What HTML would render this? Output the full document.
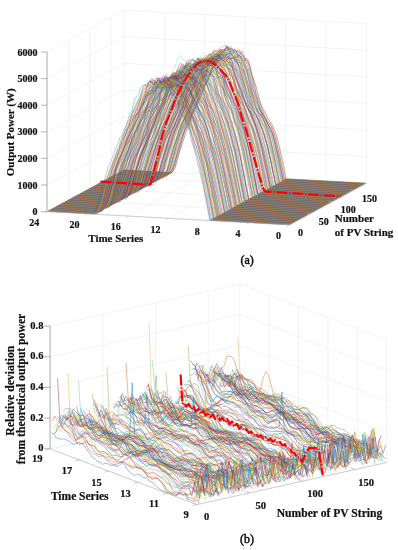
<!DOCTYPE html>
<html><head><meta charset="utf-8"><style>
html,body{margin:0;padding:0;background:#fff;width:398px;height:550px;overflow:hidden}
svg{display:block}
</style></head><body><svg width="398" height="550" viewBox="0 0 398 550"><g fill="none"><line x1="47.0" y1="211.6" x2="124.0" y2="169.8" stroke="#e6e6e6" stroke-width="0.5"/><line x1="124.0" y1="169.8" x2="366.4" y2="183.1" stroke="#e6e6e6" stroke-width="0.5"/><line x1="47.0" y1="185.0" x2="124.0" y2="143.2" stroke="#e6e6e6" stroke-width="0.5"/><line x1="124.0" y1="143.2" x2="366.4" y2="156.5" stroke="#e6e6e6" stroke-width="0.5"/><line x1="47.0" y1="158.4" x2="124.0" y2="116.6" stroke="#e6e6e6" stroke-width="0.5"/><line x1="124.0" y1="116.6" x2="366.4" y2="129.9" stroke="#e6e6e6" stroke-width="0.5"/><line x1="47.0" y1="131.8" x2="124.0" y2="90.0" stroke="#e6e6e6" stroke-width="0.5"/><line x1="124.0" y1="90.0" x2="366.4" y2="103.3" stroke="#e6e6e6" stroke-width="0.5"/><line x1="47.0" y1="105.2" x2="124.0" y2="63.4" stroke="#e6e6e6" stroke-width="0.5"/><line x1="124.0" y1="63.4" x2="366.4" y2="76.7" stroke="#e6e6e6" stroke-width="0.5"/><line x1="47.0" y1="78.6" x2="124.0" y2="36.8" stroke="#e6e6e6" stroke-width="0.5"/><line x1="124.0" y1="36.8" x2="366.4" y2="50.1" stroke="#e6e6e6" stroke-width="0.5"/><line x1="47.0" y1="52.0" x2="124.0" y2="10.2" stroke="#e6e6e6" stroke-width="0.5"/><line x1="124.0" y1="10.2" x2="366.4" y2="23.5" stroke="#e6e6e6" stroke-width="0.5"/><line x1="47.0" y1="211.6" x2="47.0" y2="52.0" stroke="#e6e6e6" stroke-width="0.5"/><line x1="47.0" y1="211.6" x2="289.4" y2="224.9" stroke="#e6e6e6" stroke-width="0.5"/><line x1="68.4" y1="200.0" x2="68.4" y2="40.4" stroke="#e6e6e6" stroke-width="0.5"/><line x1="68.4" y1="200.0" x2="310.8" y2="213.3" stroke="#e6e6e6" stroke-width="0.5"/><line x1="89.8" y1="188.4" x2="89.8" y2="28.8" stroke="#e6e6e6" stroke-width="0.5"/><line x1="89.8" y1="188.4" x2="332.2" y2="201.7" stroke="#e6e6e6" stroke-width="0.5"/><line x1="111.2" y1="176.8" x2="111.2" y2="17.2" stroke="#e6e6e6" stroke-width="0.5"/><line x1="111.2" y1="176.8" x2="353.6" y2="190.1" stroke="#e6e6e6" stroke-width="0.5"/><line x1="366.4" y1="183.1" x2="366.4" y2="23.5" stroke="#e6e6e6" stroke-width="0.5"/><line x1="289.4" y1="224.9" x2="366.4" y2="183.1" stroke="#e6e6e6" stroke-width="0.5"/><line x1="326.0" y1="180.9" x2="326.0" y2="21.3" stroke="#e6e6e6" stroke-width="0.5"/><line x1="249.0" y1="222.7" x2="326.0" y2="180.9" stroke="#e6e6e6" stroke-width="0.5"/><line x1="285.6" y1="178.7" x2="285.6" y2="19.1" stroke="#e6e6e6" stroke-width="0.5"/><line x1="208.6" y1="220.5" x2="285.6" y2="178.7" stroke="#e6e6e6" stroke-width="0.5"/><line x1="245.2" y1="176.5" x2="245.2" y2="16.9" stroke="#e6e6e6" stroke-width="0.5"/><line x1="168.2" y1="218.2" x2="245.2" y2="176.5" stroke="#e6e6e6" stroke-width="0.5"/><line x1="204.8" y1="174.3" x2="204.8" y2="14.7" stroke="#e6e6e6" stroke-width="0.5"/><line x1="127.8" y1="216.0" x2="204.8" y2="174.3" stroke="#e6e6e6" stroke-width="0.5"/><line x1="164.4" y1="172.1" x2="164.4" y2="12.5" stroke="#e6e6e6" stroke-width="0.5"/><line x1="87.4" y1="213.8" x2="164.4" y2="172.1" stroke="#e6e6e6" stroke-width="0.5"/><line x1="124.0" y1="169.8" x2="124.0" y2="10.2" stroke="#e6e6e6" stroke-width="0.5"/><line x1="47.0" y1="211.6" x2="124.0" y2="169.8" stroke="#e6e6e6" stroke-width="0.5"/><line x1="50.1" y1="448.8" x2="239.8" y2="406.7" stroke="#e6e6e6" stroke-width="0.5"/><line x1="239.8" y1="406.7" x2="386.6" y2="462.5" stroke="#e6e6e6" stroke-width="0.5"/><line x1="50.1" y1="418.1" x2="239.8" y2="376.0" stroke="#e6e6e6" stroke-width="0.5"/><line x1="239.8" y1="376.0" x2="386.6" y2="431.8" stroke="#e6e6e6" stroke-width="0.5"/><line x1="50.1" y1="387.4" x2="239.8" y2="345.3" stroke="#e6e6e6" stroke-width="0.5"/><line x1="239.8" y1="345.3" x2="386.6" y2="401.1" stroke="#e6e6e6" stroke-width="0.5"/><line x1="50.1" y1="356.8" x2="239.8" y2="314.6" stroke="#e6e6e6" stroke-width="0.5"/><line x1="239.8" y1="314.6" x2="386.6" y2="370.4" stroke="#e6e6e6" stroke-width="0.5"/><line x1="50.1" y1="326.1" x2="239.8" y2="284.0" stroke="#e6e6e6" stroke-width="0.5"/><line x1="239.8" y1="284.0" x2="386.6" y2="339.8" stroke="#e6e6e6" stroke-width="0.5"/><line x1="50.1" y1="448.8" x2="50.1" y2="326.1" stroke="#e6e6e6" stroke-width="0.5"/><line x1="50.1" y1="448.8" x2="196.9" y2="504.6" stroke="#e6e6e6" stroke-width="0.5"/><line x1="102.8" y1="437.1" x2="102.8" y2="314.4" stroke="#e6e6e6" stroke-width="0.5"/><line x1="102.8" y1="437.1" x2="249.6" y2="492.9" stroke="#e6e6e6" stroke-width="0.5"/><line x1="155.5" y1="425.4" x2="155.5" y2="302.7" stroke="#e6e6e6" stroke-width="0.5"/><line x1="155.5" y1="425.4" x2="302.3" y2="481.2" stroke="#e6e6e6" stroke-width="0.5"/><line x1="208.2" y1="413.7" x2="208.2" y2="291.0" stroke="#e6e6e6" stroke-width="0.5"/><line x1="208.2" y1="413.7" x2="355.0" y2="469.5" stroke="#e6e6e6" stroke-width="0.5"/><line x1="386.6" y1="462.5" x2="386.6" y2="339.8" stroke="#e6e6e6" stroke-width="0.5"/><line x1="196.9" y1="504.6" x2="386.6" y2="462.5" stroke="#e6e6e6" stroke-width="0.5"/><line x1="357.3" y1="451.3" x2="357.3" y2="328.6" stroke="#e6e6e6" stroke-width="0.5"/><line x1="167.5" y1="493.4" x2="357.3" y2="451.3" stroke="#e6e6e6" stroke-width="0.5"/><line x1="327.9" y1="440.2" x2="327.9" y2="317.4" stroke="#e6e6e6" stroke-width="0.5"/><line x1="138.2" y1="482.3" x2="327.9" y2="440.2" stroke="#e6e6e6" stroke-width="0.5"/><line x1="298.5" y1="429.0" x2="298.5" y2="306.3" stroke="#e6e6e6" stroke-width="0.5"/><line x1="108.8" y1="471.1" x2="298.5" y2="429.0" stroke="#e6e6e6" stroke-width="0.5"/><line x1="269.2" y1="417.8" x2="269.2" y2="295.1" stroke="#e6e6e6" stroke-width="0.5"/><line x1="79.5" y1="460.0" x2="269.2" y2="417.8" stroke="#e6e6e6" stroke-width="0.5"/><line x1="239.8" y1="406.7" x2="239.8" y2="284.0" stroke="#e6e6e6" stroke-width="0.5"/><line x1="50.1" y1="448.8" x2="239.8" y2="406.7" stroke="#e6e6e6" stroke-width="0.5"/></g><polygon points="47.0,211.6 95.0,214.2 172.0,172.5 124.0,169.8" fill="#8a7866"/><polygon points="209.6,220.5 289.4,224.9 366.4,183.1 286.6,178.8" fill="#8a7866"/><g fill="none" stroke-width="0.4" stroke-opacity="0.85" stroke-linejoin="round"><polyline points="124.0,169.8 171.8,172.5 173.5,170.3 175.2,167.2 176.9,162.1 178.6,155.7 180.3,150.0 181.9,145.0 183.6,140.3 185.3,135.1 187.0,129.6 188.7,125.6 190.4,120.7 192.0,117.4 193.7,111.9 195.4,109.1 197.1,104.5 198.8,100.6 200.5,98.2 202.1,93.4 203.8,88.1 205.5,84.6 207.2,82.0 208.9,77.9 210.6,74.4 212.2,68.4 213.9,64.2 215.6,62.2 217.3,62.9 219.0,59.5 220.7,56.1 222.3,51.6 224.0,51.2 225.7,49.1 227.4,48.2 229.1,48.4 230.8,50.2 232.4,51.7 234.1,51.7 235.8,53.3 237.5,55.1 239.2,56.2 240.9,54.0 242.5,50.5 244.2,54.9 245.9,60.8 247.6,63.0 249.3,65.6 251.0,74.1 252.6,77.9 254.3,81.2 256.0,86.1 257.7,91.3 259.4,99.0 261.1,104.3 262.7,107.7 264.4,109.8 266.1,114.1 267.8,117.4 269.5,120.3 271.2,123.5 272.8,126.3 274.5,131.0 276.2,134.9 277.9,140.0 279.6,146.4 281.3,153.9 282.9,161.8 284.6,170.1 286.3,178.5 286.3,178.7 366.4,183.1" stroke="#77AC30"/><polyline points="123.6,170.1 171.8,172.7 173.4,170.5 175.1,167.3 176.8,161.9 178.5,155.4 180.2,149.5 181.9,144.2 183.5,139.5 185.2,134.5 186.9,129.6 188.6,126.0 190.3,121.9 192.0,116.8 193.6,112.0 195.3,109.0 197.0,105.2 198.7,102.2 200.4,97.5 202.1,94.1 203.7,88.8 205.4,84.0 207.1,80.4 208.8,75.4 210.5,71.0 212.2,69.1 213.8,66.7 215.5,62.9 217.2,60.1 218.9,60.3 220.6,56.5 222.3,53.3 223.9,50.8 225.6,51.9 227.3,50.7 229.0,47.8 230.7,51.9 232.4,53.3 234.0,54.5 235.7,57.7 237.4,58.0 239.1,53.1 240.8,52.0 242.5,54.4 244.1,58.8 245.8,59.0 247.5,58.3 249.2,62.3 250.9,69.9 252.6,76.0 254.2,81.3 255.9,86.4 257.6,93.0 259.3,99.4 261.0,104.7 262.7,108.6 264.3,111.5 266.0,114.5 267.7,118.1 269.4,120.8 271.1,123.1 272.8,126.4 274.4,129.4 276.1,134.8 277.8,141.0 279.5,148.9 281.2,156.8 282.9,164.5 284.5,172.5 285.8,179.0 366.0,183.4" stroke="#7E2F8E"/><polyline points="123.2,170.3 169.9,172.9 171.6,170.7 173.2,167.7 174.9,162.9 176.6,156.5 178.3,150.2 180.0,145.4 181.7,139.2 183.3,135.1 185.0,131.0 186.7,127.4 188.4,122.2 190.1,119.0 191.8,115.3 193.4,108.7 195.1,103.6 196.8,100.6 198.5,98.6 200.2,96.7 201.9,90.9 203.5,84.4 205.2,80.4 206.9,77.9 208.6,77.0 210.3,75.0 212.0,72.9 213.6,67.4 215.3,62.5 217.0,61.1 218.7,57.8 220.4,55.6 222.1,56.9 223.7,56.8 225.4,54.9 227.1,54.9 228.8,53.8 230.5,54.9 232.2,54.9 233.8,56.3 235.5,56.7 237.2,54.8 238.9,54.2 240.6,57.3 242.3,58.3 243.9,60.1 245.6,62.5 247.3,62.1 249.0,65.9 250.7,70.2 252.4,77.0 254.0,84.8 255.7,90.0 257.4,95.9 259.1,100.6 260.8,104.8 262.5,108.5 264.1,112.7 265.8,115.9 267.5,118.1 269.2,119.5 270.9,122.7 272.6,126.1 274.2,130.5 275.9,135.2 277.6,140.5 279.3,147.2 281.0,154.8 282.7,161.2 284.3,168.9 286.0,177.1 286.5,179.3 365.6,183.6" stroke="#EDB120"/><polyline points="122.8,170.5 169.7,173.1 171.4,170.9 173.1,167.6 174.8,162.3 176.4,156.0 178.1,150.0 179.8,145.0 181.5,139.4 183.2,134.0 184.9,128.4 186.5,124.6 188.2,121.3 189.9,117.7 191.6,114.2 193.3,110.8 195.0,108.1 196.6,102.7 198.3,97.8 200.0,93.2 201.7,91.6 203.4,88.7 205.1,84.7 206.7,81.3 208.4,79.7 210.1,74.0 211.8,66.9 213.5,64.5 215.2,62.5 216.8,60.6 218.5,57.2 220.2,57.5 221.9,55.2 223.6,51.0 225.3,50.4 226.9,46.3 228.6,47.4 230.3,48.4 232.0,48.9 233.7,50.7 235.4,53.5 237.0,51.6 238.7,51.0 240.4,51.1 242.1,54.8 243.8,57.6 245.5,60.7 247.1,60.0 248.8,65.6 250.5,71.6 252.2,78.8 253.9,86.7 255.6,93.0 257.2,97.3 258.9,103.2 260.6,108.9 262.3,112.5 264.0,116.2 265.7,118.4 267.3,121.9 269.0,122.7 270.7,125.4 272.4,129.3 274.1,133.7 275.8,139.0 277.4,145.5 279.1,153.2 280.8,160.8 282.5,168.5 284.2,176.7 284.7,179.4 365.2,183.8" stroke="#D95319"/><polyline points="122.3,170.8 169.9,173.4 171.5,171.2 173.2,167.9 174.9,162.6 176.6,156.1 178.3,150.2 180.0,144.5 181.6,139.5 183.3,134.5 185.0,129.7 186.7,126.0 188.4,121.9 190.1,119.6 191.7,115.6 193.4,110.9 195.1,107.2 196.8,102.6 198.5,97.2 200.2,91.1 201.8,88.7 203.5,86.4 205.2,84.7 206.9,81.5 208.6,78.6 210.3,73.8 211.9,70.2 213.6,67.9 215.3,65.5 217.0,61.5 218.7,56.7 220.4,53.6 222.0,53.7 223.7,52.1 225.4,50.3 227.1,50.7 228.8,49.7 230.5,51.7 232.1,51.6 233.8,52.8 235.5,53.4 237.2,55.3 238.9,55.4 240.6,56.6 242.2,56.6 243.9,58.7 245.6,66.7 247.3,69.5 249.0,74.0 250.7,77.8 252.3,84.5 254.0,90.9 255.7,96.1 257.4,101.2 259.1,106.4 260.8,109.5 262.4,112.1 264.1,116.1 265.8,119.7 267.5,123.9 269.2,127.0 270.9,130.1 272.5,134.2 274.2,139.6 275.9,145.7 277.6,152.7 279.3,159.9 281.0,167.8 282.6,175.6 283.5,179.6 364.7,184.1" stroke="#0072BD"/><polyline points="121.9,171.0 170.9,173.7 172.6,171.4 174.3,167.9 176.0,162.0 177.7,155.6 179.4,150.6 181.0,145.1 182.7,138.7 184.4,132.6 186.1,128.6 187.8,124.5 189.5,119.7 191.1,115.4 192.8,111.9 194.5,108.8 196.2,105.9 197.9,101.2 199.6,97.4 201.2,91.3 202.9,88.6 204.6,84.7 206.3,80.1 208.0,77.7 209.7,76.7 211.3,71.5 213.0,65.9 214.7,62.3 216.4,58.8 218.1,55.3 219.8,54.1 221.4,50.1 223.1,52.5 224.8,49.9 226.5,48.5 228.2,49.6 229.9,49.9 231.5,49.7 233.2,50.3 234.9,49.3 236.6,51.9 238.3,51.0 240.0,53.3 241.6,54.3 243.3,55.4 245.0,58.2 246.7,60.2 248.4,61.8 250.1,67.5 251.7,74.7 253.4,80.5 255.1,88.7 256.8,97.3 258.5,101.0 260.2,104.1 261.8,109.0 263.5,113.3 265.2,117.1 266.9,120.1 268.6,122.6 270.3,125.0 271.9,127.9 273.6,132.5 275.3,137.5 277.0,144.3 278.7,151.9 280.4,159.9 282.0,167.5 283.7,175.6 284.6,179.9 364.3,184.3" stroke="#A2142F"/><polyline points="121.5,171.2 169.1,173.8 170.8,171.6 172.5,168.1 174.1,162.5 175.8,156.0 177.5,150.4 179.2,144.7 180.9,139.7 182.6,135.4 184.2,130.5 185.9,126.5 187.6,122.5 189.3,117.6 191.0,112.3 192.7,107.9 194.3,106.3 196.0,102.2 197.7,97.7 199.4,93.4 201.1,88.8 202.8,86.0 204.4,85.2 206.1,82.8 207.8,75.9 209.5,72.4 211.2,69.7 212.9,66.6 214.5,63.2 216.2,60.1 217.9,55.9 219.6,56.0 221.3,56.6 223.0,56.2 224.6,53.7 226.3,53.0 228.0,53.2 229.7,53.2 231.4,49.3 233.1,53.0 234.7,52.1 236.4,53.5 238.1,54.3 239.8,55.9 241.5,58.6 243.2,59.8 244.8,62.5 246.5,65.7 248.2,68.9 249.9,72.9 251.6,79.1 253.3,85.1 254.9,91.2 256.6,95.8 258.3,100.5 260.0,106.0 261.7,111.3 263.4,114.8 265.0,118.0 266.7,120.0 268.4,123.9 270.1,126.2 271.8,130.6 273.5,135.0 275.1,140.3 276.8,146.4 278.5,153.4 280.2,161.1 281.9,169.4 283.6,177.9 284.0,180.1 363.9,184.5" stroke="#4DBEEE"/><polyline points="121.0,171.5 169.6,174.1 171.3,171.8 173.0,168.5 174.7,163.3 176.3,157.2 178.0,151.2 179.7,145.5 181.4,140.7 183.1,136.0 184.8,130.7 186.4,126.5 188.1,122.2 189.8,118.9 191.5,115.7 193.2,112.0 194.9,108.4 196.5,104.7 198.2,102.3 199.9,98.0 201.6,95.0 203.3,91.3 205.0,88.5 206.6,83.3 208.3,77.4 210.0,73.3 211.7,69.6 213.4,68.9 215.1,65.0 216.7,60.3 218.4,58.3 220.1,56.9 221.8,53.6 223.5,57.3 225.2,56.4 226.8,57.7 228.5,57.7 230.2,53.0 231.9,55.4 233.6,57.6 235.3,55.3 236.9,56.0 238.6,57.1 240.3,59.4 242.0,61.3 243.7,64.1 245.4,66.7 247.0,69.3 248.7,76.7 250.4,81.8 252.1,88.2 253.8,91.8 255.5,98.9 257.1,104.3 258.8,106.9 260.5,111.6 262.2,113.8 263.9,116.4 265.6,120.0 267.2,123.4 268.9,127.0 270.6,130.4 272.3,134.4 274.0,139.1 275.7,144.4 277.3,151.3 279.0,159.0 280.7,167.1 282.4,175.3 283.4,180.4 363.4,184.8" stroke="#77AC30"/><polyline points="120.6,171.7 169.1,174.4 170.8,172.1 172.5,168.8 174.2,163.6 175.9,157.7 177.5,151.8 179.2,145.7 180.9,140.3 182.6,135.2 184.3,130.3 186.0,124.5 187.6,121.0 189.3,117.2 191.0,114.3 192.7,110.4 194.4,105.8 196.1,102.6 197.7,98.5 199.4,92.9 201.1,87.2 202.8,85.3 204.5,82.6 206.2,77.8 207.8,72.9 209.5,70.5 211.2,69.3 212.9,64.9 214.6,61.2 216.3,58.7 217.9,57.1 219.6,56.3 221.3,53.3 223.0,50.5 224.7,52.5 226.4,52.4 228.0,53.9 229.7,53.4 231.4,55.3 233.1,55.9 234.8,57.9 236.5,57.2 238.1,56.0 239.8,55.5 241.5,58.5 243.2,61.0 244.9,59.3 246.6,63.1 248.2,67.6 249.9,76.5 251.6,84.2 253.3,90.7 255.0,94.1 256.7,99.6 258.3,105.4 260.0,110.9 261.7,112.8 263.4,115.5 265.1,117.4 266.8,121.1 268.4,125.3 270.1,127.9 271.8,131.5 273.5,136.1 275.2,142.4 276.9,149.9 278.5,157.8 280.2,165.6 281.9,173.4 283.4,180.6 363.0,185.0" stroke="#7E2F8E"/><polyline points="120.2,171.9 166.6,174.5 168.3,172.4 170.0,169.1 171.7,164.1 173.4,157.6 175.1,152.3 176.7,146.4 178.4,140.9 180.1,135.3 181.8,130.1 183.5,126.1 185.2,122.5 186.8,116.7 188.5,113.6 190.2,109.4 191.9,105.4 193.6,101.4 195.3,99.8 196.9,96.0 198.6,92.8 200.3,87.6 202.0,85.5 203.7,80.8 205.4,75.2 207.0,74.6 208.7,73.4 210.4,67.5 212.1,64.5 213.8,63.4 215.5,61.3 217.1,61.7 218.8,56.6 220.5,54.5 222.2,55.8 223.9,56.4 225.6,54.2 227.2,53.0 228.9,54.2 230.6,54.3 232.3,55.8 234.0,53.4 235.7,56.4 237.3,59.4 239.0,60.3 240.7,61.8 242.4,59.5 244.1,62.9 245.8,71.4 247.4,78.4 249.1,81.2 250.8,84.5 252.5,91.7 254.2,98.2 255.9,104.7 257.5,110.5 259.2,114.9 260.9,118.6 262.6,120.8 264.3,121.9 266.0,124.6 267.6,128.1 269.3,132.6 271.0,135.9 272.7,141.2 274.4,148.6 276.1,156.4 277.7,163.7 279.4,171.6 281.1,180.0 281.3,180.8 362.6,185.2" stroke="#EDB120"/><polyline points="119.8,172.2 166.0,174.7 167.7,172.4 169.4,169.2 171.1,164.1 172.8,157.3 174.5,150.8 176.1,144.8 177.8,138.9 179.5,134.3 181.2,130.4 182.9,126.3 184.6,122.9 186.2,118.1 187.9,113.4 189.6,107.4 191.3,105.0 193.0,102.9 194.7,98.4 196.3,94.4 198.0,92.2 199.7,88.3 201.4,83.9 203.1,79.8 204.8,76.1 206.4,71.0 208.1,63.0 209.8,60.3 211.5,59.0 213.2,56.6 214.9,52.1 216.5,49.9 218.2,52.0 219.9,49.7 221.6,47.0 223.3,46.4 225.0,45.1 226.6,46.5 228.3,46.5 230.0,48.1 231.7,48.7 233.4,49.7 235.1,50.6 236.7,50.0 238.4,49.0 240.1,52.8 241.8,57.4 243.5,63.7 245.2,67.2 246.8,70.9 248.5,76.0 250.2,83.9 251.9,89.0 253.6,94.9 255.3,101.0 256.9,104.3 258.6,107.6 260.3,113.3 262.0,117.3 263.7,117.9 265.4,120.8 267.0,124.4 268.7,126.8 270.4,131.0 272.1,135.2 273.8,140.6 275.5,147.9 277.1,155.4 278.8,163.2 280.5,171.4 282.2,179.6 282.5,181.1 362.2,185.5" stroke="#D95319"/><polyline points="119.3,172.4 166.2,175.0 167.9,172.7 169.6,169.2 171.3,163.9 172.9,157.9 174.6,152.1 176.3,145.7 178.0,140.0 179.7,135.5 181.4,130.9 183.0,125.7 184.7,121.3 186.4,116.6 188.1,113.9 189.8,110.2 191.5,105.1 193.1,101.0 194.8,99.6 196.5,98.6 198.2,93.3 199.9,86.8 201.6,79.9 203.2,78.3 204.9,74.4 206.6,69.6 208.3,64.7 210.0,61.2 211.7,60.2 213.3,57.9 215.0,57.1 216.7,54.1 218.4,54.8 220.1,54.1 221.8,53.1 223.4,52.5 225.1,48.4 226.8,45.7 228.5,51.5 230.2,51.9 231.9,52.0 233.5,51.8 235.2,50.7 236.9,51.7 238.6,54.3 240.3,55.8 242.0,63.1 243.6,64.7 245.3,67.6 247.0,73.2 248.7,78.3 250.4,83.3 252.1,92.2 253.7,100.8 255.4,105.5 257.1,109.3 258.8,108.4 260.5,110.4 262.2,115.9 263.8,120.0 265.5,123.9 267.2,125.9 268.9,129.1 270.6,133.6 272.3,139.0 273.9,146.1 275.6,153.5 277.3,161.3 279.0,169.0 280.7,177.6 281.4,181.3 361.7,185.7" stroke="#0072BD"/><polyline points="118.9,172.6 167.6,175.3 169.3,173.0 171.0,169.3 172.7,163.7 174.4,157.2 176.1,151.4 177.7,146.6 179.4,140.7 181.1,135.7 182.8,131.3 184.5,127.2 186.2,122.7 187.8,118.8 189.5,114.4 191.2,109.2 192.9,105.5 194.6,100.6 196.3,97.6 197.9,92.5 199.6,88.9 201.3,85.8 203.0,83.8 204.7,78.4 206.4,73.1 208.0,68.2 209.7,66.3 211.4,65.6 213.1,63.9 214.8,58.8 216.5,56.0 218.1,54.5 219.8,52.3 221.5,50.6 223.2,49.5 224.9,50.2 226.6,47.1 228.2,47.1 229.9,49.6 231.6,48.2 233.3,50.6 235.0,49.5 236.7,52.1 238.3,56.9 240.0,58.3 241.7,59.4 243.4,61.2 245.1,64.6 246.8,69.3 248.4,79.2 250.1,86.9 251.8,92.0 253.5,95.8 255.2,99.6 256.9,102.3 258.5,106.1 260.2,110.3 261.9,113.6 263.6,116.7 265.3,119.1 267.0,122.1 268.6,125.0 270.3,128.1 272.0,132.1 273.7,137.6 275.4,145.8 277.1,153.5 278.7,161.5 280.4,169.9 282.1,178.3 282.7,181.6 361.3,185.9" stroke="#A2142F"/><polyline points="118.5,172.9 166.2,175.5 167.9,173.3 169.6,170.1 171.3,164.9 172.9,158.5 174.6,152.3 176.3,146.7 178.0,140.5 179.7,135.7 181.4,131.4 183.0,127.5 184.7,123.4 186.4,118.7 188.1,115.0 189.8,112.6 191.5,108.6 193.1,105.6 194.8,101.7 196.5,97.7 198.2,95.1 199.9,90.6 201.6,85.3 203.2,80.1 204.9,77.7 206.6,77.2 208.3,72.6 210.0,69.6 211.7,65.5 213.3,61.3 215.0,58.1 216.7,54.1 218.4,54.8 220.1,55.0 221.8,51.9 223.4,52.8 225.1,51.5 226.8,53.7 228.5,51.0 230.2,51.3 231.9,50.8 233.5,50.3 235.2,50.7 236.9,53.8 238.6,54.7 240.3,58.1 242.0,60.7 243.6,64.9 245.3,71.0 247.0,76.3 248.7,81.2 250.4,88.8 252.1,95.1 253.7,98.5 255.4,102.4 257.1,107.9 258.8,112.3 260.5,113.5 262.2,116.9 263.8,118.8 265.5,123.1 267.2,127.1 268.9,130.6 270.6,134.1 272.3,139.5 273.9,145.6 275.6,152.4 277.3,159.8 279.0,167.6 280.7,175.8 281.9,181.8 360.9,186.2" stroke="#4DBEEE"/><polyline points="118.0,173.1 164.5,175.6 166.2,173.4 167.9,170.0 169.6,164.8 171.2,158.5 172.9,152.4 174.6,146.2 176.3,141.0 178.0,136.5 179.7,132.7 181.3,127.8 183.0,123.1 184.7,118.3 186.4,113.8 188.1,110.8 189.8,107.3 191.4,103.4 193.1,98.9 194.8,94.6 196.5,90.7 198.2,86.7 199.9,82.3 201.5,78.8 203.2,76.3 204.9,73.5 206.6,69.4 208.3,66.1 210.0,63.4 211.6,61.3 213.3,57.0 215.0,54.0 216.7,55.0 218.4,56.1 220.1,55.0 221.7,54.8 223.4,54.6 225.1,51.8 226.8,50.9 228.5,48.9 230.2,46.3 231.8,46.9 233.5,53.2 235.2,55.3 236.9,57.7 238.6,59.6 240.3,63.6 241.9,63.9 243.6,68.9 245.3,74.3 247.0,80.8 248.7,86.6 250.4,92.1 252.0,96.3 253.7,99.6 255.4,104.6 257.1,108.8 258.8,112.0 260.5,115.7 262.1,118.3 263.8,121.0 265.5,123.3 267.2,128.3 268.9,132.7 270.6,138.7 272.2,144.5 273.9,151.2 275.6,158.5 277.3,166.0 279.0,174.1 280.5,182.0 360.4,186.4" stroke="#77AC30"/><polyline points="117.6,173.3 163.9,175.9 165.6,173.7 167.3,170.5 168.9,165.4 170.6,159.2 172.3,152.8 174.0,147.2 175.7,141.6 177.4,137.4 179.0,133.0 180.7,129.1 182.4,124.3 184.1,119.6 185.8,114.3 187.5,109.9 189.1,104.9 190.8,101.6 192.5,99.9 194.2,98.0 195.9,93.0 197.6,86.6 199.2,80.2 200.9,77.2 202.6,75.7 204.3,73.4 206.0,69.3 207.7,66.3 209.3,62.3 211.0,58.1 212.7,57.8 214.4,55.5 216.1,53.3 217.8,54.1 219.4,50.7 221.1,50.5 222.8,49.6 224.5,49.5 226.2,46.9 227.9,48.2 229.5,50.4 231.2,54.4 232.9,56.1 234.6,60.0 236.3,59.5 238.0,59.4 239.6,61.6 241.3,62.4 243.0,68.4 244.7,74.0 246.4,78.8 248.1,83.3 249.7,87.2 251.4,92.5 253.1,99.9 254.8,104.3 256.5,109.2 258.2,112.6 259.8,116.6 261.5,121.0 263.2,124.2 264.9,126.0 266.6,130.1 268.3,135.2 269.9,140.3 271.6,147.0 273.3,154.5 275.0,162.2 276.7,169.8 278.4,177.8 279.2,182.2 360.0,186.6" stroke="#7E2F8E"/><polyline points="117.2,173.6 167.2,176.3 168.9,173.9 170.6,170.3 172.3,164.9 173.9,158.3 175.6,153.0 177.3,147.5 179.0,141.5 180.7,136.5 182.4,132.2 184.0,128.2 185.7,124.0 187.4,118.3 189.1,114.4 190.8,111.1 192.5,105.1 194.1,98.7 195.8,95.6 197.5,92.6 199.2,87.9 200.9,82.3 202.6,82.1 204.2,79.6 205.9,75.6 207.6,70.6 209.3,65.9 211.0,63.3 212.7,62.2 214.3,60.2 216.0,59.2 217.7,58.4 219.4,54.8 221.1,55.0 222.8,51.7 224.4,52.2 226.1,52.8 227.8,53.2 229.5,53.3 231.2,54.5 232.9,54.6 234.5,54.4 236.2,55.5 237.9,58.1 239.6,59.6 241.3,60.7 243.0,64.8 244.6,73.0 246.3,79.1 248.0,83.9 249.7,90.8 251.4,96.2 253.1,98.8 254.7,102.9 256.4,106.9 258.1,110.9 259.8,114.3 261.5,117.6 263.2,119.9 264.8,123.8 266.5,127.8 268.2,132.6 269.9,138.0 271.6,144.8 273.3,152.8 274.9,161.4 276.6,169.6 278.3,177.9 279.2,182.4 359.6,186.8" stroke="#EDB120"/><polyline points="116.8,173.8 164.5,176.4 166.2,174.0 167.8,170.6 169.5,165.3 171.2,159.0 172.9,153.1 174.6,147.2 176.3,141.0 177.9,135.4 179.6,129.1 181.3,125.1 183.0,121.8 184.7,118.1 186.4,114.4 188.0,109.8 189.7,106.0 191.4,100.7 193.1,96.0 194.8,92.6 196.5,88.5 198.1,82.9 199.8,80.8 201.5,77.5 203.2,72.9 204.9,68.9 206.6,66.3 208.2,64.6 209.9,62.1 211.6,62.5 213.3,58.0 215.0,54.8 216.7,53.9 218.3,54.5 220.0,52.5 221.7,49.0 223.4,50.3 225.1,50.2 226.8,49.7 228.4,51.5 230.1,54.2 231.8,53.3 233.5,52.6 235.2,51.0 236.9,52.4 238.5,57.4 240.2,62.2 241.9,66.2 243.6,69.5 245.3,76.0 247.0,82.0 248.6,85.5 250.3,90.2 252.0,97.3 253.7,100.9 255.4,107.1 257.1,111.1 258.7,112.5 260.4,114.5 262.1,117.6 263.8,120.0 265.5,124.8 267.2,128.3 268.8,132.6 270.5,139.4 272.2,146.4 273.9,154.2 275.6,162.1 277.3,170.8 278.9,179.1 279.7,182.7 359.2,187.1" stroke="#D95319"/><polyline points="116.3,174.0 163.7,176.6 165.4,174.4 167.0,171.1 168.7,166.0 170.4,159.6 172.1,153.2 173.8,147.6 175.5,142.3 177.1,138.2 178.8,133.0 180.5,129.3 182.2,124.9 183.9,120.6 185.6,117.7 187.2,115.1 188.9,112.0 190.6,107.1 192.3,103.6 194.0,100.4 195.7,97.9 197.3,92.1 199.0,86.6 200.7,84.1 202.4,80.7 204.1,79.0 205.8,76.0 207.4,71.2 209.1,66.7 210.8,62.1 212.5,59.4 214.2,58.7 215.9,57.1 217.5,55.1 219.2,53.6 220.9,51.0 222.6,53.9 224.3,54.9 226.0,57.1 227.6,58.2 229.3,55.5 231.0,58.2 232.7,61.5 234.4,60.7 236.1,60.3 237.7,60.6 239.4,67.3 241.1,68.5 242.8,70.5 244.5,79.0 246.2,83.8 247.8,87.5 249.5,93.6 251.2,100.9 252.9,106.0 254.6,108.3 256.3,110.4 257.9,115.6 259.6,119.8 261.3,122.5 263.0,124.5 264.7,128.2 266.4,131.9 268.0,137.3 269.7,142.4 271.4,148.9 273.1,156.9 274.8,165.2 276.5,172.9 278.1,180.9 278.5,182.9 358.7,187.3" stroke="#0072BD"/><polyline points="115.9,174.2 165.9,177.0 167.6,174.7 169.3,171.2 171.0,165.7 172.7,159.2 174.4,153.7 176.0,147.3 177.7,141.8 179.4,136.0 181.1,132.1 182.8,128.8 184.5,124.7 186.1,120.6 187.8,115.7 189.5,111.7 191.2,108.7 192.9,103.5 194.6,97.8 196.2,95.2 197.9,93.2 199.6,87.9 201.3,84.2 203.0,78.8 204.7,75.5 206.3,70.0 208.0,66.4 209.7,62.2 211.4,60.6 213.1,62.3 214.8,59.5 216.4,57.1 218.1,51.9 219.8,52.1 221.5,55.2 223.2,55.4 224.9,53.4 226.5,53.8 228.2,55.6 229.9,58.5 231.6,58.7 233.3,58.1 235.0,58.4 236.6,61.5 238.3,62.4 240.0,62.7 241.7,68.6 243.4,71.4 245.1,76.6 246.7,82.2 248.4,89.1 250.1,95.7 251.8,100.3 253.5,104.4 255.2,106.8 256.8,109.5 258.5,112.1 260.2,114.3 261.9,115.3 263.6,119.2 265.3,124.1 266.9,129.5 268.6,134.7 270.3,139.6 272.0,146.7 273.7,154.1 275.4,162.5 277.0,170.5 278.7,178.9 279.6,183.2 358.3,187.5" stroke="#A2142F"/><polyline points="115.5,174.5 163.5,177.1 165.2,174.8 166.8,171.6 168.5,166.8 170.2,161.0 171.9,155.1 173.6,149.1 175.3,143.5 176.9,138.3 178.6,132.8 180.3,127.8 182.0,123.0 183.7,119.5 185.4,116.9 187.0,114.1 188.7,109.2 190.4,105.8 192.1,101.8 193.8,96.4 195.5,92.9 197.1,88.8 198.8,84.5 200.5,80.0 202.2,79.4 203.9,78.7 205.6,73.5 207.2,67.0 208.9,63.1 210.6,60.6 212.3,60.4 214.0,57.8 215.7,54.8 217.3,55.4 219.0,56.1 220.7,53.2 222.4,53.7 224.1,55.6 225.8,55.0 227.4,52.3 229.1,53.3 230.8,51.7 232.5,52.3 234.2,52.2 235.9,54.9 237.5,58.9 239.2,61.1 240.9,65.6 242.6,64.5 244.3,70.8 246.0,77.2 247.6,85.0 249.3,91.8 251.0,95.5 252.7,100.9 254.4,104.1 256.1,108.0 257.7,108.9 259.4,113.9 261.1,117.3 262.8,120.5 264.5,123.5 266.2,127.1 267.8,129.7 269.5,135.9 271.2,143.5 272.9,151.6 274.6,158.8 276.3,166.2 277.9,174.8 279.6,183.2 279.7,183.5 357.9,187.8" stroke="#4DBEEE"/><polyline points="115.1,174.7 163.5,177.4 165.2,175.1 166.9,171.6 168.6,166.3 170.2,159.9 171.9,153.8 173.6,147.7 175.3,142.1 177.0,137.5 178.7,133.3 180.3,128.4 182.0,123.6 183.7,118.9 185.4,115.5 187.1,112.3 188.8,110.8 190.4,104.8 192.1,100.0 193.8,99.3 195.5,96.6 197.2,90.5 198.9,85.4 200.5,82.2 202.2,78.2 203.9,72.8 205.6,67.6 207.3,66.6 209.0,65.0 210.6,60.6 212.3,54.7 214.0,53.6 215.7,56.1 217.4,60.9 219.1,57.0 220.7,53.6 222.4,53.1 224.1,53.1 225.8,53.1 227.5,52.5 229.2,54.3 230.8,55.1 232.5,58.7 234.2,56.9 235.9,56.7 237.6,64.1 239.3,65.4 240.9,68.9 242.6,75.9 244.3,82.9 246.0,88.0 247.7,90.3 249.4,95.3 251.0,98.7 252.7,103.6 254.4,109.3 256.1,114.0 257.8,118.1 259.5,121.8 261.1,123.6 262.8,126.5 264.5,130.7 266.2,135.5 267.9,142.0 269.6,149.5 271.2,157.2 272.9,165.4 274.6,173.2 276.3,181.3 276.7,183.6 357.5,188.0" stroke="#77AC30"/><polyline points="114.6,174.9 160.3,177.4 161.9,175.2 163.6,171.8 165.3,166.3 167.0,159.7 168.7,154.1 170.4,148.5 172.0,143.1 173.7,138.4 175.4,133.8 177.1,129.9 178.8,125.5 180.5,120.2 182.1,116.9 183.8,114.5 185.5,111.8 187.2,105.8 188.9,101.8 190.6,97.9 192.2,92.8 193.9,88.9 195.6,86.0 197.3,80.4 199.0,78.3 200.7,77.0 202.3,73.0 204.0,70.3 205.7,65.9 207.4,63.6 209.1,62.2 210.8,62.0 212.4,64.3 214.1,62.1 215.8,58.9 217.5,55.6 219.2,55.0 220.9,53.2 222.5,54.6 224.2,57.3 225.9,58.8 227.6,57.5 229.3,57.7 231.0,59.1 232.6,57.7 234.3,58.5 236.0,60.6 237.7,63.8 239.4,68.6 241.1,72.2 242.7,77.9 244.4,83.6 246.1,89.0 247.8,94.3 249.5,98.7 251.2,103.2 252.8,109.5 254.5,115.3 256.2,116.9 257.9,119.2 259.6,122.6 261.3,126.8 262.9,131.1 264.6,136.5 266.3,142.7 268.0,149.0 269.7,156.3 271.4,163.5 273.0,171.6 274.7,180.0 275.5,183.8 357.0,188.2" stroke="#7E2F8E"/><polyline points="114.2,175.2 161.2,177.8 162.9,175.5 164.5,172.1 166.2,167.1 167.9,160.6 169.6,154.8 171.3,149.1 173.0,143.2 174.6,137.0 176.3,132.4 178.0,128.5 179.7,125.8 181.4,122.4 183.1,117.1 184.7,113.1 186.4,110.0 188.1,106.0 189.8,101.6 191.5,96.3 193.2,91.6 194.8,87.4 196.5,87.1 198.2,85.0 199.9,82.3 201.6,78.6 203.3,73.5 204.9,68.7 206.6,63.8 208.3,61.8 210.0,61.1 211.7,61.1 213.4,58.6 215.0,59.9 216.7,55.3 218.4,52.1 220.1,53.9 221.8,50.8 223.5,50.6 225.1,51.8 226.8,54.1 228.5,53.7 230.2,54.8 231.9,55.2 233.6,54.7 235.2,56.4 236.9,58.3 238.6,59.8 240.3,67.2 242.0,72.6 243.7,78.5 245.3,85.3 247.0,91.1 248.7,94.4 250.4,100.0 252.1,103.7 253.8,108.5 255.4,113.0 257.1,116.5 258.8,119.9 260.5,122.4 262.2,126.4 263.9,129.6 265.5,133.8 267.2,137.7 268.9,143.9 270.6,150.7 272.3,158.9 274.0,167.2 275.6,175.6 277.3,184.1 356.6,188.5" stroke="#EDB120"/><polyline points="113.8,175.4 162.7,178.1 164.4,175.9 166.1,172.7 167.8,167.3 169.5,160.9 171.2,154.7 172.8,149.6 174.5,144.3 176.2,139.7 177.9,133.7 179.6,128.3 181.3,123.4 182.9,120.6 184.6,115.6 186.3,113.2 188.0,110.7 189.7,106.5 191.4,101.6 193.0,95.9 194.7,90.3 196.4,87.4 198.1,86.2 199.8,83.0 201.5,78.6 203.1,74.4 204.8,72.6 206.5,70.7 208.2,63.8 209.9,62.4 211.6,59.6 213.2,55.7 214.9,54.9 216.6,54.4 218.3,50.8 220.0,51.2 221.7,54.5 223.3,55.0 225.0,58.7 226.7,60.4 228.4,57.6 230.1,55.5 231.8,57.0 233.4,58.8 235.1,62.1 236.8,64.0 238.5,65.2 240.2,65.5 241.9,70.8 243.5,77.2 245.2,81.4 246.9,85.7 248.6,91.5 250.3,98.6 252.0,105.6 253.6,108.3 255.3,110.9 257.0,111.9 258.7,115.9 260.4,118.8 262.1,121.9 263.7,125.0 265.4,129.1 267.1,135.8 268.8,142.0 270.5,148.2 272.2,155.2 273.8,164.0 275.5,172.4 277.2,181.1 277.8,184.4 356.2,188.7" stroke="#D95319"/><polyline points="113.3,175.6 162.3,178.3 164.0,176.0 165.7,172.6 167.4,167.2 169.1,160.8 170.7,154.3 172.4,148.3 174.1,142.8 175.8,138.6 177.5,134.3 179.2,129.1 180.8,125.3 182.5,121.6 184.2,119.8 185.9,115.6 187.6,111.5 189.3,109.2 190.9,104.8 192.6,99.0 194.3,94.4 196.0,90.3 197.7,84.5 199.4,82.3 201.0,79.8 202.7,77.2 204.4,76.2 206.1,73.9 207.8,67.0 209.5,60.5 211.1,58.8 212.8,58.0 214.5,60.8 216.2,61.3 217.9,58.0 219.6,58.2 221.2,59.5 222.9,60.5 224.6,59.7 226.3,55.2 228.0,58.0 229.7,60.2 231.3,62.9 233.0,63.5 234.7,62.0 236.4,68.4 238.1,71.1 239.8,75.2 241.4,79.4 243.1,81.1 244.8,86.6 246.5,93.9 248.2,97.6 249.9,102.8 251.5,107.0 253.2,111.2 254.9,113.6 256.6,115.6 258.3,118.8 260.0,123.1 261.6,128.1 263.3,132.3 265.0,138.3 266.7,144.1 268.4,150.6 270.1,157.9 271.7,165.4 273.4,173.5 275.1,181.9 275.6,184.5 355.7,188.9" stroke="#0072BD"/><polyline points="112.9,175.9 159.2,178.4 160.9,176.1 162.6,172.7 164.3,167.2 166.0,160.4 167.6,154.9 169.3,149.4 171.0,144.0 172.7,138.5 174.4,132.7 176.1,128.0 177.7,124.2 179.4,120.9 181.1,116.3 182.8,111.7 184.5,108.4 186.2,105.1 187.8,99.6 189.5,95.4 191.2,91.3 192.9,89.2 194.6,84.3 196.3,80.1 197.9,80.1 199.6,80.5 201.3,77.3 203.0,71.0 204.7,67.0 206.4,60.8 208.0,55.5 209.7,54.4 211.4,55.5 213.1,52.2 214.8,49.9 216.5,51.8 218.1,49.6 219.8,48.8 221.5,52.0 223.2,56.0 224.9,55.8 226.6,54.8 228.2,53.8 229.9,52.6 231.6,54.2 233.3,56.9 235.0,57.8 236.7,60.1 238.3,66.0 240.0,70.5 241.7,76.6 243.4,82.6 245.1,88.8 246.8,94.7 248.4,100.9 250.1,103.7 251.8,106.0 253.5,110.5 255.2,113.7 256.9,117.8 258.5,119.9 260.2,124.5 261.9,128.7 263.6,133.0 265.3,138.0 267.0,144.4 268.6,151.7 270.3,160.2 272.0,167.8 273.7,175.7 275.4,184.3 275.5,184.8 355.3,189.2" stroke="#A2142F"/><polyline points="112.5,176.1 158.9,178.7 160.6,176.4 162.3,173.2 164.0,167.8 165.7,161.3 167.4,155.7 169.0,150.5 170.7,145.1 172.4,140.2 174.1,134.7 175.8,130.1 177.5,125.6 179.1,120.4 180.8,117.2 182.5,114.2 184.2,110.9 185.9,103.5 187.6,99.3 189.2,94.7 190.9,91.5 192.6,89.2 194.3,86.5 196.0,83.5 197.7,80.9 199.3,78.9 201.0,73.0 202.7,69.3 204.4,67.5 206.1,65.5 207.8,62.2 209.4,58.9 211.1,58.9 212.8,57.0 214.5,56.2 216.2,55.9 217.9,55.1 219.5,52.4 221.2,50.5 222.9,53.6 224.6,55.9 226.3,55.2 228.0,56.8 229.6,54.7 231.3,53.7 233.0,54.6 234.7,55.6 236.4,58.6 238.1,63.7 239.7,70.8 241.4,76.6 243.1,81.5 244.8,87.0 246.5,90.5 248.2,95.3 249.8,101.4 251.5,106.5 253.2,109.5 254.9,112.2 256.6,115.2 258.3,119.8 259.9,123.8 261.6,127.4 263.3,131.9 265.0,138.0 266.7,143.4 268.4,149.4 270.0,156.3 271.7,164.5 273.4,172.3 275.1,180.7 275.9,185.1 354.9,189.4" stroke="#4DBEEE"/><polyline points="112.1,176.3 159.9,179.0 161.5,176.8 163.2,173.6 164.9,168.4 166.6,162.1 168.3,156.2 170.0,150.8 171.6,145.3 173.3,140.7 175.0,136.4 176.7,132.3 178.4,127.4 180.1,121.9 181.7,117.9 183.4,114.2 185.1,111.1 186.8,104.9 188.5,100.9 190.2,98.0 191.8,94.6 193.5,89.9 195.2,87.3 196.9,84.6 198.6,81.0 200.3,76.3 201.9,71.9 203.6,65.8 205.3,65.5 207.0,64.0 208.7,59.2 210.4,56.1 212.0,56.5 213.7,55.4 215.4,52.6 217.1,54.1 218.8,54.0 220.5,54.7 222.1,52.0 223.8,51.7 225.5,54.7 227.2,55.3 228.9,57.8 230.6,58.1 232.2,60.9 233.9,63.1 235.6,61.8 237.3,62.3 239.0,66.1 240.7,71.8 242.3,78.8 244.0,83.7 245.7,91.1 247.4,96.0 249.1,100.6 250.8,104.1 252.4,107.8 254.1,111.7 255.8,115.2 257.5,119.0 259.2,123.2 260.9,125.2 262.5,129.1 264.2,134.6 265.9,141.4 267.6,147.9 269.3,155.5 271.0,163.4 272.6,171.5 274.3,179.4 275.5,185.3 354.5,189.6" stroke="#77AC30"/><polyline points="111.6,176.6 156.9,179.0 158.5,176.9 160.2,173.9 161.9,169.0 163.6,163.2 165.3,157.6 167.0,152.3 168.6,146.5 170.3,141.4 172.0,136.5 173.7,132.1 175.4,129.0 177.1,126.2 178.7,123.8 180.4,118.8 182.1,113.4 183.8,109.5 185.5,106.6 187.2,101.6 188.8,97.8 190.5,94.5 192.2,92.0 193.9,89.5 195.6,83.7 197.3,79.3 198.9,75.4 200.6,73.2 202.3,69.2 204.0,69.3 205.7,67.1 207.4,65.8 209.0,63.3 210.7,59.4 212.4,58.5 214.1,59.8 215.8,57.1 217.5,59.8 219.1,57.8 220.8,55.8 222.5,58.5 224.2,54.4 225.9,54.3 227.6,56.8 229.2,60.1 230.9,58.1 232.6,58.7 234.3,59.5 236.0,62.4 237.7,68.2 239.3,70.1 241.0,77.2 242.7,83.6 244.4,91.4 246.1,98.2 247.8,100.6 249.4,103.0 251.1,108.3 252.8,111.4 254.5,112.8 256.2,114.4 257.9,118.3 259.5,123.7 261.2,127.9 262.9,130.2 264.6,135.9 266.3,141.0 268.0,146.7 269.6,154.6 271.3,163.3 273.0,171.4 274.7,179.0 276.1,185.6 354.0,189.9" stroke="#7E2F8E"/><polyline points="111.2,176.8 159.3,179.4 161.0,177.1 162.6,173.6 164.3,168.2 166.0,161.6 167.7,155.8 169.4,149.6 171.1,143.5 172.7,139.2 174.4,134.7 176.1,130.6 177.8,126.8 179.5,122.5 181.2,119.8 182.8,116.9 184.5,111.4 186.2,107.4 187.9,102.4 189.6,97.2 191.3,91.2 192.9,87.6 194.6,86.2 196.3,84.0 198.0,81.3 199.7,78.7 201.4,75.3 203.0,72.7 204.7,68.6 206.4,63.2 208.1,59.6 209.8,57.4 211.5,57.6 213.1,58.1 214.8,58.6 216.5,57.9 218.2,56.4 219.9,52.9 221.6,53.8 223.2,55.9 224.9,57.2 226.6,57.3 228.3,58.1 230.0,60.0 231.7,60.5 233.3,63.1 235.0,64.3 236.7,67.2 238.4,71.7 240.1,78.1 241.8,83.5 243.4,90.3 245.1,95.9 246.8,100.9 248.5,103.6 250.2,110.2 251.9,113.1 253.5,115.8 255.2,119.6 256.9,121.6 258.6,125.5 260.3,131.1 262.0,136.0 263.6,142.5 265.3,149.4 267.0,156.3 268.7,164.3 270.4,172.0 272.1,179.8 273.2,185.7 353.6,190.1" stroke="#EDB120"/><polyline points="110.8,177.0 158.1,179.6 159.7,177.3 161.4,173.9 163.1,168.9 164.8,162.7 166.5,156.6 168.2,151.4 169.8,146.2 171.5,140.8 173.2,136.1 174.9,131.9 176.6,128.4 178.3,124.9 179.9,120.6 181.6,115.6 183.3,111.8 185.0,108.1 186.7,104.1 188.4,101.1 190.0,98.0 191.7,93.0 193.4,88.2 195.1,81.6 196.8,79.1 198.5,73.3 200.1,71.4 201.8,68.3 203.5,65.9 205.2,63.0 206.9,58.8 208.6,58.3 210.2,57.3 211.9,56.0 213.6,55.6 215.3,57.7 217.0,58.0 218.7,58.8 220.3,58.5 222.0,58.5 223.7,56.1 225.4,57.7 227.1,59.5 228.8,60.3 230.4,63.8 232.1,65.5 233.8,67.5 235.5,70.3 237.2,70.1 238.9,74.1 240.5,79.2 242.2,83.7 243.9,87.1 245.6,93.2 247.3,101.4 249.0,106.2 250.6,108.6 252.3,112.7 254.0,116.3 255.7,118.2 257.4,120.9 259.1,124.9 260.7,130.0 262.4,134.6 264.1,139.8 265.8,146.1 267.5,153.7 269.2,162.1 270.8,170.4 272.5,178.4 274.0,186.0 353.2,190.3" stroke="#D95319"/><polyline points="110.3,177.3 157.5,179.9 159.2,177.6 160.9,174.2 162.5,169.0 164.2,163.1 165.9,156.8 167.6,151.4 169.3,146.8 171.0,141.2 172.6,135.9 174.3,131.2 176.0,128.1 177.7,123.9 179.4,119.8 181.1,115.5 182.7,110.4 184.4,105.9 186.1,101.1 187.8,98.4 189.5,93.4 191.2,90.4 192.8,86.1 194.5,81.3 196.2,78.9 197.9,77.1 199.6,72.4 201.3,72.1 202.9,70.0 204.6,67.0 206.3,67.8 208.0,64.5 209.7,61.7 211.4,57.7 213.0,57.0 214.7,57.2 216.4,57.2 218.1,56.7 219.8,56.1 221.5,57.4 223.1,57.4 224.8,57.0 226.5,55.1 228.2,54.2 229.9,56.4 231.6,60.3 233.2,65.2 234.9,68.6 236.6,70.8 238.3,75.1 240.0,79.6 241.7,83.0 243.3,89.6 245.0,94.0 246.7,98.8 248.4,105.3 250.1,111.2 251.8,113.0 253.4,115.6 255.1,119.6 256.8,123.2 258.5,127.6 260.2,132.7 261.9,135.4 263.5,141.5 265.2,147.5 266.9,155.4 268.6,163.3 270.3,171.7 272.0,179.9 273.2,186.2 352.7,190.6" stroke="#0072BD"/><polyline points="109.9,177.5 158.4,180.2 160.1,177.9 161.8,174.5 163.5,169.1 165.1,162.4 166.8,156.7 168.5,151.1 170.2,146.6 171.9,141.2 173.6,135.2 175.2,130.3 176.9,125.3 178.6,120.2 180.3,117.0 182.0,113.0 183.7,111.1 185.3,105.8 187.0,102.2 188.7,98.9 190.4,94.3 192.1,90.2 193.8,87.5 195.4,82.6 197.1,78.7 198.8,76.9 200.5,73.4 202.2,71.8 203.9,68.0 205.5,63.9 207.2,61.7 208.9,61.6 210.6,57.9 212.3,58.2 214.0,58.4 215.6,55.6 217.3,57.5 219.0,54.1 220.7,57.6 222.4,57.9 224.1,60.7 225.7,61.7 227.4,59.0 229.1,58.0 230.8,59.5 232.5,63.0 234.2,69.5 235.8,75.1 237.5,80.8 239.2,85.4 240.9,90.4 242.6,96.2 244.3,99.5 245.9,102.7 247.6,107.7 249.3,111.0 251.0,111.7 252.7,117.2 254.4,121.2 256.0,125.9 257.7,130.6 259.4,134.9 261.1,141.5 262.8,147.9 264.5,154.7 266.1,162.7 267.8,170.6 269.5,179.2 270.9,186.3 352.3,190.8" stroke="#A2142F"/><polyline points="109.5,177.7 157.1,180.3 158.7,178.1 160.4,174.7 162.1,169.5 163.8,163.2 165.5,157.4 167.2,151.5 168.8,146.0 170.5,141.4 172.2,137.1 173.9,132.3 175.6,127.3 177.3,122.4 178.9,117.6 180.6,114.3 182.3,110.3 184.0,108.0 185.7,105.5 187.4,99.7 189.0,92.0 190.7,86.2 192.4,87.2 194.1,84.1 195.8,79.6 197.5,75.5 199.1,72.0 200.8,70.3 202.5,69.5 204.2,64.0 205.9,57.4 207.6,55.6 209.2,54.0 210.9,55.0 212.6,52.9 214.3,51.4 216.0,51.0 217.7,53.8 219.3,53.3 221.0,51.6 222.7,56.4 224.4,57.9 226.1,57.4 227.8,54.2 229.4,55.9 231.1,58.9 232.8,63.2 234.5,67.1 236.2,72.2 237.9,77.0 239.5,80.3 241.2,84.3 242.9,88.0 244.6,95.6 246.3,100.1 248.0,103.3 249.6,104.4 251.3,109.7 253.0,112.9 254.7,116.2 256.4,121.2 258.1,124.8 259.7,129.6 261.4,133.7 263.1,140.2 264.8,147.3 266.5,155.9 268.2,164.8 269.8,173.0 271.5,181.5 272.5,186.7 351.9,191.0" stroke="#4DBEEE"/><polyline points="109.1,178.0 154.0,180.4 155.7,178.3 157.4,175.2 159.1,170.3 160.8,164.3 162.4,158.4 164.1,152.6 165.8,146.9 167.5,142.8 169.2,138.9 170.9,135.1 172.5,130.0 174.2,125.9 175.9,122.5 177.6,118.2 179.3,114.1 181.0,110.1 182.6,106.3 184.3,104.1 186.0,100.6 187.7,95.7 189.4,94.1 191.1,89.9 192.7,88.2 194.4,81.8 196.1,76.5 197.8,70.2 199.5,68.3 201.2,66.4 202.8,65.2 204.5,63.1 206.2,60.6 207.9,59.4 209.6,61.8 211.3,59.6 212.9,57.4 214.6,55.4 216.3,52.4 218.0,54.5 219.7,54.4 221.4,60.1 223.0,61.8 224.7,62.9 226.4,60.1 228.1,63.5 229.8,62.3 231.5,62.9 233.1,66.4 234.8,70.3 236.5,74.8 238.2,80.9 239.9,85.5 241.6,90.3 243.2,96.8 244.9,101.6 246.6,105.1 248.3,107.3 250.0,110.9 251.7,115.4 253.3,119.8 255.0,123.3 256.7,128.0 258.4,133.4 260.1,137.1 261.8,141.8 263.4,147.7 265.1,154.5 266.8,162.8 268.5,170.7 270.2,178.9 271.9,186.8 271.9,186.9 351.5,191.3" stroke="#77AC30"/><polyline points="108.6,178.2 156.1,180.8 157.7,178.6 159.4,175.2 161.1,170.3 162.8,163.7 164.5,157.7 166.2,151.9 167.8,146.2 169.5,141.6 171.2,137.0 172.9,133.6 174.6,128.8 176.3,125.2 177.9,122.4 179.6,116.6 181.3,109.9 183.0,107.3 184.7,106.5 186.4,102.9 188.0,96.1 189.7,94.4 191.4,91.2 193.1,86.0 194.8,79.9 196.5,76.1 198.1,74.9 199.8,72.2 201.5,70.7 203.2,65.6 204.9,64.9 206.6,64.5 208.2,61.2 209.9,58.4 211.6,59.3 213.3,58.8 215.0,58.2 216.7,59.6 218.3,59.7 220.0,61.6 221.7,63.1 223.4,63.4 225.1,62.8 226.8,65.2 228.4,64.4 230.1,65.5 231.8,65.7 233.5,64.3 235.2,65.9 236.9,72.2 238.5,79.3 240.2,83.7 241.9,89.2 243.6,95.6 245.3,101.3 247.0,103.8 248.6,105.2 250.3,110.5 252.0,115.4 253.7,120.6 255.4,122.9 257.1,125.5 258.7,130.0 260.4,135.7 262.1,142.6 263.8,149.3 265.5,156.5 267.2,164.0 268.8,171.8 270.5,180.3 271.9,187.1 351.0,191.5" stroke="#7E2F8E"/><polyline points="108.2,178.4 156.1,181.1 157.8,178.8 159.4,175.5 161.1,170.3 162.8,164.3 164.5,158.6 166.2,152.4 167.9,146.2 169.5,141.6 171.2,137.9 172.9,133.0 174.6,127.8 176.3,124.1 178.0,120.8 179.6,117.7 181.3,114.2 183.0,108.5 184.7,104.2 186.4,100.9 188.1,98.0 189.7,95.5 191.4,90.4 193.1,84.8 194.8,80.7 196.5,79.4 198.2,76.1 199.8,69.6 201.5,64.2 203.2,60.3 204.9,58.8 206.6,60.3 208.3,60.7 209.9,62.2 211.6,60.3 213.3,60.0 215.0,61.4 216.7,58.5 218.4,59.8 220.0,57.1 221.7,57.5 223.4,59.0 225.1,59.2 226.8,58.3 228.5,59.9 230.1,63.3 231.8,64.7 233.5,68.7 235.2,71.6 236.9,76.2 238.6,80.6 240.2,83.0 241.9,90.7 243.6,99.2 245.3,103.9 247.0,106.6 248.7,108.0 250.3,111.7 252.0,114.9 253.7,118.7 255.4,122.5 257.1,126.9 258.8,131.9 260.4,138.1 262.1,144.7 263.8,152.0 265.5,160.1 267.2,168.3 268.9,176.4 270.5,184.3 271.2,187.4 350.6,191.7" stroke="#EDB120"/><polyline points="107.8,178.7 155.4,181.3 157.1,179.0 158.8,175.7 160.5,170.4 162.1,163.9 163.8,157.3 165.5,151.7 167.2,146.6 168.9,141.4 170.6,137.4 172.2,132.2 173.9,128.2 175.6,123.5 177.3,119.4 179.0,116.1 180.7,111.7 182.3,106.5 184.0,102.2 185.7,98.5 187.4,93.9 189.1,89.5 190.8,87.2 192.4,86.1 194.1,81.5 195.8,78.5 197.5,76.8 199.2,74.3 200.9,69.2 202.5,68.5 204.2,64.7 205.9,60.6 207.6,58.8 209.3,53.8 211.0,54.1 212.6,57.8 214.3,60.8 216.0,60.3 217.7,61.5 219.4,59.6 221.1,59.3 222.7,60.3 224.4,59.7 226.1,58.0 227.8,57.3 229.5,60.9 231.2,65.8 232.8,69.0 234.5,75.2 236.2,81.9 237.9,84.6 239.6,87.7 241.3,93.1 242.9,98.3 244.6,103.1 246.3,106.4 248.0,109.1 249.7,112.2 251.4,118.5 253.0,122.9 254.7,126.8 256.4,131.8 258.1,135.4 259.8,140.4 261.5,147.4 263.1,156.0 264.8,163.9 266.5,172.0 268.2,180.0 269.7,187.5 350.2,192.0" stroke="#D95319"/><polyline points="107.3,178.9 154.7,181.5 156.4,179.2 158.1,175.9 159.8,170.9 161.5,164.8 163.1,158.9 164.8,153.9 166.5,148.5 168.2,141.9 169.9,136.4 171.6,131.9 173.2,128.6 174.9,125.0 176.6,119.8 178.3,116.4 180.0,112.4 181.7,107.6 183.3,103.5 185.0,98.7 186.7,92.3 188.4,88.3 190.1,86.3 191.8,83.7 193.4,80.1 195.1,77.3 196.8,75.3 198.5,74.1 200.2,71.1 201.9,68.7 203.5,65.8 205.2,63.6 206.9,58.9 208.6,59.2 210.3,62.2 212.0,59.5 213.6,58.8 215.3,56.0 217.0,55.9 218.7,54.9 220.4,54.1 222.1,59.2 223.7,62.0 225.4,61.3 227.1,61.3 228.8,63.0 230.5,66.2 232.2,65.5 233.8,70.2 235.5,75.2 237.2,81.0 238.9,84.2 240.6,88.5 242.3,91.0 243.9,99.3 245.6,104.3 247.3,108.1 249.0,110.2 250.7,114.8 252.4,118.2 254.0,122.9 255.7,126.4 257.4,131.3 259.1,136.4 260.8,142.9 262.5,149.7 264.1,156.9 265.8,165.1 267.5,173.3 269.2,181.4 270.5,187.8 349.7,192.2" stroke="#0072BD"/><polyline points="106.9,179.1 154.2,181.7 155.9,179.4 157.5,176.1 159.2,171.0 160.9,164.8 162.6,158.7 164.3,153.3 166.0,148.0 167.6,142.7 169.3,136.9 171.0,131.4 172.7,128.1 174.4,126.1 176.1,122.6 177.7,117.0 179.4,112.2 181.1,109.6 182.8,107.2 184.5,102.2 186.2,97.7 187.8,94.7 189.5,93.9 191.2,89.6 192.9,87.1 194.6,81.0 196.3,77.5 197.9,74.7 199.6,70.7 201.3,68.1 203.0,63.8 204.7,61.4 206.4,61.2 208.0,60.8 209.7,64.1 211.4,62.9 213.1,62.4 214.8,59.5 216.5,56.2 218.1,54.2 219.8,57.2 221.5,59.6 223.2,57.7 224.9,60.1 226.6,60.5 228.2,61.9 229.9,65.4 231.6,66.9 233.3,71.2 235.0,77.3 236.7,78.8 238.3,84.6 240.0,91.7 241.7,95.7 243.4,98.7 245.1,101.1 246.8,105.2 248.4,109.5 250.1,112.9 251.8,116.2 253.5,119.2 255.2,124.3 256.9,129.3 258.5,136.0 260.2,141.2 261.9,147.3 263.6,154.1 265.3,162.1 267.0,170.9 268.6,179.1 270.3,187.4 270.5,188.1 349.3,192.4" stroke="#A2142F"/><polyline points="106.5,179.4 154.3,182.0 156.0,179.6 157.6,176.2 159.3,170.8 161.0,164.5 162.7,158.2 164.4,151.7 166.1,145.9 167.7,141.0 169.4,135.3 171.1,130.6 172.8,126.0 174.5,122.9 176.2,121.0 177.8,117.6 179.5,112.6 181.2,108.2 182.9,105.7 184.6,100.1 186.3,96.3 187.9,91.5 189.6,88.1 191.3,85.6 193.0,80.9 194.7,76.3 196.4,71.0 198.0,67.8 199.7,67.3 201.4,66.8 203.1,63.1 204.8,60.6 206.5,57.5 208.1,58.5 209.8,58.6 211.5,58.8 213.2,53.2 214.9,53.6 216.6,57.4 218.2,59.5 219.9,57.0 221.6,56.0 223.3,56.1 225.0,55.0 226.7,59.5 228.3,64.0 230.0,64.6 231.7,65.4 233.4,70.7 235.1,75.7 236.8,80.8 238.4,86.4 240.1,90.5 241.8,94.8 243.5,98.6 245.2,101.4 246.9,106.1 248.5,109.4 250.2,115.7 251.9,120.7 253.6,126.4 255.3,130.3 257.0,134.9 258.6,141.4 260.3,149.3 262.0,157.0 263.7,165.1 265.4,172.9 267.1,181.0 268.5,188.2 348.9,192.6" stroke="#4DBEEE"/><polyline points="106.1,179.6 152.7,182.1 154.4,179.9 156.1,176.5 157.8,171.2 159.5,165.2 161.1,158.9 162.8,153.1 164.5,147.7 166.2,144.0 167.9,139.5 169.6,135.0 171.2,130.0 172.9,125.6 174.6,121.3 176.3,116.6 178.0,113.9 179.7,111.3 181.3,108.2 183.0,103.2 184.7,98.6 186.4,93.1 188.1,89.4 189.8,88.2 191.4,87.3 193.1,85.7 194.8,80.9 196.5,74.5 198.2,71.1 199.9,69.5 201.5,65.4 203.2,60.0 204.9,61.4 206.6,60.8 208.3,60.7 210.0,57.7 211.6,57.6 213.3,56.4 215.0,56.4 216.7,58.0 218.4,59.3 220.1,59.7 221.7,57.6 223.4,60.8 225.1,61.9 226.8,65.5 228.5,68.7 230.2,68.1 231.8,74.2 233.5,76.3 235.2,83.7 236.9,87.9 238.6,91.3 240.3,98.5 241.9,101.9 243.6,104.1 245.3,109.0 247.0,114.1 248.7,118.0 250.4,121.6 252.0,125.3 253.7,129.5 255.4,134.9 257.1,139.7 258.8,145.6 260.5,152.3 262.1,160.2 263.8,168.0 265.5,176.6 267.2,185.3 267.8,188.5 348.5,192.9" stroke="#77AC30"/><polyline points="105.6,179.8 153.9,182.5 155.6,180.3 157.3,177.1 159.0,172.1 160.7,166.1 162.3,160.8 164.0,154.8 165.7,149.3 167.4,144.2 169.1,139.0 170.8,134.1 172.4,130.5 174.1,127.6 175.8,122.2 177.5,120.0 179.2,116.3 180.9,111.4 182.5,107.9 184.2,102.6 185.9,99.5 187.6,96.3 189.3,93.2 191.0,89.9 192.6,85.3 194.3,83.2 196.0,81.3 197.7,77.7 199.4,73.9 201.1,72.0 202.7,67.1 204.4,65.3 206.1,63.6 207.8,65.2 209.5,62.8 211.2,63.4 212.8,61.6 214.5,61.3 216.2,60.1 217.9,58.3 219.6,58.0 221.3,59.8 222.9,60.7 224.6,61.8 226.3,63.2 228.0,62.5 229.7,61.4 231.4,63.8 233.0,71.4 234.7,75.9 236.4,79.2 238.1,82.9 239.8,87.0 241.5,92.3 243.1,97.1 244.8,100.8 246.5,103.9 248.2,109.0 249.9,113.2 251.6,116.0 253.2,119.4 254.9,123.8 256.6,129.6 258.3,134.9 260.0,141.8 261.7,149.1 263.3,156.5 265.0,164.6 266.7,171.9 268.4,179.9 270.1,188.3 270.2,188.8 348.0,193.1" stroke="#7E2F8E"/><polyline points="105.2,180.0 150.1,182.5 151.8,180.3 153.5,177.1 155.2,172.1 156.8,165.3 158.5,159.2 160.2,153.6 161.9,148.6 163.6,143.3 165.3,138.1 166.9,133.5 168.6,130.3 170.3,126.6 172.0,122.5 173.7,117.5 175.4,114.1 177.0,111.4 178.7,107.7 180.4,103.6 182.1,98.4 183.8,93.2 185.5,87.6 187.1,84.4 188.8,81.8 190.5,79.0 192.2,75.3 193.9,69.7 195.6,69.1 197.2,68.1 198.9,67.6 200.6,64.1 202.3,61.7 204.0,61.3 205.7,61.5 207.3,60.4 209.0,63.1 210.7,59.4 212.4,55.9 214.1,56.4 215.8,56.0 217.4,58.6 219.1,59.7 220.8,63.6 222.5,65.8 224.2,62.6 225.9,61.3 227.5,62.7 229.2,63.9 230.9,71.6 232.6,76.0 234.3,79.7 236.0,85.9 237.6,92.8 239.3,98.5 241.0,100.6 242.7,104.0 244.4,108.4 246.1,113.2 247.7,118.5 249.4,122.8 251.1,125.8 252.8,129.8 254.5,135.3 256.2,141.4 257.8,147.6 259.5,153.9 261.2,162.0 262.9,169.6 264.6,177.8 266.3,186.0 266.8,188.9 347.6,193.3" stroke="#EDB120"/><polyline points="104.8,180.3 150.5,182.8 152.2,180.6 153.9,177.5 155.5,172.6 157.2,166.3 158.9,160.6 160.6,155.5 162.3,149.6 164.0,144.1 165.6,139.4 167.3,135.2 169.0,131.3 170.7,127.1 172.4,122.9 174.1,119.7 175.7,116.8 177.4,111.9 179.1,106.2 180.8,101.4 182.5,97.9 184.2,93.4 185.8,89.3 187.5,86.0 189.2,83.6 190.9,83.5 192.6,78.0 194.3,72.6 195.9,69.0 197.6,64.9 199.3,62.0 201.0,64.5 202.7,63.3 204.4,61.6 206.0,63.9 207.7,61.4 209.4,61.2 211.1,58.6 212.8,60.7 214.5,60.2 216.1,57.3 217.8,56.6 219.5,58.3 221.2,58.2 222.9,57.3 224.6,58.5 226.2,59.2 227.9,61.9 229.6,63.2 231.3,64.1 233.0,69.6 234.7,74.8 236.3,79.3 238.0,84.9 239.7,91.9 241.4,95.5 243.1,100.8 244.8,103.6 246.4,105.1 248.1,110.7 249.8,113.3 251.5,118.3 253.2,121.3 254.9,125.0 256.5,130.6 258.2,136.9 259.9,143.9 261.6,151.1 263.3,159.2 265.0,167.1 266.6,175.4 268.3,183.4 269.5,189.3 347.2,193.6" stroke="#D95319"/><polyline points="104.4,180.5 150.4,183.0 152.1,180.9 153.8,177.6 155.5,172.2 157.2,165.7 158.9,160.1 160.5,154.3 162.2,148.8 163.9,143.2 165.6,139.2 167.3,135.4 169.0,131.6 170.6,126.2 172.3,122.2 174.0,119.6 175.7,116.8 177.4,111.4 179.1,107.8 180.7,100.9 182.4,98.8 184.1,95.6 185.8,94.3 187.5,93.8 189.2,87.9 190.8,82.3 192.5,81.6 194.2,76.7 195.9,75.6 197.6,72.5 199.3,68.4 200.9,66.1 202.6,60.6 204.3,59.8 206.0,60.7 207.7,58.9 209.4,54.2 211.0,56.5 212.7,56.5 214.4,56.5 216.1,56.6 217.8,56.5 219.5,57.1 221.1,60.7 222.8,63.0 224.5,65.7 226.2,64.0 227.9,68.7 229.6,69.0 231.2,72.9 232.9,78.3 234.6,85.0 236.3,89.6 238.0,92.2 239.7,96.1 241.3,101.5 243.0,104.8 244.7,107.4 246.4,112.1 248.1,118.3 249.8,122.5 251.4,125.5 253.1,127.9 254.8,134.4 256.5,140.9 258.2,147.0 259.9,153.8 261.5,162.0 263.2,170.6 264.9,178.2 266.6,186.0 267.3,189.4 346.8,193.8" stroke="#0072BD"/><polyline points="103.9,180.7 151.0,183.3 152.7,181.1 154.4,177.7 156.1,172.6 157.8,166.3 159.4,160.6 161.1,155.5 162.8,150.7 164.5,145.5 166.2,140.2 167.9,135.9 169.5,131.0 171.2,127.8 172.9,124.5 174.6,118.8 176.3,114.5 178.0,111.2 179.6,107.1 181.3,102.4 183.0,99.6 184.7,96.9 186.4,93.8 188.1,88.3 189.7,84.0 191.4,81.8 193.1,78.4 194.8,79.1 196.5,72.8 198.2,68.9 199.8,65.9 201.5,64.2 203.2,61.1 204.9,60.5 206.6,60.9 208.3,60.4 209.9,60.5 211.6,57.2 213.3,58.9 215.0,65.3 216.7,63.4 218.4,62.1 220.0,64.7 221.7,65.9 223.4,65.2 225.1,65.2 226.8,66.7 228.5,69.8 230.1,74.9 231.8,75.8 233.5,80.1 235.2,83.8 236.9,89.5 238.6,92.4 240.2,96.0 241.9,100.1 243.6,104.8 245.3,109.1 247.0,115.0 248.7,120.3 250.3,123.7 252.0,126.3 253.7,130.9 255.4,133.4 257.1,139.8 258.8,147.2 260.4,154.4 262.1,162.5 263.8,170.6 265.5,178.9 267.2,187.3 267.7,189.7 346.3,194.0" stroke="#A2142F"/><polyline points="103.5,181.0 149.0,183.5 150.7,181.3 152.4,178.0 154.1,173.1 155.8,166.9 157.4,161.7 159.1,157.0 160.8,151.4 162.5,145.5 164.2,138.9 165.9,134.4 167.5,131.3 169.2,127.0 170.9,123.1 172.6,121.2 174.3,118.0 176.0,114.3 177.6,109.2 179.3,103.1 181.0,98.3 182.7,94.8 184.4,92.1 186.1,90.4 187.7,87.8 189.4,86.8 191.1,83.9 192.8,79.3 194.5,76.0 196.2,72.4 197.8,66.7 199.5,66.4 201.2,62.5 202.9,63.5 204.6,62.2 206.3,62.8 207.9,61.8 209.6,62.6 211.3,62.5 213.0,62.9 214.7,62.0 216.4,60.3 218.0,58.5 219.7,60.3 221.4,61.2 223.1,63.3 224.8,62.7 226.5,65.4 228.1,67.5 229.8,71.5 231.5,75.1 233.2,79.0 234.9,85.8 236.6,89.8 238.2,96.4 239.9,101.7 241.6,103.9 243.3,106.5 245.0,109.6 246.7,115.9 248.3,119.7 250.0,123.9 251.7,126.9 253.4,131.7 255.1,137.4 256.8,144.3 258.4,150.9 260.1,158.9 261.8,167.1 263.5,174.6 265.2,182.8 266.6,189.9 345.9,194.3" stroke="#4DBEEE"/><polyline points="103.1,181.2 149.7,183.8 151.4,181.6 153.0,178.2 154.7,172.6 156.4,165.9 158.1,159.8 159.8,154.1 161.5,149.1 163.1,144.4 164.8,138.9 166.5,133.9 168.2,129.7 169.9,126.0 171.6,121.4 173.2,118.5 174.9,113.9 176.6,110.1 178.3,106.1 180.0,105.3 181.7,99.8 183.3,96.9 185.0,91.6 186.7,86.4 188.4,84.1 190.1,81.1 191.8,78.2 193.4,73.3 195.1,71.2 196.8,69.4 198.5,67.0 200.2,61.4 201.9,58.7 203.5,60.7 205.2,59.9 206.9,56.8 208.6,60.9 210.3,60.6 212.0,62.4 213.6,60.4 215.3,60.5 217.0,58.6 218.7,59.1 220.4,60.5 222.1,62.3 223.7,64.7 225.4,63.5 227.1,65.2 228.8,68.0 230.5,72.1 232.2,77.8 233.8,82.0 235.5,88.2 237.2,96.7 238.9,99.9 240.6,102.3 242.3,105.3 243.9,109.6 245.6,112.4 247.3,116.7 249.0,123.9 250.7,127.4 252.4,131.2 254.0,137.1 255.7,144.3 257.4,151.9 259.1,159.5 260.8,167.8 262.5,175.6 264.1,183.5 265.5,190.1 345.5,194.5" stroke="#77AC30"/><polyline points="102.6,181.4 154.2,184.3 155.9,181.9 157.6,178.3 159.3,172.5 161.0,165.6 162.7,159.4 164.3,154.4 166.0,149.0 167.7,143.0 169.4,138.0 171.1,133.4 172.8,129.8 174.4,124.7 176.1,120.2 177.8,115.8 179.5,111.8 181.2,108.8 182.9,105.1 184.5,99.1 186.2,92.3 187.9,87.8 189.6,88.3 191.3,85.2 193.0,76.9 194.6,73.6 196.3,68.8 198.0,68.3 199.7,65.0 201.4,61.9 203.1,61.3 204.7,62.8 206.4,64.3 208.1,61.5 209.8,57.4 211.5,56.7 213.2,58.5 214.8,59.0 216.5,58.5 218.2,58.2 219.9,57.9 221.6,59.5 223.3,60.1 224.9,62.4 226.6,63.7 228.3,65.4 230.0,67.0 231.7,71.8 233.4,75.1 235.0,82.1 236.7,87.8 238.4,92.3 240.1,95.8 241.8,100.3 243.5,105.2 245.1,109.4 246.8,113.4 248.5,115.8 250.2,120.2 251.9,125.6 253.6,131.5 255.2,140.3 256.9,146.4 258.6,153.7 260.3,161.5 262.0,169.3 263.7,178.2 265.3,187.1 266.0,190.4 345.0,194.7" stroke="#7E2F8E"/><polyline points="102.2,181.7 149.4,184.3 151.0,181.9 152.7,178.5 154.4,173.1 156.1,166.0 157.8,159.7 159.5,154.3 161.1,148.8 162.8,143.8 164.5,138.2 166.2,134.1 167.9,130.4 169.6,126.4 171.2,121.3 172.9,115.6 174.6,110.6 176.3,107.6 178.0,103.2 179.7,100.0 181.3,97.1 183.0,93.1 184.7,88.6 186.4,84.0 188.1,81.1 189.8,75.2 191.4,75.1 193.1,73.2 194.8,69.3 196.5,63.0 198.2,59.9 199.9,59.5 201.5,60.0 203.2,57.9 204.9,59.3 206.6,58.7 208.3,56.6 210.0,57.3 211.6,53.2 213.3,52.2 215.0,56.4 216.7,61.0 218.4,62.0 220.1,62.1 221.7,61.9 223.4,60.4 225.1,63.0 226.8,69.8 228.5,74.6 230.2,76.6 231.8,78.1 233.5,81.9 235.2,89.8 236.9,95.3 238.6,96.1 240.3,98.5 241.9,102.5 243.6,107.0 245.3,111.4 247.0,115.5 248.7,121.2 250.4,125.3 252.0,132.2 253.7,140.4 255.4,146.6 257.1,154.3 258.8,161.9 260.5,169.8 262.1,178.0 263.8,186.9 264.5,190.6 344.6,195.0" stroke="#EDB120"/><polyline points="101.8,181.9 149.3,184.5 151.0,182.3 152.6,179.0 154.3,173.6 156.0,167.0 157.7,160.7 159.4,154.8 161.1,150.3 162.7,145.1 164.4,140.6 166.1,135.8 167.8,131.7 169.5,128.5 171.2,123.6 172.8,120.1 174.5,115.3 176.2,110.5 177.9,107.0 179.6,103.4 181.3,99.7 182.9,96.4 184.6,93.5 186.3,88.4 188.0,83.3 189.7,80.1 191.4,76.7 193.0,75.5 194.7,72.7 196.4,68.6 198.1,64.3 199.8,65.4 201.5,64.1 203.1,61.9 204.8,62.4 206.5,60.4 208.2,61.3 209.9,56.6 211.6,53.5 213.2,51.1 214.9,56.3 216.6,60.5 218.3,60.8 220.0,60.2 221.7,61.8 223.3,62.9 225.0,66.2 226.7,65.2 228.4,69.2 230.1,74.1 231.8,75.8 233.4,80.0 235.1,87.9 236.8,90.3 238.5,99.1 240.2,102.2 241.9,104.6 243.5,105.5 245.2,108.8 246.9,113.6 248.6,120.4 250.3,124.8 252.0,130.2 253.6,133.8 255.3,138.7 257.0,145.2 258.7,152.9 260.4,161.8 262.1,170.8 263.7,179.4 265.4,187.8 266.0,190.9 344.2,195.2" stroke="#D95319"/><polyline points="101.4,182.1 147.0,184.6 148.7,182.5 150.4,179.3 152.1,174.0 153.8,168.0 155.4,162.3 157.1,157.1 158.8,151.3 160.5,145.6 162.2,141.5 163.9,137.1 165.5,133.1 167.2,129.9 168.9,124.8 170.6,121.0 172.3,117.3 174.0,114.4 175.6,112.6 177.3,108.2 179.0,104.8 180.7,98.9 182.4,93.4 184.1,89.3 185.7,86.1 187.4,84.6 189.1,79.6 190.8,75.8 192.5,72.8 194.2,71.0 195.8,70.1 197.5,66.6 199.2,66.5 200.9,65.1 202.6,63.3 204.3,64.2 205.9,64.0 207.6,60.9 209.3,59.5 211.0,60.2 212.7,61.8 214.4,60.9 216.0,64.4 217.7,69.5 219.4,73.0 221.1,72.0 222.8,69.6 224.5,70.7 226.1,71.8 227.8,75.5 229.5,79.8 231.2,86.1 232.9,92.6 234.6,95.1 236.2,94.9 237.9,100.3 239.6,104.7 241.3,108.6 243.0,110.0 244.7,114.7 246.3,120.3 248.0,125.6 249.7,130.5 251.4,136.5 253.1,142.5 254.8,149.2 256.4,155.1 258.1,162.9 259.8,171.3 261.5,179.6 263.2,188.0 263.8,191.0 343.8,195.4" stroke="#0072BD"/><polyline points="100.9,182.4 150.5,185.1 152.2,182.7 153.9,179.2 155.6,173.9 157.3,167.6 158.9,161.4 160.6,154.8 162.3,149.6 164.0,143.5 165.7,139.6 167.4,136.1 169.0,133.1 170.7,128.8 172.4,123.3 174.1,119.5 175.8,115.1 177.5,113.0 179.1,109.7 180.8,106.4 182.5,103.6 184.2,99.8 185.9,95.8 187.6,89.0 189.2,84.3 190.9,79.4 192.6,78.6 194.3,74.1 196.0,72.4 197.7,67.1 199.3,66.3 201.0,63.9 202.7,64.0 204.4,62.9 206.1,63.1 207.8,61.3 209.4,61.2 211.1,61.8 212.8,61.0 214.5,62.4 216.2,59.0 217.9,61.0 219.5,65.7 221.2,66.4 222.9,68.1 224.6,66.1 226.3,67.1 228.0,68.8 229.6,74.5 231.3,81.2 233.0,83.9 234.7,89.0 236.4,91.1 238.1,95.2 239.7,100.8 241.4,106.1 243.1,108.9 244.8,112.8 246.5,117.5 248.2,124.2 249.8,130.4 251.5,135.5 253.2,141.4 254.9,146.2 256.6,153.4 258.3,161.2 259.9,170.0 261.6,179.0 263.3,187.6 264.0,191.3 343.3,195.7" stroke="#A2142F"/><polyline points="100.5,182.6 147.4,185.2 149.1,182.9 150.8,179.6 152.5,174.4 154.2,168.1 155.8,161.5 157.5,154.7 159.2,150.3 160.9,145.5 162.6,141.0 164.3,137.2 165.9,133.6 167.6,128.9 169.3,124.4 171.0,119.4 172.7,116.6 174.4,110.1 176.0,105.0 177.7,104.2 179.4,100.9 181.1,99.0 182.8,92.9 184.5,87.0 186.1,84.7 187.8,83.0 189.5,80.3 191.2,74.9 192.9,70.4 194.6,70.1 196.2,69.3 197.9,67.2 199.6,65.7 201.3,66.8 203.0,63.6 204.7,63.4 206.3,62.1 208.0,60.1 209.7,57.2 211.4,55.8 213.1,61.9 214.8,66.8 216.4,70.2 218.1,68.0 219.8,64.6 221.5,62.5 223.2,65.3 224.9,68.3 226.5,71.6 228.2,74.7 229.9,80.3 231.6,84.0 233.3,90.6 235.0,98.3 236.6,101.7 238.3,105.1 240.0,107.3 241.7,112.8 243.4,118.7 245.1,122.9 246.7,128.3 248.4,132.5 250.1,136.8 251.8,142.6 253.5,150.4 255.2,158.7 256.8,166.7 258.5,174.5 260.2,183.0 261.8,191.4 342.9,195.9" stroke="#4DBEEE"/><polyline points="100.1,182.8 148.8,185.5 150.5,183.2 152.2,179.6 153.9,173.8 155.6,167.3 157.3,161.4 158.9,155.6 160.6,149.9 162.3,145.3 164.0,140.6 165.7,136.4 167.4,132.7 169.0,129.0 170.7,124.2 172.4,120.4 174.1,114.6 175.8,111.1 177.5,108.4 179.1,103.9 180.8,100.9 182.5,96.1 184.2,93.5 185.9,86.9 187.6,84.3 189.2,84.0 190.9,79.2 192.6,75.7 194.3,72.2 196.0,66.8 197.7,63.3 199.3,59.0 201.0,60.0 202.7,60.3 204.4,58.8 206.1,60.4 207.8,62.3 209.4,63.1 211.1,60.8 212.8,57.8 214.5,59.7 216.2,62.1 217.9,61.4 219.5,63.1 221.2,64.4 222.9,64.2 224.6,69.0 226.3,71.4 228.0,77.6 229.6,80.7 231.3,84.5 233.0,89.3 234.7,95.1 236.4,96.8 238.1,101.9 239.7,108.5 241.4,112.2 243.1,117.5 244.8,120.7 246.5,123.9 248.2,130.8 249.8,135.3 251.5,141.4 253.2,147.9 254.9,155.1 256.6,163.4 258.3,171.5 259.9,180.5 261.6,189.4 262.1,191.7 342.5,196.1" stroke="#77AC30"/><polyline points="99.6,183.1 146.6,185.6 148.2,183.4 149.9,180.1 151.6,175.2 153.3,169.1 155.0,163.2 156.7,157.1 158.3,151.1 160.0,145.3 161.7,141.9 163.4,138.3 165.1,134.1 166.8,131.6 168.4,128.3 170.1,123.6 171.8,118.7 173.5,114.3 175.2,110.5 176.9,105.5 178.5,100.9 180.2,98.2 181.9,96.3 183.6,93.0 185.3,87.6 187.0,81.1 188.6,78.9 190.3,77.6 192.0,78.3 193.7,73.1 195.4,70.1 197.1,66.7 198.7,64.1 200.4,63.3 202.1,64.1 203.8,63.7 205.5,66.8 207.2,65.8 208.8,64.7 210.5,62.3 212.2,64.0 213.9,64.2 215.6,65.5 217.3,65.4 218.9,68.1 220.6,69.9 222.3,72.8 224.0,76.7 225.7,77.6 227.4,79.1 229.0,82.8 230.7,87.8 232.4,92.1 234.1,94.7 235.8,98.7 237.5,100.7 239.1,105.9 240.8,112.4 242.5,116.1 244.2,120.0 245.9,124.3 247.6,127.0 249.2,132.0 250.9,138.7 252.6,145.6 254.3,152.9 256.0,160.8 257.7,168.8 259.3,176.6 261.0,184.9 262.4,192.0 342.0,196.4" stroke="#7E2F8E"/><polyline points="99.2,183.3 146.6,185.9 148.3,183.6 150.0,180.3 151.7,175.0 153.4,168.7 155.0,162.6 156.7,157.0 158.4,151.9 160.1,147.5 161.8,143.2 163.5,138.3 165.1,133.7 166.8,130.0 168.5,125.0 170.2,119.8 171.9,113.7 173.6,109.1 175.2,106.2 176.9,103.2 178.6,101.3 180.3,99.9 182.0,93.9 183.7,90.4 185.3,87.3 187.0,84.0 188.7,82.5 190.4,76.1 192.1,72.8 193.8,70.5 195.4,68.3 197.1,63.1 198.8,61.9 200.5,65.3 202.2,65.1 203.9,58.6 205.5,60.1 207.2,61.5 208.9,64.1 210.6,63.8 212.3,64.0 214.0,64.0 215.6,63.7 217.3,64.5 219.0,61.7 220.7,64.6 222.4,65.8 224.1,68.0 225.7,71.6 227.4,75.1 229.1,78.7 230.8,85.6 232.5,86.9 234.2,89.6 235.8,95.9 237.5,101.1 239.2,105.6 240.9,111.2 242.6,114.0 244.3,115.6 245.9,121.3 247.6,127.2 249.3,134.3 251.0,139.9 252.7,145.6 254.4,151.3 256.0,159.2 257.7,168.3 259.4,176.3 261.1,184.8 262.6,192.3 341.6,196.6" stroke="#EDB120"/><polyline points="98.8,183.5 148.3,186.2 150.0,183.9 151.7,180.3 153.4,174.9 155.1,168.6 156.8,163.0 158.4,157.5 160.1,151.8 161.8,146.2 163.5,141.0 165.2,136.7 166.9,133.4 168.5,129.5 170.2,126.7 171.9,122.5 173.6,119.0 175.3,114.0 177.0,108.8 178.6,102.9 180.3,97.8 182.0,94.4 183.7,93.1 185.4,89.9 187.1,86.9 188.7,81.5 190.4,77.5 192.1,74.6 193.8,69.5 195.5,66.6 197.2,65.7 198.8,64.1 200.5,59.6 202.2,59.3 203.9,58.9 205.6,60.7 207.3,61.1 208.9,61.8 210.6,62.5 212.3,63.4 214.0,60.3 215.7,60.9 217.4,63.7 219.0,68.2 220.7,69.9 222.4,68.4 224.1,73.6 225.8,74.4 227.5,77.0 229.1,81.9 230.8,87.4 232.5,91.9 234.2,94.3 235.9,97.2 237.6,100.2 239.2,104.3 240.9,107.0 242.6,111.4 244.3,117.0 246.0,123.6 247.7,130.0 249.3,133.5 251.0,138.7 252.7,145.4 254.4,153.0 256.1,162.1 257.8,170.8 259.4,179.2 261.1,187.2 262.1,192.5 341.2,196.8" stroke="#D95319"/><polyline points="98.4,183.8 147.6,186.5 149.3,184.0 151.0,180.4 152.7,174.6 154.4,168.2 156.1,162.3 157.7,156.0 159.4,149.9 161.1,144.8 162.8,140.1 164.5,136.0 166.2,130.9 167.8,127.0 169.5,123.8 171.2,119.6 172.9,114.6 174.6,109.9 176.3,107.4 177.9,104.4 179.6,101.2 181.3,98.0 183.0,94.3 184.7,89.3 186.4,86.2 188.0,79.8 189.7,75.2 191.4,73.7 193.1,70.4 194.8,69.1 196.5,68.4 198.1,64.2 199.8,63.5 201.5,60.5 203.2,62.2 204.9,62.5 206.6,62.7 208.2,62.3 209.9,60.6 211.6,59.2 213.3,64.1 215.0,63.9 216.7,63.3 218.3,61.4 220.0,64.6 221.7,67.2 223.4,67.6 225.1,70.7 226.8,76.1 228.4,82.1 230.1,83.8 231.8,85.6 233.5,91.6 235.2,94.6 236.9,101.0 238.5,103.9 240.2,106.9 241.9,111.4 243.6,115.7 245.3,121.6 247.0,129.6 248.6,135.9 250.3,143.1 252.0,149.9 253.7,157.1 255.4,165.4 257.1,173.3 258.7,181.9 260.4,190.9 260.8,192.7 340.8,197.1" stroke="#0072BD"/><polyline points="97.9,184.0 144.3,186.5 146.0,184.3 147.7,180.9 149.3,175.7 151.0,169.4 152.7,163.5 154.4,157.4 156.1,152.0 157.8,147.0 159.4,142.1 161.1,137.0 162.8,133.4 164.5,130.4 166.2,126.8 167.9,122.9 169.5,116.8 171.2,112.8 172.9,107.8 174.6,106.4 176.3,105.2 178.0,101.2 179.6,95.2 181.3,89.3 183.0,85.5 184.7,81.6 186.4,80.1 188.1,76.2 189.7,74.2 191.4,73.3 193.1,68.5 194.8,63.4 196.5,62.8 198.2,61.9 199.8,60.6 201.5,62.1 203.2,66.2 204.9,65.9 206.6,64.3 208.3,59.1 209.9,58.1 211.6,60.3 213.3,63.7 215.0,65.0 216.7,64.0 218.4,67.0 220.0,68.6 221.7,73.6 223.4,74.6 225.1,79.8 226.8,84.6 228.5,87.6 230.1,90.7 231.8,95.3 233.5,98.8 235.2,100.6 236.9,102.5 238.6,108.1 240.2,115.5 241.9,120.9 243.6,126.0 245.3,130.4 247.0,136.4 248.7,143.1 250.3,149.7 252.0,156.6 253.7,165.2 255.4,173.2 257.1,181.4 258.8,190.0 259.3,192.8 340.3,197.3" stroke="#A2142F"/><polyline points="97.5,184.2 145.7,186.9 147.4,184.7 149.0,181.5 150.7,176.3 152.4,169.6 154.1,163.6 155.8,157.5 157.5,152.0 159.1,147.2 160.8,142.8 162.5,138.3 164.2,134.9 165.9,130.8 167.6,126.5 169.2,122.2 170.9,118.0 172.6,113.4 174.3,108.2 176.0,105.3 177.7,101.3 179.3,98.0 181.0,93.0 182.7,87.2 184.4,86.9 186.1,86.0 187.8,82.9 189.4,80.4 191.1,78.2 192.8,71.5 194.5,66.6 196.2,62.8 197.9,60.4 199.5,60.7 201.2,62.7 202.9,62.0 204.6,63.7 206.3,63.8 208.0,63.8 209.6,59.4 211.3,62.0 213.0,63.6 214.7,65.1 216.4,66.0 218.1,64.9 219.7,66.5 221.4,68.8 223.1,72.0 224.8,77.6 226.5,80.4 228.2,83.3 229.8,84.1 231.5,88.6 233.2,91.9 234.9,96.1 236.6,99.3 238.3,104.5 239.9,111.8 241.6,118.0 243.3,123.0 245.0,128.0 246.7,132.4 248.4,138.9 250.0,144.3 251.7,152.1 253.4,160.0 255.1,167.9 256.8,176.3 258.5,184.8 260.1,193.1 339.9,197.5" stroke="#4DBEEE"/><polyline points="97.1,184.5 146.0,187.1 147.7,184.7 149.4,181.2 151.1,176.1 152.7,170.1 154.4,164.2 156.1,158.0 157.8,151.6 159.5,146.7 161.2,142.0 162.8,137.7 164.5,133.0 166.2,128.6 167.9,126.2 169.6,122.3 171.3,116.3 172.9,111.0 174.6,109.1 176.3,104.4 178.0,100.1 179.7,95.9 181.4,91.7 183.0,87.6 184.7,82.7 186.4,80.7 188.1,81.3 189.8,76.5 191.5,70.5 193.1,64.6 194.8,64.9 196.5,63.4 198.2,58.6 199.9,58.9 201.6,59.2 203.2,57.7 204.9,58.1 206.6,60.4 208.3,63.5 210.0,61.2 211.7,57.5 213.3,58.5 215.0,56.7 216.7,63.0 218.4,61.9 220.1,65.6 221.8,64.1 223.4,65.7 225.1,70.1 226.8,73.7 228.5,79.8 230.2,86.8 231.9,90.7 233.5,94.0 235.2,98.1 236.9,102.6 238.6,105.8 240.3,108.9 242.0,112.7 243.6,116.7 245.3,122.3 247.0,128.6 248.7,137.0 250.4,143.4 252.1,152.1 253.7,159.8 255.4,168.4 257.1,176.4 258.8,184.8 260.5,193.4 339.5,197.8" stroke="#77AC30"/><polyline points="96.6,184.7 144.6,187.3 146.3,185.0 148.0,181.7 149.7,176.1 151.4,169.6 153.0,163.6 154.7,157.9 156.4,151.8 158.1,146.9 159.8,142.2 161.5,137.5 163.1,131.2 164.8,126.6 166.5,124.0 168.2,119.0 169.9,113.6 171.6,110.9 173.2,108.4 174.9,105.9 176.6,99.7 178.3,94.5 180.0,88.5 181.7,85.6 183.3,81.1 185.0,80.7 186.7,77.6 188.4,73.2 190.1,72.2 191.8,71.2 193.4,69.4 195.1,66.9 196.8,65.9 198.5,65.5 200.2,65.4 201.9,63.0 203.5,60.4 205.2,63.9 206.9,64.9 208.6,64.6 210.3,63.2 212.0,63.3 213.6,62.2 215.3,60.0 217.0,62.7 218.7,65.1 220.4,69.0 222.1,70.4 223.7,74.7 225.4,79.5 227.1,83.7 228.8,87.7 230.5,90.4 232.2,96.2 233.8,98.3 235.5,101.4 237.2,106.4 238.9,113.1 240.6,119.6 242.3,126.2 243.9,131.8 245.6,137.3 247.3,143.0 249.0,150.5 250.7,159.8 252.4,168.7 254.0,177.0 255.7,185.5 257.2,193.5 339.0,198.0" stroke="#7E2F8E"/><polyline points="96.2,184.9 143.7,187.5 145.4,185.2 147.0,181.7 148.7,176.6 150.4,170.3 152.1,164.5 153.8,158.9 155.5,153.5 157.1,147.8 158.8,142.7 160.5,138.5 162.2,132.6 163.9,128.8 165.6,123.7 167.2,118.2 168.9,114.7 170.6,109.1 172.3,105.6 174.0,103.7 175.7,102.3 177.3,96.2 179.0,92.5 180.7,88.2 182.4,82.0 184.1,78.8 185.8,73.1 187.4,70.3 189.1,66.9 190.8,67.2 192.5,65.8 194.2,65.1 195.9,61.2 197.5,58.3 199.2,59.3 200.9,58.5 202.6,55.1 204.3,56.7 206.0,59.0 207.6,57.6 209.3,58.9 211.0,59.6 212.7,60.1 214.4,60.8 216.1,61.8 217.7,61.3 219.4,65.0 221.1,65.2 222.8,68.1 224.5,70.8 226.2,75.3 227.8,79.6 229.5,84.0 231.2,87.6 232.9,94.2 234.6,97.3 236.3,101.5 237.9,105.4 239.6,113.1 241.3,119.1 243.0,123.5 244.7,128.2 246.4,134.3 248.0,141.7 249.7,149.6 251.4,158.0 253.1,166.7 254.8,175.4 256.5,184.1 258.1,193.0 258.3,193.8 338.6,198.2" stroke="#EDB120"/><polyline points="95.8,185.2 142.3,187.7 144.0,185.5 145.7,182.0 147.4,176.7 149.0,170.3 150.7,165.1 152.4,159.7 154.1,153.2 155.8,146.6 157.5,141.7 159.1,136.5 160.8,132.1 162.5,128.4 164.2,125.5 165.9,122.2 167.6,119.2 169.2,114.3 170.9,109.9 172.6,104.5 174.3,100.9 176.0,96.9 177.7,95.1 179.3,91.0 181.0,88.1 182.7,82.4 184.4,77.9 186.1,76.9 187.8,74.3 189.4,70.2 191.1,68.5 192.8,67.2 194.5,66.3 196.2,63.5 197.9,58.9 199.5,59.7 201.2,59.9 202.9,60.5 204.6,59.4 206.3,55.1 208.0,58.3 209.6,61.3 211.3,64.1 213.0,62.5 214.7,61.3 216.4,63.3 218.1,65.5 219.7,68.5 221.4,71.5 223.1,74.3 224.8,80.1 226.5,84.4 228.2,89.9 229.8,93.1 231.5,99.2 233.2,100.2 234.9,103.4 236.6,105.6 238.3,111.8 239.9,116.9 241.6,123.1 243.3,129.0 245.0,134.2 246.7,140.7 248.4,148.6 250.0,158.0 251.7,166.3 253.4,174.3 255.1,182.4 256.8,190.8 257.4,194.0 338.2,198.4" stroke="#D95319"/><polyline points="95.4,185.4 141.7,187.9 143.4,185.7 145.1,182.4 146.8,177.6 148.5,171.3 150.2,165.3 151.8,159.8 153.5,154.5 155.2,149.3 156.9,143.2 158.6,138.7 160.3,135.0 161.9,131.4 163.6,127.6 165.3,122.8 167.0,117.6 168.7,112.2 170.4,107.8 172.0,106.0 173.7,101.6 175.4,98.3 177.1,97.3 178.8,93.2 180.5,88.1 182.1,82.7 183.8,78.3 185.5,75.2 187.2,72.6 188.9,69.4 190.6,67.1 192.2,64.6 193.9,64.8 195.6,64.1 197.3,62.0 199.0,60.3 200.7,60.9 202.3,61.0 204.0,60.3 205.7,58.6 207.4,60.9 209.1,61.8 210.8,64.6 212.4,63.3 214.1,61.7 215.8,65.0 217.5,67.4 219.2,68.5 220.9,70.3 222.5,72.4 224.2,79.1 225.9,85.8 227.6,88.6 229.3,91.8 231.0,95.1 232.6,100.7 234.3,105.8 236.0,107.8 237.7,111.1 239.4,113.3 241.1,118.2 242.7,123.5 244.4,130.6 246.1,137.9 247.8,145.1 249.5,151.8 251.2,159.6 252.8,167.7 254.5,175.5 256.2,183.7 257.9,192.2 258.3,194.3 337.8,198.7" stroke="#0072BD"/><polyline points="94.9,185.6 143.7,188.3 145.3,186.1 147.0,182.7 148.7,177.4 150.4,170.7 152.1,164.1 153.8,158.3 155.4,153.1 157.1,147.3 158.8,142.0 160.5,137.6 162.2,133.4 163.9,129.2 165.5,126.2 167.2,121.4 168.9,117.6 170.6,113.4 172.3,108.5 174.0,102.3 175.6,99.2 177.3,95.8 179.0,92.5 180.7,89.1 182.4,85.4 184.1,81.5 185.7,76.3 187.4,73.2 189.1,71.5 190.8,69.2 192.5,68.0 194.2,66.3 195.8,64.2 197.5,62.3 199.2,61.4 200.9,62.2 202.6,62.6 204.3,62.3 205.9,60.0 207.6,61.6 209.3,59.7 211.0,60.1 212.7,58.1 214.4,59.6 216.0,61.2 217.7,60.7 219.4,60.4 221.1,66.5 222.8,72.0 224.5,75.6 226.1,82.8 227.8,87.0 229.5,91.0 231.2,95.2 232.9,99.6 234.6,102.3 236.2,105.7 237.9,110.1 239.6,114.1 241.3,120.8 243.0,125.7 244.7,131.8 246.3,139.3 248.0,145.9 249.7,153.1 251.4,161.8 253.1,170.5 254.8,179.4 256.4,188.4 257.6,194.5 337.3,198.9" stroke="#A2142F"/><polyline points="94.5,185.8 142.4,188.5 144.1,186.2 145.8,182.9 147.5,177.8 149.1,171.3 150.8,165.0 152.5,159.4 154.2,154.2 155.9,148.5 157.6,144.0 159.2,139.9 160.9,136.6 162.6,131.5 164.3,128.1 166.0,124.5 167.7,119.5 169.3,115.8 171.0,112.4 172.7,110.5 174.4,107.1 176.1,99.7 177.8,94.3 179.4,89.6 181.1,86.5 182.8,82.7 184.5,82.1 186.2,79.9 187.9,77.1 189.5,74.6 191.2,72.5 192.9,69.8 194.6,67.8 196.3,66.9 198.0,67.8 199.6,69.7 201.3,71.2 203.0,69.1 204.7,66.5 206.4,63.9 208.1,62.1 209.7,61.1 211.4,63.6 213.1,65.6 214.8,67.7 216.5,67.3 218.2,67.1 219.8,69.8 221.5,73.8 223.2,77.3 224.9,82.0 226.6,88.8 228.3,94.7 229.9,96.2 231.6,99.0 233.3,102.7 235.0,105.7 236.7,108.1 238.4,115.8 240.0,123.3 241.7,127.9 243.4,133.5 245.1,139.2 246.8,145.8 248.5,152.4 250.1,161.5 251.8,169.6 253.5,178.0 255.2,186.4 256.9,194.8 336.9,199.1" stroke="#4DBEEE"/><polyline points="94.1,186.1 140.5,188.6 142.1,186.4 143.8,183.1 145.5,177.8 147.2,172.0 148.9,165.9 150.6,160.8 152.2,154.8 153.9,150.5 155.6,144.9 157.3,140.7 159.0,135.4 160.7,130.7 162.3,125.2 164.0,122.2 165.7,120.9 167.4,116.4 169.1,112.7 170.8,107.1 172.4,103.1 174.1,99.5 175.8,96.2 177.5,92.6 179.2,89.7 180.9,85.0 182.5,81.8 184.2,78.4 185.9,75.5 187.6,69.9 189.3,67.7 191.0,68.5 192.6,68.8 194.3,67.6 196.0,67.0 197.7,66.4 199.4,69.5 201.1,69.3 202.7,68.1 204.4,65.9 206.1,66.1 207.8,66.0 209.5,65.6 211.2,65.2 212.8,67.9 214.5,71.0 216.2,72.9 217.9,71.3 219.6,73.0 221.3,76.7 222.9,82.6 224.6,88.7 226.3,94.4 228.0,93.8 229.7,98.0 231.4,100.5 233.0,103.9 234.7,107.1 236.4,111.6 238.1,117.8 239.8,123.5 241.5,129.5 243.1,134.0 244.8,139.1 246.5,146.6 248.2,154.9 249.9,163.1 251.6,170.4 253.2,178.4 254.9,187.0 256.4,195.0 336.5,199.4" stroke="#77AC30"/><polyline points="93.7,186.3 141.8,189.0 143.5,186.7 145.2,183.4 146.8,178.4 148.5,171.9 150.2,165.4 151.9,159.4 153.6,154.2 155.3,148.5 156.9,143.2 158.6,140.2 160.3,136.2 162.0,131.2 163.7,127.4 165.4,123.0 167.0,119.4 168.7,116.6 170.4,111.6 172.1,105.5 173.8,103.4 175.5,100.2 177.1,95.4 178.8,90.4 180.5,85.7 182.2,79.3 183.9,76.9 185.6,74.2 187.2,73.4 188.9,72.2 190.6,71.3 192.3,65.5 194.0,63.4 195.7,60.9 197.3,63.5 199.0,64.0 200.7,63.5 202.4,62.3 204.1,61.4 205.8,63.0 207.4,67.2 209.1,63.2 210.8,61.9 212.5,59.3 214.2,60.4 215.9,63.4 217.5,66.1 219.2,69.0 220.9,71.0 222.6,76.8 224.3,80.7 226.0,84.1 227.6,90.9 229.3,92.1 231.0,96.2 232.7,98.6 234.4,103.1 236.1,107.0 237.7,112.4 239.4,119.5 241.1,124.7 242.8,127.8 244.5,132.1 246.2,137.5 247.8,144.9 249.5,151.5 251.2,159.8 252.9,168.2 254.6,177.0 256.3,185.7 257.9,194.5 258.1,195.3 336.1,199.6" stroke="#7E2F8E"/><polyline points="93.2,186.5 139.4,189.1 141.1,186.9 142.8,183.4 144.5,178.1 146.2,171.6 147.9,164.9 149.5,158.4 151.2,153.1 152.9,147.3 154.6,142.4 156.3,138.4 158.0,134.8 159.6,131.0 161.3,128.6 163.0,124.4 164.7,119.2 166.4,113.8 168.1,109.7 169.7,107.2 171.4,102.7 173.1,98.6 174.8,89.7 176.5,86.9 178.2,83.5 179.8,83.0 181.5,79.6 183.2,79.1 184.9,76.4 186.6,73.5 188.3,68.3 189.9,66.0 191.6,65.7 193.3,66.2 195.0,67.0 196.7,65.0 198.4,60.6 200.0,60.7 201.7,60.7 203.4,63.2 205.1,64.8 206.8,67.4 208.5,64.3 210.1,67.1 211.8,67.2 213.5,65.5 215.2,67.9 216.9,68.5 218.6,72.9 220.2,76.1 221.9,80.9 223.6,84.7 225.3,89.5 227.0,91.7 228.7,94.0 230.3,99.2 232.0,104.2 233.7,107.7 235.4,114.7 237.1,120.9 238.8,126.5 240.4,130.7 242.1,135.7 243.8,143.1 245.5,150.2 247.2,157.2 248.9,165.7 250.5,174.4 252.2,183.0 253.9,191.8 254.6,195.4 335.6,199.8" stroke="#EDB120"/><polyline points="92.8,186.8 141.0,189.4 142.7,187.1 144.3,183.6 146.0,178.2 147.7,172.1 149.4,166.4 151.1,161.0 152.8,155.4 154.4,150.3 156.1,145.0 157.8,141.0 159.5,136.3 161.2,131.7 162.9,126.1 164.5,122.2 166.2,118.0 167.9,113.0 169.6,107.4 171.3,105.5 173.0,102.5 174.6,100.2 176.3,95.3 178.0,91.4 179.7,85.2 181.4,81.7 183.1,80.7 184.7,78.6 186.4,76.2 188.1,72.0 189.8,69.0 191.5,65.5 193.2,63.9 194.8,62.4 196.5,64.8 198.2,61.6 199.9,61.2 201.6,60.1 203.3,61.1 204.9,61.9 206.6,61.7 208.3,61.5 210.0,63.9 211.7,63.4 213.4,64.0 215.0,65.2 216.7,68.7 218.4,72.7 220.1,74.1 221.8,75.8 223.5,80.1 225.1,86.6 226.8,92.3 228.5,94.6 230.2,98.6 231.9,103.6 233.6,107.4 235.2,110.5 236.9,113.6 238.6,118.8 240.3,123.3 242.0,129.2 243.7,135.4 245.3,143.4 247.0,151.4 248.7,159.9 250.4,168.3 252.1,176.7 253.8,185.3 255.4,193.7 255.8,195.7 335.2,200.1" stroke="#D95319"/><polyline points="92.4,187.0 139.5,189.6 141.2,187.4 142.9,184.0 144.6,178.7 146.3,172.4 148.0,166.0 149.6,160.3 151.3,155.1 153.0,148.6 154.7,143.8 156.4,140.9 158.1,136.5 159.7,131.7 161.4,128.8 163.1,126.2 164.8,120.5 166.5,116.3 168.2,113.1 169.8,108.1 171.5,105.1 173.2,100.1 174.9,94.0 176.6,91.7 178.3,85.2 179.9,84.2 181.6,82.2 183.3,78.1 185.0,72.2 186.7,70.4 188.4,69.5 190.0,67.3 191.7,65.7 193.4,64.5 195.1,65.6 196.8,65.3 198.5,66.0 200.1,66.7 201.8,63.2 203.5,63.8 205.2,61.7 206.9,61.7 208.6,63.3 210.2,63.9 211.9,65.0 213.6,67.2 215.3,67.9 217.0,69.5 218.7,71.6 220.3,74.7 222.0,76.4 223.7,79.8 225.4,87.5 227.1,94.6 228.8,98.2 230.4,100.2 232.1,106.5 233.8,109.6 235.5,112.5 237.2,116.9 238.9,122.3 240.5,128.5 242.2,133.9 243.9,141.0 245.6,147.7 247.3,156.5 249.0,165.4 250.6,174.5 252.3,183.0 254.0,191.3 254.9,195.9 334.8,200.3" stroke="#0072BD"/><polyline points="91.9,187.2 140.6,189.9 142.3,187.6 144.0,184.1 145.7,179.0 147.3,172.7 149.0,166.3 150.7,160.4 152.4,154.7 154.1,149.8 155.8,145.1 157.4,141.8 159.1,136.9 160.8,132.3 162.5,126.7 164.2,123.6 165.9,120.4 167.5,117.5 169.2,112.8 170.9,108.3 172.6,104.6 174.3,99.6 176.0,96.0 177.6,92.3 179.3,89.0 181.0,82.6 182.7,78.3 184.4,77.2 186.1,77.0 187.7,74.5 189.4,70.9 191.1,66.6 192.8,67.0 194.5,63.2 196.2,67.8 197.8,68.8 199.5,64.1 201.2,61.8 202.9,58.7 204.6,59.1 206.3,60.7 207.9,63.2 209.6,66.4 211.3,65.2 213.0,65.6 214.7,66.9 216.4,69.6 218.0,73.2 219.7,74.1 221.4,76.7 223.1,80.8 224.8,88.0 226.5,91.3 228.1,94.0 229.8,98.0 231.5,101.8 233.2,101.9 234.9,106.0 236.6,114.2 238.2,123.2 239.9,129.6 241.6,134.9 243.3,141.4 245.0,146.9 246.7,154.2 248.3,162.3 250.0,170.7 251.7,179.2 253.4,188.0 255.0,196.2 334.3,200.5" stroke="#A2142F"/><polyline points="91.5,187.5 138.6,190.1 140.3,187.8 142.0,184.6 143.6,179.2 145.3,172.4 147.0,165.9 148.7,160.3 150.4,155.3 152.1,150.2 153.7,145.0 155.4,141.4 157.1,137.4 158.8,133.5 160.5,130.2 162.2,124.9 163.8,119.2 165.5,116.0 167.2,113.9 168.9,111.6 170.6,106.2 172.3,101.6 173.9,99.1 175.6,95.2 177.3,92.7 179.0,85.5 180.7,81.9 182.4,80.5 184.0,79.7 185.7,75.1 187.4,73.4 189.1,69.1 190.8,67.5 192.5,64.2 194.1,63.9 195.8,63.6 197.5,62.8 199.2,58.2 200.9,57.5 202.6,60.1 204.2,62.0 205.9,61.7 207.6,61.9 209.3,62.6 211.0,63.7 212.7,65.1 214.3,67.5 216.0,70.3 217.7,74.0 219.4,78.4 221.1,79.4 222.8,83.0 224.4,89.4 226.1,91.4 227.8,96.8 229.5,98.3 231.2,102.1 232.9,106.2 234.5,109.8 236.2,115.2 237.9,120.8 239.6,126.7 241.3,133.9 243.0,140.8 244.6,146.9 246.3,154.0 248.0,161.9 249.7,170.1 251.4,178.5 253.1,187.3 254.7,196.3 254.8,196.4 333.9,200.8" stroke="#4DBEEE"/><polyline points="91.1,187.7 137.0,190.2 138.7,188.0 140.4,184.7 142.1,179.3 143.7,173.1 145.4,166.7 147.1,161.8 148.8,157.1 150.5,152.8 152.2,148.3 153.8,144.5 155.5,139.4 157.2,135.2 158.9,130.0 160.6,126.1 162.3,121.1 163.9,117.8 165.6,114.9 167.3,108.3 169.0,104.0 170.7,100.5 172.4,96.5 174.0,94.3 175.7,92.4 177.4,89.2 179.1,88.0 180.8,84.7 182.5,80.3 184.1,74.0 185.8,72.4 187.5,69.2 189.2,72.0 190.9,69.0 192.6,67.0 194.2,64.7 195.9,64.1 197.6,66.3 199.3,66.5 201.0,63.8 202.7,61.7 204.3,63.5 206.0,60.3 207.7,62.9 209.4,67.8 211.1,69.7 212.8,69.6 214.4,71.8 216.1,75.0 217.8,77.2 219.5,78.1 221.2,84.0 222.9,88.1 224.5,91.9 226.2,94.4 227.9,98.0 229.6,102.9 231.3,106.5 233.0,110.9 234.6,114.1 236.3,119.5 238.0,124.9 239.7,130.3 241.4,138.3 243.1,143.7 244.7,150.3 246.4,158.3 248.1,165.4 249.8,172.9 251.5,180.4 253.2,188.8 254.7,196.7 333.5,201.0" stroke="#77AC30"/><polyline points="90.7,187.9 137.1,190.5 138.8,188.3 140.5,184.9 142.2,179.3 143.9,172.6 145.5,166.9 147.2,161.8 148.9,157.5 150.6,151.6 152.3,145.9 154.0,140.8 155.6,137.8 157.3,134.1 159.0,129.4 160.7,123.9 162.4,120.4 164.1,115.7 165.7,112.3 167.4,107.6 169.1,103.2 170.8,98.2 172.5,95.6 174.2,93.0 175.8,90.5 177.5,86.5 179.2,83.0 180.9,80.3 182.6,77.1 184.3,74.3 185.9,72.4 187.6,64.6 189.3,66.6 191.0,63.7 192.7,65.0 194.4,61.7 196.0,65.1 197.7,63.8 199.4,64.4 201.1,63.8 202.8,61.5 204.5,61.4 206.1,64.7 207.8,63.7 209.5,65.4 211.2,63.8 212.9,70.0 214.6,73.7 216.2,75.7 217.9,80.0 219.6,82.5 221.3,86.8 223.0,88.8 224.7,95.5 226.3,101.5 228.0,104.5 229.7,107.7 231.4,111.9 233.1,115.6 234.8,120.4 236.4,124.6 238.1,128.3 239.8,135.4 241.5,143.3 243.2,150.8 244.9,157.6 246.5,165.8 248.2,174.1 249.9,182.1 251.6,190.5 252.8,196.8 333.1,201.2" stroke="#7E2F8E"/><polyline points="90.2,188.2 137.1,190.7 138.8,188.4 140.5,184.9 142.2,179.7 143.9,173.5 145.5,167.7 147.2,161.3 148.9,156.5 150.6,151.5 152.3,146.2 154.0,140.8 155.6,137.9 157.3,134.7 159.0,130.2 160.7,125.5 162.4,119.9 164.1,115.7 165.7,112.6 167.4,108.4 169.1,104.0 170.8,101.9 172.5,99.3 174.2,93.7 175.8,88.1 177.5,83.6 179.2,81.0 180.9,78.8 182.6,74.6 184.3,71.8 185.9,66.7 187.6,65.0 189.3,66.6 191.0,68.4 192.7,67.5 194.4,67.6 196.0,66.5 197.7,66.8 199.4,65.0 201.1,62.2 202.8,68.2 204.5,69.8 206.1,68.0 207.8,68.7 209.5,64.3 211.2,64.9 212.9,66.6 214.6,67.1 216.2,71.1 217.9,79.2 219.6,81.7 221.3,86.0 223.0,88.3 224.7,93.2 226.3,99.2 228.0,103.2 229.7,106.1 231.4,109.3 233.1,114.4 234.8,118.0 236.4,122.4 238.1,127.1 239.8,133.1 241.5,140.4 243.2,147.8 244.9,155.1 246.5,163.7 248.2,172.4 249.9,180.7 251.6,189.3 253.1,197.1 332.6,201.5" stroke="#EDB120"/><polyline points="89.8,188.4 137.1,191.0 138.8,188.8 140.5,185.6 142.2,180.4 143.8,173.4 145.5,167.2 147.2,161.0 148.9,155.2 150.6,150.4 152.3,146.8 153.9,142.7 155.6,137.6 157.3,132.7 159.0,129.5 160.7,125.1 162.4,120.5 164.0,117.9 165.7,114.0 167.4,111.0 169.1,109.1 170.8,104.4 172.5,99.0 174.1,91.6 175.8,87.7 177.5,86.2 179.2,81.3 180.9,76.1 182.6,73.7 184.2,71.3 185.9,70.2 187.6,69.7 189.3,68.0 191.0,66.7 192.7,65.6 194.3,63.7 196.0,63.5 197.7,63.8 199.4,66.7 201.1,68.5 202.8,68.0 204.4,66.0 206.1,67.6 207.8,71.5 209.5,73.2 211.2,71.5 212.9,72.3 214.5,72.1 216.2,73.6 217.9,78.6 219.6,81.5 221.3,86.3 223.0,87.1 224.6,92.3 226.3,96.7 228.0,100.7 229.7,104.3 231.4,107.7 233.1,112.0 234.7,116.6 236.4,121.6 238.1,127.6 239.8,134.1 241.5,140.1 243.2,146.5 244.8,154.8 246.5,162.4 248.2,170.5 249.9,179.2 251.6,187.7 253.3,196.1 253.5,197.4 332.2,201.7" stroke="#D95319"/><polyline points="89.4,188.6 135.9,191.2 137.5,188.9 139.2,185.4 140.9,180.1 142.6,173.9 144.3,168.0 146.0,162.2 147.6,155.7 149.3,149.6 151.0,145.1 152.7,142.1 154.4,139.2 156.1,135.1 157.7,130.1 159.4,126.5 161.1,122.2 162.8,116.9 164.5,112.9 166.2,109.6 167.8,106.9 169.5,102.7 171.2,98.3 172.9,94.8 174.6,90.6 176.3,87.6 177.9,80.2 179.6,76.7 181.3,74.0 183.0,76.8 184.7,75.0 186.4,69.5 188.0,67.7 189.7,64.4 191.4,70.4 193.1,69.9 194.8,67.3 196.5,60.7 198.1,58.0 199.8,63.1 201.5,63.4 203.2,65.2 204.9,65.5 206.6,65.7 208.2,69.4 209.9,72.4 211.6,72.8 213.3,70.8 215.0,69.2 216.7,72.7 218.3,76.2 220.0,82.8 221.7,87.5 223.4,90.7 225.1,97.2 226.8,101.4 228.4,106.3 230.1,108.9 231.8,111.1 233.5,118.5 235.2,123.1 236.9,126.5 238.5,131.5 240.2,138.2 241.9,144.4 243.6,150.5 245.3,159.9 247.0,168.7 248.6,177.2 250.3,185.8 252.0,194.4 252.6,197.6 331.8,201.9" stroke="#0072BD"/><polyline points="88.9,188.9 137.7,191.5 139.3,189.1 141.0,185.5 142.7,179.8 144.4,173.4 146.1,167.0 147.8,160.8 149.4,154.4 151.1,148.4 152.8,144.2 154.5,140.4 156.2,135.7 157.9,131.9 159.5,126.0 161.2,118.5 162.9,114.3 164.6,110.2 166.3,106.4 168.0,100.7 169.6,96.1 171.3,94.5 173.0,91.3 174.7,88.6 176.4,87.1 178.1,80.2 179.7,79.3 181.4,75.3 183.1,69.3 184.8,68.6 186.5,62.3 188.2,60.3 189.8,59.7 191.5,60.6 193.2,59.6 194.9,62.3 196.6,58.9 198.3,57.9 199.9,60.4 201.6,62.3 203.3,62.9 205.0,61.9 206.7,62.7 208.4,64.1 210.0,65.6 211.7,65.0 213.4,65.7 215.1,68.8 216.8,72.4 218.5,78.4 220.1,76.0 221.8,82.1 223.5,88.7 225.2,94.1 226.9,97.0 228.6,101.8 230.2,106.2 231.9,110.7 233.6,116.8 235.3,124.0 237.0,128.8 238.7,135.4 240.3,143.1 242.0,151.3 243.7,158.9 245.4,168.1 247.1,176.7 248.8,185.2 250.4,194.4 251.1,197.8 331.3,202.2" stroke="#A2142F"/><polyline points="88.5,189.1 136.2,191.7 137.8,189.5 139.5,185.9 141.2,180.5 142.9,174.0 144.6,168.1 146.3,162.5 147.9,156.7 149.6,150.9 151.3,147.3 153.0,143.2 154.7,138.6 156.4,132.8 158.0,128.7 159.7,124.9 161.4,121.2 163.1,116.3 164.8,110.6 166.5,109.1 168.1,106.9 169.8,103.5 171.5,100.1 173.2,96.0 174.9,89.0 176.6,84.1 178.2,82.2 179.9,77.4 181.6,76.9 183.3,73.0 185.0,70.5 186.7,67.9 188.3,66.0 190.0,62.5 191.7,61.2 193.4,60.8 195.1,61.6 196.8,61.1 198.4,58.7 200.1,61.1 201.8,63.5 203.5,65.9 205.2,68.1 206.9,67.5 208.5,66.8 210.2,69.1 211.9,69.6 213.6,73.7 215.3,75.3 217.0,79.8 218.6,85.4 220.3,87.2 222.0,93.2 223.7,93.2 225.4,98.0 227.1,104.0 228.7,107.9 230.4,108.6 232.1,111.2 233.8,117.6 235.5,123.7 237.2,128.4 238.8,133.6 240.5,139.2 242.2,147.2 243.9,155.2 245.6,163.9 247.3,172.4 248.9,180.7 250.6,189.0 252.3,197.7 252.4,198.1 330.9,202.4" stroke="#4DBEEE"/><polyline points="88.1,189.3 134.7,191.9 136.4,189.6 138.1,186.2 139.8,180.9 141.5,174.6 143.1,168.8 144.8,162.9 146.5,157.7 148.2,151.9 149.9,147.5 151.6,142.8 153.2,140.5 154.9,136.0 156.6,130.9 158.3,127.9 160.0,123.3 161.7,117.9 163.3,113.1 165.0,109.7 166.7,106.4 168.4,104.6 170.1,99.8 171.8,96.3 173.4,90.9 175.1,90.1 176.8,85.0 178.5,81.5 180.2,79.2 181.9,70.6 183.5,67.8 185.2,67.4 186.9,65.0 188.6,62.2 190.3,63.3 192.0,63.6 193.6,64.3 195.3,67.5 197.0,67.8 198.7,64.2 200.4,69.5 202.1,69.3 203.7,69.7 205.4,72.8 207.1,69.5 208.8,66.7 210.5,69.0 212.2,71.0 213.8,74.7 215.5,74.7 217.2,74.1 218.9,81.9 220.6,87.6 222.3,92.7 223.9,96.3 225.6,99.9 227.3,105.0 229.0,110.4 230.7,113.3 232.4,117.0 234.0,122.2 235.7,128.0 237.4,132.7 239.1,138.8 240.8,143.6 242.5,151.1 244.1,159.6 245.8,167.1 247.5,175.9 249.2,184.3 250.9,192.6 252.0,198.3 330.5,202.6" stroke="#77AC30"/><polyline points="87.7,189.6 137.6,192.3 139.3,190.0 141.0,186.4 142.6,180.9 144.3,173.9 146.0,167.4 147.7,161.5 149.4,156.6 151.1,150.7 152.7,145.7 154.4,140.9 156.1,137.5 157.8,133.5 159.5,128.2 161.2,123.4 162.8,121.3 164.5,116.0 166.2,111.1 167.9,107.9 169.6,103.3 171.3,95.6 172.9,92.3 174.6,88.4 176.3,89.3 178.0,88.5 179.7,86.3 181.4,78.6 183.0,73.9 184.7,67.8 186.4,61.8 188.1,66.1 189.8,69.2 191.5,68.1 193.1,65.4 194.8,65.1 196.5,63.8 198.2,65.0 199.9,65.6 201.6,64.4 203.2,64.0 204.9,65.7 206.6,68.3 208.3,74.2 210.0,74.1 211.7,75.3 213.3,76.1 215.0,76.6 216.7,83.1 218.4,89.8 220.1,92.0 221.8,95.5 223.4,100.3 225.1,104.5 226.8,106.6 228.5,111.1 230.2,118.2 231.9,121.3 233.5,128.3 235.2,133.7 236.9,140.1 238.6,146.7 240.3,154.3 242.0,163.4 243.6,172.2 245.3,180.7 247.0,189.8 248.6,198.4 330.1,202.9" stroke="#7E2F8E"/><polyline points="87.2,189.8 136.3,192.5 138.0,190.0 139.6,186.6 141.3,181.0 143.0,174.6 144.7,168.5 146.4,162.4 148.1,155.2 149.7,149.2 151.4,145.5 153.1,142.6 154.8,137.7 156.5,132.6 158.2,127.9 159.8,124.9 161.5,120.9 163.2,116.1 164.9,112.6 166.6,107.0 168.3,102.5 169.9,97.8 171.6,95.0 173.3,93.5 175.0,87.9 176.7,82.7 178.4,79.8 180.0,77.6 181.7,78.2 183.4,74.7 185.1,72.6 186.8,67.9 188.5,66.3 190.1,64.5 191.8,64.4 193.5,62.8 195.2,62.2 196.9,64.4 198.6,65.3 200.2,64.1 201.9,63.2 203.6,65.4 205.3,62.0 207.0,67.4 208.7,70.0 210.3,70.4 212.0,69.5 213.7,72.8 215.4,75.2 217.1,78.0 218.8,80.4 220.4,86.6 222.1,93.4 223.8,98.9 225.5,102.2 227.2,106.7 228.9,110.3 230.5,117.9 232.2,123.3 233.9,130.0 235.6,134.8 237.3,140.1 239.0,146.4 240.6,153.8 242.3,162.5 244.0,172.3 245.7,181.3 247.4,190.2 249.0,198.7 329.6,203.1" stroke="#EDB120"/><polyline points="86.8,190.0 135.6,192.7 137.3,190.4 139.0,186.6 140.7,181.1 142.3,174.4 144.0,168.5 145.7,162.4 147.4,156.6 149.1,152.1 150.8,146.4 152.4,142.1 154.1,136.8 155.8,131.4 157.5,125.6 159.2,121.9 160.9,119.2 162.5,115.8 164.2,110.9 165.9,106.5 167.6,100.4 169.3,96.6 171.0,94.6 172.6,88.7 174.3,84.9 176.0,80.9 177.7,80.7 179.4,77.6 181.1,75.7 182.7,72.3 184.4,70.3 186.1,65.5 187.8,64.3 189.5,61.6 191.2,65.2 192.8,65.9 194.5,66.0 196.2,64.0 197.9,63.6 199.6,64.2 201.3,66.9 202.9,65.2 204.6,64.7 206.3,64.3 208.0,71.0 209.7,75.6 211.4,75.2 213.0,75.2 214.7,78.8 216.4,80.3 218.1,84.2 219.8,86.9 221.5,94.6 223.1,99.4 224.8,104.7 226.5,108.6 228.2,112.2 229.9,118.7 231.6,125.3 233.2,129.3 234.9,133.3 236.6,138.8 238.3,146.2 240.0,154.1 241.7,163.5 243.3,171.9 245.0,180.7 246.7,189.6 248.4,198.9 329.2,203.3" stroke="#D95319"/><polyline points="86.4,190.3 133.1,192.8 134.7,190.5 136.4,186.9 138.1,181.5 139.8,174.6 141.5,168.4 143.2,162.6 144.8,157.6 146.5,151.0 148.2,146.5 149.9,144.0 151.6,139.0 153.3,135.0 154.9,131.5 156.6,126.3 158.3,122.9 160.0,117.5 161.7,112.8 163.4,107.4 165.0,102.8 166.7,98.9 168.4,96.7 170.1,92.4 171.8,88.0 173.5,83.1 175.1,78.3 176.8,77.6 178.5,76.7 180.2,74.1 181.9,74.6 183.6,70.0 185.2,68.4 186.9,66.9 188.6,68.7 190.3,67.6 192.0,67.9 193.7,66.2 195.3,63.9 197.0,64.3 198.7,63.8 200.4,64.7 202.1,68.6 203.8,72.9 205.4,70.3 207.1,70.1 208.8,69.0 210.5,71.6 212.2,74.2 213.9,80.8 215.5,84.1 217.2,90.5 218.9,94.3 220.6,97.9 222.3,101.1 224.0,105.4 225.6,108.3 227.3,111.7 229.0,116.4 230.7,119.6 232.4,124.7 234.1,131.2 235.7,139.5 237.4,145.7 239.1,152.7 240.8,160.2 242.5,169.5 244.2,178.5 245.8,187.0 247.5,195.5 248.2,199.1 328.8,203.6" stroke="#0072BD"/><polyline points="85.9,190.5 131.5,193.0 133.2,190.7 134.8,187.4 136.5,182.3 138.2,176.4 139.9,170.0 141.6,164.0 143.3,157.6 144.9,152.6 146.6,147.2 148.3,142.9 150.0,140.3 151.7,137.4 153.4,133.8 155.0,131.3 156.7,125.7 158.4,120.6 160.1,113.8 161.8,110.5 163.5,108.7 165.1,105.2 166.8,101.2 168.5,97.5 170.2,93.9 171.9,91.2 173.6,84.9 175.2,77.0 176.9,76.0 178.6,75.6 180.3,73.2 182.0,72.0 183.7,70.7 185.3,69.0 187.0,71.5 188.7,71.3 190.4,68.2 192.1,69.1 193.8,67.8 195.4,64.7 197.1,63.8 198.8,63.7 200.5,65.4 202.2,65.9 203.9,69.0 205.5,71.0 207.2,71.6 208.9,72.4 210.6,73.5 212.3,74.7 214.0,78.9 215.6,83.9 217.3,90.8 219.0,95.0 220.7,97.1 222.4,100.2 224.1,103.1 225.7,107.9 227.4,111.2 229.1,118.3 230.8,123.3 232.5,128.1 234.2,133.0 235.8,139.4 237.5,144.7 239.2,152.4 240.9,160.5 242.6,168.8 244.3,176.4 245.9,184.5 247.6,192.7 248.9,199.4 328.3,203.8" stroke="#A2142F"/><polyline points="85.5,190.7 132.1,193.3 133.7,190.9 135.4,187.5 137.1,182.1 138.8,175.7 140.5,169.8 142.2,163.8 143.8,157.4 145.5,151.6 147.2,147.1 148.9,144.3 150.6,140.6 152.3,136.6 153.9,132.6 155.6,127.6 157.3,121.6 159.0,115.4 160.7,110.8 162.4,110.2 164.0,105.0 165.7,102.0 167.4,97.5 169.1,93.6 170.8,91.2 172.5,88.4 174.1,85.8 175.8,85.4 177.5,81.1 179.2,75.9 180.9,67.8 182.6,66.6 184.2,63.7 185.9,66.2 187.6,64.5 189.3,63.5 191.0,67.6 192.7,68.5 194.3,65.0 196.0,62.8 197.7,63.5 199.4,64.7 201.1,63.5 202.8,65.3 204.4,65.6 206.1,65.3 207.8,68.7 209.5,71.6 211.2,78.0 212.9,80.7 214.5,85.6 216.2,89.4 217.9,93.3 219.6,97.4 221.3,102.0 223.0,107.3 224.6,110.6 226.3,115.2 228.0,119.7 229.7,124.2 231.4,131.2 233.1,135.5 234.7,141.0 236.4,146.3 238.1,154.6 239.8,163.0 241.5,171.4 243.2,179.9 244.8,188.8 246.5,197.8 246.9,199.6 327.9,204.0" stroke="#4DBEEE"/><polyline points="85.1,191.0 134.4,193.7 136.1,191.1 137.7,187.4 139.4,181.6 141.1,175.0 142.8,168.7 144.5,162.8 146.2,156.6 147.8,151.6 149.5,148.5 151.2,144.2 152.9,139.9 154.6,133.6 156.3,128.1 157.9,123.3 159.6,120.6 161.3,116.1 163.0,110.9 164.7,103.6 166.4,100.7 168.0,98.5 169.7,95.2 171.4,89.6 173.1,84.1 174.8,79.9 176.5,78.3 178.1,74.2 179.8,73.1 181.5,69.6 183.2,67.6 184.9,65.2 186.6,64.6 188.2,63.9 189.9,61.6 191.6,59.2 193.3,58.7 195.0,64.0 196.7,67.2 198.3,66.8 200.0,67.3 201.7,66.7 203.4,67.7 205.1,68.4 206.8,67.9 208.4,68.7 210.1,70.4 211.8,74.9 213.5,77.0 215.2,83.2 216.9,86.9 218.5,91.8 220.2,98.0 221.9,101.9 223.6,107.0 225.3,108.1 227.0,113.2 228.6,117.0 230.3,122.5 232.0,129.1 233.7,135.0 235.4,140.2 237.1,147.9 238.7,156.1 240.4,165.2 242.1,173.7 243.8,182.5 245.5,191.4 247.0,199.8 327.5,204.2" stroke="#77AC30"/><polyline points="84.7,191.2 132.8,193.8 134.5,191.5 136.2,188.1 137.9,182.5 139.6,175.7 141.2,169.6 142.9,164.3 144.6,158.9 146.3,153.9 148.0,150.0 149.7,144.8 151.3,140.4 153.0,135.3 154.7,131.0 156.4,126.2 158.1,122.7 159.8,119.3 161.4,111.7 163.1,109.4 164.8,104.9 166.5,101.3 168.2,99.3 169.9,94.8 171.5,90.6 173.2,84.1 174.9,78.6 176.6,76.5 178.3,76.5 180.0,75.0 181.6,71.7 183.3,69.6 185.0,68.0 186.7,64.1 188.4,63.3 190.1,65.2 191.7,67.6 193.4,68.4 195.1,70.0 196.8,65.7 198.5,65.9 200.2,62.0 201.8,63.9 203.5,67.2 205.2,73.6 206.9,76.2 208.6,74.4 210.3,74.7 211.9,77.8 213.6,81.6 215.3,89.7 217.0,94.0 218.7,95.9 220.4,98.0 222.0,103.9 223.7,108.1 225.4,111.7 227.1,116.4 228.8,123.6 230.5,127.4 232.1,133.5 233.8,138.0 235.5,146.1 237.2,154.4 238.9,162.4 240.6,171.2 242.2,180.2 243.9,188.8 245.6,197.6 246.1,200.0 327.1,204.5" stroke="#7E2F8E"/><polyline points="84.2,191.4 130.3,193.9 132.0,191.7 133.7,188.4 135.4,182.8 137.1,175.3 138.7,169.2 140.4,163.8 142.1,158.1 143.8,152.6 145.5,149.0 147.2,143.5 148.8,139.7 150.5,134.4 152.2,130.2 153.9,124.8 155.6,122.5 157.3,117.1 158.9,115.0 160.6,109.1 162.3,105.7 164.0,104.6 165.7,101.2 167.4,96.0 169.0,90.7 170.7,84.5 172.4,79.8 174.1,75.0 175.8,75.1 177.5,72.7 179.1,74.1 180.8,69.2 182.5,67.6 184.2,66.7 185.9,64.6 187.6,65.6 189.2,62.8 190.9,65.1 192.6,63.7 194.3,62.5 196.0,64.0 197.7,67.7 199.3,67.7 201.0,67.6 202.7,63.4 204.4,63.1 206.1,66.3 207.8,69.3 209.4,77.5 211.1,79.2 212.8,81.9 214.5,85.0 216.2,88.9 217.9,93.8 219.5,100.3 221.2,105.1 222.9,109.7 224.6,113.2 226.3,118.9 228.0,123.6 229.6,125.7 231.3,131.1 233.0,137.8 234.7,144.3 236.4,151.0 238.1,159.2 239.7,168.1 241.4,176.8 243.1,185.9 244.8,194.8 245.8,200.3 326.6,204.7" stroke="#EDB120"/><polyline points="83.8,191.6 129.9,194.2 131.6,191.9 133.3,188.7 135.0,183.3 136.6,177.0 138.3,170.9 140.0,165.5 141.7,160.0 143.4,154.5 145.1,149.7 146.7,145.4 148.4,140.1 150.1,134.5 151.8,132.3 153.5,130.9 155.2,126.8 156.8,122.3 158.5,118.1 160.2,113.3 161.9,107.4 163.6,104.1 165.3,100.2 166.9,94.8 168.6,91.6 170.3,89.2 172.0,86.9 173.7,83.5 175.4,81.9 177.0,80.0 178.7,77.9 180.4,73.2 182.1,74.8 183.8,74.7 185.5,75.0 187.1,77.2 188.8,75.1 190.5,70.1 192.2,65.5 193.9,67.9 195.6,71.2 197.2,70.1 198.9,73.1 200.6,77.3 202.3,78.8 204.0,73.7 205.7,74.1 207.3,76.8 209.0,84.0 210.7,86.6 212.4,90.8 214.1,93.2 215.8,99.3 217.4,100.6 219.1,103.9 220.8,108.4 222.5,110.8 224.2,114.8 225.9,121.3 227.5,126.8 229.2,131.2 230.9,136.7 232.6,142.8 234.3,149.4 236.0,157.3 237.6,165.9 239.3,174.4 241.0,183.2 242.7,191.6 244.4,200.1 244.4,200.5 326.2,204.9" stroke="#D95319"/><polyline points="83.4,191.9 129.9,194.4 131.5,192.2 133.2,188.9 134.9,183.7 136.6,177.4 138.3,171.6 140.0,166.0 141.6,160.4 143.3,153.9 145.0,149.2 146.7,145.8 148.4,140.5 150.1,136.8 151.7,133.6 153.4,130.8 155.1,125.5 156.8,120.7 158.5,118.2 160.2,114.9 161.8,109.4 163.5,105.6 165.2,100.0 166.9,96.7 168.6,95.5 170.3,93.6 171.9,86.6 173.6,81.9 175.3,78.1 177.0,77.1 178.7,72.3 180.4,70.7 182.0,70.7 183.7,73.0 185.4,73.9 187.1,72.5 188.8,71.1 190.5,69.2 192.1,68.0 193.8,64.5 195.5,66.0 197.2,68.5 198.9,70.6 200.6,68.7 202.2,72.3 203.9,71.8 205.6,75.2 207.3,73.6 209.0,78.1 210.7,80.7 212.3,84.3 214.0,85.6 215.7,90.0 217.4,96.1 219.1,99.5 220.8,101.9 222.4,108.1 224.1,113.9 225.8,118.4 227.5,121.9 229.2,127.2 230.9,134.0 232.5,139.7 234.2,146.0 235.9,152.7 237.6,160.8 239.3,169.6 241.0,178.4 242.6,186.9 244.3,195.8 245.3,200.8 325.8,205.2" stroke="#0072BD"/><polyline points="83.0,192.1 130.1,194.7 131.8,192.3 133.5,188.7 135.2,183.1 136.8,176.2 138.5,169.8 140.2,163.9 141.9,158.3 143.6,154.3 145.3,149.2 146.9,142.5 148.6,136.1 150.3,132.7 152.0,129.1 153.7,126.0 155.4,120.3 157.0,114.7 158.7,109.3 160.4,106.5 162.1,104.1 163.8,102.6 165.5,98.6 167.1,93.3 168.8,89.0 170.5,84.9 172.2,80.3 173.9,75.2 175.6,73.2 177.2,70.1 178.9,69.5 180.6,67.1 182.3,63.9 184.0,67.2 185.7,66.3 187.3,64.7 189.0,63.7 190.7,61.5 192.4,59.7 194.1,60.7 195.8,62.2 197.4,65.0 199.1,65.0 200.8,66.7 202.5,69.3 204.2,73.1 205.9,74.6 207.5,77.0 209.2,78.6 210.9,85.5 212.6,86.9 214.3,88.9 216.0,93.4 217.6,95.4 219.3,101.0 221.0,106.3 222.7,108.5 224.4,111.4 226.1,117.0 227.7,123.3 229.4,129.6 231.1,135.7 232.8,142.5 234.5,148.9 236.2,156.8 237.8,165.7 239.5,174.9 241.2,184.2 242.9,193.1 244.4,201.0 325.4,205.4" stroke="#A2142F"/><polyline points="82.5,192.3 128.0,194.8 129.7,192.6 131.4,189.2 133.1,184.3 134.7,177.7 136.4,171.7 138.1,165.9 139.8,160.9 141.5,156.2 143.2,151.7 144.8,147.2 146.5,142.9 148.2,138.6 149.9,133.1 151.6,129.3 153.3,125.0 154.9,120.2 156.6,117.0 158.3,113.6 160.0,109.8 161.7,106.6 163.4,102.4 165.0,98.3 166.7,95.3 168.4,93.1 170.1,89.1 171.8,81.8 173.5,76.4 175.1,74.5 176.8,71.5 178.5,70.8 180.2,72.4 181.9,72.9 183.6,71.0 185.2,69.8 186.9,69.7 188.6,68.0 190.3,69.3 192.0,67.5 193.7,68.7 195.3,70.9 197.0,67.0 198.7,63.9 200.4,65.1 202.1,68.7 203.8,71.8 205.4,72.1 207.1,73.6 208.8,76.6 210.5,81.6 212.2,86.7 213.9,91.2 215.5,94.4 217.2,99.9 218.9,102.4 220.6,104.6 222.3,105.1 224.0,107.9 225.6,115.5 227.3,120.8 229.0,125.7 230.7,131.8 232.4,138.0 234.1,144.8 235.7,152.6 237.4,160.1 239.1,167.4 240.8,174.7 242.5,182.4 244.2,190.2 245.8,198.8 246.3,201.3 324.9,205.6" stroke="#4DBEEE"/><polyline points="82.1,192.6 130.3,195.2 132.0,192.7 133.6,189.0 135.3,183.5 137.0,177.0 138.7,171.1 140.4,165.5 142.1,159.1 143.7,153.4 145.4,149.3 147.1,145.4 148.8,139.9 150.5,135.1 152.2,129.5 153.8,126.4 155.5,123.7 157.2,120.4 158.9,115.6 160.6,111.7 162.3,107.7 163.9,103.3 165.6,98.0 167.3,92.8 169.0,88.5 170.7,84.2 172.4,78.5 174.0,78.1 175.7,79.6 177.4,77.2 179.1,71.7 180.8,65.5 182.5,66.9 184.1,69.2 185.8,68.0 187.5,65.1 189.2,63.9 190.9,64.1 192.6,67.6 194.2,68.5 195.9,65.6 197.6,62.6 199.3,65.6 201.0,70.6 202.7,74.6 204.3,73.6 206.0,74.5 207.7,79.6 209.4,84.1 211.1,85.0 212.8,87.5 214.4,91.3 216.1,96.3 217.8,102.0 219.5,103.5 221.2,108.2 222.9,112.1 224.5,117.5 226.2,123.8 227.9,128.6 229.6,133.7 231.3,140.0 233.0,147.5 234.6,154.4 236.3,162.0 238.0,170.9 239.7,180.4 241.4,188.8 243.1,197.2 243.8,201.4 324.5,205.9" stroke="#77AC30"/><polyline points="81.7,192.8 128.0,195.4 129.7,193.1 131.4,189.7 133.1,184.7 134.8,178.1 136.4,171.9 138.1,166.1 139.8,161.0 141.5,156.1 143.2,151.4 144.9,146.8 146.5,143.4 148.2,138.5 149.9,135.0 151.6,130.6 153.3,126.1 155.0,122.5 156.6,117.7 158.3,114.2 160.0,109.8 161.7,106.9 163.4,104.4 165.1,102.0 166.7,96.1 168.4,88.8 170.1,84.9 171.8,84.4 173.5,83.2 175.2,80.8 176.8,79.7 178.5,74.9 180.2,71.3 181.9,68.9 183.6,68.0 185.3,70.4 186.9,73.3 188.6,68.6 190.3,70.0 192.0,66.6 193.7,63.8 195.4,67.5 197.0,70.7 198.7,70.0 200.4,69.5 202.1,72.5 203.8,74.5 205.5,78.5 207.1,83.0 208.8,84.4 210.5,86.2 212.2,88.9 213.9,91.6 215.6,93.2 217.2,99.0 218.9,103.6 220.6,107.3 222.3,110.4 224.0,116.9 225.7,119.2 227.3,122.2 229.0,130.0 230.7,136.9 232.4,144.1 234.1,148.9 235.8,155.6 237.4,164.9 239.1,174.0 240.8,182.2 242.5,190.7 244.2,198.8 244.8,201.8 324.1,206.1" stroke="#7E2F8E"/><polyline points="81.2,193.0 130.5,195.7 132.2,193.3 133.9,189.7 135.6,184.4 137.3,177.8 138.9,170.3 140.6,163.9 142.3,157.9 144.0,152.7 145.7,147.4 147.4,142.1 149.0,139.0 150.7,133.8 152.4,129.0 154.1,124.2 155.8,121.1 157.5,118.1 159.1,113.7 160.8,108.7 162.5,104.6 164.2,101.5 165.9,99.0 167.6,94.0 169.2,90.4 170.9,85.5 172.6,84.1 174.3,80.1 176.0,79.8 177.7,72.3 179.3,70.4 181.0,69.1 182.7,67.1 184.4,68.9 186.1,70.2 187.8,67.5 189.4,68.9 191.1,67.1 192.8,65.6 194.5,65.7 196.2,65.1 197.9,65.4 199.5,69.2 201.2,71.2 202.9,72.1 204.6,71.9 206.3,74.4 208.0,75.3 209.6,80.5 211.3,84.3 213.0,91.1 214.7,93.6 216.4,97.6 218.1,99.3 219.7,104.3 221.4,108.4 223.1,114.3 224.8,119.1 226.5,121.4 228.2,126.7 229.8,134.0 231.5,141.6 233.2,149.2 234.9,157.4 236.6,166.1 238.3,174.2 239.9,182.9 241.6,192.1 243.3,201.4 243.4,201.9 323.6,206.3" stroke="#EDB120"/><polyline points="80.8,193.3 126.5,195.8 128.2,193.5 129.9,190.1 131.6,184.7 133.3,178.3 134.9,172.3 136.6,166.5 138.3,160.5 140.0,156.2 141.7,152.1 143.4,148.3 145.0,144.6 146.7,140.2 148.4,135.8 150.1,131.1 151.8,127.8 153.5,123.4 155.1,118.6 156.8,113.8 158.5,108.0 160.2,105.3 161.9,102.5 163.6,99.1 165.2,96.0 166.9,93.2 168.6,91.0 170.3,88.4 172.0,84.1 173.7,80.5 175.3,77.8 177.0,76.4 178.7,73.2 180.4,73.5 182.1,74.9 183.8,75.3 185.4,73.5 187.1,73.3 188.8,74.4 190.5,74.8 192.2,75.7 193.9,75.7 195.5,78.5 197.2,77.5 198.9,77.1 200.6,73.5 202.3,73.6 204.0,80.6 205.6,82.8 207.3,87.7 209.0,92.3 210.7,96.4 212.4,99.1 214.1,102.2 215.7,104.8 217.4,108.1 219.1,111.5 220.8,114.7 222.5,120.5 224.2,126.2 225.8,132.8 227.5,138.1 229.2,143.0 230.9,148.9 232.6,155.2 234.3,163.5 235.9,172.4 237.6,180.8 239.3,189.3 241.0,197.7 241.9,202.1 323.2,206.6" stroke="#D95319"/><polyline points="80.4,193.5 127.1,196.1 128.8,193.7 130.5,190.2 132.2,184.8 133.8,179.1 135.5,173.1 137.2,166.2 138.9,160.3 140.6,156.4 142.3,151.6 143.9,147.5 145.6,144.0 147.3,138.6 149.0,134.0 150.7,131.3 152.4,126.3 154.0,120.5 155.7,116.5 157.4,115.1 159.1,111.1 160.8,107.0 162.5,104.2 164.1,99.2 165.8,93.0 167.5,88.3 169.2,85.4 170.9,81.7 172.6,80.0 174.2,77.9 175.9,78.6 177.6,75.0 179.3,71.2 181.0,72.2 182.7,69.8 184.3,68.0 186.0,67.5 187.7,70.0 189.4,73.1 191.1,73.9 192.8,75.4 194.4,74.5 196.1,70.7 197.8,71.2 199.5,73.4 201.2,76.8 202.9,75.2 204.5,74.7 206.2,79.8 207.9,82.4 209.6,84.4 211.3,92.2 213.0,95.7 214.6,99.1 216.3,101.5 218.0,106.0 219.7,108.6 221.4,115.2 223.1,120.4 224.7,125.0 226.4,131.7 228.1,136.2 229.8,142.4 231.5,149.6 233.2,157.3 234.8,165.5 236.5,174.0 238.2,182.7 239.9,191.0 241.6,199.7 242.1,202.4 322.8,206.8" stroke="#0072BD"/><polyline points="80.0,193.7 126.5,196.3 128.1,193.9 129.8,190.3 131.5,184.9 133.2,178.4 134.9,171.9 136.6,167.2 138.2,162.3 139.9,156.7 141.6,151.8 143.3,148.8 145.0,143.8 146.7,138.3 148.3,132.9 150.0,130.0 151.7,127.4 153.4,123.1 155.1,120.1 156.8,115.7 158.4,111.3 160.1,105.9 161.8,101.8 163.5,97.7 165.2,95.3 166.9,87.8 168.5,84.1 170.2,82.2 171.9,81.1 173.6,79.3 175.3,78.2 177.0,76.4 178.6,71.2 180.3,68.4 182.0,68.1 183.7,66.2 185.4,66.6 187.1,67.4 188.7,71.9 190.4,70.0 192.1,71.0 193.8,69.5 195.5,72.0 197.2,69.1 198.8,69.9 200.5,69.7 202.2,74.0 203.9,77.3 205.6,80.0 207.3,84.9 208.9,89.0 210.6,91.4 212.3,95.0 214.0,100.0 215.7,105.0 217.4,110.3 219.0,112.5 220.7,115.2 222.4,119.4 224.1,123.2 225.8,128.4 227.5,134.5 229.1,141.5 230.8,148.0 232.5,153.8 234.2,161.9 235.9,171.3 237.6,179.9 239.2,187.7 240.9,195.9 242.2,202.6 322.4,207.0" stroke="#A2142F"/><polyline points="79.5,194.0 127.5,196.6 129.2,194.4 130.8,191.1 132.5,185.5 134.2,179.0 135.9,172.6 137.6,167.3 139.3,161.4 140.9,155.9 142.6,152.0 144.3,147.5 146.0,143.6 147.7,138.6 149.4,134.2 151.0,130.5 152.7,125.9 154.4,121.0 156.1,116.4 157.8,113.6 159.5,111.2 161.1,108.0 162.8,101.9 164.5,95.4 166.2,87.2 167.9,80.8 169.6,78.5 171.2,76.0 172.9,71.3 174.6,68.3 176.3,62.7 178.0,57.7 179.7,55.5 181.3,57.3 183.0,59.6 184.7,59.9 186.4,61.2 188.1,61.0 189.8,63.7 191.4,62.9 193.1,65.8 194.8,67.9 196.5,69.9 198.2,71.1 199.9,72.8 201.5,70.8 203.2,70.1 204.9,72.0 206.6,75.0 208.3,79.5 210.0,85.7 211.6,89.4 213.3,93.6 215.0,98.3 216.7,103.1 218.4,106.6 220.1,107.6 221.7,115.3 223.4,119.8 225.1,125.8 226.8,130.9 228.5,137.0 230.2,142.7 231.8,149.1 233.5,157.0 235.2,165.4 236.9,174.2 238.6,182.6 240.3,191.3 241.9,200.4 242.4,202.9 321.9,207.3" stroke="#4DBEEE"/><polyline points="79.1,194.2 127.4,196.9 129.1,194.5 130.8,191.0 132.5,185.4 134.1,177.8 135.8,171.0 137.5,165.4 139.2,160.9 140.9,155.8 142.6,151.9 144.2,148.0 145.9,144.1 147.6,139.2 149.3,134.4 151.0,130.0 152.7,124.8 154.3,121.3 156.0,117.2 157.7,112.4 159.4,108.6 161.1,107.4 162.8,104.4 164.4,98.7 166.1,91.9 167.8,89.0 169.5,87.0 171.2,84.2 172.9,80.6 174.5,76.5 176.2,73.4 177.9,71.3 179.6,74.2 181.3,71.1 183.0,66.9 184.6,69.3 186.3,68.6 188.0,70.5 189.7,70.1 191.4,68.6 193.1,68.5 194.7,70.1 196.4,72.3 198.1,73.6 199.8,74.1 201.5,77.3 203.2,79.5 204.8,83.0 206.5,85.0 208.2,84.4 209.9,87.7 211.6,91.3 213.3,99.7 214.9,102.1 216.6,106.0 218.3,111.1 220.0,115.6 221.7,121.9 223.4,125.8 225.0,130.2 226.7,137.2 228.4,143.8 230.1,148.4 231.8,155.6 233.5,163.2 235.1,172.0 236.8,180.9 238.5,189.8 240.2,198.9 241.0,203.1 321.5,207.5" stroke="#77AC30"/><polyline points="78.7,194.4 126.7,197.1 128.4,194.7 130.1,191.3 131.8,186.1 133.5,179.3 135.2,173.0 136.8,167.7 138.5,162.2 140.2,156.6 141.9,152.2 143.6,147.0 145.3,142.9 146.9,138.4 148.6,133.8 150.3,128.8 152.0,124.7 153.7,119.9 155.4,116.4 157.0,111.9 158.7,108.9 160.4,104.9 162.1,101.6 163.8,96.9 165.5,94.0 167.1,90.1 168.8,88.4 170.5,85.3 172.2,83.7 173.9,80.4 175.6,77.8 177.2,70.1 178.9,65.5 180.6,62.8 182.3,65.0 184.0,67.0 185.7,65.4 187.3,65.6 189.0,65.7 190.7,68.0 192.4,73.0 194.1,76.7 195.8,73.6 197.4,70.3 199.1,69.0 200.8,72.1 202.5,77.0 204.2,80.5 205.9,82.7 207.5,86.4 209.2,91.0 210.9,94.5 212.6,97.2 214.3,102.6 216.0,109.3 217.6,112.0 219.3,116.5 221.0,121.9 222.7,127.1 224.4,131.9 226.1,135.8 227.7,142.6 229.4,149.6 231.1,157.1 232.8,165.5 234.5,173.9 236.2,182.5 237.8,191.2 239.5,200.1 240.1,203.3 321.1,207.7" stroke="#7E2F8E"/><polyline points="78.2,194.7 125.2,197.2 126.8,195.0 128.5,191.5 130.2,186.3 131.9,180.2 133.6,174.8 135.3,169.4 136.9,164.4 138.6,158.5 140.3,153.3 142.0,149.3 143.7,145.4 145.4,140.7 147.0,136.7 148.7,133.8 150.4,129.8 152.1,126.0 153.8,122.2 155.5,116.0 157.1,111.0 158.8,106.7 160.5,104.0 162.2,100.4 163.9,98.8 165.6,95.6 167.2,92.8 168.9,87.6 170.6,82.4 172.3,81.8 174.0,80.6 175.7,77.9 177.3,78.7 179.0,80.2 180.7,77.4 182.4,79.3 184.1,76.7 185.8,75.6 187.4,73.2 189.1,71.7 190.8,71.6 192.5,70.6 194.2,71.2 195.9,73.6 197.5,74.8 199.2,75.2 200.9,77.2 202.6,81.0 204.3,84.7 206.0,87.3 207.6,90.8 209.3,95.0 211.0,98.9 212.7,103.8 214.4,107.8 216.1,111.3 217.7,114.0 219.4,118.8 221.1,124.3 222.8,130.3 224.5,134.9 226.2,141.0 227.8,147.6 229.5,153.5 231.2,160.1 232.9,167.9 234.6,176.7 236.3,185.1 237.9,192.8 239.6,201.1 240.1,203.5 320.6,208.0" stroke="#EDB120"/><polyline points="77.8,194.9 123.9,197.4 125.6,195.2 127.3,192.0 129.0,187.0 130.7,180.8 132.4,174.8 134.0,169.4 135.7,164.3 137.4,159.6 139.1,154.9 140.8,150.7 142.5,147.1 144.1,142.9 145.8,138.4 147.5,132.6 149.2,127.8 150.9,124.3 152.6,121.1 154.2,119.7 155.9,118.1 157.6,113.7 159.3,109.8 161.0,104.6 162.7,100.1 164.3,99.2 166.0,94.9 167.7,90.8 169.4,86.7 171.1,84.5 172.8,83.2 174.4,80.4 176.1,76.4 177.8,78.7 179.5,77.5 181.2,77.5 182.9,76.3 184.5,78.4 186.2,75.1 187.9,73.0 189.6,69.5 191.3,72.4 193.0,78.5 194.6,78.4 196.3,76.9 198.0,76.8 199.7,80.3 201.4,83.3 203.1,85.7 204.7,90.1 206.4,91.9 208.1,94.4 209.8,97.7 211.5,100.7 213.2,105.3 214.8,109.5 216.5,111.4 218.2,114.8 219.9,119.1 221.6,125.2 223.3,130.0 224.9,135.8 226.6,141.3 228.3,148.2 230.0,154.9 231.7,162.4 233.4,170.8 235.0,179.1 236.7,187.0 238.4,195.1 240.1,203.6 240.1,203.8 320.2,208.2" stroke="#D95319"/><polyline points="77.4,195.1 127.1,197.9 128.7,195.5 130.4,192.1 132.1,186.2 133.8,179.4 135.5,173.3 137.2,167.7 138.8,162.3 140.5,157.0 142.2,152.5 143.9,148.6 145.6,145.8 147.3,141.2 148.9,137.4 150.6,133.2 152.3,128.8 154.0,125.3 155.7,118.4 157.4,114.2 159.0,111.4 160.7,108.9 162.4,106.1 164.1,102.5 165.8,99.1 167.5,93.4 169.1,89.1 170.8,84.8 172.5,82.1 174.2,80.8 175.9,76.1 177.6,70.8 179.2,71.6 180.9,72.7 182.6,75.3 184.3,75.2 186.0,74.4 187.7,70.5 189.3,71.4 191.0,73.6 192.7,76.7 194.4,79.0 196.1,80.0 197.8,78.8 199.4,78.8 201.1,77.4 202.8,80.0 204.5,84.2 206.2,85.0 207.9,87.1 209.5,93.1 211.2,97.3 212.9,102.1 214.6,104.0 216.3,108.5 218.0,114.0 219.6,120.4 221.3,126.9 223.0,131.9 224.7,137.4 226.4,141.2 228.1,145.7 229.7,153.2 231.4,160.5 233.1,168.5 234.8,177.3 236.5,186.1 238.2,194.8 239.8,203.6 239.9,204.0 319.8,208.4" stroke="#0072BD"/><polyline points="77.0,195.4 126.4,198.1 128.1,195.8 129.7,192.4 131.4,187.2 133.1,180.1 134.8,173.8 136.5,168.6 138.2,163.3 139.8,158.3 141.5,153.1 143.2,149.8 144.9,146.4 146.6,141.4 148.3,138.6 149.9,135.2 151.6,130.3 153.3,126.5 155.0,122.8 156.7,118.4 158.4,114.3 160.0,109.8 161.7,106.1 163.4,99.7 165.1,97.8 166.8,96.1 168.5,92.1 170.1,88.4 171.8,84.2 173.5,81.5 175.2,79.0 176.9,77.1 178.6,74.5 180.2,74.1 181.9,77.5 183.6,74.9 185.3,74.3 187.0,76.5 188.7,75.6 190.3,77.6 192.0,77.4 193.7,77.9 195.4,78.8 197.1,82.8 198.8,82.9 200.4,85.1 202.1,86.3 203.8,90.1 205.5,91.9 207.2,94.7 208.9,101.8 210.5,105.3 212.2,107.9 213.9,109.7 215.6,112.5 217.3,115.7 219.0,118.8 220.6,123.9 222.3,129.4 224.0,136.1 225.7,142.4 227.4,148.6 229.1,155.9 230.7,163.5 232.4,171.5 234.1,179.8 235.8,188.3 237.5,196.7 238.9,204.2 319.4,208.7" stroke="#A2142F"/><polyline points="76.5,195.6 125.0,198.2 126.7,196.0 128.3,192.6 130.0,187.1 131.7,180.5 133.4,174.4 135.1,169.3 136.8,163.6 138.4,158.1 140.1,153.8 141.8,149.3 143.5,143.8 145.2,140.1 146.9,137.0 148.5,130.6 150.2,126.3 151.9,123.6 153.6,120.6 155.3,117.9 157.0,114.7 158.6,110.6 160.3,106.1 162.0,100.4 163.7,96.4 165.4,90.5 167.1,87.1 168.7,84.7 170.4,85.3 172.1,83.7 173.8,82.2 175.5,77.4 177.2,74.4 178.8,74.9 180.5,77.0 182.2,78.3 183.9,76.3 185.6,74.5 187.3,73.9 188.9,72.0 190.6,71.9 192.3,71.2 194.0,71.9 195.7,73.0 197.4,78.6 199.0,83.0 200.7,83.2 202.4,87.1 204.1,87.8 205.8,89.0 207.5,93.6 209.1,98.7 210.8,102.7 212.5,108.4 214.2,112.0 215.9,115.8 217.6,121.1 219.2,124.3 220.9,130.7 222.6,136.4 224.3,141.1 226.0,145.8 227.7,152.8 229.3,160.3 231.0,167.7 232.7,175.7 234.4,184.4 236.1,192.6 237.8,201.4 238.4,204.5 318.9,208.9" stroke="#4DBEEE"/><polyline points="76.1,195.8 122.8,198.4 124.5,196.1 126.2,192.8 127.8,187.8 129.5,181.7 131.2,176.1 132.9,170.2 134.6,164.4 136.3,158.1 137.9,153.9 139.6,150.2 141.3,144.9 143.0,141.1 144.7,136.9 146.4,133.7 148.0,128.7 149.7,123.4 151.4,121.0 153.1,118.9 154.8,118.5 156.5,113.4 158.1,108.1 159.8,102.1 161.5,100.2 163.2,97.1 164.9,95.3 166.6,93.6 168.2,86.6 169.9,81.7 171.6,75.9 173.3,75.1 175.0,75.7 176.7,72.5 178.3,73.7 180.0,75.6 181.7,74.2 183.4,73.3 185.1,71.0 186.8,72.2 188.4,71.1 190.1,77.0 191.8,78.6 193.5,76.1 195.2,73.8 196.9,73.0 198.5,76.1 200.2,78.4 201.9,80.2 203.6,85.1 205.3,90.0 207.0,95.4 208.6,99.1 210.3,101.8 212.0,108.9 213.7,112.3 215.4,114.9 217.1,117.1 218.7,123.1 220.4,125.3 222.1,130.4 223.8,136.4 225.5,142.5 227.2,148.3 228.8,154.3 230.5,161.0 232.2,169.4 233.9,178.1 235.6,186.4 237.3,194.8 238.9,203.3 239.2,204.8 318.5,209.1" stroke="#77AC30"/><polyline points="75.7,196.1 122.7,198.6 124.4,196.3 126.0,192.9 127.7,187.6 129.4,181.0 131.1,175.3 132.8,169.8 134.5,164.4 136.1,157.4 137.8,152.0 139.5,149.1 141.2,146.5 142.9,142.9 144.6,140.2 146.2,135.8 147.9,130.7 149.6,124.9 151.3,120.5 153.0,118.2 154.7,116.5 156.3,114.3 158.0,106.9 159.7,100.1 161.4,96.8 163.1,95.1 164.8,91.9 166.4,89.6 168.1,86.5 169.8,82.7 171.5,77.8 173.2,74.9 174.9,76.2 176.5,74.4 178.2,75.5 179.9,75.3 181.6,70.9 183.3,72.1 185.0,72.4 186.6,74.2 188.3,76.6 190.0,76.2 191.7,79.9 193.4,78.8 195.1,79.9 196.7,76.7 198.4,77.1 200.1,82.0 201.8,89.4 203.5,93.3 205.2,96.8 206.8,99.3 208.5,103.7 210.2,107.9 211.9,112.7 213.6,115.1 215.3,118.1 216.9,122.9 218.6,128.4 220.3,134.2 222.0,141.4 223.7,147.2 225.4,152.3 227.0,159.7 228.7,167.5 230.4,175.8 232.1,184.2 233.8,192.7 235.5,201.3 236.1,204.9 318.1,209.4" stroke="#7E2F8E"/><polyline points="75.2,196.3 121.1,198.8 122.8,196.6 124.5,193.5 126.2,188.6 127.9,182.6 129.5,176.7 131.2,171.6 132.9,166.3 134.6,161.2 136.3,156.2 138.0,151.3 139.6,148.4 141.3,145.0 143.0,139.9 144.7,134.9 146.4,131.0 148.1,127.8 149.7,124.3 151.4,122.5 153.1,116.6 154.8,111.5 156.5,108.2 158.2,102.8 159.8,101.4 161.5,95.6 163.2,96.1 164.9,92.4 166.6,88.3 168.3,85.7 169.9,85.8 171.6,84.8 173.3,79.7 175.0,73.7 176.7,71.8 178.4,75.1 180.0,75.3 181.7,75.6 183.4,76.5 185.1,79.8 186.8,82.4 188.5,81.7 190.1,83.4 191.8,80.0 193.5,78.5 195.2,80.0 196.9,76.5 198.6,76.5 200.2,81.1 201.9,84.4 203.6,90.4 205.3,96.1 207.0,100.2 208.7,102.3 210.3,102.7 212.0,106.4 213.7,109.4 215.4,112.5 217.1,117.6 218.8,123.0 220.4,130.0 222.1,134.7 223.8,138.9 225.5,145.8 227.2,151.0 228.9,158.1 230.5,166.1 232.2,174.1 233.9,181.6 235.6,189.4 237.3,197.3 238.9,205.3 317.6,209.6" stroke="#EDB120"/><polyline points="74.8,196.5 125.7,199.3 127.4,196.9 129.0,193.3 130.7,187.7 132.4,181.0 134.1,175.8 135.8,170.4 137.5,164.9 139.1,158.1 140.8,153.8 142.5,149.4 144.2,145.6 145.9,143.9 147.6,140.4 149.2,134.4 150.9,130.1 152.6,124.8 154.3,118.3 156.0,114.0 157.7,114.1 159.3,111.9 161.0,108.2 162.7,106.0 164.4,99.8 166.1,95.4 167.8,91.2 169.4,86.6 171.1,84.1 172.8,82.8 174.5,82.7 176.2,78.9 177.9,78.8 179.5,78.5 181.2,78.4 182.9,76.5 184.6,75.1 186.3,76.9 188.0,77.5 189.6,80.2 191.3,77.4 193.0,77.7 194.7,80.0 196.4,82.2 198.1,82.2 199.7,81.8 201.4,81.4 203.1,88.1 204.8,90.9 206.5,96.0 208.2,99.7 209.8,102.2 211.5,108.3 213.2,112.8 214.9,117.6 216.6,121.4 218.3,126.3 219.9,130.8 221.6,136.0 223.3,140.5 225.0,147.5 226.7,154.0 228.4,160.5 230.0,167.7 231.7,176.0 233.4,184.2 235.1,193.3 236.8,202.1 237.4,205.4 317.2,209.8" stroke="#D95319"/><polyline points="74.4,196.8 122.0,199.4 123.7,197.1 125.4,193.7 127.1,188.4 128.8,182.4 130.4,176.5 132.1,170.3 133.8,165.8 135.5,160.0 137.2,155.4 138.9,151.1 140.5,146.5 142.2,143.2 143.9,139.3 145.6,134.7 147.3,130.0 149.0,125.0 150.6,118.6 152.3,115.2 154.0,111.7 155.7,109.7 157.4,108.3 159.1,103.3 160.7,100.7 162.4,100.2 164.1,96.2 165.8,91.0 167.5,86.3 169.2,79.8 170.8,79.5 172.5,81.7 174.2,79.2 175.9,76.8 177.6,74.8 179.3,77.1 180.9,78.6 182.6,78.1 184.3,75.3 186.0,75.7 187.7,75.4 189.4,76.4 191.0,78.5 192.7,77.7 194.4,76.0 196.1,79.9 197.8,81.0 199.5,83.5 201.1,86.1 202.8,91.5 204.5,98.0 206.2,102.7 207.9,108.8 209.6,113.3 211.2,115.6 212.9,116.6 214.6,122.3 216.3,124.9 218.0,128.3 219.7,133.6 221.3,138.8 223.0,145.6 224.7,152.4 226.4,159.6 228.1,167.1 229.8,175.3 231.4,183.2 233.1,190.8 234.8,199.3 236.0,205.6 316.8,210.0" stroke="#0072BD"/><polyline points="74.0,197.0 122.5,199.6 124.1,197.4 125.8,194.0 127.5,188.7 129.2,181.8 130.9,175.7 132.6,169.7 134.2,164.5 135.9,158.9 137.6,153.8 139.3,148.5 141.0,145.3 142.7,141.3 144.3,137.3 146.0,135.5 147.7,133.0 149.4,128.5 151.1,123.8 152.8,118.5 154.4,113.9 156.1,109.0 157.8,105.5 159.5,99.6 161.2,95.0 162.9,93.4 164.5,89.1 166.2,84.7 167.9,82.1 169.6,79.0 171.3,76.0 173.0,77.7 174.6,76.7 176.3,76.1 178.0,75.3 179.7,73.5 181.4,73.0 183.1,72.3 184.7,72.9 186.4,75.2 188.1,75.9 189.8,76.8 191.5,76.4 193.2,77.5 194.8,79.2 196.5,81.0 198.2,85.2 199.9,85.8 201.6,84.6 203.3,85.0 204.9,91.3 206.6,97.1 208.3,102.7 210.0,105.4 211.7,108.6 213.4,111.2 215.0,115.4 216.7,118.5 218.4,124.9 220.1,128.5 221.8,135.9 223.5,141.4 225.1,147.8 226.8,155.2 228.5,163.1 230.2,171.0 231.9,179.3 233.6,188.0 235.2,196.2 236.9,204.9 237.1,205.9 316.4,210.3" stroke="#A2142F"/><polyline points="73.5,197.2 120.0,199.8 121.7,197.5 123.4,194.0 125.1,189.2 126.8,182.9 128.5,177.2 130.1,171.1 131.8,164.6 133.5,159.5 135.2,155.3 136.9,151.6 138.6,146.7 140.2,142.6 141.9,140.6 143.6,137.2 145.3,132.3 147.0,126.5 148.7,121.8 150.3,117.0 152.0,112.7 153.7,108.7 155.4,105.5 157.1,101.9 158.8,98.0 160.4,93.9 162.1,91.8 163.8,89.8 165.5,88.6 167.2,84.5 168.9,80.2 170.5,76.2 172.2,74.3 173.9,71.9 175.6,75.2 177.3,75.2 179.0,76.1 180.6,77.2 182.3,76.2 184.0,74.5 185.7,72.7 187.4,72.3 189.1,73.2 190.7,74.8 192.4,74.9 194.1,76.8 195.8,78.0 197.5,80.6 199.2,85.4 200.8,87.9 202.5,89.6 204.2,94.4 205.9,99.2 207.6,104.6 209.3,110.4 210.9,112.8 212.6,116.6 214.3,121.9 216.0,126.0 217.7,131.6 219.4,135.1 221.0,140.2 222.7,145.9 224.4,153.8 226.1,160.9 227.8,168.5 229.5,175.7 231.1,183.6 232.8,192.5 234.5,201.0 235.5,206.1 315.9,210.5" stroke="#4DBEEE"/><polyline points="73.1,197.4 120.3,200.0 122.0,197.7 123.7,194.4 125.3,189.4 127.0,182.9 128.7,177.0 130.4,170.8 132.1,164.7 133.8,159.0 135.4,154.3 137.1,150.8 138.8,146.7 140.5,142.3 142.2,137.3 143.9,133.2 145.5,129.6 147.2,127.8 148.9,123.6 150.6,120.0 152.3,115.5 154.0,112.0 155.6,109.8 157.3,106.9 159.0,102.1 160.7,99.3 162.4,94.3 164.1,91.4 165.7,88.3 167.4,84.8 169.1,83.8 170.8,77.7 172.5,73.5 174.2,73.3 175.8,72.9 177.5,72.1 179.2,72.0 180.9,73.1 182.6,73.2 184.3,70.5 185.9,69.0 187.6,71.2 189.3,74.9 191.0,77.0 192.7,79.3 194.4,79.1 196.0,79.6 197.7,80.5 199.4,81.5 201.1,85.7 202.8,91.5 204.5,96.1 206.1,101.3 207.8,107.0 209.5,104.8 211.2,108.3 212.9,111.3 214.6,115.9 216.2,122.0 217.9,125.6 219.6,133.9 221.3,139.3 223.0,145.5 224.7,151.1 226.3,157.4 228.0,165.8 229.7,174.1 231.4,182.6 233.1,190.9 234.8,199.8 236.0,206.4 315.5,210.7" stroke="#77AC30"/><polyline points="72.7,197.7 120.0,200.3 121.7,198.0 123.4,194.7 125.1,189.5 126.8,183.3 128.5,177.1 130.1,170.9 131.8,166.0 133.5,161.0 135.2,157.7 136.9,153.9 138.6,150.0 140.2,145.5 141.9,139.5 143.6,136.8 145.3,133.3 147.0,129.8 148.7,121.7 150.3,116.5 152.0,111.7 153.7,108.1 155.4,108.0 157.1,104.9 158.8,101.1 160.4,95.0 162.1,91.4 163.8,89.7 165.5,87.4 167.2,86.3 168.9,85.1 170.5,85.9 172.2,82.8 173.9,80.7 175.6,76.1 177.3,76.5 179.0,76.1 180.6,78.6 182.3,79.1 184.0,77.4 185.7,79.0 187.4,79.8 189.1,80.7 190.7,79.2 192.4,78.5 194.1,80.6 195.8,83.3 197.5,85.6 199.2,89.4 200.8,90.2 202.5,92.4 204.2,97.1 205.9,101.7 207.6,105.1 209.3,107.0 210.9,110.3 212.6,116.3 214.3,120.4 216.0,126.6 217.7,131.1 219.4,135.1 221.0,140.5 222.7,146.9 224.4,153.3 226.1,159.6 227.8,167.6 229.5,175.2 231.1,183.6 232.8,191.7 234.5,200.5 235.7,206.6 315.1,211.0" stroke="#7E2F8E"/><polyline points="72.3,197.9 120.4,200.6 122.0,198.2 123.7,194.8 125.4,189.5 127.1,183.1 128.8,177.8 130.5,172.2 132.1,166.3 133.8,162.2 135.5,157.8 137.2,153.2 138.9,148.9 140.6,144.7 142.2,138.9 143.9,133.8 145.6,129.7 147.3,128.4 149.0,125.1 150.7,121.4 152.3,119.6 154.0,115.6 155.7,108.9 157.4,104.7 159.1,101.7 160.8,99.5 162.4,98.2 164.1,96.4 165.8,92.5 167.5,88.8 169.2,82.4 170.9,76.6 172.5,76.8 174.2,79.8 175.9,82.0 177.6,79.2 179.3,81.1 181.0,80.0 182.6,80.2 184.3,76.1 186.0,74.4 187.7,76.6 189.4,80.6 191.1,81.6 192.7,83.8 194.4,86.1 196.1,85.2 197.8,85.5 199.5,91.5 201.2,95.8 202.8,96.2 204.5,100.9 206.2,104.3 207.9,107.6 209.6,112.3 211.3,114.9 212.9,119.1 214.6,125.2 216.3,128.8 218.0,134.5 219.7,140.9 221.4,145.7 223.0,150.8 224.7,157.8 226.4,164.3 228.1,171.5 229.8,179.9 231.5,188.3 233.1,196.8 234.8,205.0 235.2,206.8 314.7,211.2" stroke="#EDB120"/><polyline points="71.8,198.1 117.2,200.6 118.9,198.5 120.6,195.3 122.3,190.3 124.0,184.2 125.6,178.2 127.3,173.1 129.0,167.9 130.7,162.5 132.4,157.6 134.1,152.9 135.7,148.3 137.4,145.1 139.1,141.1 140.8,136.5 142.5,133.1 144.2,130.0 145.8,126.6 147.5,123.2 149.2,118.4 150.9,114.2 152.6,110.4 154.3,105.8 155.9,100.9 157.6,98.3 159.3,95.3 161.0,93.1 162.7,89.5 164.4,84.5 166.0,79.8 167.7,81.2 169.4,81.5 171.1,77.9 172.8,73.0 174.5,73.6 176.1,74.0 177.8,78.6 179.5,81.8 181.2,81.0 182.9,80.7 184.6,81.7 186.2,78.7 187.9,81.2 189.6,83.9 191.3,85.4 193.0,83.6 194.7,82.1 196.3,85.1 198.0,90.8 199.7,97.0 201.4,98.9 203.1,99.1 204.8,101.4 206.4,108.0 208.1,113.2 209.8,116.6 211.5,117.9 213.2,121.8 214.9,126.8 216.5,131.5 218.2,137.9 219.9,144.2 221.6,150.0 223.3,156.0 225.0,160.8 226.6,167.1 228.3,175.6 230.0,184.1 231.7,192.4 233.4,200.7 234.7,207.1 314.2,211.4" stroke="#D95319"/><polyline points="71.4,198.4 120.3,201.1 122.0,198.8 123.7,195.3 125.4,190.3 127.0,183.8 128.7,177.9 130.4,172.4 132.1,166.7 133.8,162.0 135.5,157.5 137.1,153.8 138.8,149.2 140.5,145.1 142.2,140.5 143.9,138.6 145.6,135.0 147.2,128.8 148.9,122.8 150.6,120.1 152.3,115.4 154.0,112.8 155.7,110.4 157.3,105.7 159.0,101.1 160.7,99.1 162.4,98.5 164.1,96.2 165.8,92.2 167.4,81.7 169.1,78.0 170.8,79.8 172.5,79.2 174.2,80.9 175.9,81.5 177.5,78.8 179.2,76.5 180.9,75.9 182.6,81.3 184.3,84.0 186.0,81.6 187.6,82.3 189.3,82.0 191.0,80.3 192.7,79.3 194.4,80.1 196.1,83.7 197.7,88.0 199.4,90.8 201.1,93.5 202.8,96.7 204.5,102.1 206.2,105.8 207.8,108.5 209.5,111.8 211.2,116.2 212.9,120.9 214.6,126.0 216.3,130.0 217.9,134.2 219.6,140.6 221.3,147.3 223.0,152.5 224.7,157.3 226.4,164.4 228.0,173.4 229.7,182.6 231.4,191.2 233.1,199.6 234.6,207.3 313.8,211.7" stroke="#0072BD"/><polyline points="71.0,198.6 118.9,201.2 120.5,198.9 122.2,195.5 123.9,190.1 125.6,183.3 127.3,177.3 129.0,171.5 130.6,165.7 132.3,160.2 134.0,156.0 135.7,152.0 137.4,147.3 139.1,143.4 140.7,138.7 142.4,135.2 144.1,130.9 145.8,127.7 147.5,123.6 149.2,120.3 150.8,117.7 152.5,115.6 154.2,110.1 155.9,106.5 157.6,103.4 159.3,98.7 160.9,91.0 162.6,87.1 164.3,85.8 166.0,82.3 167.7,79.1 169.4,77.3 171.0,78.0 172.7,76.1 174.4,76.0 176.1,77.7 177.8,79.4 179.5,77.8 181.1,79.1 182.8,78.7 184.5,73.4 186.2,75.1 187.9,76.9 189.6,78.8 191.2,80.8 192.9,82.0 194.6,82.9 196.3,87.2 198.0,88.3 199.7,90.4 201.3,96.8 203.0,98.0 204.7,101.7 206.4,103.6 208.1,108.8 209.8,116.0 211.4,121.1 213.1,125.4 214.8,129.4 216.5,135.9 218.2,142.9 219.9,148.8 221.5,155.9 223.2,163.4 224.9,171.0 226.6,178.3 228.3,187.6 230.0,196.2 231.6,204.8 232.2,207.4 313.4,211.9" stroke="#A2142F"/><polyline points="70.5,198.8 118.8,201.5 120.4,199.2 122.1,195.7 123.8,190.3 125.5,183.3 127.2,176.9 128.9,170.8 130.5,165.2 132.2,160.3 133.9,154.2 135.6,149.5 137.3,144.2 139.0,141.4 140.6,138.8 142.3,134.7 144.0,129.0 145.7,122.7 147.4,118.1 149.1,115.2 150.7,111.7 152.4,109.4 154.1,106.8 155.8,101.5 157.5,97.8 159.2,92.8 160.8,91.8 162.5,88.8 164.2,86.6 165.9,82.6 167.6,79.7 169.3,75.3 170.9,75.6 172.6,77.8 174.3,76.7 176.0,75.3 177.7,76.7 179.4,80.4 181.0,79.1 182.7,78.5 184.4,76.7 186.1,81.5 187.8,81.5 189.5,79.9 191.1,80.3 192.8,81.6 194.5,85.5 196.2,87.6 197.9,90.8 199.6,92.5 201.2,97.1 202.9,101.3 204.6,107.3 206.3,110.7 208.0,114.5 209.7,118.0 211.3,122.2 213.0,127.2 214.7,134.1 216.4,139.2 218.1,145.1 219.8,150.8 221.4,156.6 223.1,164.6 224.8,173.0 226.5,181.7 228.2,190.2 229.9,199.3 231.5,207.7 312.9,212.1" stroke="#4DBEEE"/><polyline points="70.1,199.1 115.8,201.6 117.5,199.4 119.2,196.2 120.9,191.0 122.5,184.6 124.2,178.4 125.9,173.4 127.6,168.2 129.3,161.2 131.0,156.4 132.6,153.3 134.3,149.7 136.0,145.7 137.7,140.6 139.4,137.3 141.1,132.9 142.7,130.1 144.4,126.6 146.1,121.3 147.8,118.2 149.5,115.4 151.2,112.0 152.8,107.4 154.5,103.4 156.2,97.2 157.9,94.1 159.6,94.1 161.3,92.5 162.9,88.0 164.6,85.1 166.3,84.6 168.0,81.8 169.7,79.7 171.4,80.7 173.0,82.6 174.7,82.1 176.4,77.9 178.1,76.5 179.8,73.9 181.5,74.1 183.1,74.8 184.8,79.5 186.5,81.8 188.2,80.9 189.9,80.1 191.6,80.7 193.2,80.7 194.9,84.4 196.6,87.6 198.3,94.0 200.0,100.2 201.7,105.4 203.3,108.4 205.0,111.2 206.7,112.9 208.4,117.6 210.1,118.0 211.8,121.0 213.4,129.2 215.1,134.7 216.8,140.4 218.5,144.9 220.2,149.8 221.9,156.4 223.5,165.6 225.2,172.8 226.9,179.9 228.6,188.2 230.3,196.8 232.0,205.1 232.5,208.0 312.5,212.4" stroke="#77AC30"/><polyline points="69.7,199.3 119.7,202.0 121.4,199.7 123.0,196.1 124.7,190.7 126.4,183.6 128.1,176.9 129.8,171.6 131.5,164.5 133.1,160.4 134.8,156.3 136.5,153.5 138.2,150.9 139.9,147.1 141.6,143.0 143.2,136.4 144.9,130.6 146.6,127.6 148.3,122.6 150.0,117.5 151.7,112.4 153.3,110.2 155.0,106.6 156.7,102.4 158.4,97.8 160.1,93.0 161.8,88.5 163.4,85.7 165.1,84.6 166.8,81.7 168.5,79.4 170.2,78.7 171.9,78.9 173.5,77.1 175.2,76.9 176.9,78.9 178.6,77.3 180.3,78.9 182.0,77.0 183.6,74.5 185.3,76.3 187.0,78.0 188.7,76.4 190.4,77.9 192.1,80.1 193.7,84.6 195.4,85.6 197.1,91.5 198.8,94.6 200.5,98.8 202.2,101.2 203.8,105.0 205.5,107.4 207.2,110.4 208.9,116.1 210.6,122.1 212.3,126.6 213.9,131.8 215.6,136.0 217.3,141.7 219.0,148.9 220.7,155.9 222.4,163.1 224.0,171.1 225.7,179.8 227.4,188.0 229.1,196.6 230.8,205.4 231.3,208.2 312.1,212.6" stroke="#7E2F8E"/><polyline points="69.3,199.5 116.5,202.1 118.2,199.8 119.9,196.5 121.6,191.4 123.3,184.9 124.9,179.0 126.6,174.2 128.3,168.7 130.0,163.7 131.7,158.7 133.4,154.6 135.0,149.4 136.7,145.3 138.4,142.0 140.1,138.7 141.8,133.4 143.5,129.0 145.1,125.7 146.8,123.2 148.5,119.4 150.2,114.2 151.9,109.5 153.6,104.6 155.2,101.6 156.9,99.3 158.6,95.7 160.3,92.9 162.0,90.2 163.7,88.8 165.3,84.5 167.0,81.6 168.7,78.8 170.4,77.1 172.1,74.6 173.8,73.0 175.4,78.1 177.1,78.3 178.8,80.0 180.5,80.5 182.2,80.3 183.9,80.3 185.5,80.1 187.2,81.9 188.9,86.0 190.6,87.7 192.3,86.6 194.0,84.6 195.6,86.8 197.3,88.2 199.0,91.3 200.7,98.1 202.4,102.5 204.1,105.6 205.7,111.3 207.4,115.0 209.1,118.8 210.8,122.3 212.5,126.1 214.2,131.4 215.8,135.6 217.5,140.4 219.2,145.6 220.9,150.5 222.6,158.2 224.3,165.4 225.9,174.5 227.6,182.5 229.3,190.6 231.0,198.8 232.7,207.4 232.9,208.5 311.7,212.8" stroke="#EDB120"/><polyline points="68.8,199.8 118.2,202.5 119.9,200.2 121.6,197.0 123.2,192.1 124.9,185.6 126.6,179.5 128.3,174.3 130.0,169.6 131.7,164.0 133.3,159.7 135.0,155.1 136.7,152.5 138.4,148.4 140.1,144.5 141.8,139.3 143.4,134.8 145.1,129.4 146.8,124.6 148.5,121.8 150.2,118.6 151.9,115.6 153.5,112.0 155.2,107.1 156.9,103.1 158.6,99.8 160.3,94.5 162.0,92.1 163.6,90.7 165.3,89.4 167.0,89.1 168.7,86.2 170.4,85.4 172.1,86.7 173.7,83.1 175.4,81.0 177.1,78.9 178.8,76.5 180.5,78.6 182.2,79.1 183.8,79.1 185.5,81.4 187.2,84.7 188.9,88.3 190.6,87.8 192.3,84.0 193.9,83.5 195.6,86.5 197.3,89.9 199.0,95.4 200.7,97.5 202.4,100.9 204.0,102.2 205.7,106.4 207.4,111.2 209.1,115.6 210.8,119.4 212.5,123.9 214.1,129.4 215.8,135.0 217.5,136.5 219.2,141.4 220.9,147.2 222.6,154.9 224.2,161.9 225.9,169.6 227.6,179.0 229.3,186.1 231.0,194.2 232.7,202.4 234.0,208.8 311.2,213.1" stroke="#D95319"/><polyline points="68.4,200.0 114.9,202.6 116.6,200.3 118.3,196.9 120.0,191.8 121.7,185.6 123.4,179.1 125.0,173.5 126.7,168.8 128.4,164.0 130.1,158.7 131.8,154.1 133.5,149.4 135.1,144.8 136.8,142.8 138.5,138.0 140.2,132.8 141.9,128.2 143.6,124.8 145.2,119.9 146.9,115.6 148.6,109.0 150.3,111.9 152.0,110.1 153.7,103.7 155.3,97.8 157.0,93.5 158.7,93.5 160.4,92.5 162.1,90.8 163.8,87.2 165.4,83.2 167.1,81.2 168.8,80.5 170.5,79.9 172.2,80.6 173.9,76.7 175.5,74.4 177.2,76.3 178.9,75.9 180.6,75.7 182.3,76.8 184.0,78.0 185.6,75.0 187.3,73.5 189.0,78.4 190.7,81.1 192.4,81.8 194.1,85.4 195.7,91.5 197.4,96.8 199.1,99.1 200.8,101.3 202.5,106.9 204.2,111.2 205.8,114.1 207.5,118.1 209.2,121.8 210.9,123.4 212.6,128.2 214.3,134.8 215.9,143.4 217.6,148.2 219.3,152.9 221.0,159.2 222.7,168.2 224.4,176.9 226.0,185.4 227.7,192.8 229.4,201.1 230.9,208.9 310.8,213.3" stroke="#0072BD"/><polyline points="68.0,200.2 116.2,202.9 117.9,200.7 119.6,197.4 121.3,192.0 123.0,185.6 124.6,179.8 126.3,174.1 128.0,168.1 129.7,162.8 131.4,158.0 133.1,155.4 134.7,152.1 136.4,148.0 138.1,143.4 139.8,136.6 141.5,131.1 143.2,126.1 144.8,124.7 146.5,121.0 148.2,117.5 149.9,114.6 151.6,110.0 153.3,105.8 154.9,102.1 156.6,99.8 158.3,96.4 160.0,89.9 161.7,86.5 163.4,83.9 165.0,82.9 166.7,82.0 168.4,78.9 170.1,78.0 171.8,76.9 173.5,73.3 175.1,72.6 176.8,77.5 178.5,75.6 180.2,77.0 181.9,80.9 183.6,79.8 185.2,79.4 186.9,82.3 188.6,84.3 190.3,85.0 192.0,84.8 193.7,84.1 195.3,88.8 197.0,96.1 198.7,97.6 200.4,101.3 202.1,102.3 203.8,105.1 205.4,110.5 207.1,113.3 208.8,116.5 210.5,121.6 212.2,128.9 213.9,134.3 215.5,140.3 217.2,145.0 218.9,150.6 220.6,158.1 222.3,164.5 224.0,171.6 225.6,180.2 227.3,189.2 229.0,197.3 230.7,205.7 231.4,209.2 310.4,213.5" stroke="#A2142F"/><polyline points="67.5,200.5 115.9,203.1 117.6,200.9 119.2,197.6 120.9,192.2 122.6,185.7 124.3,180.1 126.0,174.4 127.7,168.2 129.3,163.2 131.0,159.4 132.7,154.7 134.4,152.1 136.1,146.9 137.8,141.5 139.4,139.7 141.1,136.8 142.8,133.6 144.5,129.4 146.2,123.1 147.9,118.8 149.5,113.8 151.2,109.5 152.9,105.1 154.6,102.4 156.3,99.6 158.0,97.5 159.6,93.3 161.3,87.8 163.0,86.7 164.7,82.4 166.4,79.2 168.1,79.6 169.7,83.6 171.4,82.5 173.1,80.6 174.8,79.2 176.5,80.5 178.2,77.6 179.8,77.8 181.5,79.4 183.2,80.9 184.9,83.4 186.6,82.3 188.3,83.2 189.9,84.1 191.6,88.1 193.3,91.0 195.0,93.5 196.7,100.0 198.4,101.4 200.0,104.0 201.7,107.3 203.4,112.8 205.1,118.8 206.8,123.1 208.5,125.4 210.1,129.3 211.8,133.2 213.5,141.3 215.2,147.5 216.9,153.4 218.6,157.3 220.2,163.1 221.9,171.0 223.6,179.8 225.3,188.0 227.0,195.8 228.7,204.5 229.6,209.4 309.9,213.8" stroke="#4DBEEE"/><polyline points="67.1,200.7 113.7,203.2 115.3,201.0 117.0,197.8 118.7,192.7 120.4,187.0 122.1,181.1 123.8,174.9 125.4,169.6 127.1,164.4 128.8,161.3 130.5,156.0 132.2,151.6 133.9,147.6 135.5,144.6 137.2,140.5 138.9,137.6 140.6,132.4 142.3,127.9 144.0,122.9 145.6,120.6 147.3,116.4 149.0,108.4 150.7,103.4 152.4,101.3 154.1,98.0 155.7,98.3 157.4,96.1 159.1,91.9 160.8,87.3 162.5,84.3 164.2,80.3 165.8,78.4 167.5,78.3 169.2,80.1 170.9,80.8 172.6,78.8 174.3,79.2 175.9,81.0 177.6,76.8 179.3,79.6 181.0,84.6 182.7,85.0 184.4,83.6 186.0,83.6 187.7,82.2 189.4,84.6 191.1,86.9 192.8,90.2 194.5,91.9 196.1,95.9 197.8,99.3 199.5,103.3 201.2,110.6 202.9,114.0 204.6,117.4 206.2,118.3 207.9,121.9 209.6,126.4 211.3,131.4 213.0,136.3 214.7,143.2 216.3,149.8 218.0,156.0 219.7,161.9 221.4,169.5 223.1,177.4 224.8,185.1 226.4,193.7 228.1,202.1 229.6,209.6 309.5,214.0" stroke="#77AC30"/><polyline points="66.7,200.9 114.6,203.6 116.2,201.4 117.9,198.2 119.6,193.1 121.3,186.8 123.0,180.7 124.7,175.2 126.3,170.8 128.0,165.6 129.7,161.2 131.4,156.2 133.1,152.6 134.8,147.3 136.4,141.7 138.1,136.8 139.8,134.0 141.5,129.7 143.2,125.2 144.9,120.4 146.5,118.2 148.2,114.7 149.9,110.3 151.6,106.7 153.3,101.8 155.0,99.9 156.6,98.1 158.3,95.6 160.0,93.1 161.7,89.3 163.4,84.5 165.1,81.5 166.7,80.7 168.4,80.1 170.1,76.8 171.8,76.2 173.5,75.4 175.2,76.6 176.8,81.0 178.5,79.0 180.2,77.8 181.9,78.7 183.6,82.8 185.3,83.7 186.9,83.2 188.6,82.5 190.3,82.8 192.0,87.6 193.7,89.4 195.4,91.6 197.0,97.8 198.7,103.4 200.4,106.6 202.1,108.1 203.8,112.1 205.5,116.6 207.1,119.3 208.8,122.7 210.5,128.8 212.2,133.7 213.9,140.4 215.6,145.8 217.2,151.3 218.9,157.4 220.6,163.2 222.3,171.2 224.0,179.0 225.7,187.3 227.3,195.1 229.0,203.7 230.2,209.9 309.1,214.2" stroke="#7E2F8E"/><polyline points="66.3,201.2 113.3,203.7 115.0,201.5 116.6,198.2 118.3,193.1 120.0,186.7 121.7,180.5 123.4,174.2 125.1,168.6 126.7,164.2 128.4,158.8 130.1,154.1 131.8,148.8 133.5,145.6 135.2,143.2 136.8,139.6 138.5,135.8 140.2,132.4 141.9,125.8 143.6,122.4 145.3,116.6 146.9,113.7 148.6,108.8 150.3,105.3 152.0,103.8 153.7,98.7 155.4,96.4 157.0,92.6 158.7,86.9 160.4,84.6 162.1,84.4 163.8,81.3 165.5,78.8 167.1,79.7 168.8,77.3 170.5,78.5 172.2,81.2 173.9,81.3 175.6,81.9 177.2,82.3 178.9,81.8 180.6,80.8 182.3,79.3 184.0,78.4 185.7,78.9 187.3,80.5 189.0,80.9 190.7,82.9 192.4,85.6 194.1,89.1 195.8,94.5 197.4,97.4 199.1,98.0 200.8,101.6 202.5,109.1 204.2,112.3 205.9,114.3 207.5,118.6 209.2,123.0 210.9,130.7 212.6,136.6 214.3,141.9 216.0,147.7 217.6,154.5 219.3,161.3 221.0,168.3 222.7,176.0 224.4,183.8 226.1,192.2 227.7,200.4 229.4,209.1 229.6,210.1 308.7,214.5" stroke="#EDB120"/><polyline points="65.8,201.4 112.9,204.0 114.6,201.6 116.2,198.3 117.9,193.3 119.6,187.1 121.3,180.9 123.0,175.1 124.7,168.8 126.3,163.6 128.0,158.7 129.7,155.4 131.4,151.2 133.1,147.3 134.8,144.3 136.4,140.9 138.1,136.4 139.8,131.5 141.5,126.0 143.2,120.6 144.9,114.8 146.5,108.0 148.2,107.2 149.9,108.0 151.6,104.6 153.3,98.0 155.0,95.6 156.6,92.8 158.3,91.1 160.0,94.0 161.7,89.2 163.4,81.9 165.1,76.8 166.7,77.2 168.4,78.1 170.1,78.0 171.8,76.7 173.5,77.6 175.2,79.6 176.8,78.8 178.5,78.0 180.2,76.2 181.9,75.3 183.6,76.6 185.3,78.6 186.9,79.8 188.6,81.5 190.3,83.0 192.0,86.5 193.7,90.5 195.4,93.6 197.0,97.4 198.7,100.2 200.4,105.5 202.1,108.0 203.8,112.9 205.5,118.1 207.1,120.9 208.8,125.9 210.5,131.3 212.2,136.2 213.9,139.8 215.6,147.0 217.2,152.2 218.9,159.3 220.6,167.1 222.3,175.8 224.0,183.4 225.7,190.8 227.3,199.3 229.0,208.3 229.4,210.4 308.2,214.7" stroke="#D95319"/><polyline points="65.4,201.6 112.3,204.2 113.9,201.9 115.6,198.6 117.3,193.5 119.0,187.4 120.7,181.5 122.4,175.8 124.0,169.9 125.7,164.5 127.4,160.7 129.1,157.5 130.8,153.1 132.5,148.1 134.1,143.7 135.8,139.6 137.5,136.7 139.2,132.8 140.9,128.7 142.6,124.4 144.2,120.8 145.9,116.3 147.6,113.9 149.3,110.2 151.0,104.7 152.7,100.9 154.3,99.2 156.0,98.8 157.7,93.9 159.4,89.4 161.1,91.2 162.8,89.1 164.4,86.5 166.1,88.0 167.8,89.6 169.5,86.1 171.2,81.5 172.9,83.8 174.5,85.7 176.2,81.9 177.9,77.1 179.6,76.7 181.3,78.5 183.0,80.8 184.6,85.5 186.3,86.5 188.0,87.5 189.7,91.3 191.4,94.7 193.1,96.5 194.7,99.4 196.4,105.0 198.1,108.4 199.8,111.1 201.5,112.3 203.2,116.2 204.8,121.8 206.5,126.7 208.2,131.2 209.9,136.1 211.6,139.5 213.3,145.4 214.9,150.8 216.6,157.2 218.3,164.7 220.0,172.3 221.7,180.1 223.4,188.3 225.0,196.6 226.7,204.8 227.8,210.5 307.8,214.9" stroke="#0072BD"/><polyline points="65.0,201.9 112.2,204.4 113.9,202.3 115.5,198.9 117.2,193.9 118.9,187.8 120.6,181.8 122.3,176.4 124.0,171.3 125.6,165.9 127.3,160.6 129.0,155.4 130.7,151.8 132.4,148.3 134.1,144.3 135.7,139.8 137.4,135.2 139.1,130.6 140.8,126.2 142.5,123.5 144.2,120.4 145.8,115.1 147.5,111.5 149.2,110.5 150.9,107.2 152.6,102.9 154.3,99.2 155.9,92.5 157.6,88.3 159.3,86.4 161.0,86.8 162.7,89.5 164.4,86.5 166.0,86.1 167.7,84.0 169.4,82.5 171.1,78.5 172.8,77.8 174.5,75.4 176.1,77.9 177.8,78.5 179.5,82.5 181.2,83.6 182.9,84.7 184.6,85.5 186.2,87.6 187.9,89.0 189.6,88.4 191.3,92.5 193.0,95.5 194.7,98.5 196.3,101.0 198.0,105.9 199.7,110.3 201.4,114.5 203.1,118.0 204.8,121.4 206.4,125.2 208.1,131.1 209.8,139.2 211.5,144.5 213.2,147.6 214.9,151.8 216.5,158.3 218.2,164.4 219.9,172.4 221.6,180.4 223.3,188.1 225.0,196.6 226.6,205.0 227.8,210.8 307.4,215.2" stroke="#A2142F"/><polyline points="64.5,202.1 111.5,204.7 113.2,202.5 114.8,199.3 116.5,194.1 118.2,187.9 119.9,182.2 121.6,176.6 123.3,170.8 124.9,165.5 126.6,160.1 128.3,156.5 130.0,151.1 131.7,147.8 133.4,145.0 135.0,141.9 136.7,137.1 138.4,133.1 140.1,128.7 141.8,124.3 143.5,121.4 145.1,118.8 146.8,115.3 148.5,112.4 150.2,109.1 151.9,108.1 153.6,101.2 155.2,97.5 156.9,94.4 158.6,88.5 160.3,85.4 162.0,85.5 163.7,86.8 165.3,85.0 167.0,82.6 168.7,82.9 170.4,87.3 172.1,87.3 173.8,85.2 175.4,84.9 177.1,82.0 178.8,83.8 180.5,82.7 182.2,81.6 183.9,81.3 185.5,83.1 187.2,86.2 188.9,89.8 190.6,91.7 192.3,94.4 194.0,97.7 195.6,101.0 197.3,105.3 199.0,108.3 200.7,113.2 202.4,117.9 204.1,121.8 205.7,126.0 207.4,130.8 209.1,136.0 210.8,142.0 212.5,148.2 214.2,152.3 215.8,157.3 217.5,164.2 219.2,171.4 220.9,179.0 222.6,187.6 224.3,195.4 225.9,203.8 227.4,211.0 306.9,215.4" stroke="#4DBEEE"/><polyline points="64.1,202.3 110.1,204.8 111.7,202.6 113.4,199.4 115.1,194.6 116.8,188.4 118.5,182.3 120.2,177.0 121.8,171.9 123.5,166.3 125.2,161.0 126.9,157.2 128.6,153.7 130.3,150.7 131.9,145.4 133.6,140.6 135.3,137.2 137.0,132.2 138.7,127.7 140.4,122.5 142.0,119.8 143.7,118.3 145.4,113.0 147.1,108.6 148.8,106.4 150.5,102.8 152.1,98.7 153.8,95.6 155.5,95.4 157.2,92.5 158.9,90.4 160.6,90.8 162.2,87.5 163.9,84.3 165.6,82.6 167.3,81.1 169.0,80.7 170.7,77.0 172.3,76.5 174.0,77.2 175.7,76.2 177.4,76.7 179.1,75.1 180.8,78.5 182.4,79.8 184.1,83.2 185.8,82.7 187.5,87.8 189.2,89.9 190.9,90.2 192.5,92.7 194.2,94.9 195.9,99.3 197.6,104.2 199.3,109.9 201.0,112.2 202.6,113.2 204.3,117.3 206.0,122.2 207.7,127.7 209.4,135.0 211.1,140.2 212.7,144.1 214.4,149.0 216.1,153.9 217.8,159.4 219.5,167.7 221.2,176.9 222.8,185.4 224.5,193.6 226.2,201.6 227.9,209.9 228.2,211.3 306.5,215.6" stroke="#77AC30"/><polyline points="63.7,202.6 109.8,205.1 111.5,202.7 113.2,199.2 114.9,193.9 116.6,187.6 118.2,181.6 119.9,176.0 121.6,170.8 123.3,165.7 125.0,161.3 126.7,158.5 128.3,152.5 130.0,148.0 131.7,143.7 133.4,139.3 135.1,134.8 136.8,132.3 138.4,127.3 140.1,121.8 141.8,118.9 143.5,115.6 145.2,112.9 146.9,109.2 148.5,105.9 150.2,101.3 151.9,97.5 153.6,92.5 155.3,88.8 157.0,85.4 158.6,84.7 160.3,82.1 162.0,82.9 163.7,81.7 165.4,77.3 167.1,78.0 168.7,79.1 170.4,77.1 172.1,73.8 173.8,75.8 175.5,79.1 177.2,80.9 178.8,83.3 180.5,84.5 182.2,84.1 183.9,81.6 185.6,84.2 187.3,83.6 188.9,88.9 190.6,91.2 192.3,96.4 194.0,100.6 195.7,101.5 197.4,107.1 199.0,110.3 200.7,113.5 202.4,115.9 204.1,119.8 205.8,125.9 207.5,131.2 209.1,136.7 210.8,143.2 212.5,148.5 214.2,155.7 215.9,162.8 217.6,171.7 219.2,178.8 220.9,187.9 222.6,195.6 224.3,203.6 225.9,211.4 306.1,215.8" stroke="#7E2F8E"/><polyline points="63.3,202.8 108.8,205.3 110.5,203.2 112.2,199.8 113.8,194.9 115.5,188.0 117.2,181.8 118.9,176.4 120.6,171.0 122.3,165.4 123.9,159.5 125.6,154.7 127.3,152.1 129.0,148.8 130.7,145.9 132.4,142.0 134.0,136.9 135.7,132.2 137.4,128.1 139.1,123.2 140.8,120.2 142.5,116.8 144.1,114.5 145.8,112.1 147.5,108.6 149.2,103.1 150.9,100.8 152.6,93.9 154.2,93.0 155.9,90.5 157.6,85.8 159.3,83.5 161.0,80.5 162.7,80.2 164.3,80.9 166.0,80.4 167.7,81.4 169.4,78.6 171.1,80.7 172.8,81.6 174.4,82.3 176.1,84.3 177.8,85.2 179.5,84.4 181.2,81.9 182.9,82.1 184.5,86.4 186.2,86.5 187.9,88.7 189.6,92.6 191.3,96.4 193.0,99.8 194.6,101.2 196.3,105.1 198.0,109.8 199.7,113.0 201.4,115.5 203.1,119.4 204.7,124.3 206.4,130.3 208.1,135.0 209.8,141.7 211.5,147.1 213.2,153.1 214.8,159.1 216.5,165.6 218.2,173.8 219.9,181.6 221.6,190.1 223.3,198.3 224.9,207.0 225.8,211.7 305.7,216.1" stroke="#EDB120"/><polyline points="62.8,203.0 111.3,205.7 113.0,203.3 114.6,199.8 116.3,194.7 118.0,188.3 119.7,182.2 121.4,176.7 123.1,171.5 124.7,167.3 126.4,162.9 128.1,157.8 129.8,152.8 131.5,148.5 133.2,142.8 134.8,138.0 136.5,133.6 138.2,128.9 139.9,125.3 141.6,121.9 143.3,119.8 144.9,117.2 146.6,112.1 148.3,106.9 150.0,103.8 151.7,101.7 153.4,97.4 155.0,93.5 156.7,89.5 158.4,86.3 160.1,84.0 161.8,83.9 163.5,85.0 165.1,86.9 166.8,82.7 168.5,85.1 170.2,83.6 171.9,82.1 173.6,80.9 175.2,77.5 176.9,79.0 178.6,79.1 180.3,81.0 182.0,83.9 183.7,86.8 185.3,87.4 187.0,91.8 188.7,91.4 190.4,93.6 192.1,98.4 193.8,103.1 195.4,105.5 197.1,107.7 198.8,111.5 200.5,116.0 202.2,119.1 203.9,123.8 205.5,129.3 207.2,135.4 208.9,140.2 210.6,144.7 212.3,151.4 214.0,158.1 215.6,165.6 217.3,173.8 219.0,182.6 220.7,191.2 222.4,199.7 224.1,208.1 224.8,211.9 305.2,216.3" stroke="#D95319"/><polyline points="62.4,203.2 110.7,205.9 112.4,203.6 114.1,200.2 115.7,194.8 117.4,188.2 119.1,181.8 120.8,175.4 122.5,170.1 124.2,164.0 125.8,160.5 127.5,157.3 129.2,152.9 130.9,148.5 132.6,143.9 134.3,139.4 135.9,137.2 137.6,133.5 139.3,127.3 141.0,120.9 142.7,118.2 144.4,116.4 146.0,111.1 147.7,108.1 149.4,106.3 151.1,104.3 152.8,101.8 154.5,97.8 156.1,92.7 157.8,89.3 159.5,88.5 161.2,85.3 162.9,80.8 164.6,78.0 166.2,77.1 167.9,79.5 169.6,81.0 171.3,80.9 173.0,78.9 174.7,77.0 176.3,78.2 178.0,79.6 179.7,83.5 181.4,84.5 183.1,80.8 184.8,80.0 186.4,83.1 188.1,86.3 189.8,90.1 191.5,95.0 193.2,98.6 194.9,102.0 196.5,104.0 198.2,106.9 199.9,113.2 201.6,117.2 203.3,118.5 205.0,121.5 206.6,126.4 208.3,131.2 210.0,138.3 211.7,144.3 213.4,149.9 215.1,156.7 216.7,162.4 218.4,169.0 220.1,178.4 221.8,187.0 223.5,195.0 225.2,203.6 226.8,212.2 226.8,212.3 304.8,216.5" stroke="#0072BD"/><polyline points="62.0,203.5 109.0,206.1 110.6,203.8 112.3,200.4 114.0,195.1 115.7,188.1 117.4,182.5 119.1,177.3 120.7,172.6 122.4,167.1 124.1,162.3 125.8,157.4 127.5,152.2 129.2,146.9 130.8,143.3 132.5,139.1 134.2,134.1 135.9,129.4 137.6,126.3 139.3,122.9 140.9,119.7 142.6,116.3 144.3,113.0 146.0,109.1 147.7,106.2 149.4,99.7 151.0,96.7 152.7,93.9 154.4,93.1 156.1,89.5 157.8,87.3 159.5,88.2 161.1,86.7 162.8,82.1 164.5,78.1 166.2,77.7 167.9,78.2 169.6,76.7 171.2,77.2 172.9,78.4 174.6,75.3 176.3,78.4 178.0,78.0 179.7,80.0 181.3,82.1 183.0,83.8 184.7,84.2 186.4,87.9 188.1,89.9 189.8,90.5 191.4,92.8 193.1,98.4 194.8,104.3 196.5,110.7 198.2,117.5 199.9,119.3 201.5,121.4 203.2,124.4 204.9,128.8 206.6,133.6 208.3,139.8 210.0,144.2 211.6,149.8 213.3,156.2 215.0,163.3 216.7,171.8 218.4,180.7 220.1,189.7 221.7,197.4 223.4,205.6 224.8,212.4 304.4,216.8" stroke="#A2142F"/><polyline points="61.6,203.7 108.2,206.3 109.9,204.0 111.6,200.7 113.3,195.6 114.9,189.7 116.6,184.1 118.3,177.8 120.0,171.8 121.7,165.8 123.4,162.0 125.0,159.4 126.7,155.0 128.4,151.6 130.1,146.6 131.8,141.3 133.5,136.2 135.1,133.6 136.8,130.0 138.5,125.5 140.2,121.5 141.9,117.7 143.6,114.1 145.2,109.6 146.9,107.2 148.6,103.4 150.3,99.3 152.0,94.0 153.7,89.2 155.3,85.1 157.0,82.5 158.7,80.7 160.4,80.2 162.1,83.4 163.8,82.3 165.4,85.5 167.1,86.1 168.8,83.4 170.5,78.0 172.2,79.8 173.9,81.1 175.5,83.8 177.2,87.1 178.9,82.6 180.6,85.1 182.3,84.4 184.0,85.2 185.6,84.5 187.3,87.2 189.0,92.2 190.7,95.9 192.4,102.1 194.1,104.1 195.7,107.1 197.4,113.8 199.1,119.4 200.8,119.9 202.5,122.5 204.2,128.4 205.8,134.1 207.5,140.9 209.2,145.3 210.9,150.7 212.6,154.6 214.3,160.8 215.9,168.1 217.6,176.3 219.3,184.7 221.0,193.1 222.7,201.5 224.4,210.1 224.8,212.7 304.0,217.0" stroke="#4DBEEE"/><polyline points="61.1,203.9 109.5,206.6 111.1,204.4 112.8,200.9 114.5,195.6 116.2,188.7 117.9,183.0 119.6,176.4 121.2,170.2 122.9,165.9 124.6,160.4 126.3,156.2 128.0,151.8 129.7,147.7 131.3,144.1 133.0,140.2 134.7,136.1 136.4,131.4 138.1,126.0 139.8,122.5 141.4,120.1 143.1,114.5 144.8,110.3 146.5,108.3 148.2,102.0 149.9,97.4 151.5,97.1 153.2,94.0 154.9,91.2 156.6,87.2 158.3,84.9 160.0,86.1 161.6,85.8 163.3,85.0 165.0,80.1 166.7,78.0 168.4,81.1 170.1,81.3 171.7,78.7 173.4,80.9 175.1,80.3 176.8,81.0 178.5,84.6 180.2,84.8 181.8,90.0 183.5,87.4 185.2,85.8 186.9,86.3 188.6,90.5 190.3,93.2 191.9,96.7 193.6,101.7 195.3,106.7 197.0,110.3 198.7,114.8 200.4,120.8 202.0,124.4 203.7,127.0 205.4,131.7 207.1,138.5 208.8,144.3 210.5,150.1 212.1,154.2 213.8,158.9 215.5,166.2 217.2,173.8 218.9,182.3 220.6,190.2 222.2,198.9 223.9,207.7 224.9,212.9 303.5,217.2" stroke="#77AC30"/><polyline points="60.7,204.2 107.3,206.7 109.0,204.6 110.7,201.2 112.3,195.8 114.0,189.8 115.7,184.6 117.4,179.0 119.1,171.7 120.8,166.4 122.4,162.1 124.1,159.0 125.8,156.0 127.5,152.8 129.2,148.5 130.9,141.4 132.5,136.7 134.2,133.8 135.9,129.5 137.6,123.5 139.3,117.7 141.0,113.4 142.6,111.9 144.3,112.7 146.0,108.8 147.7,101.8 149.4,97.0 151.1,93.5 152.7,92.2 154.4,91.5 156.1,91.0 157.8,86.7 159.5,84.8 161.2,82.8 162.8,80.9 164.5,78.2 166.2,80.0 167.9,80.9 169.6,79.9 171.3,77.9 172.9,79.0 174.6,79.4 176.3,77.9 178.0,81.0 179.7,83.7 181.4,81.9 183.0,80.3 184.7,84.1 186.4,87.9 188.1,90.0 189.8,93.7 191.5,96.2 193.1,103.5 194.8,105.8 196.5,106.9 198.2,111.3 199.9,117.0 201.6,121.3 203.2,125.6 204.9,130.2 206.6,133.9 208.3,140.7 210.0,146.1 211.7,152.2 213.3,158.4 215.0,165.8 216.7,173.6 218.4,181.5 220.1,190.0 221.8,198.6 223.4,206.9 224.7,213.2 303.1,217.5" stroke="#7E2F8E"/><polyline points="60.3,204.4 106.1,206.9 107.8,204.7 109.4,201.4 111.1,196.1 112.8,189.8 114.5,183.6 116.2,178.1 117.9,172.8 119.5,168.6 121.2,162.8 122.9,157.4 124.6,154.5 126.3,149.6 128.0,144.2 129.6,141.1 131.3,137.7 133.0,134.2 134.7,130.4 136.4,127.4 138.1,122.9 139.7,118.9 141.4,115.9 143.1,113.5 144.8,108.9 146.5,106.4 148.2,104.5 149.8,100.5 151.5,96.5 153.2,93.3 154.9,89.3 156.6,84.7 158.3,84.9 159.9,83.7 161.6,85.2 163.3,88.7 165.0,91.2 166.7,86.6 168.4,84.4 170.0,82.6 171.7,80.7 173.4,79.4 175.1,83.0 176.8,83.8 178.5,83.2 180.1,85.9 181.8,84.1 183.5,88.8 185.2,90.3 186.9,93.5 188.6,97.7 190.2,104.1 191.9,107.4 193.6,108.6 195.3,111.9 197.0,113.3 198.7,117.3 200.3,122.0 202.0,127.0 203.7,130.9 205.4,134.9 207.1,138.3 208.8,147.1 210.4,153.7 212.1,157.9 213.8,165.4 215.5,173.7 217.2,182.6 218.9,190.4 220.5,198.3 222.2,206.8 223.5,213.4 302.7,217.7" stroke="#EDB120"/><polyline points="59.8,204.6 106.2,207.2 107.9,205.0 109.6,201.7 111.2,196.6 112.9,190.4 114.6,184.3 116.3,178.1 118.0,172.7 119.7,167.6 121.3,163.0 123.0,157.9 124.7,153.8 126.4,149.4 128.1,147.1 129.8,143.5 131.4,140.6 133.1,136.2 134.8,132.6 136.5,129.7 138.2,124.5 139.9,121.3 141.5,118.1 143.2,115.0 144.9,111.6 146.6,105.4 148.3,103.2 150.0,101.6 151.6,100.2 153.3,96.3 155.0,92.2 156.7,88.0 158.4,86.6 160.1,85.0 161.7,82.4 163.4,82.4 165.1,82.5 166.8,81.1 168.5,79.0 170.2,80.9 171.8,83.8 173.5,84.7 175.2,83.8 176.9,83.9 178.6,84.5 180.3,87.4 181.9,88.8 183.6,88.2 185.3,86.8 187.0,90.5 188.7,94.2 190.4,97.6 192.0,100.3 193.7,107.1 195.4,113.4 197.1,118.7 198.8,121.8 200.5,123.2 202.1,127.0 203.8,131.8 205.5,138.0 207.2,143.5 208.9,147.7 210.6,152.8 212.2,158.1 213.9,165.1 215.6,172.4 217.3,180.5 219.0,188.6 220.7,196.8 222.3,204.9 224.0,213.6 302.2,217.9" stroke="#D95319"/><polyline points="59.4,204.9 107.7,207.5 109.3,205.2 111.0,201.6 112.7,195.9 114.4,189.8 116.1,184.0 117.8,178.5 119.4,171.6 121.1,166.8 122.8,162.4 124.5,158.9 126.2,154.9 127.9,150.4 129.5,146.2 131.2,142.1 132.9,136.7 134.6,131.9 136.3,129.2 138.0,126.5 139.6,123.5 141.3,120.4 143.0,118.2 144.7,113.2 146.4,106.6 148.1,104.1 149.7,99.9 151.4,97.6 153.1,95.3 154.8,92.4 156.5,89.1 158.2,84.6 159.8,84.3 161.5,82.6 163.2,83.6 164.9,83.0 166.6,82.8 168.3,79.0 169.9,77.9 171.6,78.2 173.3,77.4 175.0,81.1 176.7,81.8 178.4,81.5 180.0,82.2 181.7,86.7 183.4,87.6 185.1,91.0 186.8,95.3 188.5,97.6 190.1,100.6 191.8,103.7 193.5,105.1 195.2,111.3 196.9,111.9 198.6,115.6 200.2,122.2 201.9,130.8 203.6,136.4 205.3,141.0 207.0,144.2 208.7,150.1 210.3,155.9 212.0,163.0 213.7,171.0 215.4,178.6 217.1,187.4 218.8,195.4 220.4,203.6 222.1,212.3 222.4,213.8 301.8,218.2" stroke="#0072BD"/><polyline points="59.0,205.1 108.3,207.8 110.0,205.5 111.7,202.2 113.4,196.6 115.0,190.0 116.7,183.1 118.4,177.4 120.1,172.3 121.8,167.2 123.5,161.6 125.1,156.6 126.8,152.2 128.5,149.3 130.2,144.6 131.9,139.4 133.6,137.0 135.2,132.2 136.9,131.2 138.6,126.6 140.3,120.0 142.0,114.5 143.7,111.2 145.3,110.2 147.0,107.0 148.7,100.7 150.4,95.5 152.1,92.5 153.8,88.0 155.4,87.6 157.1,83.6 158.8,86.6 160.5,89.2 162.2,87.8 163.9,87.6 165.5,88.1 167.2,84.6 168.9,85.4 170.6,86.7 172.3,87.3 174.0,85.0 175.6,84.0 177.3,86.1 179.0,88.5 180.7,89.2 182.4,87.3 184.1,89.0 185.7,94.8 187.4,99.5 189.1,101.1 190.8,104.5 192.5,108.9 194.2,113.0 195.8,117.4 197.5,120.4 199.2,125.5 200.9,129.5 202.6,134.9 204.3,139.9 205.9,146.3 207.6,152.2 209.3,158.4 211.0,165.6 212.7,172.8 214.4,180.9 216.0,189.1 217.7,197.7 219.4,206.0 220.9,214.0 301.4,218.4" stroke="#A2142F"/><polyline points="58.6,205.3 106.5,208.0 108.2,205.6 109.9,202.2 111.6,196.6 113.3,190.2 114.9,184.1 116.6,178.3 118.3,173.1 120.0,168.2 121.7,163.2 123.4,159.2 125.0,153.7 126.7,150.7 128.4,144.5 130.1,139.8 131.8,134.5 133.5,132.2 135.1,127.2 136.8,122.9 138.5,120.9 140.2,118.7 141.9,113.2 143.6,107.0 145.2,101.9 146.9,99.0 148.6,95.2 150.3,94.9 152.0,92.9 153.7,91.8 155.3,91.9 157.0,89.3 158.7,86.0 160.4,82.8 162.1,82.8 163.8,80.2 165.4,78.0 167.1,79.5 168.8,79.7 170.5,83.6 172.2,83.4 173.9,83.6 175.5,85.1 177.2,86.8 178.9,87.1 180.6,91.4 182.3,91.4 184.0,89.2 185.6,94.0 187.3,96.2 189.0,99.6 190.7,104.4 192.4,111.1 194.1,114.2 195.7,117.6 197.4,122.5 199.1,128.3 200.8,133.1 202.5,139.7 204.2,142.4 205.8,147.0 207.5,153.2 209.2,161.1 210.9,168.7 212.6,176.9 214.3,186.2 215.9,194.7 217.6,203.4 219.3,212.2 219.7,214.2 301.0,218.6" stroke="#4DBEEE"/><polyline points="58.1,205.6 107.1,208.3 108.8,205.9 110.5,202.3 112.1,196.4 113.8,189.3 115.5,183.1 117.2,176.9 118.9,171.7 120.6,166.7 122.2,162.6 123.9,158.5 125.6,153.9 127.3,147.6 129.0,142.2 130.7,138.4 132.3,136.6 134.0,133.2 135.7,129.7 137.4,124.4 139.1,119.4 140.8,115.4 142.4,113.7 144.1,110.7 145.8,106.5 147.5,101.8 149.2,100.5 150.9,97.5 152.5,91.8 154.2,88.7 155.9,87.2 157.6,87.1 159.3,86.3 161.0,84.1 162.6,79.3 164.3,79.2 166.0,79.8 167.7,81.6 169.4,80.2 171.1,83.3 172.7,83.8 174.4,83.6 176.1,86.8 177.8,87.3 179.5,88.8 181.2,89.7 182.8,91.0 184.5,92.7 186.2,99.1 187.9,102.8 189.6,104.4 191.3,110.4 192.9,112.9 194.6,118.7 196.3,124.8 198.0,129.2 199.7,133.5 201.4,136.6 203.0,139.7 204.7,146.0 206.4,152.8 208.1,158.9 209.8,165.9 211.5,173.3 213.1,181.7 214.8,190.6 216.5,199.0 218.2,207.9 219.4,214.4 300.5,218.9" stroke="#77AC30"/><polyline points="57.7,205.8 103.6,208.3 105.3,206.1 106.9,202.8 108.6,197.6 110.3,191.6 112.0,185.7 113.7,180.3 115.4,174.3 117.0,169.5 118.7,165.4 120.4,162.1 122.1,158.0 123.8,153.9 125.5,149.8 127.1,145.5 128.8,141.5 130.5,137.0 132.2,130.5 133.9,125.2 135.6,121.9 137.2,119.5 138.9,116.1 140.6,115.3 142.3,112.1 144.0,108.7 145.7,102.4 147.3,97.4 149.0,91.8 150.7,91.2 152.4,91.1 154.1,88.4 155.8,85.6 157.4,84.8 159.1,84.6 160.8,82.8 162.5,81.0 164.2,79.0 165.9,77.2 167.5,79.9 169.2,83.4 170.9,85.4 172.6,89.1 174.3,87.3 176.0,84.3 177.6,86.5 179.3,87.3 181.0,90.2 182.7,91.3 184.4,94.1 186.1,97.9 187.7,103.2 189.4,104.4 191.1,107.3 192.8,110.0 194.5,114.7 196.2,119.9 197.8,123.4 199.5,126.5 201.2,129.1 202.9,132.3 204.6,139.4 206.3,145.2 207.9,151.5 209.6,159.4 211.3,164.6 213.0,171.3 214.7,178.7 216.4,187.2 218.0,194.4 219.7,202.7 221.4,211.1 222.2,214.8 300.1,219.1" stroke="#7E2F8E"/><polyline points="57.3,206.0 105.0,208.7 106.7,206.3 108.4,202.7 110.1,197.1 111.8,190.3 113.5,183.6 115.1,178.4 116.8,173.0 118.5,167.8 120.2,163.2 121.9,159.2 123.6,154.8 125.2,150.3 126.9,145.9 128.6,141.0 130.3,135.1 132.0,133.4 133.7,129.6 135.3,124.1 137.0,121.4 138.7,118.2 140.4,114.5 142.1,108.8 143.8,103.5 145.4,102.1 147.1,98.2 148.8,96.4 150.5,92.6 152.2,88.1 153.9,85.0 155.5,81.6 157.2,79.7 158.9,82.9 160.6,85.0 162.3,83.7 164.0,82.8 165.6,82.2 167.3,85.2 169.0,84.8 170.7,81.1 172.4,80.1 174.1,81.0 175.7,82.8 177.4,83.0 179.1,86.7 180.8,90.5 182.5,89.8 184.2,93.1 185.8,94.8 187.5,100.1 189.2,105.9 190.9,111.0 192.6,113.9 194.3,117.7 195.9,121.3 197.6,126.7 199.3,130.7 201.0,133.5 202.7,139.2 204.4,144.8 206.0,149.6 207.7,155.9 209.4,162.4 211.1,171.2 212.8,181.0 214.5,189.7 216.1,197.6 217.8,205.8 219.5,214.8 219.5,214.9 299.7,219.3" stroke="#EDB120"/><polyline points="56.8,206.3 103.2,208.8 104.9,206.5 106.6,203.0 108.2,197.5 109.9,191.0 111.6,184.9 113.3,178.4 115.0,173.0 116.7,167.5 118.3,163.2 120.0,158.8 121.7,155.0 123.4,151.1 125.1,146.5 126.8,143.4 128.4,139.9 130.1,136.1 131.8,131.3 133.5,127.2 135.2,123.0 136.9,118.6 138.5,116.3 140.2,111.0 141.9,106.6 143.6,103.1 145.3,101.3 147.0,100.8 148.6,97.3 150.3,93.1 152.0,90.2 153.7,83.8 155.4,82.9 157.1,82.3 158.7,80.2 160.4,81.2 162.1,82.4 163.8,81.1 165.5,80.8 167.2,80.8 168.8,80.6 170.5,82.7 172.2,81.2 173.9,81.7 175.6,83.1 177.3,83.2 178.9,86.1 180.6,86.1 182.3,88.5 184.0,91.7 185.7,94.3 187.4,100.0 189.0,105.4 190.7,109.8 192.4,116.0 194.1,121.8 195.8,124.7 197.5,129.5 199.1,134.2 200.8,138.4 202.5,143.5 204.2,148.9 205.9,154.0 207.6,159.7 209.2,167.7 210.9,176.2 212.6,185.8 214.3,194.6 216.0,203.5 217.7,212.2 218.2,215.1 299.2,219.6" stroke="#D95319"/><polyline points="56.4,206.5 102.2,209.0 103.9,206.8 105.6,203.4 107.3,198.2 109.0,191.6 110.7,186.1 112.3,181.3 114.0,176.2 115.7,170.6 117.4,165.4 119.1,161.7 120.8,156.5 122.4,152.6 124.1,148.5 125.8,144.6 127.5,139.8 129.2,136.1 130.9,131.3 132.5,129.9 134.2,124.5 135.9,121.1 137.6,119.0 139.3,111.5 141.0,107.3 142.6,103.2 144.3,99.2 146.0,95.1 147.7,93.1 149.4,93.9 151.1,93.8 152.7,93.6 154.4,89.7 156.1,85.4 157.8,88.6 159.5,87.0 161.2,85.2 162.8,84.2 164.5,80.8 166.2,79.5 167.9,78.8 169.6,80.8 171.3,87.2 172.9,85.3 174.6,83.2 176.3,82.2 178.0,85.7 179.7,84.9 181.4,88.5 183.0,92.1 184.7,96.4 186.4,100.8 188.1,103.2 189.8,107.5 191.5,111.6 193.1,115.9 194.8,118.6 196.5,123.8 198.2,128.6 199.9,133.5 201.6,138.4 203.2,142.3 204.9,148.2 206.6,153.4 208.3,158.8 210.0,166.8 211.7,174.5 213.3,182.3 215.0,190.0 216.7,198.0 218.4,206.7 220.1,215.5 220.1,215.5 298.8,219.8" stroke="#0072BD"/><polyline points="56.0,206.7 103.8,209.3 105.4,207.1 107.1,203.7 108.8,198.2 110.5,191.4 112.2,184.8 113.9,179.1 115.5,173.4 117.2,167.8 118.9,164.0 120.6,159.6 122.3,154.6 124.0,149.8 125.6,146.3 127.3,144.0 129.0,140.4 130.7,137.5 132.4,132.8 134.1,127.1 135.7,122.2 137.4,120.0 139.1,115.1 140.8,111.8 142.5,108.4 144.2,100.3 145.8,97.8 147.5,94.5 149.2,95.2 150.9,93.5 152.6,89.5 154.3,86.7 155.9,87.0 157.6,86.4 159.3,85.5 161.0,81.8 162.7,81.5 164.4,83.0 166.0,83.3 167.7,82.2 169.4,85.7 171.1,88.3 172.8,86.4 174.5,87.0 176.1,84.4 177.8,83.5 179.5,87.2 181.2,92.3 182.9,96.3 184.6,97.8 186.2,103.6 187.9,106.0 189.6,112.7 191.3,115.1 193.0,117.2 194.7,121.2 196.3,124.4 198.0,130.2 199.7,130.8 201.4,136.0 203.1,142.1 204.8,151.5 206.4,158.9 208.1,165.5 209.8,171.9 211.5,178.8 213.2,187.3 214.9,196.2 216.5,205.0 218.2,213.6 218.6,215.6 298.4,220.0" stroke="#A2142F"/><polyline points="55.6,207.0 102.5,209.5 104.2,207.3 105.9,203.7 107.6,198.0 109.3,191.4 110.9,185.4 112.6,180.0 114.3,174.1 116.0,167.9 117.7,162.4 119.4,158.9 121.0,156.3 122.7,152.1 124.4,147.6 126.1,142.6 127.8,137.4 129.5,131.8 131.1,125.1 132.8,123.0 134.5,118.4 136.2,114.5 137.9,112.6 139.6,109.4 141.2,107.5 142.9,101.6 144.6,96.5 146.3,95.2 148.0,93.3 149.7,93.5 151.3,91.7 153.0,85.8 154.7,83.7 156.4,83.5 158.1,82.9 159.8,80.8 161.4,81.3 163.1,77.0 164.8,77.0 166.5,79.4 168.2,81.2 169.9,82.6 171.5,85.6 173.2,84.6 174.9,81.7 176.6,83.1 178.3,85.3 180.0,88.6 181.6,92.1 183.3,94.4 185.0,98.7 186.7,104.9 188.4,109.4 190.1,112.4 191.7,114.0 193.4,118.4 195.1,123.3 196.8,126.4 198.5,131.1 200.2,137.9 201.8,144.5 203.5,150.6 205.2,154.6 206.9,161.7 208.6,168.9 210.3,176.4 211.9,184.8 213.6,193.3 215.3,202.3 217.0,211.4 217.8,215.9 298.0,220.3" stroke="#4DBEEE"/><polyline points="55.1,207.2 102.2,209.8 103.8,207.6 105.5,204.2 107.2,198.9 108.9,192.5 110.6,187.1 112.3,181.3 113.9,176.2 115.6,171.1 117.3,166.8 119.0,162.5 120.7,157.2 122.4,153.7 124.0,150.7 125.7,146.5 127.4,142.0 129.1,135.6 130.8,131.2 132.5,128.4 134.1,127.0 135.8,122.4 137.5,118.6 139.2,112.6 140.9,107.6 142.6,105.0 144.2,101.7 145.9,96.4 147.6,95.2 149.3,94.5 151.0,91.1 152.7,90.5 154.3,84.2 156.0,84.2 157.7,85.1 159.4,82.1 161.1,86.1 162.8,88.5 164.4,88.4 166.1,89.5 167.8,88.4 169.5,88.0 171.2,90.3 172.9,88.5 174.5,88.8 176.2,91.5 177.9,93.0 179.6,93.6 181.3,95.1 183.0,95.8 184.6,98.9 186.3,99.6 188.0,104.0 189.7,110.2 191.4,116.7 193.1,119.6 194.7,121.4 196.4,124.8 198.1,130.1 199.8,135.5 201.5,141.2 203.2,145.7 204.8,151.9 206.5,159.4 208.2,165.7 209.9,172.0 211.6,178.9 213.3,187.3 214.9,195.9 216.6,204.5 218.3,213.1 218.9,216.2 297.5,220.5" stroke="#77AC30"/><polyline points="54.7,207.4 100.7,209.9 102.3,207.7 104.0,204.3 105.7,198.9 107.4,192.3 109.1,186.3 110.8,180.3 112.4,174.4 114.1,169.5 115.8,164.7 117.5,160.4 119.2,155.6 120.9,150.8 122.5,146.0 124.2,143.0 125.9,138.7 127.6,134.1 129.3,129.2 131.0,124.2 132.6,120.3 134.3,116.7 136.0,115.1 137.7,114.5 139.4,111.2 141.1,104.5 142.7,103.3 144.4,98.9 146.1,95.9 147.8,94.6 149.5,92.3 151.2,90.2 152.8,87.0 154.5,85.5 156.2,84.4 157.9,82.4 159.6,81.3 161.3,79.2 162.9,75.9 164.6,76.6 166.3,74.2 168.0,77.9 169.7,81.5 171.4,85.3 173.0,86.8 174.7,87.5 176.4,89.5 178.1,91.9 179.8,90.7 181.5,92.9 183.1,96.6 184.8,100.4 186.5,104.6 188.2,109.8 189.9,117.3 191.6,121.3 193.2,122.0 194.9,126.0 196.6,130.5 198.3,136.9 200.0,142.7 201.7,147.8 203.3,154.2 205.0,159.4 206.7,165.3 208.4,173.2 210.1,182.4 211.8,190.3 213.4,198.2 215.1,207.0 216.8,215.9 216.9,216.3 297.1,220.7" stroke="#7E2F8E"/><polyline points="54.3,207.7 101.1,210.2 102.7,207.8 104.4,204.1 106.1,198.6 107.8,192.4 109.5,186.0 111.2,180.6 112.8,176.2 114.5,170.9 116.2,166.7 117.9,161.2 119.6,155.8 121.3,151.8 122.9,147.5 124.6,143.3 126.3,138.6 128.0,133.7 129.7,129.3 131.4,124.0 133.0,121.0 134.7,117.4 136.4,113.2 138.1,111.2 139.8,104.5 141.5,101.1 143.1,97.4 144.8,94.0 146.5,88.6 148.2,86.5 149.9,88.2 151.6,86.4 153.2,85.7 154.9,82.7 156.6,81.9 158.3,79.5 160.0,78.6 161.7,81.6 163.3,83.9 165.0,81.7 166.7,81.9 168.4,82.5 170.1,82.2 171.8,80.3 173.4,83.2 175.1,85.8 176.8,86.5 178.5,88.6 180.2,91.9 181.9,96.1 183.5,99.9 185.2,102.7 186.9,109.8 188.6,112.4 190.3,119.2 192.0,124.8 193.6,127.7 195.3,130.1 197.0,134.4 198.7,141.7 200.4,147.5 202.1,154.3 203.7,160.4 205.4,166.6 207.1,173.4 208.8,182.6 210.5,191.3 212.2,199.8 213.8,208.3 215.4,216.5 296.7,221.0" stroke="#EDB120"/><polyline points="53.8,207.9 101.9,210.5 103.6,208.1 105.2,204.7 106.9,199.2 108.6,192.4 110.3,186.5 112.0,180.6 113.7,174.7 115.3,170.4 117.0,165.2 118.7,160.8 120.4,157.2 122.1,152.4 123.8,148.3 125.4,145.3 127.1,139.7 128.8,135.6 130.5,130.7 132.2,128.2 133.9,127.8 135.5,126.0 137.2,119.3 138.9,112.6 140.6,109.8 142.3,106.1 144.0,100.3 145.6,98.0 147.3,94.2 149.0,89.2 150.7,87.3 152.4,87.2 154.1,86.1 155.7,82.8 157.4,81.3 159.1,79.3 160.8,78.8 162.5,79.5 164.2,77.6 165.8,76.2 167.5,78.2 169.2,80.7 170.9,81.8 172.6,81.2 174.3,82.6 175.9,83.5 177.6,86.9 179.3,90.7 181.0,93.4 182.7,97.1 184.4,98.9 186.0,99.4 187.7,106.5 189.4,111.3 191.1,114.6 192.8,117.5 194.5,121.0 196.1,125.6 197.8,131.3 199.5,136.6 201.2,142.6 202.9,147.9 204.6,155.4 206.2,160.3 207.9,165.6 209.6,173.5 211.3,182.0 213.0,190.8 214.7,198.9 216.3,207.4 218.0,216.1 218.2,216.9 296.2,221.2" stroke="#D95319"/><polyline points="53.4,208.1 102.3,210.8 104.0,208.5 105.7,204.9 107.4,199.7 109.1,193.4 110.7,187.4 112.4,181.5 114.1,174.5 115.8,167.6 117.5,162.7 119.2,158.7 120.8,156.2 122.5,152.1 124.2,147.2 125.9,142.6 127.6,139.1 129.3,135.1 130.9,130.1 132.6,126.2 134.3,121.6 136.0,115.4 137.7,111.7 139.4,109.8 141.0,107.5 142.7,105.2 144.4,102.6 146.1,100.4 147.8,95.6 149.5,90.1 151.1,87.2 152.8,83.7 154.5,84.1 156.2,82.6 157.9,80.0 159.6,81.0 161.2,83.5 162.9,81.6 164.6,81.9 166.3,85.2 168.0,88.2 169.7,87.0 171.3,88.2 173.0,84.5 174.7,84.4 176.4,83.9 178.1,87.3 179.8,86.6 181.4,91.1 183.1,96.5 184.8,100.8 186.5,105.5 188.2,109.3 189.9,112.8 191.5,117.1 193.2,122.2 194.9,126.4 196.6,131.4 198.3,136.4 200.0,142.3 201.6,147.0 203.3,153.2 205.0,159.3 206.7,165.0 208.4,174.8 210.1,184.0 211.7,192.5 213.4,200.9 215.1,209.9 216.4,217.1 295.8,221.4" stroke="#0072BD"/><polyline points="53.0,208.4 101.2,211.0 102.9,208.6 104.6,205.0 106.2,199.3 107.9,192.9 109.6,187.6 111.3,182.0 113.0,176.2 114.7,171.9 116.3,166.6 118.0,161.8 119.7,157.4 121.4,153.8 123.1,149.3 124.8,145.3 126.4,140.3 128.1,136.2 129.8,131.5 131.5,127.3 133.2,121.4 134.9,116.9 136.5,114.5 138.2,112.9 139.9,107.8 141.6,105.3 143.3,104.9 145.0,100.4 146.6,93.6 148.3,89.8 150.0,85.8 151.7,82.2 153.4,85.2 155.1,82.6 156.7,82.5 158.4,78.2 160.1,78.4 161.8,78.0 163.5,79.0 165.2,81.3 166.8,79.6 168.5,80.1 170.2,84.0 171.9,86.8 173.6,87.1 175.3,84.9 176.9,86.1 178.6,84.7 180.3,90.1 182.0,98.7 183.7,104.0 185.4,105.1 187.0,108.5 188.7,111.1 190.4,112.6 192.1,117.3 193.8,121.4 195.5,125.3 197.1,130.5 198.8,135.4 200.5,142.6 202.2,148.6 203.9,154.7 205.6,158.6 207.2,165.4 208.9,175.6 210.6,184.1 212.3,191.6 214.0,199.8 215.7,208.3 217.3,217.1 217.4,217.4 295.4,221.6" stroke="#A2142F"/><polyline points="52.6,208.6 102.0,211.3 103.7,209.0 105.3,205.6 107.0,200.0 108.7,193.4 110.4,187.2 112.1,181.2 113.8,174.8 115.4,168.8 117.1,164.5 118.8,160.9 120.5,157.4 122.2,152.7 123.9,147.9 125.5,143.1 127.2,138.8 128.9,136.5 130.6,130.9 132.3,127.2 134.0,125.5 135.6,121.7 137.3,117.8 139.0,113.1 140.7,108.5 142.4,104.0 144.1,97.6 145.7,91.8 147.4,92.5 149.1,89.6 150.8,86.0 152.5,86.8 154.2,87.1 155.8,88.6 157.5,88.1 159.2,88.4 160.9,89.1 162.6,88.6 164.3,88.5 165.9,84.2 167.6,84.6 169.3,83.6 171.0,85.0 172.7,86.5 174.4,83.5 176.0,86.0 177.7,89.4 179.4,92.4 181.1,99.1 182.8,101.8 184.5,107.6 186.1,109.8 187.8,116.6 189.5,123.8 191.2,126.5 192.9,125.3 194.6,130.1 196.2,134.3 197.9,141.1 199.6,147.4 201.3,153.5 203.0,158.8 204.7,164.8 206.3,173.2 208.0,181.5 209.7,190.3 211.4,198.7 213.1,207.3 214.8,216.3 215.0,217.5 295.0,221.9" stroke="#4DBEEE"/><polyline points="52.1,208.8 101.0,211.5 102.7,209.2 104.3,205.8 106.0,200.1 107.7,193.1 109.4,186.6 111.1,181.2 112.8,176.1 114.4,171.9 116.1,166.3 117.8,161.7 119.5,158.7 121.2,154.6 122.9,150.2 124.5,145.7 126.2,139.7 127.9,132.4 129.6,130.8 131.3,128.0 133.0,124.5 134.6,120.7 136.3,117.9 138.0,114.2 139.7,110.3 141.4,104.4 143.1,98.8 144.7,98.0 146.4,99.1 148.1,96.0 149.8,92.6 151.5,87.8 153.2,86.0 154.8,86.7 156.5,87.3 158.2,85.4 159.9,84.2 161.6,87.5 163.3,89.1 164.9,89.5 166.6,90.9 168.3,90.1 170.0,85.5 171.7,84.0 173.4,87.2 175.0,89.7 176.7,89.9 178.4,95.3 180.1,97.5 181.8,102.7 183.5,106.9 185.1,109.4 186.8,112.1 188.5,114.7 190.2,120.3 191.9,127.5 193.6,130.0 195.2,134.6 196.9,137.4 198.6,144.3 200.3,149.6 202.0,154.7 203.7,159.8 205.3,166.9 207.0,175.0 208.7,182.9 210.4,191.5 212.1,199.8 213.8,208.7 215.4,217.6 215.5,217.8 294.5,222.1" stroke="#77AC30"/><polyline points="51.7,209.0 101.2,211.8 102.9,209.4 104.6,205.8 106.3,200.1 108.0,193.4 109.7,187.5 111.3,181.6 113.0,175.3 114.7,170.2 116.4,165.8 118.1,161.0 119.8,157.4 121.4,153.6 123.1,149.5 124.8,145.0 126.5,140.0 128.2,136.3 129.9,133.4 131.5,131.0 133.2,126.8 134.9,121.1 136.6,115.4 138.3,113.4 140.0,110.9 141.6,101.6 143.3,98.1 145.0,95.5 146.7,93.3 148.4,91.4 150.1,90.1 151.7,89.9 153.4,90.8 155.1,90.7 156.8,86.3 158.5,84.2 160.2,81.5 161.8,82.5 163.5,80.3 165.2,79.5 166.9,83.1 168.6,85.0 170.3,88.3 171.9,89.6 173.6,91.5 175.3,91.8 177.0,90.6 178.7,94.3 180.4,96.5 182.0,99.9 183.7,107.6 185.4,111.3 187.1,115.7 188.8,118.0 190.5,123.7 192.1,128.9 193.8,133.0 195.5,136.7 197.2,142.8 198.9,148.3 200.6,154.5 202.2,161.3 203.9,169.2 205.6,176.7 207.3,184.4 209.0,192.8 210.7,201.9 212.3,211.0 213.6,217.9 294.1,222.3" stroke="#7E2F8E"/><polyline points="51.3,209.3 98.5,211.9 100.1,209.5 101.8,206.0 103.5,200.9 105.2,194.2 106.9,187.5 108.6,182.0 110.2,175.4 111.9,169.5 113.6,166.6 115.3,162.7 117.0,157.9 118.7,153.6 120.3,148.6 122.0,143.6 123.7,137.9 125.4,134.6 127.1,130.0 128.8,126.3 130.4,123.9 132.1,120.2 133.8,117.1 135.5,113.0 137.2,109.4 138.9,106.5 140.5,103.1 142.2,100.1 143.9,95.3 145.6,93.3 147.3,91.4 149.0,84.2 150.6,83.0 152.3,82.3 154.0,80.4 155.7,80.8 157.4,83.1 159.1,85.8 160.7,87.1 162.4,84.4 164.1,85.0 165.8,85.3 167.5,84.5 169.2,82.3 170.8,85.6 172.5,88.2 174.2,86.0 175.9,87.8 177.6,91.3 179.3,94.8 180.9,101.3 182.6,105.4 184.3,109.4 186.0,114.0 187.7,117.9 189.4,120.5 191.0,124.3 192.7,130.0 194.4,133.3 196.1,135.8 197.8,141.7 199.5,148.4 201.1,154.1 202.8,159.9 204.5,167.5 206.2,175.7 207.9,184.8 209.6,193.8 211.2,202.9 212.9,211.7 214.2,218.2 293.7,222.6" stroke="#EDB120"/><polyline points="50.9,209.5 99.6,212.2 101.3,209.9 102.9,206.4 104.6,200.6 106.3,193.8 108.0,187.7 109.7,181.7 111.4,175.1 113.0,169.4 114.7,164.6 116.4,160.2 118.1,156.4 119.8,152.3 121.5,149.3 123.1,143.4 124.8,137.8 126.5,132.0 128.2,128.7 129.9,126.4 131.6,123.7 133.2,118.1 134.9,115.2 136.6,113.9 138.3,109.2 140.0,106.8 141.7,103.6 143.3,99.1 145.0,97.3 146.7,90.4 148.4,88.8 150.1,87.4 151.8,84.9 153.4,84.3 155.1,84.1 156.8,84.4 158.5,84.0 160.2,81.8 161.9,83.3 163.5,80.4 165.2,82.2 166.9,80.6 168.6,82.8 170.3,81.4 172.0,80.8 173.6,81.7 175.3,85.6 177.0,87.7 178.7,90.2 180.4,94.8 182.1,100.8 183.7,104.7 185.4,108.5 187.1,115.1 188.8,119.5 190.5,124.8 192.2,126.3 193.8,129.9 195.5,134.6 197.2,139.7 198.9,146.1 200.6,151.9 202.3,158.5 203.9,166.4 205.6,174.6 207.3,182.5 209.0,190.7 210.7,199.3 212.4,208.4 214.0,217.5 214.2,218.5 293.3,222.8" stroke="#D95319"/><polyline points="50.4,209.7 95.6,212.2 97.2,210.0 98.9,206.6 100.6,201.5 102.3,195.2 104.0,188.5 105.7,182.8 107.3,177.5 109.0,172.5 110.7,167.9 112.4,164.1 114.1,159.9 115.8,155.5 117.4,150.5 119.1,146.9 120.8,140.4 122.5,136.0 124.2,133.4 125.9,129.5 127.5,127.1 129.2,126.6 130.9,119.9 132.6,113.2 134.3,109.4 136.0,105.0 137.6,101.2 139.3,97.8 141.0,94.0 142.7,91.0 144.4,89.3 146.1,88.0 147.7,86.3 149.4,85.5 151.1,84.7 152.8,82.3 154.5,82.7 156.2,83.3 157.8,85.3 159.5,82.2 161.2,83.2 162.9,80.5 164.6,81.7 166.3,83.2 167.9,84.8 169.6,88.4 171.3,92.8 173.0,95.3 174.7,91.7 176.4,94.0 178.0,99.8 179.7,105.1 181.4,107.4 183.1,111.5 184.8,114.0 186.5,115.3 188.1,121.1 189.8,126.5 191.5,132.0 193.2,136.9 194.9,143.0 196.6,148.0 198.2,152.7 199.9,158.1 201.6,164.4 203.3,171.4 205.0,178.3 206.7,186.9 208.3,196.0 210.0,204.9 211.7,213.7 212.7,218.6 292.8,223.0" stroke="#0072BD"/><polyline points="50.0,210.0 97.6,212.6 99.3,210.2 101.0,206.6 102.6,200.9 104.3,194.8 106.0,188.3 107.7,181.9 109.4,176.8 111.1,172.4 112.7,167.2 114.4,161.2 116.1,157.1 117.8,152.9 119.5,148.3 121.2,142.8 122.8,139.0 124.5,136.9 126.2,133.7 127.9,128.8 129.6,122.2 131.3,118.2 132.9,115.8 134.6,114.0 136.3,110.3 138.0,105.7 139.7,99.9 141.4,96.4 143.0,87.6 144.7,85.0 146.4,83.8 148.1,82.8 149.8,81.0 151.5,82.3 153.1,79.5 154.8,82.3 156.5,78.0 158.2,78.8 159.9,81.8 161.6,83.7 163.2,83.1 164.9,82.7 166.6,85.0 168.3,84.2 170.0,84.9 171.7,83.8 173.3,86.8 175.0,86.7 176.7,86.8 178.4,93.3 180.1,99.7 181.8,105.2 183.4,107.4 185.1,107.4 186.8,111.6 188.5,114.5 190.2,118.9 191.9,124.8 193.5,132.7 195.2,138.3 196.9,142.9 198.6,148.3 200.3,154.5 202.0,161.9 203.6,168.3 205.3,176.1 207.0,184.9 208.7,193.3 210.4,201.9 212.1,210.7 213.6,219.0 292.4,223.3" stroke="#A2142F"/><polyline points="49.6,210.2 97.3,212.8 99.0,210.4 100.7,206.9 102.4,201.1 104.1,194.4 105.8,188.4 107.4,181.9 109.1,176.4 110.8,171.4 112.5,165.0 114.2,160.2 115.9,157.0 117.5,153.8 119.2,149.6 120.9,144.7 122.6,139.0 124.3,136.4 126.0,132.3 127.6,125.9 129.3,121.8 131.0,117.1 132.7,112.6 134.4,108.2 136.1,105.7 137.7,100.7 139.4,98.3 141.1,91.8 142.8,89.9 144.5,88.5 146.2,86.6 147.8,84.3 149.5,82.6 151.2,82.1 152.9,82.4 154.6,86.6 156.3,84.1 157.9,84.0 159.6,85.6 161.3,84.9 163.0,83.4 164.7,86.9 166.4,89.2 168.0,90.7 169.7,88.8 171.4,88.1 173.1,88.8 174.8,90.3 176.5,91.6 178.1,95.1 179.8,100.6 181.5,105.9 183.2,110.0 184.9,115.2 186.6,118.4 188.2,122.2 189.9,128.7 191.6,134.6 193.3,141.6 195.0,147.0 196.7,150.6 198.3,157.0 200.0,164.5 201.7,172.8 203.4,180.2 205.1,189.3 206.8,198.0 208.4,206.9 210.1,216.2 210.6,219.0 292.0,223.5" stroke="#4DBEEE"/><polyline points="49.1,210.4 97.2,213.1 98.8,210.7 100.5,207.2 102.2,201.9 103.9,195.5 105.6,188.7 107.3,183.0 108.9,177.5 110.6,171.8 112.3,166.9 114.0,163.0 115.7,159.3 117.4,156.2 119.0,151.1 120.7,145.4 122.4,141.3 124.1,136.2 125.8,134.1 127.5,129.6 129.1,126.1 130.8,118.8 132.5,114.2 134.2,112.0 135.9,107.6 137.6,103.3 139.2,102.1 140.9,97.4 142.6,94.9 144.3,91.7 146.0,87.7 147.7,84.8 149.3,81.7 151.0,81.1 152.7,82.9 154.4,81.7 156.1,83.1 157.8,85.6 159.4,85.1 161.1,83.5 162.8,81.1 164.5,83.2 166.2,86.6 167.9,85.5 169.5,84.2 171.2,85.2 172.9,84.4 174.6,87.3 176.3,90.6 178.0,93.5 179.6,95.0 181.3,100.2 183.0,104.7 184.7,111.8 186.4,117.6 188.1,120.8 189.7,125.7 191.4,127.8 193.1,130.7 194.8,134.9 196.5,140.3 198.2,147.1 199.8,152.9 201.5,159.7 203.2,166.2 204.9,174.7 206.6,182.7 208.3,191.5 209.9,199.5 211.6,208.1 213.3,216.7 213.9,219.5 291.5,223.7" stroke="#77AC30"/><polyline points="48.7,210.7 98.2,213.4 99.9,211.1 101.6,207.5 103.3,201.9 105.0,194.7 106.7,188.9 108.3,183.1 110.0,176.9 111.7,172.0 113.4,166.7 115.1,162.3 116.8,158.5 118.4,152.7 120.1,148.7 121.8,145.3 123.5,141.7 125.2,135.6 126.9,130.1 128.5,126.2 130.2,121.5 131.9,119.8 133.6,117.0 135.3,111.8 137.0,109.4 138.6,104.8 140.3,99.8 142.0,98.2 143.7,96.2 145.4,92.6 147.1,86.4 148.7,81.4 150.4,80.4 152.1,82.7 153.8,84.5 155.5,82.3 157.2,80.4 158.8,78.0 160.5,81.9 162.2,78.8 163.9,80.5 165.6,85.8 167.3,85.5 168.9,84.4 170.6,84.1 172.3,89.0 174.0,89.8 175.7,94.1 177.4,98.8 179.0,102.0 180.7,103.2 182.4,108.5 184.1,114.9 185.8,119.8 187.5,121.4 189.1,125.9 190.8,131.1 192.5,137.5 194.2,141.8 195.9,145.5 197.6,151.1 199.2,156.6 200.9,163.7 202.6,171.7 204.3,180.7 206.0,190.3 207.7,199.1 209.3,207.9 211.0,217.1 211.5,219.6 291.1,224.0" stroke="#7E2F8E"/><polyline points="48.3,210.9 96.2,213.5 97.9,211.1 99.6,207.5 101.2,202.1 102.9,195.4 104.6,188.9 106.3,182.1 108.0,176.4 109.7,170.0 111.3,165.9 113.0,161.0 114.7,156.8 116.4,153.3 118.1,150.9 119.8,148.0 121.4,143.0 123.1,136.5 124.8,132.5 126.5,129.8 128.2,127.4 129.9,119.1 131.5,113.4 133.2,111.1 134.9,104.4 136.6,101.4 138.3,100.8 140.0,96.7 141.6,92.3 143.3,87.8 145.0,87.4 146.7,84.0 148.4,83.2 150.1,82.2 151.7,83.1 153.4,85.0 155.1,87.7 156.8,85.1 158.5,86.4 160.2,85.0 161.8,83.4 163.5,82.8 165.2,83.2 166.9,85.6 168.6,85.0 170.3,86.8 171.9,87.9 173.6,91.4 175.3,95.2 177.0,98.3 178.7,98.5 180.4,104.0 182.0,111.5 183.7,115.9 185.4,120.7 187.1,121.5 188.8,124.5 190.5,133.5 192.1,139.4 193.8,145.0 195.5,150.6 197.2,156.3 198.9,162.5 200.6,169.1 202.2,178.1 203.9,186.0 205.6,194.7 207.3,203.3 209.0,212.5 210.3,219.8 290.7,224.2" stroke="#EDB120"/><polyline points="47.9,211.1 95.8,213.8 97.4,211.4 99.1,207.9 100.8,202.6 102.5,195.5 104.2,189.0 105.9,182.6 107.5,176.8 109.2,171.7 110.9,168.2 112.6,163.7 114.3,158.9 116.0,153.6 117.6,149.5 119.3,147.3 121.0,142.8 122.7,137.3 124.4,131.6 126.1,126.2 127.7,122.3 129.4,119.3 131.1,115.7 132.8,111.2 134.5,110.0 136.2,108.4 137.8,107.0 139.5,103.0 141.2,96.7 142.9,94.8 144.6,92.0 146.3,90.9 147.9,85.5 149.6,82.0 151.3,81.2 153.0,82.1 154.7,80.8 156.4,78.4 158.0,78.2 159.7,80.9 161.4,85.5 163.1,84.8 164.8,85.4 166.5,84.2 168.1,85.4 169.8,88.1 171.5,87.6 173.2,90.2 174.9,96.0 176.6,100.4 178.2,104.4 179.9,112.9 181.6,115.2 183.3,117.1 185.0,118.6 186.7,122.5 188.3,126.3 190.0,130.3 191.7,135.9 193.4,143.8 195.1,149.6 196.8,154.6 198.4,160.5 200.1,167.4 201.8,175.7 203.5,184.4 205.2,193.4 206.9,201.5 208.5,210.3 210.2,219.1 210.4,220.1 290.3,224.4" stroke="#D95319"/><polyline points="47.4,211.4 93.0,213.9 94.7,211.6 96.3,208.1 98.0,202.8 99.7,196.1 101.4,189.7 103.1,184.3 104.8,178.4 106.4,172.9 108.1,167.5 109.8,163.8 111.5,159.8 113.2,155.3 114.9,150.6 116.5,146.5 118.2,143.5 119.9,137.6 121.6,135.8 123.3,131.7 125.0,127.8 126.6,125.1 128.3,118.6 130.0,113.1 131.7,111.4 133.4,103.5 135.1,97.8 136.7,96.9 138.4,94.8 140.1,89.4 141.8,85.9 143.5,85.3 145.2,85.2 146.8,86.1 148.5,85.3 150.2,83.4 151.9,78.3 153.6,80.3 155.3,82.0 156.9,82.8 158.6,82.2 160.3,80.0 162.0,83.3 163.7,84.2 165.4,87.1 167.0,88.8 168.7,93.3 170.4,94.7 172.1,93.6 173.8,95.2 175.5,98.2 177.1,100.4 178.8,104.2 180.5,110.9 182.2,115.1 183.9,116.0 185.6,120.1 187.2,124.8 188.9,129.9 190.6,137.6 192.3,143.5 194.0,148.2 195.7,154.8 197.3,162.1 199.0,168.4 200.7,175.4 202.4,182.0 204.1,190.8 205.8,199.3 207.4,207.8 209.1,217.0 209.7,220.3 289.8,224.7" stroke="#0072BD"/></g><polyline points="100.4,181.6 146.0,184.6 150.3,184.5 154.6,168.2 159.0,150.7 161.6,138.3 166.5,121.9 171.4,110.5 175.5,99.0 177.5,94.0 181.0,88.0 185.5,79.5 189.5,73.5 193.5,68.0 197.5,63.8 202.0,61.3 207.0,60.8 211.0,61.8 215.0,64.5 220.0,69.6 225.2,74.7 228.7,80.0 233.1,90.9 237.5,101.8 241.8,117.1 246.2,130.2 250.5,145.5 254.9,160.7 259.3,176.0 262.5,186.9 264.7,191.3 278.9,192.4 340.8,196.4" fill="none" stroke="#ff0000" stroke-width="2.2" stroke-dasharray="11 1.8 1.3 1.8" stroke-linejoin="round"/><g fill="none" stroke-width="0.5" stroke-opacity="0.85" stroke-linejoin="round"><polyline points="239.8,376.0 242.3,377.3 244.7,377.5 247.2,381.1 249.6,387.9 252.1,388.4 254.5,386.9 256.9,388.7 259.4,391.2 261.8,392.5 264.3,392.8 266.7,394.4 269.2,395.3 271.6,396.1 274.1,396.2 276.5,396.2 279.0,399.7 281.4,401.1 283.9,402.9 286.3,401.4 288.8,400.4 291.2,402.8 293.6,404.1 296.1,406.4 298.5,409.5 301.0,408.9 303.4,407.8 305.9,407.6 308.3,408.7 310.8,414.6 313.2,414.4 315.7,416.4 318.1,419.6 320.6,422.1 323.0,428.5 325.5,429.7 327.9,434.0 330.3,433.5 332.8,433.2 335.2,436.4 337.7,435.8 340.1,434.3 342.6,436.4 345.0,436.8 347.5,436.2 349.9,437.8 352.4,439.8 354.8,438.0 357.3,441.5 359.7,443.4 362.2,443.8 364.6,446.0 367.0,444.3 369.5,445.6 371.9,446.7 374.4,447.4 376.8,446.8 379.3,457.9 381.7,453.5 384.2,457.8 386.6,458.5" stroke="#77AC30"/><polyline points="238.8,385.2 241.2,389.7 243.7,386.1 246.1,386.7 248.6,388.2 251.0,386.3 253.4,387.4 255.9,389.5 258.3,394.8 260.8,397.5 263.2,398.8 265.7,398.7 268.1,399.2 270.6,399.3 273.0,401.2 275.5,402.6 277.9,406.7 280.4,405.8 282.8,408.2 285.3,406.5 287.7,406.8 290.1,406.6 292.6,407.9 295.0,411.6 297.5,413.5 299.9,415.9 302.4,416.5 304.8,415.9 307.3,416.6 309.7,419.1 312.2,421.0 314.6,423.1 317.1,425.3 319.5,429.5 322.0,433.5 324.4,436.1 326.8,437.7 329.3,437.6 331.7,436.8 334.2,437.0 336.6,437.8 339.1,439.4 341.5,438.8 344.0,439.2 346.4,441.0 348.9,439.0 351.3,441.1 353.8,444.2 356.2,446.3 358.7,447.6 361.1,449.9 363.5,449.1 366.0,452.1 368.4,453.4 370.9,454.4 373.3,446.7 375.8,454.4 378.2,449.8 380.7,445.3 383.1,453.2 385.6,445.0" stroke="#7E2F8E"/><polyline points="237.7,336.6 240.2,376.3 242.6,375.3 245.1,379.5 247.5,380.5 249.9,380.1 252.4,382.2 254.8,386.1 257.3,388.6 259.7,391.4 262.2,391.3 264.6,393.4 267.1,395.7 269.5,398.4 272.0,397.3 274.4,398.2 276.9,401.4 279.3,402.9 281.8,401.2 284.2,402.7 286.6,402.8 289.1,406.3 291.5,406.3 294.0,410.4 296.4,409.6 298.9,409.9 301.3,408.2 303.8,408.1 306.2,412.9 308.7,414.2 311.1,417.4 313.6,419.2 316.0,422.4 318.5,426.5 320.9,431.6 323.3,437.1 325.8,438.0 328.2,436.9 330.7,434.9 333.1,433.8 335.6,433.5 338.0,433.9 340.5,434.2 342.9,436.3 345.4,434.7 347.8,436.4 350.3,439.1 352.7,442.7 355.2,447.7 357.6,447.2 360.0,447.9 362.5,448.0 364.9,448.3 367.4,447.8 369.8,450.4 372.3,428.1 374.7,457.3 377.2,449.7 379.6,438.7 382.1,454.0 384.5,450.7" stroke="#EDB120"/><polyline points="236.7,369.1 239.1,377.3 241.6,378.0 244.0,379.4 246.4,379.1 248.9,379.6 251.3,380.2 253.8,383.8 256.2,385.5 258.7,388.4 261.1,388.4 263.6,390.1 266.0,391.1 268.5,395.0 270.9,397.5 273.4,396.5 275.8,396.0 278.3,397.4 280.7,395.7 283.1,397.7 285.6,397.5 288.0,399.7 290.5,402.4 292.9,406.2 295.4,406.2 297.8,407.5 300.3,409.1 302.7,407.4 305.2,408.2 307.6,410.1 310.1,412.6 312.5,413.6 315.0,416.3 317.4,420.5 319.8,425.7 322.3,427.4 324.7,427.8 327.2,430.1 329.6,427.7 332.1,424.9 334.5,425.7 337.0,427.8 339.4,428.2 341.9,429.6 344.3,429.6 346.8,431.7 349.2,435.3 351.7,439.1 354.1,439.7 356.5,439.5 359.0,440.9 361.4,440.8 363.9,441.5 366.3,442.8 368.8,444.5 371.2,454.6 373.7,428.6 376.1,443.0 378.6,452.2 381.0,453.4 383.5,458.1" stroke="#D95319"/><polyline points="235.6,369.0 238.1,372.4 240.5,378.8 242.9,381.1 245.4,384.0 247.8,384.7 250.3,384.8 252.7,389.7 255.2,395.0 257.6,394.7 260.1,393.6 262.5,393.3 265.0,394.6 267.4,395.2 269.9,397.1 272.3,399.8 274.8,400.4 277.2,400.7 279.6,399.6 282.1,399.8 284.5,402.4 287.0,405.4 289.4,407.7 291.9,409.7 294.3,412.4 296.8,412.9 299.2,412.7 301.7,410.7 304.1,412.2 306.6,413.4 309.0,413.6 311.5,417.4 313.9,419.9 316.3,423.4 318.8,428.8 321.2,433.2 323.7,433.2 326.1,432.3 328.6,432.6 331.0,431.7 333.5,432.9 335.9,431.5 338.4,432.9 340.8,434.3 343.3,433.7 345.7,433.9 348.2,435.7 350.6,437.7 353.0,439.6 355.5,443.4 357.9,443.2 360.4,445.5 362.8,444.7 365.3,445.5 367.7,445.4 370.2,456.7 372.6,448.1 375.1,437.1 377.5,456.7 380.0,453.0 382.4,461.2" stroke="#0072BD"/><polyline points="234.6,387.1 237.0,376.7 239.4,380.4 241.9,375.1 244.3,378.3 246.8,379.6 249.2,381.8 251.7,383.0 254.1,384.3 256.6,388.9 259.0,391.8 261.5,395.0 263.9,397.9 266.4,397.1 268.8,396.1 271.3,396.6 273.7,397.3 276.1,397.5 278.6,397.0 281.0,398.5 283.5,398.3 285.9,400.4 288.4,402.6 290.8,405.4 293.3,408.6 295.7,409.6 298.2,410.1 300.6,409.9 303.1,413.4 305.5,414.7 308.0,414.9 310.4,416.1 312.8,419.3 315.3,424.8 317.7,428.1 320.2,430.3 322.6,433.9 325.1,430.8 327.5,431.5 330.0,430.0 332.4,429.6 334.9,430.4 337.3,432.3 339.8,434.1 342.2,435.2 344.7,434.9 347.1,436.5 349.5,437.3 352.0,438.1 354.4,440.4 356.9,440.9 359.3,442.6 361.8,442.6 364.2,443.3 366.7,443.7 369.1,454.3 371.6,438.0 374.0,455.2 376.5,459.0 378.9,440.8 381.4,435.2" stroke="#A2142F"/><polyline points="233.5,384.3 235.9,384.4 238.4,381.4 240.8,377.1 243.3,380.1 245.7,380.0 248.2,379.6 250.6,384.7 253.1,387.6 255.5,389.8 258.0,389.0 260.4,389.6 262.9,395.9 265.3,397.2 267.7,397.8 270.2,397.0 272.6,396.4 275.1,395.2 277.5,394.1 280.0,394.7 282.4,396.9 284.9,399.0 287.3,402.7 289.8,405.9 292.2,407.8 294.7,409.7 297.1,407.6 299.6,405.5 302.0,407.4 304.4,407.8 306.9,409.2 309.3,413.3 311.8,417.5 314.2,421.3 316.7,426.5 319.1,430.0 321.6,430.1 324.0,427.2 326.5,426.5 328.9,425.8 331.4,425.3 333.8,429.0 336.3,430.3 338.7,432.7 341.1,433.7 343.6,433.8 346.0,433.9 348.5,434.7 350.9,436.3 353.4,437.6 355.8,439.2 358.3,439.0 360.7,440.1 363.2,441.2 365.6,441.5 368.1,442.9 370.5,450.5 373.0,437.2 375.4,455.7 377.8,452.1 380.3,460.7" stroke="#4DBEEE"/><polyline points="232.4,369.2 234.9,382.3 237.3,376.3 239.8,378.5 242.2,375.8 244.7,378.4 247.1,381.1 249.6,386.8 252.0,390.3 254.5,394.8 256.9,392.6 259.4,394.6 261.8,396.7 264.2,396.9 266.7,397.3 269.1,396.1 271.6,395.8 274.0,393.2 276.5,393.9 278.9,395.2 281.4,398.6 283.8,401.5 286.3,404.2 288.7,407.7 291.2,408.7 293.6,409.3 296.1,409.2 298.5,409.1 300.9,411.5 303.4,412.9 305.8,415.0 308.3,416.4 310.7,418.0 313.2,422.1 315.6,425.4 318.1,428.4 320.5,428.9 323.0,428.7 325.4,428.2 327.9,427.4 330.3,427.1 332.8,428.4 335.2,431.3 337.6,434.4 340.1,434.6 342.5,436.5 345.0,437.5 347.4,438.5 349.9,440.0 352.3,440.4 354.8,439.9 357.2,440.0 359.7,440.4 362.1,443.4 364.6,443.2 367.0,453.3 369.5,449.3 371.9,451.2 374.3,432.4 376.8,455.8 379.2,461.3" stroke="#77AC30"/><polyline points="231.4,377.7 233.8,386.0 236.3,376.0 238.7,376.5 241.2,373.8 243.6,381.8 246.1,390.2 248.5,392.0 251.0,392.3 253.4,391.3 255.9,392.4 258.3,392.3 260.7,393.7 263.2,393.0 265.6,396.2 268.1,398.5 270.5,399.7 273.0,400.4 275.4,398.9 277.9,399.3 280.3,398.0 282.8,401.4 285.2,404.5 287.7,408.2 290.1,411.7 292.6,410.8 295.0,411.5 297.4,414.3 299.9,413.1 302.3,413.4 304.8,414.9 307.2,416.1 309.7,420.2 312.1,423.5 314.6,427.0 317.0,429.5 319.5,430.5 321.9,430.0 324.4,427.8 326.8,427.6 329.3,428.9 331.7,431.2 334.1,433.4 336.6,434.5 339.0,434.8 341.5,435.4 343.9,436.5 346.4,437.9 348.8,439.7 351.3,441.0 353.7,441.3 356.2,441.7 358.6,441.7 361.1,443.8 363.5,444.2 366.0,438.7 368.4,458.0 370.8,453.0 373.3,439.0 375.7,452.0 378.2,448.7" stroke="#7E2F8E"/><polyline points="230.3,377.3 232.8,376.0 235.2,373.9 237.7,372.3 240.1,376.1 242.6,381.3 245.0,387.7 247.5,390.8 249.9,392.6 252.4,390.7 254.8,391.6 257.2,393.9 259.7,395.6 262.1,396.8 264.6,398.0 267.0,397.8 269.5,399.6 271.9,398.9 274.4,399.1 276.8,396.9 279.3,399.0 281.7,400.7 284.2,405.8 286.6,411.3 289.1,415.0 291.5,414.9 293.9,413.8 296.4,414.5 298.8,414.3 301.3,414.8 303.7,416.5 306.2,417.5 308.6,419.2 311.1,423.6 313.5,427.3 316.0,431.1 318.4,432.1 320.9,431.0 323.3,431.4 325.8,429.2 328.2,429.0 330.6,429.8 333.1,436.0 335.5,436.4 338.0,435.4 340.4,435.5 342.9,438.0 345.3,439.3 347.8,441.5 350.2,443.6 352.7,444.5 355.1,443.8 357.6,445.8 360.0,445.2 362.5,444.9 364.9,454.2 367.3,452.2 369.8,453.5 372.2,456.1 374.7,457.8 377.1,459.4" stroke="#EDB120"/><polyline points="229.3,384.7 231.7,378.2 234.2,377.5 236.6,377.0 239.1,374.4 241.5,386.5 244.0,393.6 246.4,393.8 248.9,394.3 251.3,394.0 253.7,395.0 256.2,397.6 258.6,403.1 261.1,403.8 263.5,402.2 266.0,398.9 268.4,397.3 270.9,398.9 273.3,399.6 275.8,398.8 278.2,399.0 280.7,401.7 283.1,406.7 285.6,414.1 288.0,414.1 290.4,414.7 292.9,414.5 295.3,415.4 297.8,414.1 300.2,418.2 302.7,419.6 305.1,420.3 307.6,421.1 310.0,423.3 312.5,428.3 314.9,430.9 317.4,434.3 319.8,433.5 322.3,432.8 324.7,431.8 327.1,432.5 329.6,435.7 332.0,436.4 334.5,436.8 336.9,439.8 339.4,438.9 341.8,439.5 344.3,441.1 346.7,441.3 349.2,443.3 351.6,446.4 354.1,447.4 356.5,447.2 359.0,447.8 361.4,447.6 363.8,453.0 366.3,443.0 368.7,456.6 371.2,430.6 373.6,448.1 376.1,458.8" stroke="#D95319"/><polyline points="228.2,376.0 230.7,383.1 233.1,377.1 235.6,372.7 238.0,377.1 240.5,381.3 242.9,388.8 245.4,392.9 247.8,390.1 250.2,388.7 252.7,388.3 255.1,391.7 257.6,393.6 260.0,393.4 262.5,394.9 264.9,395.3 267.4,395.6 269.8,396.4 272.3,395.4 274.7,397.2 277.2,399.3 279.6,401.1 282.1,403.4 284.5,408.0 286.9,410.9 289.4,410.6 291.8,411.2 294.3,411.9 296.7,414.2 299.2,416.1 301.6,415.6 304.1,414.1 306.5,414.5 309.0,420.2 311.4,420.6 313.9,424.4 316.3,427.1 318.8,427.6 321.2,428.7 323.6,429.3 326.1,430.7 328.5,432.2 331.0,435.8 333.4,439.3 335.9,439.1 338.3,436.1 340.8,436.8 343.2,438.3 345.7,439.0 348.1,441.6 350.6,440.5 353.0,441.2 355.5,442.1 357.9,443.2 360.3,444.7 362.8,456.1 365.2,435.3 367.7,458.4 370.1,458.7 372.6,452.0 375.0,463.4" stroke="#0072BD"/><polyline points="227.2,374.2 229.6,386.6 232.1,375.4 234.5,373.3 237.0,377.1 239.4,384.6 241.9,391.6 244.3,393.9 246.7,392.0 249.2,389.9 251.6,389.0 254.1,391.7 256.5,392.1 259.0,395.6 261.4,394.4 263.9,394.8 266.3,396.6 268.8,398.4 271.2,401.2 273.7,401.2 276.1,401.9 278.6,403.0 281.0,406.9 283.4,409.5 285.9,411.8 288.3,412.6 290.8,411.8 293.2,413.7 295.7,416.0 298.1,418.6 300.6,419.8 303.0,420.5 305.5,418.6 307.9,420.4 310.4,423.0 312.8,426.7 315.3,429.6 317.7,430.5 320.1,430.3 322.6,431.5 325.0,432.3 327.5,434.2 329.9,437.7 332.4,441.2 334.8,442.0 337.3,439.5 339.7,437.8 342.2,438.6 344.6,441.6 347.1,444.0 349.5,442.7 352.0,445.4 354.4,446.2 356.8,444.8 359.3,445.0 361.7,449.1 364.2,459.9 366.6,454.6 369.1,436.5 371.5,457.5 374.0,456.9" stroke="#A2142F"/><polyline points="226.1,376.8 228.6,386.4 231.0,373.1 233.5,369.9 235.9,376.4 238.4,385.3 240.8,390.9 243.2,391.3 245.7,389.6 248.1,389.5 250.6,389.8 253.0,394.1 255.5,394.6 257.9,397.6 260.4,398.6 262.8,397.0 265.3,399.2 267.7,400.8 270.2,398.9 272.6,398.3 275.1,398.8 277.5,400.9 279.9,407.7 282.4,410.9 284.8,412.8 287.3,413.6 289.7,414.2 292.2,415.6 294.6,419.1 297.1,421.5 299.5,419.9 302.0,418.2 304.4,417.1 306.9,418.0 309.3,422.4 311.8,428.4 314.2,429.1 316.6,429.7 319.1,430.9 321.5,430.0 324.0,431.5 326.4,433.5 328.9,433.2 331.3,435.9 333.8,435.8 336.2,437.8 338.7,439.5 341.1,440.5 343.6,441.7 346.0,441.6 348.5,445.1 350.9,447.9 353.3,446.5 355.8,447.8 358.2,446.2 360.7,442.6 363.1,443.5 365.6,456.3 368.0,438.4 370.5,435.1 372.9,457.8" stroke="#4DBEEE"/><polyline points="225.1,374.2 227.5,377.0 230.0,375.7 232.4,377.9 234.9,383.1 237.3,390.0 239.7,394.5 242.2,392.6 244.6,388.7 247.1,386.5 249.5,388.8 252.0,393.8 254.4,397.2 256.9,398.1 259.3,394.9 261.8,393.5 264.2,396.3 266.7,397.6 269.1,399.8 271.6,400.3 274.0,399.7 276.4,400.8 278.9,404.8 281.3,408.8 283.8,411.5 286.2,410.3 288.7,412.4 291.1,415.4 293.6,417.3 296.0,420.6 298.5,422.3 300.9,422.5 303.4,421.1 305.8,422.7 308.3,425.9 310.7,428.9 313.1,429.5 315.6,429.5 318.0,429.3 320.5,430.0 322.9,431.4 325.4,434.0 327.8,438.2 330.3,438.1 332.7,435.9 335.2,436.0 337.6,437.0 340.1,437.9 342.5,440.5 345.0,443.0 347.4,442.5 349.8,444.4 352.3,444.8 354.7,446.9 357.2,445.7 359.6,451.6 362.1,451.1 364.5,432.2 367.0,435.6 369.4,460.1 371.9,454.3" stroke="#77AC30"/><polyline points="224.0,375.7 226.5,375.9 228.9,375.6 231.4,380.1 233.8,384.3 236.2,391.7 238.7,397.5 241.1,398.3 243.6,394.3 246.0,393.6 248.5,393.9 250.9,393.0 253.4,395.9 255.8,398.1 258.3,399.2 260.7,398.6 263.2,400.4 265.6,402.0 268.1,403.5 270.5,405.6 272.9,405.8 275.4,405.5 277.8,405.7 280.3,408.7 282.7,411.5 285.2,414.0 287.6,418.6 290.1,419.7 292.5,422.0 295.0,424.0 297.4,423.9 299.9,421.9 302.3,421.5 304.8,422.5 307.2,422.5 309.6,425.5 312.1,429.4 314.5,431.6 317.0,432.4 319.4,431.4 321.9,432.5 324.3,434.1 326.8,435.0 329.2,437.0 331.7,439.6 334.1,438.1 336.6,440.4 339.0,441.2 341.5,442.6 343.9,443.9 346.3,447.3 348.8,446.4 351.2,448.4 353.7,445.5 356.1,447.4 358.6,457.7 361.0,450.5 363.5,455.4 365.9,460.7 368.4,457.8 370.8,446.1" stroke="#7E2F8E"/><polyline points="223.0,376.8 225.4,375.2 227.8,378.2 230.3,374.1 232.7,383.0 235.2,388.0 237.6,386.8 240.1,390.4 242.5,387.5 245.0,387.5 247.4,389.6 249.9,393.5 252.3,395.5 254.8,398.1 257.2,399.9 259.7,399.3 262.1,401.4 264.5,399.3 267.0,400.6 269.4,401.6 271.9,401.2 274.3,404.3 276.8,406.7 279.2,410.0 281.7,411.0 284.1,412.0 286.6,415.5 289.0,418.5 291.5,418.6 293.9,418.7 296.4,419.3 298.8,419.4 301.2,418.2 303.7,419.6 306.1,423.8 308.6,425.7 311.0,426.8 313.5,426.3 315.9,427.6 318.4,429.4 320.8,431.7 323.3,434.0 325.7,435.7 328.2,436.6 330.6,437.2 333.1,436.3 335.5,437.5 337.9,438.6 340.4,441.1 342.8,444.3 345.3,445.6 347.7,445.9 350.2,446.5 352.6,446.5 355.1,445.4 357.5,453.9 360.0,444.9 362.4,441.1 364.9,439.8 367.3,459.1 369.8,462.4" stroke="#EDB120"/><polyline points="221.9,367.8 224.3,365.9 226.8,355.9 229.2,356.2 231.7,356.7 234.1,359.9 236.6,368.0 239.0,373.4 241.5,378.7 243.9,382.2 246.4,385.2 248.8,390.0 251.3,393.9 253.7,396.8 256.2,398.7 258.6,394.2 261.0,387.2 263.5,377.1 265.9,371.5 268.4,374.9 270.8,383.6 273.3,394.2 275.7,401.8 278.2,405.5 280.6,406.9 283.1,408.6 285.5,412.8 288.0,414.6 290.4,417.2 292.9,420.2 295.3,416.9 297.7,416.0 300.2,418.3 302.6,418.4 305.1,424.5 307.5,425.6 310.0,427.4 312.4,425.4 314.9,425.8 317.3,427.0 319.8,431.2 322.2,433.4 324.7,435.3 327.1,434.6 329.6,434.4 332.0,434.1 334.4,435.7 336.9,437.9 339.3,439.5 341.8,441.6 344.2,442.0 346.7,441.9 349.1,442.2 351.6,443.3 354.0,442.3 356.5,443.6 358.9,455.4 361.4,447.8 363.8,445.6 366.3,463.5 368.7,456.5" stroke="#D95319"/><polyline points="220.8,385.9 223.3,386.0 225.7,375.8 228.2,376.8 230.6,384.2 233.1,390.4 235.5,394.0 238.0,395.1 240.4,391.3 242.9,388.8 245.3,389.9 247.8,393.2 250.2,398.2 252.7,402.5 255.1,402.3 257.5,399.1 260.0,398.7 262.4,399.3 264.9,400.6 267.3,401.8 269.8,403.7 272.2,404.4 274.7,405.8 277.1,409.9 279.6,414.6 282.0,415.7 284.5,418.0 286.9,418.5 289.4,421.1 291.8,422.3 294.2,420.4 296.7,419.1 299.1,421.6 301.6,424.5 304.0,425.1 306.5,428.7 308.9,428.4 311.4,429.7 313.8,428.0 316.3,427.2 318.7,430.9 321.2,433.1 323.6,436.0 326.1,436.8 328.5,439.1 330.9,436.9 333.4,438.4 335.8,442.5 338.3,442.7 340.7,447.7 343.2,448.0 345.6,446.0 348.1,445.5 350.5,443.7 353.0,442.9 355.4,450.2 357.9,457.9 360.3,460.6 362.8,434.2 365.2,460.2 367.6,463.7" stroke="#0072BD"/><polyline points="219.8,387.3 222.2,377.7 224.7,387.1 227.1,382.8 229.6,384.9 232.0,389.7 234.5,394.2 236.9,395.2 239.4,391.6 241.8,391.7 244.3,393.1 246.7,398.0 249.2,399.5 251.6,400.1 254.0,401.6 256.5,402.2 258.9,401.3 261.4,401.6 263.8,402.5 266.3,402.5 268.7,402.0 271.2,404.9 273.6,406.0 276.1,408.5 278.5,410.7 281.0,413.0 283.4,416.5 285.9,418.9 288.3,421.5 290.7,423.4 293.2,423.1 295.6,421.7 298.1,422.4 300.5,422.4 303.0,425.5 305.4,426.8 307.9,429.1 310.3,430.7 312.8,431.8 315.2,432.8 317.7,433.5 320.1,435.8 322.6,438.5 325.0,436.8 327.4,437.3 329.9,439.7 332.3,439.9 334.8,442.1 337.2,444.0 339.7,445.0 342.1,445.2 344.6,446.1 347.0,447.0 349.5,444.3 351.9,444.3 354.4,460.2 356.8,442.7 359.3,448.0 361.7,459.5 364.1,459.8 366.6,463.7" stroke="#A2142F"/><polyline points="218.7,380.1 221.2,372.8 223.6,378.7 226.1,376.2 228.5,380.6 231.0,386.1 233.4,389.2 235.9,390.7 238.3,390.0 240.8,390.9 243.2,390.8 245.7,393.6 248.1,396.8 250.5,398.7 253.0,400.5 255.4,401.5 257.9,400.7 260.3,397.9 262.8,399.2 265.2,399.9 267.7,400.2 270.1,402.0 272.6,405.2 275.0,407.2 277.5,408.2 279.9,410.7 282.4,411.8 284.8,414.5 287.2,415.6 289.7,418.6 292.1,418.1 294.6,418.7 297.0,418.8 299.5,419.1 301.9,423.4 304.4,424.2 306.8,428.3 309.3,427.9 311.7,430.1 314.2,430.3 316.6,430.8 319.1,432.6 321.5,433.1 323.9,433.1 326.4,433.2 328.8,433.8 331.3,434.5 333.7,436.7 336.2,439.8 338.6,443.1 341.1,444.8 343.5,443.5 346.0,443.5 348.4,440.3 350.9,441.3 353.3,452.6 355.8,461.9 358.2,454.8 360.6,458.5 363.1,439.3 365.5,439.9" stroke="#4DBEEE"/><polyline points="217.7,375.5 220.1,375.6 222.6,378.9 225.0,376.1 227.5,380.0 229.9,382.1 232.4,385.9 234.8,386.8 237.3,383.9 239.7,384.2 242.2,385.2 244.6,388.5 247.0,391.4 249.5,392.5 251.9,391.5 254.4,392.9 256.8,393.3 259.3,394.1 261.7,396.2 264.2,397.1 266.6,396.3 269.1,398.1 271.5,400.1 274.0,403.1 276.4,401.8 278.9,404.8 281.3,408.7 283.7,411.8 286.2,415.0 288.6,415.7 291.1,415.7 293.5,414.0 296.0,413.4 298.4,412.0 300.9,415.6 303.3,419.3 305.8,421.1 308.2,421.9 310.7,423.3 313.1,425.3 315.6,426.1 318.0,426.1 320.4,427.5 322.9,427.2 325.3,427.1 327.8,427.0 330.2,430.1 332.7,432.4 335.1,436.5 337.6,437.8 340.0,438.8 342.5,439.2 344.9,439.4 347.4,437.4 349.8,437.4 352.3,446.7 354.7,431.5 357.1,444.3 359.6,457.6 362.0,448.5 364.5,464.0" stroke="#77AC30"/><polyline points="216.6,380.6 219.1,374.4 221.5,367.3 224.0,375.1 226.4,380.1 228.9,382.5 231.3,385.9 233.8,383.2 236.2,386.5 238.7,388.7 241.1,393.3 243.5,396.3 246.0,397.6 248.4,400.2 250.9,398.1 253.3,398.8 255.8,398.4 258.2,396.5 260.7,398.8 263.1,398.5 265.6,398.9 268.0,401.1 270.5,403.6 272.9,406.5 275.4,409.9 277.8,408.8 280.2,410.1 282.7,412.6 285.1,416.6 287.6,419.4 290.0,419.8 292.5,419.0 294.9,420.3 297.4,419.6 299.8,422.1 302.3,423.0 304.7,424.4 307.2,427.0 309.6,425.0 312.1,425.2 314.5,425.9 316.9,429.1 319.4,432.2 321.8,432.6 324.3,432.1 326.7,432.6 329.2,433.5 331.6,435.3 334.1,439.0 336.5,443.5 339.0,442.7 341.4,442.8 343.9,441.0 346.3,440.2 348.8,440.4 351.2,454.9 353.6,454.9 356.1,453.5 358.5,461.5 361.0,460.0 363.4,465.3" stroke="#7E2F8E"/><polyline points="215.6,373.8 218.0,369.8 220.5,376.0 222.9,375.0 225.4,375.7 227.8,377.4 230.3,379.4 232.7,383.1 235.2,386.4 237.6,386.2 240.0,389.1 242.5,392.9 244.9,396.5 247.4,397.0 249.8,396.9 252.3,396.3 254.7,393.4 257.2,393.1 259.6,395.7 262.1,396.4 264.5,397.8 267.0,400.8 269.4,402.3 271.9,402.8 274.3,404.2 276.7,406.0 279.2,407.8 281.6,411.4 284.1,411.3 286.5,415.3 289.0,416.3 291.4,416.3 293.9,417.2 296.3,417.4 298.8,417.1 301.2,420.9 303.7,422.9 306.1,426.5 308.6,425.4 311.0,425.5 313.4,425.8 315.9,429.0 318.3,431.9 320.8,432.1 323.2,430.8 325.7,431.4 328.1,430.7 330.6,434.2 333.0,435.8 335.5,440.9 337.9,443.5 340.4,441.8 342.8,439.9 345.3,441.0 347.7,440.9 350.1,457.2 352.6,438.5 355.0,432.7 357.5,454.6 359.9,445.2 362.4,458.1" stroke="#EDB120"/><polyline points="214.5,383.2 217.0,375.2 219.4,373.2 221.9,375.0 224.3,380.2 226.8,385.7 229.2,385.6 231.7,383.8 234.1,384.1 236.5,387.5 239.0,391.5 241.4,395.0 243.9,395.4 246.3,396.0 248.8,397.5 251.2,397.7 253.7,396.0 256.1,394.5 258.6,396.5 261.0,397.6 263.5,399.9 265.9,403.6 268.4,406.7 270.8,407.9 273.2,407.3 275.7,408.5 278.1,409.7 280.6,413.3 283.0,415.3 285.5,417.0 287.9,418.7 290.4,418.7 292.8,417.8 295.3,419.2 297.7,422.2 300.2,425.6 302.6,428.4 305.1,429.6 307.5,427.1 309.9,428.4 312.4,429.1 314.8,432.2 317.3,434.8 319.7,434.2 322.2,433.3 324.6,431.7 327.1,432.1 329.5,434.4 332.0,439.3 334.4,440.6 336.9,442.6 339.3,442.7 341.8,440.8 344.2,439.0 346.6,439.6 349.1,437.9 351.5,452.9 354.0,447.7 356.4,461.0 358.9,440.6 361.3,445.2" stroke="#D95319"/><polyline points="213.5,386.9 215.9,373.6 218.4,376.7 220.8,373.4 223.3,373.2 225.7,374.9 228.2,379.8 230.6,380.2 233.0,382.6 235.5,388.1 237.9,391.2 240.4,394.0 242.8,397.2 245.3,398.7 247.7,397.0 250.2,395.0 252.6,391.8 255.1,395.6 257.5,398.8 260.0,400.9 262.4,399.1 264.9,401.1 267.3,402.3 269.7,403.2 272.2,403.8 274.6,407.2 277.1,409.2 279.5,412.9 282.0,415.6 284.4,416.4 286.9,420.0 289.3,420.7 291.8,419.3 294.2,419.9 296.7,420.5 299.1,425.0 301.6,426.2 304.0,428.0 306.4,427.9 308.9,429.6 311.3,433.2 313.8,436.5 316.2,436.2 318.7,433.7 321.1,432.0 323.6,431.4 326.0,433.6 328.5,435.2 330.9,438.3 333.4,441.4 335.8,442.8 338.3,441.1 340.7,440.0 343.1,440.5 345.6,440.4 348.0,453.1 350.5,440.2 352.9,435.0 355.4,458.0 357.8,450.1 360.3,456.9" stroke="#0072BD"/><polyline points="212.4,386.6 214.9,371.5 217.3,373.9 219.8,373.0 222.2,378.1 224.6,380.1 227.1,382.7 229.5,382.0 232.0,381.0 234.4,385.3 236.9,390.6 239.3,393.4 241.8,395.1 244.2,393.4 246.7,395.2 249.1,396.2 251.6,393.9 254.0,395.8 256.5,396.7 258.9,401.1 261.3,400.4 263.8,400.3 266.2,402.6 268.7,403.8 271.1,405.1 273.6,406.9 276.0,409.1 278.5,410.7 280.9,412.6 283.4,413.1 285.8,418.2 288.3,417.4 290.7,417.5 293.2,417.3 295.6,417.4 298.0,420.2 300.5,423.7 302.9,424.5 305.4,425.1 307.8,428.0 310.3,429.9 312.7,435.3 315.2,434.4 317.6,434.4 320.1,433.5 322.5,434.5 325.0,434.1 327.4,435.8 329.9,438.6 332.3,440.3 334.7,441.5 337.2,440.7 339.6,437.2 342.1,438.6 344.5,438.9 347.0,456.6 349.4,440.6 351.9,435.4 354.3,439.8 356.8,447.2 359.2,458.1" stroke="#A2142F"/><polyline points="211.4,389.5 213.8,378.0 216.3,373.2 218.7,369.8 221.1,374.0 223.6,379.0 226.0,377.9 228.5,378.1 230.9,381.6 233.4,387.2 235.8,390.6 238.3,393.3 240.7,395.4 243.2,396.3 245.6,395.3 248.1,396.5 250.5,395.5 253.0,396.8 255.4,400.6 257.8,403.5 260.3,406.3 262.7,409.6 265.2,408.9 267.6,409.0 270.1,410.1 272.5,410.9 275.0,412.3 277.4,415.4 279.9,418.9 282.3,419.8 284.8,419.1 287.2,420.0 289.7,418.7 292.1,420.1 294.5,421.0 297.0,422.7 299.4,427.7 301.9,430.2 304.3,431.7 306.8,435.6 309.2,436.0 311.7,437.0 314.1,440.5 316.6,439.2 319.0,438.8 321.5,439.8 323.9,440.6 326.4,444.0 328.8,446.5 331.2,447.1 333.7,447.8 336.1,446.9 338.6,444.4 341.0,443.1 343.5,443.8 345.9,453.5 348.4,463.2 350.8,461.3 353.3,460.2 355.7,462.5 358.2,450.6" stroke="#4DBEEE"/><polyline points="210.3,375.4 212.8,370.5 215.2,371.5 217.6,367.6 220.1,376.1 222.5,378.7 225.0,378.6 227.4,378.9 229.9,380.2 232.3,383.0 234.8,385.2 237.2,390.2 239.7,391.3 242.1,392.3 244.6,393.7 247.0,393.4 249.5,396.3 251.9,399.0 254.3,400.4 256.8,402.5 259.2,404.1 261.7,403.3 264.1,403.7 266.6,405.2 269.0,404.3 271.5,403.8 273.9,404.8 276.4,405.2 278.8,410.8 281.3,414.3 283.7,415.9 286.2,417.7 288.6,416.1 291.0,415.9 293.5,416.5 295.9,419.0 298.4,422.7 300.8,427.6 303.3,428.5 305.7,430.4 308.2,432.1 310.6,433.5 313.1,436.5 315.5,437.6 318.0,438.4 320.4,437.9 322.9,436.8 325.3,439.4 327.7,440.1 330.2,440.6 332.6,440.2 335.1,441.6 337.5,440.4 340.0,440.3 342.4,442.3 344.9,442.7 347.3,462.1 349.8,443.0 352.2,448.5 354.7,456.4 357.1,445.3" stroke="#77AC30"/><polyline points="209.3,369.8 211.7,365.7 214.1,370.3 216.6,363.6 219.0,367.2 221.5,371.4 223.9,373.7 226.4,377.1 228.8,375.2 231.3,376.0 233.7,380.5 236.2,384.4 238.6,388.6 241.1,390.0 243.5,391.2 246.0,389.4 248.4,391.1 250.8,395.8 253.3,398.9 255.7,400.8 258.2,402.6 260.6,402.0 263.1,403.7 265.5,404.6 268.0,403.4 270.4,403.0 272.9,404.3 275.3,406.6 277.8,408.1 280.2,410.3 282.7,412.5 285.1,412.7 287.5,413.9 290.0,414.1 292.4,416.8 294.9,419.7 297.3,422.6 299.8,424.5 302.2,427.4 304.7,428.7 307.1,428.0 309.6,430.1 312.0,432.4 314.5,433.9 316.9,436.2 319.4,437.3 321.8,438.7 324.2,438.0 326.7,439.7 329.1,440.7 331.6,440.1 334.0,439.5 336.5,439.7 338.9,440.4 341.4,442.5 343.8,435.4 346.3,459.4 348.7,464.5 351.2,458.0 353.6,458.2 356.1,446.9" stroke="#7E2F8E"/><polyline points="208.2,374.4 210.6,377.7 213.1,373.0 215.5,369.5 218.0,374.6 220.4,379.3 222.9,383.2 225.3,381.1 227.8,381.8 230.2,384.7 232.7,388.2 235.1,390.2 237.6,392.2 240.0,394.3 242.5,392.2 244.9,393.7 247.3,395.1 249.8,397.1 252.2,400.9 254.7,403.7 257.1,404.3 259.6,404.2 262.0,405.4 264.5,407.7 266.9,408.1 269.4,406.7 271.8,407.7 274.3,409.5 276.7,410.9 279.2,413.5 281.6,415.7 284.0,416.6 286.5,415.9 288.9,414.8 291.4,417.1 293.8,422.9 296.3,425.5 298.7,428.2 301.2,428.2 303.6,429.6 306.1,430.2 308.5,434.4 311.0,437.2 313.4,439.1 315.9,437.4 318.3,440.4 320.7,441.5 323.2,442.0 325.6,440.8 328.1,442.9 330.5,444.4 333.0,445.1 335.4,444.5 337.9,443.5 340.3,442.4 342.8,446.1 345.2,456.6 347.7,463.7 350.1,465.0 352.6,457.5 355.0,458.7" stroke="#EDB120"/><polyline points="207.1,374.4 209.6,379.3 212.0,374.3 214.5,368.5 216.9,366.5 219.4,373.5 221.8,374.9 224.3,377.1 226.7,380.2 229.2,382.6 231.6,382.1 234.1,386.1 236.5,386.7 239.0,389.8 241.4,391.0 243.8,391.6 246.3,393.6 248.7,398.0 251.2,401.3 253.6,404.4 256.1,407.0 258.5,405.6 261.0,404.6 263.4,408.2 265.9,407.0 268.3,408.5 270.8,408.2 273.2,409.1 275.7,409.8 278.1,411.4 280.5,413.3 283.0,414.1 285.4,413.8 287.9,411.6 290.3,414.8 292.8,418.5 295.2,422.3 297.7,425.0 300.1,428.3 302.6,428.2 305.0,429.7 307.5,434.0 309.9,435.3 312.4,438.3 314.8,438.5 317.2,438.4 319.7,439.1 322.1,440.1 324.6,442.1 327.0,441.6 329.5,443.5 331.9,443.1 334.4,441.9 336.8,441.3 339.3,443.1 341.7,462.4 344.2,457.0 346.6,455.8 349.1,460.3 351.5,437.6 353.9,445.8" stroke="#D95319"/><polyline points="206.1,374.3 208.5,375.8 211.0,369.3 213.4,371.9 215.9,372.6 218.3,374.4 220.8,376.2 223.2,379.6 225.7,380.5 228.1,385.4 230.6,386.8 233.0,389.7 235.5,388.7 237.9,392.1 240.3,393.1 242.8,393.4 245.2,394.8 247.7,398.0 250.1,402.7 252.6,405.6 255.0,405.7 257.5,406.7 259.9,408.2 262.4,408.8 264.8,412.4 267.3,412.8 269.7,412.4 272.2,410.7 274.6,411.8 277.0,413.5 279.5,413.4 281.9,414.2 284.4,411.7 286.8,413.9 289.3,415.2 291.7,416.8 294.2,421.3 296.6,423.3 299.1,425.6 301.5,426.8 304.0,428.0 306.4,431.6 308.9,435.9 311.3,439.6 313.7,440.7 316.2,443.1 318.6,442.2 321.1,442.1 323.5,440.5 326.0,441.7 328.4,441.4 330.9,443.4 333.3,443.1 335.8,444.2 338.2,443.6 340.7,458.7 343.1,436.7 345.6,463.2 348.0,459.4 350.4,444.4 352.9,451.9" stroke="#0072BD"/><polyline points="205.0,377.3 207.5,374.5 209.9,383.5 212.4,379.3 214.8,372.4 217.3,374.5 219.7,376.3 222.2,379.7 224.6,380.5 227.1,381.8 229.5,383.2 232.0,384.1 234.4,387.6 236.8,389.2 239.3,393.1 241.7,394.3 244.2,394.0 246.6,397.6 249.1,401.3 251.5,403.9 254.0,405.5 256.4,405.5 258.9,407.5 261.3,408.4 263.8,411.2 266.2,412.5 268.7,412.0 271.1,410.6 273.5,410.8 276.0,410.5 278.4,410.0 280.9,412.2 283.3,412.4 285.8,415.4 288.2,417.0 290.7,421.9 293.1,422.7 295.6,425.9 298.0,427.5 300.5,430.3 302.9,431.3 305.4,433.6 307.8,434.3 310.2,436.2 312.7,438.6 315.1,441.6 317.6,444.6 320.0,443.7 322.5,442.2 324.9,442.2 327.4,441.4 329.8,440.5 332.3,441.6 334.7,442.6 337.2,444.7 339.6,460.0 342.1,456.4 344.5,465.3 346.9,466.3 349.4,441.8 351.8,452.6" stroke="#A2142F"/><polyline points="204.0,383.1 206.4,384.1 208.9,379.6 211.3,378.7 213.8,375.0 216.2,378.7 218.7,382.9 221.1,385.9 223.6,388.3 226.0,389.4 228.5,391.4 230.9,391.6 233.3,391.3 235.8,390.5 238.2,391.1 240.7,392.5 243.1,396.5 245.6,399.2 248.0,404.7 250.5,407.4 252.9,409.7 255.4,411.2 257.8,411.8 260.3,412.1 262.7,413.3 265.2,414.1 267.6,415.6 270.0,415.6 272.5,414.7 274.9,415.3 277.4,413.4 279.8,413.7 282.3,411.7 284.7,411.9 287.2,413.7 289.6,418.8 292.1,422.1 294.5,425.7 297.0,427.7 299.4,430.6 301.9,431.2 304.3,432.7 306.7,433.6 309.2,437.0 311.6,439.5 314.1,441.6 316.5,442.9 319.0,443.7 321.4,446.1 323.9,446.6 326.3,445.9 328.8,445.8 331.2,442.6 333.7,444.9 336.1,444.2 338.6,455.1 341.0,436.4 343.4,458.3 345.9,465.7 348.3,436.0 350.8,458.2" stroke="#4DBEEE"/><polyline points="202.9,376.5 205.4,378.1 207.8,382.1 210.3,381.8 212.7,380.7 215.2,380.8 217.6,385.2 220.1,389.3 222.5,394.3 225.0,397.3 227.4,397.1 229.8,397.0 232.3,395.9 234.7,394.1 237.2,394.6 239.6,395.7 242.1,398.2 244.5,399.9 247.0,405.1 249.4,408.7 251.9,412.0 254.3,413.7 256.8,415.4 259.2,416.0 261.7,417.1 264.1,416.5 266.5,417.1 269.0,416.8 271.4,418.4 273.9,419.9 276.3,419.9 278.8,418.4 281.2,419.0 283.7,419.5 286.1,420.2 288.6,424.8 291.0,428.5 293.5,431.6 295.9,433.1 298.4,435.4 300.8,435.4 303.2,436.5 305.7,439.6 308.1,443.7 310.6,445.8 313.0,445.9 315.5,445.8 317.9,444.3 320.4,443.8 322.8,444.3 325.3,447.2 327.7,445.4 330.2,445.7 332.6,444.7 335.1,447.2 337.5,458.7 339.9,443.6 342.4,455.9 344.8,466.7 347.3,466.4 349.7,439.9" stroke="#77AC30"/><polyline points="201.9,372.4 204.3,375.9 206.8,379.8 209.2,380.7 211.7,379.4 214.1,380.9 216.6,385.1 219.0,388.1 221.4,391.2 223.9,391.5 226.3,391.6 228.8,391.5 231.2,392.0 233.7,392.5 236.1,393.9 238.6,394.3 241.0,394.2 243.5,397.9 245.9,401.3 248.4,406.4 250.8,406.1 253.3,409.4 255.7,411.1 258.1,410.1 260.6,410.5 263.0,410.2 265.5,412.6 267.9,415.4 270.4,416.0 272.8,416.9 275.3,415.1 277.7,415.1 280.2,412.1 282.6,411.6 285.1,417.0 287.5,422.5 290.0,426.5 292.4,428.3 294.8,428.1 297.3,428.8 299.7,428.5 302.2,428.7 304.6,431.0 307.1,433.3 309.5,434.9 312.0,435.1 314.4,437.4 316.9,437.1 319.3,438.9 321.8,440.9 324.2,441.7 326.7,442.4 329.1,441.3 331.5,440.6 334.0,443.0 336.4,462.1 338.9,457.5 341.3,464.4 343.8,467.5 346.2,459.1 348.7,462.5" stroke="#7E2F8E"/><polyline points="200.8,380.3 203.3,364.6 205.7,375.0 208.2,371.4 210.6,377.0 213.1,382.6 215.5,388.5 217.9,391.4 220.4,393.1 222.8,394.2 225.3,394.7 227.7,394.2 230.2,394.9 232.6,395.7 235.1,396.7 237.5,397.9 240.0,397.0 242.4,398.6 244.9,400.2 247.3,403.7 249.8,404.9 252.2,406.2 254.6,408.1 257.1,412.1 259.5,413.5 262.0,414.5 264.4,416.1 266.9,417.6 269.3,418.9 271.8,419.0 274.2,416.0 276.7,416.2 279.1,414.8 281.6,415.1 284.0,418.0 286.5,421.1 288.9,424.9 291.3,427.7 293.8,431.2 296.2,431.8 298.7,433.8 301.1,432.4 303.6,436.7 306.0,437.1 308.5,440.7 310.9,442.1 313.4,442.4 315.8,442.3 318.3,442.6 320.7,442.9 323.2,442.6 325.6,441.5 328.0,441.3 330.5,444.1 332.9,446.1 335.4,457.9 337.8,458.0 340.3,466.2 342.7,461.8 345.2,464.2 347.6,468.7" stroke="#EDB120"/><polyline points="199.8,374.7 202.2,382.4 204.7,381.1 207.1,380.8 209.6,381.7 212.0,383.9 214.4,385.9 216.9,389.5 219.3,393.2 221.8,392.6 224.2,393.1 226.7,394.5 229.1,394.8 231.6,393.8 234.0,391.5 236.5,392.1 238.9,395.2 241.4,396.9 243.8,400.3 246.3,403.6 248.7,403.2 251.1,404.7 253.6,408.0 256.0,407.8 258.5,411.0 260.9,411.7 263.4,413.4 265.8,414.5 268.3,414.3 270.7,414.8 273.2,415.0 275.6,413.0 278.1,412.0 280.5,413.4 283.0,415.0 285.4,419.3 287.8,422.5 290.3,425.3 292.7,428.2 295.2,429.3 297.6,428.2 300.1,430.4 302.5,435.1 305.0,437.9 307.4,439.3 309.9,439.6 312.3,438.4 314.8,438.8 317.2,440.0 319.7,441.6 322.1,441.5 324.5,441.5 327.0,440.7 329.4,443.1 331.9,445.0 334.3,443.4 336.8,445.4 339.2,460.9 341.7,466.6 344.1,466.4 346.6,448.5" stroke="#D95319"/><polyline points="198.7,366.2 201.2,370.0 203.6,375.1 206.1,375.0 208.5,377.7 210.9,382.8 213.4,385.2 215.8,389.9 218.3,392.6 220.7,395.2 223.2,395.3 225.6,393.9 228.1,392.9 230.5,390.5 233.0,393.3 235.4,395.7 237.9,395.1 240.3,395.7 242.8,398.6 245.2,401.6 247.6,403.3 250.1,406.8 252.5,407.9 255.0,409.9 257.4,410.8 259.9,411.2 262.3,414.3 264.8,413.6 267.2,415.8 269.7,417.6 272.1,417.5 274.6,416.8 277.0,413.1 279.5,411.9 281.9,412.0 284.3,416.1 286.8,421.6 289.2,425.3 291.7,427.4 294.1,427.9 296.6,429.5 299.0,428.8 301.5,432.5 303.9,434.7 306.4,436.5 308.8,436.9 311.3,437.8 313.7,438.0 316.2,440.0 318.6,440.0 321.0,442.5 323.5,442.2 325.9,441.9 328.4,442.9 330.8,443.9 333.3,463.7 335.7,449.7 338.2,465.2 340.6,463.8 343.1,451.0 345.5,469.2" stroke="#0072BD"/><polyline points="197.7,379.7 200.1,369.9 202.6,373.4 205.0,372.5 207.4,378.2 209.9,384.2 212.3,388.7 214.8,394.0 217.2,396.6 219.7,397.8 222.1,400.0 224.6,401.1 227.0,399.8 229.5,396.1 231.9,394.2 234.4,391.1 236.8,392.6 239.3,395.8 241.7,399.1 244.1,404.4 246.6,404.1 249.0,406.5 251.5,409.6 253.9,411.9 256.4,414.7 258.8,415.9 261.3,416.6 263.7,417.4 266.2,418.9 268.6,420.9 271.1,421.9 273.5,420.1 276.0,419.3 278.4,415.7 280.8,419.1 283.3,421.5 285.7,426.6 288.2,430.1 290.6,431.3 293.1,432.3 295.5,431.9 298.0,433.1 300.4,437.5 302.9,440.5 305.3,441.2 307.8,442.6 310.2,441.4 312.7,439.8 315.1,441.1 317.5,442.3 320.0,444.2 322.4,444.6 324.9,445.5 327.3,450.5 329.8,450.9 332.2,463.9 334.7,462.3 337.1,467.5 339.6,464.8 342.0,442.6 344.5,461.8" stroke="#A2142F"/><polyline points="196.6,375.9 199.1,366.9 201.5,372.5 203.9,375.0 206.4,376.4 208.8,384.3 211.3,388.2 213.7,393.6 216.2,395.3 218.6,397.2 221.1,397.4 223.5,396.4 226.0,394.6 228.4,394.5 230.9,394.5 233.3,395.9 235.8,396.6 238.2,397.1 240.6,399.7 243.1,402.3 245.5,403.7 248.0,406.0 250.4,409.9 252.9,410.1 255.3,412.6 257.8,411.5 260.2,412.6 262.7,413.8 265.1,417.6 267.6,421.4 270.0,419.0 272.5,418.8 274.9,416.4 277.3,415.6 279.8,417.5 282.2,418.5 284.7,424.4 287.1,429.8 289.6,432.0 292.0,432.6 294.5,431.0 296.9,433.0 299.4,435.2 301.8,437.3 304.3,438.2 306.7,438.0 309.2,439.9 311.6,441.4 314.0,442.8 316.5,443.4 318.9,443.3 321.4,444.2 323.8,446.1 326.3,448.2 328.7,450.1 331.2,436.0 333.6,452.0 336.1,459.9 338.5,467.6 341.0,459.0 343.4,447.7" stroke="#4DBEEE"/><polyline points="195.6,368.5 198.0,370.8 200.4,372.9 202.9,381.9 205.3,384.9 207.8,389.3 210.2,394.4 212.7,399.6 215.1,402.5 217.6,406.3 220.0,404.6 222.5,403.4 224.9,402.5 227.4,400.8 229.8,400.6 232.3,398.8 234.7,397.5 237.1,398.3 239.6,400.6 242.0,403.7 244.5,406.0 246.9,409.5 249.4,412.8 251.8,414.8 254.3,416.6 256.7,416.3 259.2,415.7 261.6,418.2 264.1,420.3 266.5,421.8 269.0,424.0 271.4,420.6 273.8,421.9 276.3,419.5 278.7,420.9 281.2,424.7 283.6,427.9 286.1,431.2 288.5,435.3 291.0,435.4 293.4,435.8 295.9,435.7 298.3,436.0 300.8,438.6 303.2,440.2 305.7,442.0 308.1,442.6 310.5,445.8 313.0,447.4 315.4,446.3 317.9,446.9 320.3,446.6 322.8,448.5 325.2,450.8 327.7,453.2 330.1,463.5 332.6,457.0 335.0,451.0 337.5,467.4 339.9,454.0 342.4,467.1" stroke="#77AC30"/><polyline points="194.5,370.7 196.9,363.2 199.4,366.4 201.8,366.1 204.3,376.0 206.7,384.2 209.2,392.1 211.6,398.4 214.1,402.1 216.5,403.6 219.0,402.6 221.4,400.5 223.9,398.0 226.3,397.3 228.8,396.8 231.2,396.6 233.6,398.6 236.1,400.2 238.5,400.5 241.0,401.5 243.4,402.8 245.9,404.9 248.3,408.3 250.8,411.1 253.2,411.4 255.7,412.2 258.1,411.6 260.6,413.4 263.0,417.2 265.5,422.1 267.9,423.2 270.3,421.2 272.8,420.9 275.2,421.0 277.7,419.7 280.1,423.3 282.6,426.6 285.0,429.4 287.5,432.7 289.9,433.9 292.4,434.3 294.8,434.8 297.3,435.1 299.7,435.4 302.2,438.2 304.6,439.1 307.0,440.5 309.5,441.7 311.9,441.6 314.4,442.0 316.8,443.8 319.3,446.6 321.7,448.6 324.2,451.5 326.6,453.0 329.1,459.5 331.5,437.8 334.0,465.5 336.4,459.9 338.9,438.3 341.3,439.1" stroke="#7E2F8E"/><polyline points="193.4,374.9 195.9,374.0 198.3,369.2 200.8,378.5 203.2,379.2 205.7,386.5 208.1,393.2 210.6,397.5 213.0,402.5 215.5,403.1 217.9,401.9 220.4,399.8 222.8,397.9 225.3,396.9 227.7,397.0 230.1,397.6 232.6,396.7 235.0,399.3 237.5,401.5 239.9,400.2 242.4,404.4 244.8,407.3 247.3,411.3 249.7,412.3 252.2,412.8 254.6,412.4 257.1,411.4 259.5,414.2 262.0,418.1 264.4,419.9 266.8,421.2 269.3,421.8 271.7,421.6 274.2,421.2 276.6,421.5 279.1,423.1 281.5,425.3 284.0,428.7 286.4,430.3 288.9,432.3 291.3,431.4 293.8,431.6 296.2,434.3 298.7,436.6 301.1,438.0 303.5,440.2 306.0,441.6 308.4,442.1 310.9,442.6 313.3,443.8 315.8,445.2 318.2,447.0 320.7,449.5 323.1,451.0 325.6,451.8 328.0,452.2 330.5,436.2 332.9,463.7 335.4,463.6 337.8,464.7 340.2,470.3" stroke="#EDB120"/><polyline points="192.4,364.0 194.8,365.0 197.3,371.8 199.7,377.6 202.2,377.2 204.6,382.5 207.1,387.7 209.5,397.3 212.0,405.3 214.4,406.6 216.9,403.7 219.3,402.6 221.8,399.4 224.2,399.2 226.6,401.9 229.1,401.6 231.5,402.0 234.0,402.1 236.4,403.7 238.9,404.7 241.3,406.1 243.8,408.5 246.2,410.5 248.7,415.2 251.1,416.5 253.6,414.7 256.0,417.5 258.5,417.9 260.9,422.3 263.3,425.7 265.8,425.8 268.2,422.9 270.7,422.8 273.1,421.0 275.6,423.3 278.0,424.7 280.5,427.2 282.9,431.0 285.4,431.7 287.8,433.6 290.3,434.2 292.7,433.5 295.2,438.7 297.6,438.5 300.0,440.2 302.5,441.3 304.9,444.6 307.4,444.4 309.8,445.2 312.3,445.9 314.7,447.9 317.2,450.6 319.6,452.1 322.1,451.9 324.5,452.9 327.0,450.2 329.4,458.5 331.9,439.7 334.3,469.0 336.7,468.3 339.2,462.5" stroke="#D95319"/><polyline points="191.3,370.1 193.8,368.3 196.2,370.2 198.7,379.7 201.1,382.2 203.6,386.6 206.0,392.1 208.5,396.8 210.9,401.5 213.4,400.3 215.8,397.1 218.2,396.1 220.7,397.9 223.1,399.1 225.6,400.7 228.0,400.6 230.5,401.6 232.9,403.2 235.4,405.2 237.8,406.1 240.3,406.9 242.7,408.4 245.2,412.4 247.6,412.4 250.1,416.4 252.5,418.0 254.9,420.8 257.4,423.6 259.8,426.6 262.3,429.1 264.7,428.0 267.2,427.8 269.6,426.1 272.1,427.3 274.5,428.2 277.0,427.4 279.4,426.4 281.9,392.1 284.3,430.1 286.8,432.0 289.2,433.0 291.6,434.6 294.1,436.1 296.5,436.3 299.0,440.1 301.4,442.7 303.9,446.3 306.3,447.2 308.8,448.0 311.2,447.8 313.7,451.4 316.1,451.5 318.6,454.5 321.0,453.0 323.5,453.7 325.9,457.5 328.3,463.2 330.8,449.7 333.2,462.7 335.7,440.3 338.1,450.3" stroke="#0072BD"/><polyline points="190.3,360.4 192.7,363.7 195.2,366.1 197.6,374.1 200.1,375.5 202.5,384.0 205.0,392.1 207.4,402.4 209.9,405.4 212.3,406.2 214.7,404.4 217.2,403.0 219.6,400.3 222.1,398.7 224.5,401.5 227.0,403.4 229.4,404.4 231.9,401.9 234.3,403.2 236.8,405.3 239.2,406.6 241.7,410.2 244.1,413.7 246.6,413.8 249.0,417.5 251.4,418.2 253.9,418.1 256.3,422.6 258.8,424.8 261.2,426.1 263.7,426.3 266.1,426.6 268.6,428.2 271.0,428.1 273.5,428.1 275.9,426.4 278.4,428.3 280.8,428.4 283.3,429.4 285.7,430.1 288.1,433.1 290.6,432.7 293.0,435.5 295.5,439.2 297.9,442.5 300.4,444.2 302.8,445.8 305.3,446.4 307.7,446.3 310.2,446.4 312.6,447.9 315.1,451.6 317.5,451.3 320.0,454.0 322.4,451.9 324.8,461.3 327.3,462.8 329.7,444.2 332.2,468.4 334.6,462.9 337.1,461.8" stroke="#A2142F"/><polyline points="189.2,374.8 191.7,375.7 194.1,372.2 196.6,375.6 199.0,381.8 201.5,387.2 203.9,395.9 206.4,403.6 208.8,403.4 211.2,405.0 213.7,399.5 216.1,396.2 218.6,394.2 221.0,396.3 223.5,398.1 225.9,399.7 228.4,402.3 230.8,404.4 233.3,406.3 235.7,407.7 238.2,407.1 240.6,410.5 243.1,414.9 245.5,415.1 247.9,415.4 250.4,415.9 252.8,415.2 255.3,417.1 257.7,421.0 260.2,422.8 262.6,424.7 265.1,424.1 267.5,427.2 270.0,428.2 272.4,428.1 274.9,429.3 277.3,431.3 279.8,431.9 282.2,432.0 284.6,432.0 287.1,434.5 289.5,432.4 292.0,435.4 294.4,436.4 296.9,441.0 299.3,445.5 301.8,447.5 304.2,448.7 306.7,448.8 309.1,446.9 311.6,448.9 314.0,451.2 316.5,455.2 318.9,456.9 321.3,456.3 323.8,437.7 326.2,467.1 328.7,460.4 331.1,459.7 333.6,445.6 336.0,472.1" stroke="#4DBEEE"/><polyline points="188.2,346.0 190.6,387.0 193.1,383.5 195.5,383.5 198.0,385.9 200.4,395.9 202.9,403.5 205.3,410.8 207.7,414.4 210.2,414.8 212.6,413.0 215.1,412.0 217.5,409.9 220.0,410.1 222.4,412.3 224.9,410.3 227.3,410.2 229.8,410.0 232.2,409.9 234.7,412.6 237.1,416.2 239.6,420.5 242.0,423.2 244.4,425.2 246.9,427.5 249.3,426.8 251.8,428.7 254.2,427.5 256.7,430.5 259.1,430.6 261.6,432.2 264.0,430.5 266.5,431.0 268.9,433.6 271.4,435.3 273.8,434.4 276.3,436.0 278.7,436.7 281.1,437.5 283.6,438.6 286.0,438.9 288.5,441.8 290.9,442.0 293.4,446.1 295.8,449.6 298.3,451.1 300.7,453.5 303.2,453.2 305.6,454.8 308.1,455.2 310.5,457.9 313.0,459.0 315.4,462.2 317.8,461.5 320.3,462.3 322.7,464.1 325.2,460.0 327.6,459.3 330.1,446.2 332.5,461.3 335.0,470.8" stroke="#77AC30"/><polyline points="187.1,382.2 189.6,380.2 192.0,385.6 194.5,389.0 196.9,390.5 199.4,394.0 201.8,397.8 204.2,403.4 206.7,409.0 209.1,409.7 211.6,405.7 214.0,404.3 216.5,405.5 218.9,404.7 221.4,404.3 223.8,406.7 226.3,406.2 228.7,407.6 231.2,409.3 233.6,411.0 236.1,410.5 238.5,414.2 240.9,414.7 243.4,416.6 245.8,419.6 248.3,419.9 250.7,424.0 253.2,424.6 255.6,426.9 258.1,428.2 260.5,429.6 263.0,429.5 265.4,430.1 267.9,430.9 270.3,431.2 272.8,431.3 275.2,431.4 277.6,431.2 280.1,431.3 282.5,431.9 285.0,433.8 287.4,435.3 289.9,438.1 292.3,440.4 294.8,442.6 297.2,446.5 299.7,448.5 302.1,450.0 304.6,450.4 307.0,449.4 309.5,451.1 311.9,453.5 314.3,454.6 316.8,458.3 319.2,457.7 321.7,453.0 324.1,451.4 326.6,437.9 329.0,466.9 331.5,468.9 333.9,441.1" stroke="#7E2F8E"/><polyline points="186.1,390.8 188.5,389.7 191.0,391.0 193.4,390.9 195.9,398.2 198.3,403.4 200.7,409.9 203.2,410.4 205.6,412.2 208.1,410.9 210.5,412.7 213.0,412.4 215.4,411.9 217.9,413.5 220.3,415.5 222.8,418.0 225.2,418.6 227.7,417.4 230.1,417.3 232.6,417.5 235.0,419.5 237.4,419.6 239.9,421.6 242.3,422.6 244.8,424.3 247.2,425.2 249.7,426.5 252.1,427.5 254.6,429.4 257.0,432.6 259.5,432.8 261.9,433.6 264.4,435.1 266.8,437.8 269.3,437.9 271.7,438.6 274.1,438.7 276.6,437.9 279.0,438.2 281.5,439.4 283.9,440.3 286.4,441.0 288.8,442.1 291.3,443.9 293.7,448.3 296.2,451.2 298.6,453.4 301.1,456.3 303.5,458.4 306.0,456.8 308.4,457.1 310.8,458.0 313.3,462.1 315.7,462.9 318.2,463.0 320.6,437.5 323.1,466.8 325.5,469.0 328.0,467.0 330.4,458.1 332.9,463.9" stroke="#EDB120"/><polyline points="185.0,391.9 187.5,387.2 189.9,385.7 192.4,388.7 194.8,391.4 197.2,395.4 199.7,400.7 202.1,407.5 204.6,409.8 207.0,409.1 209.5,407.9 211.9,406.4 214.4,404.4 216.8,405.6 219.3,406.1 221.7,410.6 224.2,412.8 226.6,413.1 229.1,411.9 231.5,412.6 233.9,413.1 236.4,414.6 238.8,415.9 241.3,417.2 243.7,418.9 246.2,420.1 248.6,423.9 251.1,424.9 253.5,427.2 256.0,428.1 258.4,428.9 260.9,428.6 263.3,430.9 265.8,434.2 268.2,436.0 270.6,439.5 273.1,439.2 275.5,437.5 278.0,439.1 280.4,437.9 282.9,436.8 285.3,436.8 287.8,439.3 290.2,445.2 292.7,448.9 295.1,450.9 297.6,450.1 300.0,451.0 302.5,451.0 304.9,451.2 307.3,452.1 309.8,455.7 312.2,458.2 314.7,459.7 317.1,458.1 319.6,461.2 322.0,445.6 324.5,461.9 326.9,465.3 329.4,466.8 331.8,467.1" stroke="#D95319"/><polyline points="184.0,384.8 186.4,384.8 188.9,384.6 191.3,386.3 193.7,391.4 196.2,396.4 198.6,402.3 201.1,408.1 203.5,408.9 206.0,410.6 208.4,410.1 210.9,408.7 213.3,407.2 215.8,406.1 218.2,405.5 220.7,407.2 223.1,409.6 225.6,412.4 228.0,411.4 230.4,413.8 232.9,413.6 235.3,415.5 237.8,418.8 240.2,419.6 242.7,419.9 245.1,422.2 247.6,424.0 250.0,425.9 252.5,426.0 254.9,429.4 257.4,428.6 259.8,429.5 262.3,430.8 264.7,432.7 267.1,434.6 269.6,435.2 272.0,436.1 274.5,433.3 276.9,434.9 279.4,433.7 281.8,433.6 284.3,437.2 286.7,441.3 289.2,443.3 291.6,447.3 294.1,447.8 296.5,449.1 299.0,450.1 301.4,451.1 303.8,452.3 306.3,451.7 308.7,454.7 311.2,456.9 313.6,457.6 316.1,457.9 318.5,438.7 321.0,466.3 323.4,467.7 325.9,468.5 328.3,453.2 330.8,471.0" stroke="#0072BD"/><polyline points="182.9,388.8 185.4,391.5 187.8,398.0 190.2,395.9 192.7,400.8 195.1,402.7 197.6,406.4 200.0,408.5 202.5,409.5 204.9,409.1 207.4,408.8 209.8,409.3 212.3,409.0 214.7,409.7 217.2,410.2 219.6,413.0 222.1,412.6 224.5,413.9 226.9,414.1 229.4,415.8 231.8,416.4 234.3,419.8 236.7,420.4 239.2,420.6 241.6,421.5 244.1,421.5 246.5,424.7 249.0,426.7 251.4,428.1 253.9,429.7 256.3,431.7 258.8,433.7 261.2,434.6 263.6,436.3 266.1,437.1 268.5,439.8 271.0,437.0 273.4,436.5 275.9,436.9 278.3,437.8 280.8,439.2 283.2,439.7 285.7,440.9 288.1,444.4 290.6,446.7 293.0,449.5 295.5,449.8 297.9,452.7 300.3,454.9 302.8,455.3 305.2,456.0 307.7,456.5 310.1,458.7 312.6,459.9 315.0,459.6 317.5,460.2 319.9,455.1 322.4,465.9 324.8,449.0 327.3,466.0 329.7,452.2" stroke="#A2142F"/><polyline points="181.8,399.2 184.3,395.4 186.7,392.5 189.2,397.1 191.6,400.3 194.1,404.2 196.5,404.6 199.0,407.9 201.4,407.7 203.9,409.4 206.3,410.3 208.8,409.1 211.2,410.3 213.7,411.2 216.1,412.9 218.6,416.0 221.0,417.7 223.4,419.2 225.9,420.5 228.3,419.2 230.8,419.6 233.2,420.9 235.7,423.1 238.1,424.8 240.6,423.7 243.0,425.1 245.5,427.1 247.9,430.4 250.4,432.9 252.8,436.4 255.3,435.7 257.7,435.7 260.1,437.2 262.6,436.8 265.0,439.0 267.5,438.2 269.9,436.9 272.4,438.2 274.8,440.4 277.3,441.1 279.7,443.0 282.2,443.8 284.6,446.7 287.1,450.1 289.5,451.9 292.0,451.4 294.4,453.1 296.8,457.2 299.3,456.7 301.7,458.9 304.2,458.1 306.6,460.6 309.1,463.5 311.5,465.8 314.0,464.7 316.4,453.5 318.9,463.7 321.3,444.1 323.8,457.2 326.2,463.2 328.7,470.7" stroke="#4DBEEE"/><polyline points="180.8,382.6 183.2,391.4 185.7,401.0 188.1,395.4 190.6,397.7 193.0,400.4 195.5,403.7 197.9,406.6 200.4,409.4 202.8,410.8 205.3,412.9 207.7,417.5 210.2,416.2 212.6,415.6 215.0,414.3 217.5,414.7 219.9,415.2 222.4,416.8 224.8,417.4 227.3,420.0 229.7,421.8 232.2,421.8 234.6,422.8 237.1,423.2 239.5,425.2 242.0,424.8 244.4,424.4 246.9,427.3 249.3,428.7 251.7,432.0 254.2,434.8 256.6,434.8 259.1,436.4 261.5,437.9 264.0,437.3 266.4,438.5 268.9,437.4 271.3,439.3 273.8,440.6 276.2,441.7 278.7,443.6 281.1,444.1 283.6,445.7 286.0,446.5 288.4,450.3 290.9,451.2 293.3,453.5 295.8,452.6 298.2,455.3 300.7,457.8 303.1,460.1 305.6,460.7 308.0,459.6 310.5,461.4 312.9,461.9 315.4,465.2 317.8,464.9 320.3,466.0 322.7,466.2 325.1,469.8 327.6,469.7" stroke="#77AC30"/><polyline points="179.7,390.7 182.2,394.0 184.6,394.7 187.1,397.5 189.5,398.0 192.0,400.2 194.4,401.9 196.9,403.5 199.3,408.0 201.8,410.4 204.2,413.3 206.7,414.2 209.1,412.5 211.5,412.1 214.0,412.0 216.4,411.6 218.9,413.7 221.3,414.8 223.8,416.0 226.2,420.0 228.7,421.8 231.1,423.9 233.6,424.7 236.0,425.3 238.5,426.8 240.9,425.8 243.4,428.1 245.8,428.2 248.2,431.7 250.7,433.3 253.1,437.6 255.6,436.3 258.0,437.1 260.5,438.8 262.9,439.2 265.4,441.6 267.8,439.8 270.3,440.4 272.7,440.2 275.2,442.0 277.6,442.0 280.1,443.8 282.5,444.9 284.9,447.2 287.4,447.7 289.8,453.3 292.3,455.6 294.7,457.9 297.2,459.2 299.6,459.3 302.1,461.3 304.5,461.0 307.0,462.3 309.4,461.7 311.9,460.1 314.3,463.8 316.8,448.1 319.2,457.2 321.6,468.3 324.1,473.3 326.5,469.6" stroke="#7E2F8E"/><polyline points="178.7,396.6 181.1,397.1 183.6,394.9 186.0,396.0 188.5,396.3 190.9,396.1 193.4,398.3 195.8,401.5 198.3,408.0 200.7,411.4 203.2,412.4 205.6,412.9 208.0,412.8 210.5,413.9 212.9,414.6 215.4,417.0 217.8,416.9 220.3,417.2 222.7,418.9 225.2,421.2 227.6,425.1 230.1,424.3 232.5,426.3 235.0,428.0 237.4,429.9 239.9,428.6 242.3,428.2 244.7,429.0 247.2,430.6 249.6,432.7 252.1,435.6 254.5,438.8 257.0,439.6 259.4,440.8 261.9,440.4 264.3,440.3 266.8,443.1 269.2,444.0 271.7,442.3 274.1,443.9 276.6,444.8 279.0,445.1 281.4,446.5 283.9,448.2 286.3,447.6 288.8,450.8 291.2,452.0 293.7,454.2 296.1,456.5 298.6,458.2 301.0,457.7 303.5,457.2 305.9,461.3 308.4,463.0 310.8,463.2 313.3,465.7 315.7,469.7 318.1,462.8 320.6,470.0 323.0,463.1 325.5,473.4" stroke="#EDB120"/><polyline points="177.6,386.7 180.1,397.3 182.5,394.7 185.0,389.7 187.4,395.3 189.9,396.0 192.3,398.5 194.8,401.4 197.2,402.5 199.7,406.6 202.1,406.7 204.5,409.2 207.0,408.6 209.4,409.4 211.9,408.9 214.3,410.8 216.8,409.8 219.2,410.5 221.7,414.6 224.1,417.3 226.6,418.9 229.0,420.9 231.5,423.7 233.9,425.3 236.4,424.2 238.8,425.6 241.2,425.7 243.7,425.5 246.1,427.7 248.6,432.4 251.0,433.2 253.5,436.7 255.9,437.9 258.4,435.7 260.8,436.9 263.3,436.1 265.7,438.4 268.2,440.9 270.6,441.4 273.1,444.8 275.5,444.3 277.9,443.9 280.4,444.9 282.8,445.5 285.3,447.6 287.7,450.2 290.2,452.1 292.6,454.4 295.1,454.8 297.5,456.5 300.0,457.5 302.4,458.9 304.9,458.5 307.3,460.6 309.8,459.4 312.2,463.9 314.6,467.5 317.1,462.5 319.5,464.3 322.0,445.9 324.4,466.5" stroke="#D95319"/><polyline points="176.6,403.4 179.0,398.2 181.5,395.7 183.9,396.9 186.4,395.4 188.8,397.6 191.3,396.7 193.7,398.5 196.2,403.4 198.6,407.6 201.0,411.8 203.5,410.9 205.9,409.6 208.4,407.4 210.8,407.4 213.3,408.3 215.7,411.8 218.2,413.7 220.6,414.8 223.1,419.0 225.5,421.9 228.0,424.5 230.4,424.8 232.9,425.1 235.3,425.3 237.7,426.5 240.2,424.9 242.6,424.7 245.1,425.5 247.5,428.5 250.0,433.2 252.4,435.3 254.9,436.5 257.3,436.7 259.8,435.3 262.2,433.9 264.7,436.6 267.1,439.2 269.6,440.9 272.0,444.0 274.4,445.6 276.9,445.4 279.3,446.2 281.8,447.9 284.2,448.5 286.7,450.3 289.1,455.5 291.6,457.5 294.0,459.9 296.5,459.9 298.9,458.2 301.4,456.2 303.8,455.6 306.3,455.8 308.7,456.2 311.1,456.4 313.6,449.9 316.0,463.2 318.5,456.5 320.9,473.1 323.4,471.4" stroke="#0072BD"/><polyline points="175.5,402.8 178.0,403.7 180.4,397.0 182.9,397.8 185.3,396.8 187.8,395.9 190.2,395.0 192.7,395.5 195.1,400.4 197.5,403.8 200.0,408.7 202.4,410.7 204.9,411.5 207.3,409.7 209.8,411.3 212.2,413.0 214.7,411.5 217.1,412.5 219.6,416.4 222.0,418.0 224.5,420.2 226.9,422.1 229.4,426.1 231.8,425.8 234.2,426.6 236.7,424.9 239.1,425.4 241.6,424.5 244.0,425.2 246.5,425.5 248.9,428.2 251.4,430.8 253.8,433.1 256.3,436.1 258.7,437.4 261.2,438.0 263.6,439.6 266.1,440.6 268.5,442.9 270.9,443.4 273.4,444.4 275.8,445.1 278.3,444.8 280.7,446.7 283.2,449.0 285.6,450.7 288.1,454.4 290.5,456.4 293.0,455.9 295.4,455.5 297.9,454.3 300.3,455.0 302.8,457.3 305.2,457.5 307.6,459.6 310.1,463.7 312.5,465.6 315.0,466.8 317.4,463.4 319.9,469.7 322.3,456.8" stroke="#A2142F"/><polyline points="174.5,401.3 176.9,403.2 179.4,404.8 181.8,400.5 184.3,404.6 186.7,401.0 189.2,399.8 191.6,399.3 194.0,402.5 196.5,407.6 198.9,409.4 201.4,409.9 203.8,411.0 206.3,409.9 208.7,412.0 211.2,412.3 213.6,412.3 216.1,412.7 218.5,416.2 221.0,419.2 223.4,423.3 225.9,424.8 228.3,426.9 230.7,428.2 233.2,429.1 235.6,430.0 238.1,429.7 240.5,429.6 243.0,429.3 245.4,430.2 247.9,432.7 250.3,437.4 252.8,436.1 255.2,435.7 257.7,438.7 260.1,440.1 262.6,440.0 265.0,441.9 267.4,444.0 269.9,446.4 272.3,449.4 274.8,451.0 277.2,448.9 279.7,447.6 282.1,451.2 284.6,455.6 287.0,458.7 289.5,459.7 291.9,459.6 294.4,457.1 296.8,455.0 299.3,456.2 301.7,457.1 304.1,459.9 306.6,458.5 309.0,467.3 311.5,444.5 313.9,465.5 316.4,456.7 318.8,470.6 321.3,471.3" stroke="#4DBEEE"/><polyline points="173.4,407.3 175.9,402.8 178.3,401.3 180.8,409.8 183.2,405.5 185.7,400.1 188.1,401.3 190.5,401.6 193.0,405.7 195.4,413.9 197.9,416.3 200.3,417.3 202.8,413.0 205.2,411.5 207.7,410.7 210.1,413.6 212.6,415.9 215.0,419.1 217.5,420.9 219.9,423.7 222.4,427.0 224.8,428.8 227.2,430.5 229.7,431.5 232.1,433.3 234.6,433.3 237.0,434.2 239.5,435.3 241.9,435.0 244.4,434.1 246.8,437.0 249.3,439.7 251.7,441.0 254.2,440.7 256.6,439.6 259.1,439.8 261.5,442.6 263.9,447.7 266.4,450.1 268.8,453.6 271.3,453.9 273.7,454.6 276.2,452.3 278.6,452.8 281.1,455.0 283.5,455.2 286.0,460.1 288.4,464.5 290.9,462.2 293.3,463.1 295.8,460.6 298.2,460.5 300.6,461.5 303.1,464.5 305.5,464.4 308.0,460.5 310.4,441.6 312.9,464.9 315.3,468.3 317.8,444.3 320.2,450.6" stroke="#77AC30"/><polyline points="172.4,403.0 174.8,409.2 177.3,408.3 179.7,410.2 182.2,409.1 184.6,406.9 187.0,405.8 189.5,404.8 191.9,407.9 194.4,411.0 196.8,413.8 199.3,413.9 201.7,413.0 204.2,411.2 206.6,411.8 209.1,411.0 211.5,411.6 214.0,413.9 216.4,416.8 218.9,422.6 221.3,427.6 223.7,430.0 226.2,431.6 228.6,432.4 231.1,431.8 233.5,431.9 236.0,432.3 238.4,432.3 240.9,432.0 243.3,434.7 245.8,435.1 248.2,438.3 250.7,438.3 253.1,438.6 255.6,438.8 258.0,439.3 260.4,441.7 262.9,445.2 265.3,447.5 267.8,449.2 270.2,452.5 272.7,453.4 275.1,453.8 277.6,453.2 280.0,455.0 282.5,458.6 284.9,461.6 287.4,464.2 289.8,464.0 292.3,461.7 294.7,459.9 297.1,459.1 299.6,460.8 302.0,463.4 304.5,465.0 306.9,467.3 309.4,470.5 311.8,471.8 314.3,445.7 316.7,465.4 319.2,469.9" stroke="#7E2F8E"/><polyline points="171.3,404.0 173.8,405.5 176.2,407.1 178.7,410.7 181.1,407.8 183.5,405.8 186.0,403.4 188.4,403.0 190.9,404.9 193.3,410.6 195.8,415.2 198.2,418.0 200.7,418.8 203.1,417.4 205.6,413.2 208.0,415.0 210.5,415.7 212.9,416.2 215.4,421.4 217.8,426.1 220.2,429.9 222.7,430.5 225.1,431.7 227.6,434.8 230.0,435.0 232.5,435.1 234.9,434.0 237.4,433.4 239.8,433.7 242.3,434.7 244.7,437.5 247.2,438.0 249.6,439.8 252.1,441.2 254.5,439.2 256.9,442.1 259.4,446.0 261.8,447.4 264.3,447.6 266.7,451.2 269.2,452.6 271.6,452.6 274.1,453.3 276.5,453.2 279.0,455.0 281.4,459.6 283.9,463.7 286.3,465.6 288.8,466.5 291.2,465.6 293.6,463.2 296.1,461.4 298.5,462.7 301.0,463.6 303.4,464.8 305.9,451.3 308.3,458.4 310.8,446.5 313.2,470.3 315.7,454.5 318.1,468.8" stroke="#EDB120"/><polyline points="170.3,395.6 172.7,406.2 175.1,408.7 177.6,411.7 180.0,410.6 182.5,409.9 184.9,405.9 187.4,404.0 189.8,405.6 192.3,407.5 194.7,411.7 197.2,413.2 199.6,414.5 202.1,412.5 204.5,411.8 207.0,411.7 209.4,410.6 211.8,414.5 214.3,418.6 216.7,420.8 219.2,423.6 221.6,428.1 224.1,429.9 226.5,430.9 229.0,432.6 231.4,432.8 233.9,433.3 236.3,434.7 238.8,433.8 241.2,434.5 243.7,437.4 246.1,437.8 248.5,439.6 251.0,437.6 253.4,439.8 255.9,439.9 258.3,443.9 260.8,444.8 263.2,446.3 265.7,448.3 268.1,451.3 270.6,451.9 273.0,451.7 275.5,450.2 277.9,452.2 280.4,457.4 282.8,459.8 285.2,461.9 287.7,462.8 290.1,459.5 292.6,460.0 295.0,459.1 297.5,461.1 299.9,461.9 302.4,461.4 304.8,468.6 307.3,470.4 309.7,449.6 312.2,473.1 314.6,471.4 317.1,467.1" stroke="#D95319"/><polyline points="169.2,397.4 171.6,408.0 174.1,417.3 176.5,415.5 179.0,414.1 181.4,408.7 183.9,406.9 186.3,406.0 188.8,405.9 191.2,409.0 193.7,408.6 196.1,412.0 198.6,410.7 201.0,409.7 203.5,409.7 205.9,410.2 208.3,413.5 210.8,416.0 213.2,417.4 215.7,421.8 218.1,427.9 220.6,430.4 223.0,433.0 225.5,432.9 227.9,433.3 230.4,434.6 232.8,434.3 235.3,435.8 237.7,433.7 240.2,432.7 242.6,435.7 245.0,440.1 247.5,440.3 249.9,440.4 252.4,440.2 254.8,441.6 257.3,444.8 259.7,448.9 262.2,448.2 264.6,449.2 267.1,449.3 269.5,451.7 272.0,450.8 274.4,449.7 276.9,453.4 279.3,456.1 281.7,460.1 284.2,462.4 286.6,463.2 289.1,459.9 291.5,459.7 294.0,457.4 296.4,460.4 298.9,461.0 301.3,463.2 303.8,447.8 306.2,463.2 308.7,446.5 311.1,466.6 313.6,471.1 316.0,449.0" stroke="#0072BD"/><polyline points="168.1,409.2 170.6,414.5 173.0,420.7 175.5,419.6 177.9,420.4 180.4,414.0 182.8,409.4 185.3,409.3 187.7,411.2 190.2,411.3 192.6,414.0 195.1,417.2 197.5,418.6 200.0,416.9 202.4,416.5 204.8,416.4 207.3,415.3 209.7,419.3 212.2,421.1 214.6,426.5 217.1,430.7 219.5,432.3 222.0,431.7 224.4,430.9 226.9,432.1 229.3,435.3 231.8,439.3 234.2,440.0 236.7,438.0 239.1,437.9 241.5,436.9 244.0,439.0 246.4,438.4 248.9,440.4 251.3,440.2 253.8,442.7 256.2,442.6 258.7,445.1 261.1,448.0 263.6,451.6 266.0,452.2 268.5,454.2 270.9,457.1 273.4,455.9 275.8,456.5 278.2,458.1 280.7,461.0 283.1,463.2 285.6,462.9 288.0,459.6 290.5,458.9 292.9,459.6 295.4,459.5 297.8,463.9 300.3,465.9 302.7,464.1 305.2,465.9 307.6,472.5 310.1,468.3 312.5,474.0 314.9,458.7" stroke="#A2142F"/><polyline points="167.1,401.4 169.5,404.1 172.0,417.7 174.4,414.4 176.9,412.6 179.3,410.1 181.8,406.4 184.2,406.6 186.7,408.8 189.1,411.9 191.6,413.4 194.0,413.2 196.5,412.6 198.9,411.7 201.3,409.9 203.8,410.7 206.2,411.4 208.7,415.9 211.1,417.8 213.6,422.2 216.0,426.7 218.5,428.2 220.9,430.6 223.4,430.9 225.8,430.7 228.3,430.5 230.7,431.1 233.2,433.2 235.6,433.5 238.0,435.0 240.5,438.7 242.9,439.6 245.4,440.6 247.8,439.1 250.3,439.1 252.7,440.1 255.2,443.2 257.6,445.2 260.1,443.8 262.5,444.8 265.0,446.6 267.4,448.3 269.9,448.6 272.3,448.3 274.7,449.8 277.2,454.6 279.6,458.1 282.1,460.1 284.5,459.3 287.0,458.8 289.4,458.2 291.9,456.7 294.3,459.7 296.8,460.4 299.2,461.9 301.7,462.9 304.1,467.9 306.6,470.4 309.0,452.5 311.4,452.3 313.9,450.8" stroke="#4DBEEE"/><polyline points="166.0,372.4 168.5,405.4 170.9,411.0 173.4,413.2 175.8,410.7 178.3,408.5 180.7,407.5 183.2,409.7 185.6,411.7 188.1,413.7 190.5,413.0 193.0,412.9 195.4,412.2 197.8,410.1 200.3,408.5 202.7,412.0 205.2,415.5 207.6,418.1 210.1,423.2 212.5,426.5 215.0,428.0 217.4,428.4 219.9,431.5 222.3,431.4 224.8,434.1 227.2,433.9 229.7,434.7 232.1,433.4 234.5,432.5 237.0,434.2 239.4,437.5 241.9,439.5 244.3,440.3 246.8,438.5 249.2,438.7 251.7,440.2 254.1,442.2 256.6,443.9 259.0,442.5 261.5,445.1 263.9,448.1 266.4,450.1 268.8,451.8 271.2,453.9 273.7,455.0 276.1,456.9 278.6,457.2 281.0,456.4 283.5,456.6 285.9,457.4 288.4,458.7 290.8,460.3 293.3,462.3 295.7,461.5 298.2,464.1 300.6,468.3 303.1,469.2 305.5,455.9 307.9,448.7 310.4,451.1 312.8,477.1" stroke="#77AC30"/><polyline points="165.0,391.1 167.4,405.3 169.9,405.8 172.3,407.8 174.8,407.1 177.2,407.9 179.7,406.0 182.1,407.3 184.6,410.8 187.0,412.3 189.5,412.8 191.9,416.9 194.3,419.4 196.8,419.8 199.2,420.2 201.7,421.1 204.1,423.7 206.6,426.1 209.0,429.2 211.5,430.2 213.9,430.8 216.4,431.8 218.8,431.9 221.3,432.1 223.7,433.4 226.2,431.6 228.6,432.3 231.0,432.2 233.5,433.6 235.9,436.9 238.4,439.7 240.8,443.2 243.3,442.0 245.7,440.0 248.2,440.4 250.6,441.5 253.1,443.0 255.5,444.8 258.0,447.4 260.4,445.9 262.9,447.9 265.3,450.4 267.7,452.8 270.2,455.4 272.6,456.7 275.1,456.7 277.5,458.3 280.0,459.4 282.4,459.1 284.9,459.1 287.3,459.0 289.8,461.1 292.2,464.4 294.7,464.8 297.1,465.0 299.6,451.2 302.0,469.0 304.4,464.3 306.9,475.6 309.3,457.8 311.8,468.2" stroke="#7E2F8E"/><polyline points="163.9,401.3 166.4,403.0 168.8,403.6 171.3,407.1 173.7,406.1 176.2,405.6 178.6,407.9 181.1,412.1 183.5,414.5 186.0,414.0 188.4,413.0 190.8,413.5 193.3,411.6 195.7,412.1 198.2,413.5 200.6,416.4 203.1,418.3 205.5,422.5 208.0,426.7 210.4,427.5 212.9,428.4 215.3,428.9 217.8,429.7 220.2,430.4 222.7,430.4 225.1,431.4 227.5,432.4 230.0,433.3 232.4,434.1 234.9,433.1 237.3,435.6 239.8,437.4 242.2,437.8 244.7,438.9 247.1,437.2 249.6,437.9 252.0,438.8 254.5,442.2 256.9,444.7 259.4,444.5 261.8,446.6 264.2,449.0 266.7,450.4 269.1,451.8 271.6,453.3 274.0,453.2 276.5,455.2 278.9,456.9 281.4,457.0 283.8,456.6 286.3,456.4 288.7,459.2 291.2,460.3 293.6,463.6 296.1,466.4 298.5,443.4 300.9,469.7 303.4,460.9 305.8,460.3 308.3,470.7 310.7,467.3" stroke="#EDB120"/><polyline points="162.9,390.3 165.3,408.9 167.8,404.8 170.2,402.9 172.7,404.5 175.1,405.9 177.6,406.1 180.0,413.8 182.5,419.1 184.9,419.4 187.3,418.3 189.8,417.3 192.2,415.7 194.7,415.2 197.1,415.0 199.6,418.0 202.0,421.0 204.5,425.8 206.9,427.7 209.4,428.2 211.8,430.8 214.3,432.3 216.7,433.4 219.2,433.7 221.6,432.1 224.0,431.7 226.5,429.3 228.9,432.2 231.4,433.4 233.8,434.9 236.3,439.3 238.7,442.7 241.2,444.1 243.6,446.7 246.1,446.1 248.5,445.8 251.0,446.9 253.4,447.3 255.9,447.6 258.3,449.3 260.7,452.2 263.2,453.9 265.6,455.4 268.1,456.3 270.5,457.0 273.0,456.9 275.4,457.9 277.9,457.0 280.3,455.9 282.8,458.7 285.2,458.8 287.7,460.7 290.1,464.7 292.6,467.4 295.0,468.2 297.4,464.2 299.9,473.2 302.3,474.2 304.8,466.0 307.2,466.6 309.7,477.6" stroke="#D95319"/><polyline points="161.8,401.6 164.3,404.7 166.7,405.2 169.2,409.7 171.6,407.2 174.1,410.2 176.5,415.7 179.0,420.5 181.4,424.8 183.8,420.6 186.3,418.4 188.7,416.2 191.2,418.8 193.6,417.6 196.1,418.6 198.5,419.8 201.0,423.5 203.4,427.0 205.9,428.4 208.3,432.6 210.8,431.7 213.2,433.4 215.7,435.3 218.1,436.1 220.5,436.3 223.0,436.1 225.4,438.3 227.9,436.6 230.3,437.6 232.8,437.0 235.2,438.9 237.7,442.0 240.1,446.7 242.6,445.5 245.0,445.3 247.5,444.5 249.9,445.0 252.4,446.0 254.8,447.1 257.2,449.1 259.7,453.4 262.1,454.1 264.6,456.0 267.0,454.8 269.5,455.4 271.9,456.0 274.4,457.4 276.8,456.7 279.3,457.9 281.7,459.3 284.2,461.7 286.6,464.3 289.1,466.9 291.5,467.8 293.9,469.1 296.4,468.2 298.8,467.0 301.3,465.3 303.7,446.5 306.2,473.5 308.6,449.1" stroke="#0072BD"/><polyline points="160.8,398.7 163.2,405.0 165.7,411.8 168.1,409.2 170.6,407.2 173.0,406.6 175.5,410.6 177.9,415.8 180.3,420.9 182.8,421.7 185.2,417.3 187.7,413.7 190.1,414.4 192.6,418.1 195.0,419.1 197.5,420.1 199.9,422.0 202.4,422.7 204.8,424.8 207.3,426.6 209.7,429.0 212.2,428.8 214.6,430.4 217.0,433.8 219.5,431.6 221.9,433.7 224.4,431.4 226.8,432.0 229.3,434.0 231.7,436.9 234.2,439.4 236.6,440.9 239.1,442.7 241.5,441.9 244.0,442.1 246.4,442.3 248.9,444.2 251.3,445.6 253.7,447.9 256.2,446.9 258.6,448.5 261.1,449.5 263.5,450.9 266.0,453.0 268.4,455.8 270.9,456.4 273.3,457.0 275.8,456.7 278.2,457.6 280.7,459.2 283.1,461.5 285.6,464.1 288.0,464.3 290.4,466.7 292.9,466.9 295.3,472.3 297.8,471.3 300.2,474.8 302.7,462.3 305.1,468.3 307.6,477.4" stroke="#A2142F"/><polyline points="159.7,400.6 162.2,407.9 164.6,410.6 167.1,413.4 169.5,411.9 171.9,413.3 174.4,416.5 176.8,421.5 179.3,424.8 181.7,422.7 184.2,420.1 186.6,419.4 189.1,420.6 191.5,420.6 194.0,422.6 196.4,423.8 198.9,425.4 201.3,427.6 203.8,429.1 206.2,430.2 208.6,430.4 211.1,431.0 213.5,432.6 216.0,434.6 218.4,436.8 220.9,437.2 223.3,437.4 225.8,437.8 228.2,439.1 230.7,440.3 233.1,441.1 235.6,444.6 238.0,447.3 240.5,447.7 242.9,448.1 245.3,448.9 247.8,449.5 250.2,449.3 252.7,448.6 255.1,448.4 257.6,451.0 260.0,452.3 262.5,455.2 264.9,458.3 267.4,460.4 269.8,460.6 272.3,462.7 274.7,460.5 277.2,461.6 279.6,463.9 282.0,465.9 284.5,468.0 286.9,470.3 289.4,471.6 291.8,469.6 294.3,456.9 296.7,472.5 299.2,475.5 301.6,466.7 304.1,467.2 306.5,473.4" stroke="#4DBEEE"/><polyline points="158.7,393.5 161.1,392.2 163.6,402.1 166.0,399.6 168.4,403.9 170.9,405.0 173.3,408.7 175.8,413.3 178.2,418.7 180.7,418.8 183.1,413.5 185.6,408.3 188.0,410.0 190.5,408.9 192.9,411.3 195.4,415.6 197.8,418.7 200.3,420.8 202.7,421.2 205.1,421.1 207.6,421.1 210.0,427.3 212.5,428.7 214.9,430.5 217.4,429.8 219.8,430.0 222.3,428.8 224.7,430.1 227.2,433.3 229.6,433.6 232.1,435.7 234.5,436.9 237.0,435.3 239.4,438.3 241.8,438.1 244.3,439.2 246.7,437.6 249.2,440.3 251.6,444.2 254.1,443.7 256.5,445.2 259.0,443.8 261.4,445.5 263.9,446.7 266.3,450.9 268.8,452.9 271.2,455.1 273.7,455.3 276.1,457.2 278.5,459.0 281.0,462.5 283.4,465.3 285.9,464.8 288.3,466.2 290.8,465.5 293.2,465.1 295.7,469.6 298.1,447.3 300.6,447.5 303.0,477.4 305.5,474.3" stroke="#77AC30"/><polyline points="157.6,390.5 160.1,403.1 162.5,395.8 164.9,397.0 167.4,397.4 169.8,401.4 172.3,403.0 174.7,408.4 177.2,415.2 179.6,417.3 182.1,414.2 184.5,411.8 187.0,412.0 189.4,413.1 191.9,413.9 194.3,415.9 196.8,418.8 199.2,420.6 201.6,420.7 204.1,419.6 206.5,421.7 209.0,421.8 211.4,424.4 213.9,430.2 216.3,429.6 218.8,430.9 221.2,431.4 223.7,433.3 226.1,433.7 228.6,434.0 231.0,434.6 233.5,438.2 235.9,436.9 238.3,437.7 240.8,437.6 243.2,438.1 245.7,439.3 248.1,439.7 250.6,442.3 253.0,442.1 255.5,444.0 257.9,446.2 260.4,448.1 262.8,448.7 265.3,450.1 267.7,450.7 270.2,450.8 272.6,452.1 275.0,452.4 277.5,455.0 279.9,458.4 282.4,460.5 284.8,462.5 287.3,463.2 289.7,464.6 292.2,442.8 294.6,475.1 297.1,470.8 299.5,469.0 302.0,477.0 304.4,474.5" stroke="#7E2F8E"/><polyline points="156.6,397.0 159.0,399.0 161.4,404.7 163.9,404.6 166.3,406.5 168.8,407.5 171.2,412.5 173.7,417.6 176.1,418.6 178.6,417.6 181.0,415.4 183.5,412.4 185.9,413.5 188.4,416.5 190.8,419.9 193.3,421.5 195.7,423.7 198.1,422.7 200.6,424.5 203.0,426.9 205.5,427.9 207.9,430.0 210.4,433.3 212.8,432.7 215.3,434.9 217.7,432.7 220.2,434.6 222.6,436.9 225.1,437.7 227.5,439.6 230.0,440.0 232.4,441.9 234.8,444.7 237.3,445.8 239.7,445.7 242.2,447.2 244.6,445.5 247.1,443.4 249.5,445.6 252.0,447.4 254.4,448.2 256.9,449.6 259.3,452.0 261.8,455.2 264.2,455.6 266.7,456.4 269.1,456.9 271.5,459.0 274.0,459.8 276.4,459.6 278.9,460.5 281.3,463.5 283.8,466.3 286.2,466.9 288.7,468.7 291.1,447.9 293.6,456.2 296.0,466.0 298.5,468.5 300.9,453.4 303.4,470.1" stroke="#EDB120"/><polyline points="155.5,392.0 157.9,401.9 160.4,403.9 162.8,403.9 165.3,403.6 167.7,401.9 170.2,407.3 172.6,414.2 175.1,419.1 177.5,419.7 180.0,415.7 182.4,413.1 184.9,415.0 187.3,418.6 189.8,420.8 192.2,423.7 194.6,424.1 197.1,423.6 199.5,422.7 202.0,423.5 204.4,423.4 206.9,426.9 209.3,429.1 211.8,433.6 214.2,435.6 216.7,436.4 219.1,437.4 221.6,438.1 224.0,439.3 226.5,441.2 228.9,443.1 231.3,443.7 233.8,442.3 236.2,442.1 238.7,443.1 241.1,442.0 243.6,443.3 246.0,442.2 248.5,443.2 250.9,446.2 253.4,448.6 255.8,450.0 258.3,450.4 260.7,452.7 263.2,455.9 265.6,457.5 268.0,459.3 270.5,459.1 272.9,458.2 275.4,461.5 277.8,464.1 280.3,464.9 282.7,465.0 285.2,464.1 287.6,466.9 290.1,472.6 292.5,467.7 295.0,474.1 297.4,450.6 299.9,450.7 302.3,473.7" stroke="#D95319"/><polyline points="154.4,393.6 156.9,398.4 159.3,397.3 161.8,403.3 164.2,399.6 166.7,399.2 169.1,403.8 171.6,409.4 174.0,412.4 176.5,412.1 178.9,408.8 181.4,410.6 183.8,413.4 186.3,414.0 188.7,415.9 191.1,417.7 193.6,417.3 196.0,416.9 198.5,416.4 200.9,415.7 203.4,417.5 205.8,420.9 208.3,426.8 210.7,427.9 213.2,430.5 215.6,430.3 218.1,430.3 220.5,430.8 223.0,431.6 225.4,434.2 227.8,435.5 230.3,436.0 232.7,435.5 235.2,435.9 237.6,437.1 240.1,439.6 242.5,438.0 245.0,437.1 247.4,438.0 249.9,441.4 252.3,443.1 254.8,445.4 257.2,447.5 259.7,447.9 262.1,450.1 264.5,451.5 267.0,454.0 269.4,456.2 271.9,457.0 274.3,458.2 276.8,459.9 279.2,460.5 281.7,460.1 284.1,460.2 286.6,462.1 289.0,471.2 291.5,473.9 293.9,472.5 296.4,457.3 298.8,475.6 301.2,474.5" stroke="#0072BD"/><polyline points="153.4,397.2 155.8,403.7 158.3,407.5 160.7,406.3 163.2,406.9 165.6,406.7 168.1,408.1 170.5,411.1 173.0,414.1 175.4,412.6 177.9,412.8 180.3,412.1 182.8,414.7 185.2,415.2 187.6,418.2 190.1,421.2 192.5,420.9 195.0,419.8 197.4,418.2 199.9,417.4 202.3,418.7 204.8,421.7 207.2,425.4 209.7,427.3 212.1,431.0 214.6,430.2 217.0,432.3 219.5,433.3 221.9,436.0 224.3,439.8 226.8,440.3 229.2,442.9 231.7,441.2 234.1,441.6 236.6,441.4 239.0,444.9 241.5,442.4 243.9,440.6 246.4,442.3 248.8,443.0 251.3,444.2 253.7,446.5 256.2,450.1 258.6,452.2 261.0,453.6 263.5,455.6 265.9,454.7 268.4,457.0 270.8,457.3 273.3,458.3 275.7,463.4 278.2,464.3 280.6,463.9 283.1,466.6 285.5,467.0 288.0,457.5 290.4,475.4 292.9,463.2 295.3,474.7 297.7,477.9 300.2,479.4" stroke="#A2142F"/><polyline points="152.3,360.1 154.8,388.4 157.2,393.1 159.7,400.8 162.1,401.4 164.6,399.3 167.0,403.9 169.5,408.8 171.9,411.5 174.4,411.4 176.8,409.1 179.3,408.7 181.7,409.6 184.1,413.4 186.6,415.4 189.0,414.6 191.5,413.5 193.9,413.8 196.4,412.2 198.8,414.1 201.3,415.5 203.7,419.1 206.2,423.0 208.6,426.4 211.1,428.0 213.5,426.0 216.0,427.0 218.4,429.2 220.8,432.2 223.3,433.7 225.7,433.0 228.2,433.2 230.6,433.5 233.1,434.6 235.5,437.8 238.0,438.1 240.4,437.2 242.9,436.0 245.3,433.9 247.8,436.3 250.2,436.5 252.7,440.4 255.1,444.5 257.5,449.1 260.0,448.9 262.4,451.6 264.9,453.3 267.3,452.6 269.8,454.6 272.2,454.6 274.7,456.4 277.1,458.8 279.6,459.7 282.0,462.8 284.5,465.1 286.9,468.0 289.4,469.7 291.8,476.3 294.2,471.3 296.7,453.5 299.1,453.6" stroke="#4DBEEE"/><polyline points="151.3,386.8 153.7,400.4 156.2,399.4 158.6,410.5 161.1,407.4 163.5,407.3 166.0,409.0 168.4,412.5 170.9,415.6 173.3,416.9 175.8,414.2 178.2,414.2 180.6,414.9 183.1,416.5 185.5,418.0 188.0,418.2 190.4,418.5 192.9,418.4 195.3,416.3 197.8,414.0 200.2,414.8 202.7,419.5 205.1,422.6 207.6,423.2 210.0,423.0 212.5,423.5 214.9,424.8 217.3,431.1 219.8,433.8 222.2,435.0 224.7,435.5 227.1,435.0 229.6,435.0 232.0,437.0 234.5,440.0 236.9,440.1 239.4,439.7 241.8,439.0 244.3,439.6 246.7,441.3 249.2,442.7 251.6,445.9 254.0,445.8 256.5,446.1 258.9,447.5 261.4,451.7 263.8,454.2 266.3,454.1 268.7,456.7 271.2,458.9 273.6,461.6 276.1,461.7 278.5,462.8 281.0,461.4 283.4,461.3 285.9,471.2 288.3,457.2 290.7,474.1 293.2,458.8 295.6,477.1 298.1,478.8" stroke="#77AC30"/><polyline points="150.2,389.1 152.7,391.8 155.1,401.9 157.6,402.2 160.0,402.6 162.5,403.8 164.9,407.2 167.4,412.1 169.8,416.8 172.3,420.8 174.7,419.1 177.1,419.4 179.6,420.1 182.0,418.7 184.5,418.8 186.9,420.6 189.4,420.7 191.8,417.6 194.3,415.9 196.7,415.7 199.2,417.3 201.6,421.3 204.1,422.8 206.5,423.6 209.0,425.6 211.4,427.0 213.8,429.5 216.3,433.3 218.7,436.6 221.2,438.9 223.6,440.1 226.1,436.9 228.5,439.3 231.0,440.7 233.4,441.7 235.9,442.9 238.3,441.9 240.8,442.0 243.2,440.2 245.7,441.3 248.1,444.4 250.5,444.4 253.0,447.6 255.4,450.0 257.9,452.9 260.3,454.1 262.8,454.4 265.2,455.6 267.7,456.3 270.1,458.9 272.6,461.5 275.0,460.3 277.5,461.6 279.9,463.2 282.4,466.6 284.8,454.5 287.2,472.7 289.7,477.9 292.1,474.5 294.6,472.3 297.0,476.6" stroke="#7E2F8E"/><polyline points="149.2,322.5 151.6,403.2 154.1,405.2 156.5,410.6 159.0,406.2 161.4,403.7 163.9,404.6 166.3,407.7 168.7,414.6 171.2,414.9 173.6,414.4 176.1,411.5 178.5,414.5 181.0,417.4 183.4,418.8 185.9,416.2 188.3,413.6 190.8,411.7 193.2,413.8 195.7,414.9 198.1,416.2 200.6,419.5 203.0,421.2 205.4,421.4 207.9,422.2 210.3,426.1 212.8,431.0 215.2,434.2 217.7,436.7 220.1,437.4 222.6,436.7 225.0,436.8 227.5,435.7 229.9,439.1 232.4,441.3 234.8,442.1 237.3,441.0 239.7,439.9 242.1,440.7 244.6,442.3 247.0,443.6 249.5,446.3 251.9,446.3 254.4,449.8 256.8,450.0 259.3,452.1 261.7,454.9 264.2,454.9 266.6,457.0 269.1,457.8 271.5,459.0 274.0,461.6 276.4,463.7 278.8,464.2 281.3,465.5 283.7,469.7 286.2,470.6 288.6,474.3 291.1,469.2 293.5,474.3 296.0,480.0" stroke="#EDB120"/><polyline points="148.1,383.1 150.6,396.9 153.0,400.0 155.5,406.1 157.9,404.5 160.4,402.3 162.8,402.8 165.2,406.3 167.7,412.3 170.1,414.4 172.6,414.0 175.0,416.7 177.5,417.4 179.9,416.6 182.4,416.1 184.8,415.1 187.3,414.7 189.7,415.0 192.2,415.4 194.6,415.3 197.1,417.0 199.5,417.1 201.9,421.1 204.4,420.2 206.8,420.5 209.3,423.2 211.7,429.1 214.2,431.3 216.6,433.5 219.1,435.6 221.5,433.5 224.0,434.8 226.4,433.6 228.9,439.5 231.3,443.5 233.8,443.3 236.2,444.3 238.6,443.4 241.1,441.4 243.5,442.0 246.0,443.2 248.4,444.0 250.9,445.8 253.3,446.5 255.8,447.7 258.2,449.0 260.7,449.1 263.1,450.8 265.6,454.0 268.0,458.1 270.5,458.8 272.9,459.3 275.3,457.6 277.8,458.7 280.2,460.6 282.7,474.2 285.1,469.0 287.6,478.4 290.0,478.0 292.5,474.7 294.9,472.5" stroke="#D95319"/><polyline points="147.1,389.9 149.5,389.8 152.0,399.8 154.4,404.6 156.9,403.5 159.3,404.0 161.7,407.2 164.2,414.6 166.6,419.1 169.1,419.3 171.5,422.0 174.0,422.4 176.4,424.0 178.9,421.4 181.3,420.4 183.8,418.4 186.2,416.6 188.7,416.3 191.1,414.8 193.6,417.5 196.0,418.7 198.4,421.2 200.9,423.9 203.3,425.3 205.8,425.9 208.2,427.0 210.7,430.1 213.1,435.1 215.6,437.7 218.0,440.1 220.5,436.6 222.9,438.2 225.4,439.4 227.8,441.5 230.3,443.1 232.7,445.1 235.1,443.9 237.6,441.2 240.0,440.7 242.5,443.7 244.9,445.2 247.4,447.0 249.8,448.1 252.3,451.5 254.7,452.5 257.2,456.2 259.6,457.5 262.1,460.9 264.5,462.4 267.0,464.4 269.4,465.2 271.8,464.1 274.3,463.9 276.7,462.9 279.2,463.8 281.6,466.4 284.1,457.7 286.5,472.4 289.0,471.7 291.4,460.1 293.9,475.9" stroke="#0072BD"/><polyline points="146.0,388.2 148.5,384.6 150.9,395.6 153.4,401.0 155.8,401.7 158.2,402.7 160.7,402.4 163.1,407.7 165.6,414.2 168.0,417.0 170.5,418.1 172.9,415.9 175.4,417.7 177.8,418.6 180.3,416.4 182.7,413.7 185.2,411.2 187.6,410.6 190.1,411.9 192.5,412.5 194.9,413.3 197.4,416.7 199.8,418.3 202.3,419.2 204.7,420.7 207.2,422.0 209.6,427.7 212.1,429.5 214.5,431.7 217.0,431.6 219.4,432.7 221.9,433.6 224.3,434.9 226.8,436.5 229.2,437.9 231.6,439.3 234.1,439.3 236.5,439.4 239.0,440.5 241.4,441.4 243.9,443.7 246.3,443.8 248.8,444.0 251.2,444.7 253.7,447.9 256.1,449.0 258.6,449.5 261.0,452.1 263.5,455.5 265.9,459.1 268.3,459.4 270.8,462.0 273.2,461.7 275.7,460.3 278.1,461.2 280.6,471.7 283.0,451.6 285.5,475.3 287.9,471.1 290.4,477.7 292.8,464.9" stroke="#A2142F"/><polyline points="145.0,388.9 147.4,399.6 149.9,401.4 152.3,407.8 154.7,411.4 157.2,406.9 159.6,408.0 162.1,415.3 164.5,422.6 167.0,423.3 169.4,420.3 171.9,416.9 174.3,417.3 176.8,414.9 179.2,414.5 181.7,413.5 184.1,414.0 186.6,416.0 189.0,416.6 191.4,417.9 193.9,418.1 196.3,420.7 198.8,422.9 201.2,422.6 203.7,422.7 206.1,426.1 208.6,430.2 211.0,434.4 213.5,437.5 215.9,439.6 218.4,439.8 220.8,439.2 223.3,440.3 225.7,440.9 228.1,442.2 230.6,444.4 233.0,441.9 235.5,443.6 237.9,444.4 240.4,443.1 242.8,443.0 245.3,443.1 247.7,446.7 250.2,446.9 252.6,449.3 255.1,451.8 257.5,454.4 260.0,455.8 262.4,458.4 264.8,462.7 267.3,463.7 269.7,463.8 272.2,461.6 274.6,461.3 277.1,464.8 279.5,476.8 282.0,475.9 284.4,478.0 286.9,477.5 289.3,479.2 291.8,453.7" stroke="#4DBEEE"/><polyline points="143.9,394.7 146.4,399.5 148.8,397.4 151.2,401.2 153.7,400.8 156.1,403.9 158.6,407.8 161.0,415.6 163.5,420.2 165.9,424.1 168.4,424.2 170.8,425.8 173.3,425.6 175.7,422.6 178.2,417.3 180.6,417.7 183.1,416.7 185.5,416.5 187.9,418.5 190.4,419.0 192.8,420.2 195.3,422.8 197.7,421.6 200.2,422.3 202.6,422.4 205.1,423.8 207.5,430.0 210.0,435.6 212.4,438.0 214.9,438.0 217.3,437.0 219.8,439.4 222.2,439.8 224.6,442.2 227.1,444.3 229.5,444.0 232.0,442.7 234.4,442.0 236.9,444.4 239.3,445.6 241.8,447.7 244.2,448.1 246.7,447.9 249.1,450.6 251.6,451.0 254.0,454.6 256.5,456.4 258.9,458.9 261.3,462.3 263.8,464.0 266.2,464.8 268.7,462.4 271.1,463.6 273.6,463.3 276.0,463.9 278.5,476.5 280.9,477.3 283.4,470.1 285.8,464.3 288.3,465.3 290.7,474.3" stroke="#77AC30"/><polyline points="142.9,397.1 145.3,397.6 147.7,399.5 150.2,405.1 152.6,402.2 155.1,402.5 157.5,405.8 160.0,413.0 162.4,422.3 164.9,425.5 167.3,425.6 169.8,424.1 172.2,423.2 174.7,419.2 177.1,417.3 179.6,417.4 182.0,417.0 184.4,419.1 186.9,419.6 189.3,421.9 191.8,421.5 194.2,425.0 196.7,425.7 199.1,427.1 201.6,427.2 204.0,427.7 206.5,431.4 208.9,434.7 211.4,438.1 213.8,438.9 216.3,440.2 218.7,441.0 221.1,440.7 223.6,443.9 226.0,443.7 228.5,443.4 230.9,445.3 233.4,442.5 235.8,444.8 238.3,444.8 240.7,449.2 243.2,448.3 245.6,449.0 248.1,451.0 250.5,450.2 253.0,452.8 255.4,453.9 257.8,457.9 260.3,458.4 262.7,461.6 265.2,462.6 267.6,463.0 270.1,462.2 272.5,463.5 275.0,467.5 277.4,468.6 279.9,469.9 282.3,470.9 284.8,477.5 287.2,479.5 289.7,473.7" stroke="#7E2F8E"/><polyline points="141.8,393.8 144.2,396.2 146.7,392.0 149.1,401.1 151.6,401.9 154.0,405.1 156.5,407.4 158.9,416.7 161.4,421.8 163.8,422.3 166.3,419.8 168.7,416.1 171.2,414.5 173.6,415.4 176.1,414.2 178.5,414.2 180.9,415.6 183.4,419.7 185.8,419.5 188.3,419.4 190.7,417.0 193.2,418.3 195.6,417.9 198.1,420.5 200.5,420.4 203.0,423.2 205.4,425.0 207.9,430.8 210.3,432.7 212.8,434.7 215.2,437.3 217.6,438.5 220.1,440.7 222.5,439.3 225.0,439.6 227.4,437.7 229.9,439.2 232.3,438.9 234.8,442.0 237.2,442.6 239.7,444.8 242.1,444.0 244.6,444.6 247.0,446.0 249.5,447.4 251.9,450.0 254.3,450.7 256.8,453.0 259.2,453.4 261.7,455.0 264.1,456.4 266.6,456.5 269.0,457.2 271.5,458.7 273.9,458.3 276.4,450.5 278.8,472.9 281.3,448.2 283.7,471.0 286.2,476.0 288.6,474.8" stroke="#EDB120"/><polyline points="140.7,403.0 143.2,399.3 145.6,399.6 148.1,401.9 150.5,403.1 153.0,406.0 155.4,410.3 157.9,418.0 160.3,422.5 162.8,424.0 165.2,421.1 167.7,417.8 170.1,414.4 172.6,410.4 175.0,411.3 177.4,414.2 179.9,418.7 182.3,419.4 184.8,422.1 187.2,423.9 189.7,423.5 192.1,423.5 194.6,424.1 197.0,422.9 199.5,423.0 201.9,424.0 204.4,426.4 206.8,429.8 209.3,433.5 211.7,436.2 214.1,437.5 216.6,438.6 219.0,442.1 221.5,442.6 223.9,440.8 226.4,440.3 228.8,439.9 231.3,438.7 233.7,439.3 236.2,442.3 238.6,443.5 241.1,447.2 243.5,447.4 246.0,448.4 248.4,450.3 250.8,449.7 253.3,451.4 255.7,453.2 258.2,456.5 260.6,459.6 263.1,461.8 265.5,463.1 268.0,460.6 270.4,461.4 272.9,461.0 275.3,456.8 277.8,470.9 280.2,453.9 282.7,473.2 285.1,473.9 287.5,473.8" stroke="#D95319"/><polyline points="139.7,398.8 142.1,397.8 144.6,392.4 147.0,398.1 149.5,400.0 151.9,406.4 154.4,411.3 156.8,415.9 159.3,420.8 161.7,420.8 164.2,418.6 166.6,416.1 169.1,416.0 171.5,414.3 173.9,413.5 176.4,415.9 178.8,420.8 181.3,421.5 183.7,425.1 186.2,424.8 188.6,425.6 191.1,425.7 193.5,424.7 196.0,423.6 198.4,424.5 200.9,425.7 203.3,427.9 205.8,429.6 208.2,431.8 210.6,434.2 213.1,436.3 215.5,439.4 218.0,441.2 220.4,439.9 222.9,438.4 225.3,439.4 227.8,437.5 230.2,437.2 232.7,438.2 235.1,443.6 237.6,445.7 240.0,447.6 242.5,448.3 244.9,450.2 247.3,451.0 249.8,453.2 252.2,455.2 254.7,457.7 257.1,460.7 259.6,462.2 262.0,461.9 264.5,461.2 266.9,460.7 269.4,460.8 271.8,461.3 274.3,474.0 276.7,475.1 279.2,470.4 281.6,455.8 284.0,481.4 286.5,477.4" stroke="#0072BD"/><polyline points="138.6,400.2 141.1,398.1 143.5,402.7 146.0,402.2 148.4,407.4 150.9,409.6 153.3,416.3 155.8,420.2 158.2,423.3 160.7,421.6 163.1,419.9 165.5,416.0 168.0,414.0 170.4,412.7 172.9,411.9 175.3,414.8 177.8,418.9 180.2,422.4 182.7,425.5 185.1,425.2 187.6,425.4 190.0,427.4 192.5,427.4 194.9,428.3 197.4,427.1 199.8,428.4 202.2,429.2 204.7,430.5 207.1,435.6 209.6,439.0 212.0,439.3 214.5,441.8 216.9,443.2 219.4,442.4 221.8,442.2 224.3,441.4 226.7,440.7 229.2,440.8 231.6,440.3 234.1,442.3 236.5,446.0 238.9,449.3 241.4,451.3 243.8,454.1 246.3,455.3 248.7,454.2 251.2,458.3 253.6,461.4 256.1,463.1 258.5,462.3 261.0,460.7 263.4,461.5 265.9,459.9 268.3,459.1 270.8,458.3 273.2,457.8 275.6,475.4 278.1,479.5 280.5,473.1 283.0,465.9 285.4,473.9" stroke="#A2142F"/><polyline points="137.6,406.5 140.0,395.6 142.5,392.7 144.9,400.3 147.4,402.4 149.8,406.5 152.3,411.9 154.7,420.6 157.2,423.5 159.6,421.3 162.0,418.5 164.5,416.9 166.9,415.2 169.4,415.7 171.8,415.0 174.3,417.7 176.7,419.6 179.2,422.6 181.6,425.7 184.1,426.3 186.5,428.1 189.0,427.7 191.4,429.4 193.9,429.9 196.3,428.1 198.7,428.2 201.2,430.9 203.6,431.0 206.1,435.3 208.5,435.5 211.0,438.2 213.4,440.5 215.9,441.6 218.3,440.8 220.8,441.9 223.2,442.6 225.7,441.1 228.1,442.3 230.6,444.7 233.0,448.3 235.4,451.6 237.9,452.4 240.3,453.3 242.8,453.8 245.2,453.2 247.7,453.3 250.1,456.9 252.6,459.4 255.0,461.8 257.5,462.6 259.9,460.9 262.4,460.8 264.8,460.7 267.3,461.5 269.7,461.2 272.1,469.4 274.6,475.6 277.0,473.2 279.5,480.8 281.9,477.0 284.4,480.4" stroke="#4DBEEE"/><polyline points="136.5,398.5 139.0,408.1 141.4,396.0 143.9,394.6 146.3,400.2 148.8,406.0 151.2,409.1 153.7,412.9 156.1,375.7 158.5,417.8 161.0,414.4 163.4,410.1 165.9,409.0 168.3,407.9 170.8,410.2 173.2,413.5 175.7,416.0 178.1,419.3 180.6,422.8 183.0,425.6 185.5,426.8 187.9,425.9 190.4,424.8 192.8,424.2 195.2,423.8 197.7,424.9 200.1,426.3 202.6,428.8 205.0,432.0 207.5,433.7 209.9,435.9 212.4,438.2 214.8,440.0 217.3,439.2 219.7,438.2 222.2,438.7 224.6,437.4 227.1,437.6 229.5,440.0 231.9,445.0 234.4,448.3 236.8,450.2 239.3,451.4 241.7,448.9 244.2,449.3 246.6,452.2 249.1,457.2 251.5,459.8 254.0,461.0 256.4,463.9 258.9,463.2 261.3,462.0 263.8,459.7 266.2,458.5 268.6,458.8 271.1,474.6 273.5,463.0 276.0,473.4 278.4,471.9 280.9,481.3 283.3,475.1" stroke="#77AC30"/><polyline points="135.5,399.8 137.9,401.0 140.4,395.6 142.8,403.7 145.3,406.8 147.7,412.0 150.2,413.0 152.6,413.2 155.0,411.1 157.5,413.2 159.9,412.9 162.4,411.4 164.8,409.4 167.3,410.1 169.7,413.7 172.2,417.9 174.6,419.3 177.1,420.0 179.5,421.8 182.0,422.9 184.4,424.5 186.9,424.7 189.3,426.5 191.7,424.9 194.2,423.1 196.6,424.4 199.1,426.6 201.5,428.1 204.0,429.8 206.4,430.9 208.9,433.9 211.3,437.9 213.8,438.4 216.2,438.2 218.7,437.3 221.1,437.8 223.6,437.8 226.0,439.6 228.4,439.2 230.9,444.0 233.3,446.9 235.8,449.9 238.2,450.0 240.7,453.3 243.1,451.5 245.6,453.3 248.0,452.7 250.5,456.1 252.9,460.3 255.4,460.2 257.8,459.8 260.3,458.6 262.7,453.8 265.1,456.3 267.6,456.8 270.0,455.9 272.5,475.6 274.9,458.2 277.4,467.1 279.8,451.4 282.3,466.9" stroke="#7E2F8E"/><polyline points="134.4,400.4 136.9,403.9 139.3,408.2 141.8,408.3 144.2,411.1 146.7,410.2 149.1,412.2 151.5,414.6 154.0,417.1 156.4,419.0 158.9,416.1 161.3,413.2 163.8,413.9 166.2,413.8 168.7,415.2 171.1,418.0 173.6,421.3 176.0,424.7 178.5,427.2 180.9,429.3 183.4,429.8 185.8,430.0 188.2,428.3 190.7,427.3 193.1,428.0 195.6,428.9 198.0,430.8 200.5,433.3 202.9,436.1 205.4,395.0 207.8,436.8 210.3,441.4 212.7,439.8 215.2,440.1 217.6,440.5 220.1,441.8 222.5,443.1 224.9,444.2 227.4,447.3 229.8,450.4 232.3,450.8 234.7,452.3 237.2,455.4 239.6,454.9 242.1,455.8 244.5,457.1 247.0,459.7 249.4,463.1 251.9,463.0 254.3,464.8 256.8,463.4 259.2,460.4 261.6,460.8 264.1,461.2 266.5,460.1 269.0,472.8 271.4,458.6 273.9,480.2 276.3,461.5 278.8,478.1 281.2,455.5" stroke="#EDB120"/><polyline points="133.4,401.7 135.8,402.8 138.3,403.5 140.7,403.3 143.2,405.1 145.6,409.0 148.0,411.0 150.5,413.8 152.9,416.5 155.4,413.9 157.8,412.7 160.3,410.9 162.7,412.2 165.2,409.9 167.6,410.9 170.1,416.2 172.5,421.7 175.0,423.6 177.4,426.4 179.9,426.0 182.3,425.3 184.7,425.1 187.2,425.9 189.6,427.2 192.1,427.2 194.5,429.1 197.0,427.9 199.4,430.0 201.9,432.2 204.3,435.1 206.8,437.9 209.2,438.4 211.7,439.4 214.1,439.0 216.6,439.5 219.0,438.9 221.4,438.7 223.9,441.5 226.3,443.2 228.8,444.4 231.2,448.3 233.7,448.0 236.1,451.2 238.6,451.5 241.0,454.6 243.5,456.9 245.9,458.9 248.4,460.9 250.8,464.3 253.3,465.2 255.7,463.4 258.1,462.3 260.6,458.2 263.0,457.7 265.5,457.0 267.9,473.4 270.4,472.2 272.8,466.9 275.3,482.0 277.7,478.1 280.2,482.2" stroke="#D95319"/><polyline points="132.3,415.2 134.8,401.6 137.2,398.7 139.7,400.5 142.1,408.2 144.5,411.0 147.0,411.7 149.4,413.6 151.9,415.0 154.3,413.6 156.8,414.4 159.2,413.4 161.7,413.1 164.1,414.4 166.6,415.5 169.0,419.0 171.5,419.9 173.9,423.9 176.4,424.6 178.8,426.3 181.2,426.3 183.7,425.7 186.1,425.3 188.6,425.7 191.0,426.6 193.5,397.4 195.9,429.9 198.4,432.7 200.8,435.3 203.3,436.6 205.7,437.2 208.2,436.5 210.6,436.5 213.1,438.8 215.5,438.6 217.9,441.5 220.4,443.8 222.8,444.2 225.3,446.3 227.7,447.0 230.2,449.6 232.6,452.0 235.1,451.7 237.5,451.9 240.0,456.3 242.4,458.4 244.9,460.5 247.3,463.6 249.8,465.3 252.2,466.5 254.6,464.8 257.1,463.1 259.5,460.3 262.0,459.1 264.4,458.4 266.9,478.3 269.3,471.2 271.8,475.9 274.2,476.0 276.7,482.1 279.1,481.3" stroke="#0072BD"/><polyline points="131.3,393.5 133.7,399.1 136.2,398.9 138.6,404.4 141.0,409.4 143.5,408.2 145.9,408.4 148.4,409.4 150.8,411.3 153.3,410.9 155.7,410.4 158.2,412.4 160.6,411.7 163.1,412.6 165.5,413.0 168.0,413.8 170.4,416.4 172.9,417.8 175.3,423.3 177.7,423.5 180.2,424.7 182.6,424.6 185.1,424.3 187.5,424.5 190.0,426.6 192.4,428.8 194.9,427.3 197.3,428.6 199.8,434.5 202.2,437.3 204.7,439.6 207.1,440.2 209.6,438.9 212.0,438.1 214.4,435.7 216.9,436.6 219.3,438.4 221.8,440.8 224.2,442.2 226.7,444.3 229.1,444.7 231.6,449.0 234.0,449.5 236.5,451.5 238.9,452.4 241.4,454.7 243.8,458.2 246.3,460.6 248.7,463.7 251.1,464.4 253.6,463.8 256.0,462.3 258.5,460.4 260.9,457.1 263.4,459.9 265.8,473.2 268.3,474.2 270.7,474.6 273.2,480.1 275.6,476.3 278.1,477.8" stroke="#A2142F"/><polyline points="130.2,399.1 132.7,396.3 135.1,397.7 137.5,405.6 140.0,412.3 142.4,415.5 144.9,418.5 147.3,420.3 149.8,419.0 152.2,418.4 154.7,418.2 157.1,417.5 159.6,420.7 162.0,423.5 164.5,424.1 166.9,425.2 169.4,424.6 171.8,425.3 174.2,427.9 176.7,428.4 179.1,429.3 181.6,431.1 184.0,430.3 186.5,430.7 188.9,431.3 191.4,432.4 193.8,434.2 196.3,436.1 198.7,437.8 201.2,440.5 203.6,443.3 206.1,444.7 208.5,442.4 210.9,443.0 213.4,441.7 215.8,442.9 218.3,445.3 220.7,444.1 223.2,443.9 225.6,446.6 228.1,450.1 230.5,451.8 233.0,455.3 235.4,457.6 237.9,458.9 240.3,462.4 242.8,462.3 245.2,464.2 247.6,466.6 250.1,467.9 252.5,469.6 255.0,471.1 257.4,468.2 259.9,469.3 262.3,468.5 264.8,459.7 267.2,475.9 269.7,478.4 272.1,453.4 274.6,457.6 277.0,469.2" stroke="#4DBEEE"/><polyline points="129.2,414.2 131.6,397.0 134.0,404.7 136.5,407.8 138.9,413.1 141.4,415.5 143.8,415.2 146.3,415.5 148.7,414.9 151.2,411.8 153.6,413.0 156.1,415.0 158.5,417.2 161.0,417.2 163.4,419.9 165.9,421.4 168.3,424.6 170.7,427.0 173.2,430.2 175.6,431.2 178.1,429.2 180.5,428.3 183.0,431.4 185.4,431.3 187.9,434.4 190.3,435.3 192.8,435.2 195.2,435.4 197.7,437.0 200.1,439.6 202.6,444.0 205.0,442.2 207.4,443.0 209.9,439.4 212.3,440.7 214.8,441.7 217.2,443.3 219.7,446.9 222.1,448.6 224.6,449.8 227.0,451.4 229.5,452.9 231.9,454.1 234.4,456.9 236.8,458.5 239.3,461.7 241.7,463.8 244.1,466.6 246.6,468.7 249.0,470.6 251.5,471.2 253.9,468.4 256.4,469.2 258.8,468.0 261.3,467.1 263.7,480.2 266.2,478.0 268.6,482.3 271.1,474.0 273.5,475.4 276.0,475.5" stroke="#77AC30"/><polyline points="128.1,406.5 130.5,397.1 133.0,406.7 135.4,409.2 137.9,413.1 140.3,413.8 142.8,411.3 145.2,411.2 147.7,411.3 150.1,412.7 152.6,412.2 155.0,411.6 157.5,412.9 159.9,417.0 162.3,420.7 164.8,422.7 167.2,424.4 169.7,427.4 172.1,429.4 174.6,431.2 177.0,431.9 179.5,431.6 181.9,429.6 184.4,432.2 186.8,431.1 189.3,433.4 191.7,434.7 194.2,435.2 196.6,436.5 199.0,440.3 201.5,441.0 203.9,440.6 206.4,439.9 208.8,439.2 211.3,438.4 213.7,441.7 216.2,443.2 218.6,445.7 221.1,445.1 223.5,447.1 226.0,448.1 228.4,449.4 230.9,452.5 233.3,453.4 235.7,455.5 238.2,456.2 240.6,460.4 243.1,461.0 245.5,466.4 248.0,469.9 250.4,470.9 252.9,469.4 255.3,467.3 257.8,465.8 260.2,465.9 262.7,478.3 265.1,465.5 267.6,475.4 270.0,468.5 272.4,477.3 274.9,481.5" stroke="#7E2F8E"/><polyline points="127.0,413.2 129.5,397.8 131.9,402.7 134.4,400.7 136.8,402.8 139.3,405.0 141.7,407.0 144.2,411.8 146.6,411.0 149.1,411.0 151.5,412.7 154.0,414.0 156.4,418.5 158.8,421.9 161.3,423.9 163.7,424.8 166.2,426.1 168.6,426.4 171.1,426.1 173.5,427.4 176.0,429.5 178.4,430.9 180.9,431.0 183.3,430.1 185.8,431.9 188.2,432.5 190.7,433.7 193.1,433.7 195.5,434.9 198.0,437.8 200.4,439.2 202.9,438.9 205.3,437.3 207.8,437.6 210.2,437.4 212.7,440.5 215.1,442.8 217.6,445.1 220.0,444.5 222.5,446.1 224.9,448.2 227.4,450.9 229.8,454.0 232.2,455.5 234.7,457.0 237.1,457.6 239.6,459.6 242.0,459.3 244.5,462.2 246.9,465.0 249.4,465.8 251.8,464.1 254.3,464.1 256.7,464.9 259.2,464.2 261.6,456.0 264.1,481.1 266.5,468.0 268.9,482.5 271.4,466.9 273.8,481.4" stroke="#EDB120"/><polyline points="126.0,362.9 128.4,401.4 130.9,402.5 133.3,403.2 135.8,404.4 138.2,404.9 140.7,405.8 143.1,408.5 145.6,411.5 148.0,413.3 150.5,414.8 152.9,419.0 155.3,422.4 157.8,427.4 160.2,428.6 162.7,427.3 165.1,427.4 167.6,427.7 170.0,429.3 172.5,431.4 174.9,433.2 177.4,434.1 179.8,435.3 182.3,435.2 184.7,437.1 187.2,437.2 189.6,440.1 192.0,440.8 194.5,441.3 196.9,442.3 199.4,440.2 201.8,440.6 204.3,441.3 206.7,443.3 209.2,444.5 211.6,447.4 214.1,447.6 216.5,446.3 219.0,446.3 221.4,446.3 223.9,449.6 226.3,452.5 228.7,452.7 231.2,457.3 233.6,456.8 236.1,458.6 238.5,460.0 241.0,461.2 243.4,463.9 245.9,465.2 248.3,467.2 250.8,467.4 253.2,468.8 255.7,468.5 258.1,467.8 260.6,476.4 263.0,477.9 265.4,474.6 267.9,479.6 270.3,482.0 272.8,459.4" stroke="#D95319"/><polyline points="124.9,411.2 127.4,415.3 129.8,412.0 132.3,412.8 134.7,410.7 137.2,409.5 139.6,408.8 142.1,410.8 144.5,414.4 147.0,418.9 149.4,422.7 151.8,425.0 154.3,425.6 156.7,427.2 159.2,428.9 161.6,428.4 164.1,429.6 166.5,429.1 169.0,430.1 171.4,431.7 173.9,435.0 176.3,436.9 178.8,435.9 181.2,436.4 183.7,440.8 186.1,440.6 188.5,442.1 191.0,443.4 193.4,444.0 195.9,445.2 198.3,446.2 200.8,442.5 203.2,443.6 205.7,444.4 208.1,443.7 210.6,446.2 213.0,446.8 215.5,450.4 217.9,452.9 220.4,453.5 222.8,453.9 225.2,454.9 227.7,457.1 230.1,461.0 232.6,462.7 235.0,461.7 237.5,465.3 239.9,465.4 242.4,468.5 244.8,469.8 247.3,470.6 249.7,470.1 252.2,468.3 254.6,469.5 257.1,470.4 259.5,478.4 261.9,473.8 264.4,483.0 266.8,483.2 269.3,483.1 271.7,476.9" stroke="#0072BD"/><polyline points="123.9,408.1 126.3,410.2 128.8,405.9 131.2,413.0 133.7,410.8 136.1,413.2 138.6,412.6 141.0,413.3 143.5,416.6 145.9,417.7 148.3,418.2 150.8,421.1 153.2,423.0 155.7,426.5 158.1,428.6 160.6,427.5 163.0,428.7 165.5,429.0 167.9,430.9 170.4,431.5 172.8,435.6 175.3,436.3 177.7,438.4 180.2,438.3 182.6,438.9 185.0,439.3 187.5,441.4 189.9,441.8 192.4,442.7 194.8,442.5 197.3,439.8 199.7,442.8 202.2,439.7 204.6,443.0 207.1,446.0 209.5,446.7 212.0,449.5 214.4,451.6 216.9,453.2 219.3,451.8 221.7,452.7 224.2,453.7 226.6,455.8 229.1,457.2 231.5,459.5 234.0,461.6 236.4,463.3 238.9,464.6 241.3,465.2 243.8,468.8 246.2,470.5 248.7,471.6 251.1,468.6 253.6,467.9 256.0,468.9 258.4,476.3 260.9,458.4 263.3,473.6 265.8,475.5 268.2,475.4 270.7,456.9" stroke="#A2142F"/><polyline points="122.8,404.5 125.3,403.6 127.7,407.7 130.2,407.8 132.6,409.1 135.1,410.4 137.5,411.3 140.0,412.6 142.4,416.8 144.8,418.1 147.3,421.6 149.7,423.5 152.2,427.2 154.6,429.8 157.1,431.5 159.5,431.3 162.0,431.1 164.4,432.2 166.9,431.8 169.3,434.4 171.8,437.6 174.2,439.9 176.7,439.2 179.1,439.9 181.5,441.4 184.0,441.9 186.4,442.6 188.9,443.1 191.3,443.1 193.8,443.7 196.2,442.1 198.7,441.8 201.1,444.0 203.6,445.8 206.0,447.5 208.5,452.2 210.9,454.1 213.4,454.5 215.8,456.1 218.2,455.5 220.7,455.1 223.1,454.9 225.6,457.8 228.0,459.9 230.5,459.9 232.9,460.6 235.4,460.8 237.8,464.3 240.3,467.2 242.7,471.1 245.2,470.1 247.6,468.6 250.1,469.9 252.5,470.3 254.9,470.7 257.4,474.8 259.8,473.4 262.3,475.2 264.7,456.9 267.2,468.4 269.6,478.0" stroke="#4DBEEE"/><polyline points="121.8,402.1 124.2,403.5 126.7,402.8 129.1,404.6 131.6,406.1 134.0,407.2 136.5,408.0 138.9,409.8 141.3,412.3 143.8,414.5 146.2,419.5 148.7,420.3 151.1,422.9 153.6,425.0 156.0,426.3 158.5,426.4 160.9,425.7 163.4,423.7 165.8,425.4 168.3,426.3 170.7,429.4 173.2,429.6 175.6,430.5 178.0,432.4 180.5,434.8 182.9,436.5 185.4,438.4 187.8,436.7 190.3,438.9 192.7,439.0 195.2,438.9 197.6,439.5 200.1,441.7 202.5,442.0 205.0,445.5 207.4,447.0 209.9,449.9 212.3,450.8 214.7,450.5 217.2,449.0 219.6,449.3 222.1,448.4 224.5,450.2 227.0,453.4 229.4,456.3 231.9,458.5 234.3,462.0 236.8,463.0 239.2,462.9 241.7,464.7 244.1,467.8 246.6,466.7 249.0,466.1 251.4,463.5 253.9,463.4 256.3,478.5 258.8,475.6 261.2,482.2 263.7,474.9 266.1,471.8 268.6,484.3" stroke="#77AC30"/><polyline points="120.7,395.2 123.2,402.4 125.6,396.1 128.1,399.1 130.5,403.3 133.0,403.6 135.4,404.9 137.8,406.3 140.3,410.9 142.7,416.3 145.2,419.5 147.6,422.9 150.1,422.7 152.5,424.2 155.0,426.2 157.4,425.6 159.9,429.0 162.3,428.2 164.8,427.7 167.2,430.5 169.7,430.7 172.1,432.5 174.5,434.4 177.0,435.3 179.4,434.6 181.9,437.6 184.3,437.6 186.8,438.9 189.2,436.4 191.7,435.7 194.1,436.2 196.6,438.2 199.0,442.6 201.5,443.2 203.9,445.4 206.4,446.9 208.8,451.3 211.2,451.0 213.7,450.7 216.1,449.3 218.6,447.7 221.0,448.5 223.5,452.7 225.9,457.7 228.4,458.4 230.8,458.2 233.3,460.3 235.7,463.7 238.2,465.6 240.6,466.1 243.1,465.3 245.5,465.3 247.9,464.8 250.4,463.2 252.8,465.4 255.3,472.8 257.7,455.2 260.2,454.1 262.6,479.4 265.1,481.4 267.5,480.8" stroke="#7E2F8E"/><polyline points="119.7,404.9 122.1,406.1 124.6,409.5 127.0,405.0 129.5,404.8 131.9,404.6 134.3,405.3 136.8,410.1 139.2,415.2 141.7,419.2 144.1,423.6 146.6,424.6 149.0,427.5 151.5,430.0 153.9,433.9 156.4,435.0 158.8,435.4 161.3,431.9 163.7,430.7 166.2,434.3 168.6,434.4 171.0,434.6 173.5,433.0 175.9,435.2 178.4,437.3 180.8,437.6 183.3,440.1 185.7,439.0 188.2,438.5 190.6,439.2 193.1,439.2 195.5,441.4 198.0,442.7 200.4,443.3 202.9,446.6 205.3,448.1 207.7,451.6 210.2,453.0 212.6,453.6 215.1,452.2 217.5,449.0 220.0,450.5 222.4,452.2 224.9,456.3 227.3,458.8 229.8,459.3 232.2,462.8 234.7,464.8 237.1,464.6 239.6,466.3 242.0,465.8 244.4,467.0 246.9,465.6 249.3,466.7 251.8,465.7 254.2,468.0 256.7,473.8 259.1,460.7 261.6,471.8 264.0,478.4 266.5,487.5" stroke="#EDB120"/><polyline points="118.6,397.4 121.1,397.3 123.5,402.1 126.0,399.4 128.4,398.7 130.8,399.4 133.3,400.3 135.7,405.5 138.2,411.3 140.6,416.7 143.1,421.6 145.5,421.9 148.0,423.0 150.4,424.3 152.9,427.1 155.3,430.5 157.8,430.7 160.2,430.6 162.7,430.4 165.1,430.9 167.5,430.6 170.0,431.7 172.4,431.8 174.9,432.0 177.3,435.5 179.8,437.8 182.2,436.8 184.7,436.1 187.1,436.4 189.6,438.3 192.0,437.9 194.5,441.2 196.9,443.7 199.4,444.9 201.8,446.4 204.2,448.4 206.7,448.7 209.1,453.0 211.6,451.8 214.0,452.9 216.5,450.8 218.9,451.8 221.4,455.3 223.8,455.8 226.3,457.6 228.7,460.7 231.2,462.5 233.6,463.3 236.1,466.4 238.5,466.5 240.9,464.6 243.4,463.2 245.8,464.0 248.3,463.7 250.7,463.7 253.2,458.9 255.6,475.4 258.1,482.9 260.5,482.3 263.0,486.9 265.4,481.7" stroke="#D95319"/><polyline points="117.6,405.1 120.0,402.4 122.4,393.5 124.9,400.5 127.3,399.9 129.8,403.7 132.2,409.1 134.7,414.1 137.1,418.6 139.6,424.5 142.0,426.4 144.5,424.3 146.9,394.6 149.4,427.1 151.8,430.4 154.3,431.7 156.7,431.6 159.1,429.2 161.6,428.7 164.0,431.4 166.5,432.8 168.9,433.5 171.4,434.4 173.8,436.5 176.3,439.5 178.7,441.1 181.2,441.2 183.6,439.6 186.1,437.4 188.5,439.2 191.0,441.0 193.4,443.0 195.8,443.7 198.3,444.6 200.7,448.1 203.2,449.7 205.6,454.1 208.1,456.0 210.5,456.6 213.0,457.5 215.4,456.6 217.9,454.9 220.3,455.3 222.8,458.0 225.2,461.1 227.7,462.6 230.1,464.6 232.5,466.8 235.0,467.7 237.4,469.2 239.9,469.9 242.3,470.7 244.8,471.7 247.2,469.9 249.7,465.5 252.1,457.4 254.6,475.9 257.0,470.5 259.5,479.7 261.9,486.9 264.4,482.3" stroke="#0072BD"/><polyline points="116.5,402.5 118.9,401.0 121.4,406.5 123.8,403.6 126.3,404.6 128.7,407.5 131.2,410.5 133.6,413.3 136.1,416.1 138.5,417.7 141.0,419.2 143.4,422.6 145.9,423.0 148.3,427.1 150.8,429.2 153.2,431.5 155.6,433.7 158.1,433.0 160.5,433.6 163.0,435.2 165.4,434.3 167.9,435.3 170.3,433.2 172.8,435.3 175.2,436.1 177.7,438.7 180.1,438.3 182.6,435.1 185.0,436.1 187.5,434.9 189.9,440.4 192.3,441.5 194.8,444.5 197.2,444.1 199.7,444.9 202.1,447.1 204.6,449.4 207.0,454.2 209.5,457.5 211.9,457.0 214.4,455.8 216.8,453.7 219.3,456.7 221.7,455.6 224.2,458.2 226.6,460.1 229.0,464.2 231.5,466.5 233.9,469.4 236.4,471.2 238.8,469.7 241.3,467.3 243.7,467.2 246.2,466.1 248.6,464.5 251.1,479.0 253.5,474.6 256.0,467.1 258.4,485.2 260.9,479.5 263.3,485.9" stroke="#A2142F"/><polyline points="115.4,410.4 117.9,412.0 120.3,400.4 122.8,399.5 125.2,403.0 127.7,407.7 130.1,408.7 132.6,412.5 135.0,415.7 137.5,420.6 139.9,422.5 142.4,423.3 144.8,422.6 147.3,422.3 149.7,424.3 152.1,427.8 154.6,430.8 157.0,433.2 159.5,434.5 161.9,433.2 164.4,434.4 166.8,435.7 169.3,434.6 171.7,436.9 174.2,439.6 176.6,439.3 179.1,438.8 181.5,437.1 184.0,434.7 186.4,436.1 188.8,439.3 191.3,440.7 193.7,444.6 196.2,446.9 198.6,447.7 201.1,451.9 203.5,453.8 206.0,455.0 208.4,456.9 210.9,457.1 213.3,457.1 215.8,456.7 218.2,457.4 220.7,461.4 223.1,463.4 225.5,467.2 228.0,466.4 230.4,467.5 232.9,470.1 235.3,472.6 237.8,471.2 240.2,469.1 242.7,468.6 245.1,468.2 247.6,466.6 250.0,475.0 252.5,476.2 254.9,481.4 257.4,476.8 259.8,457.3 262.2,479.4" stroke="#4DBEEE"/><polyline points="114.4,408.6 116.8,404.4 119.3,405.4 121.7,402.0 124.2,404.4 126.6,408.7 129.1,410.6 131.5,413.0 134.0,419.9 136.4,425.3 138.9,424.3 141.3,422.7 143.8,423.3 146.2,424.0 148.6,425.9 151.1,430.0 153.5,431.6 156.0,435.3 158.4,434.8 160.9,431.8 163.3,433.2 165.8,434.6 168.2,436.1 170.7,434.2 173.1,437.5 175.6,438.3 178.0,436.6 180.5,436.5 182.9,435.4 185.3,436.6 187.8,438.9 190.2,441.2 192.7,444.5 195.1,446.0 197.6,446.6 200.0,447.8 202.5,450.9 204.9,454.9 207.4,459.2 209.8,458.8 212.3,458.0 214.7,461.0 217.2,460.7 219.6,462.9 222.0,465.4 224.5,463.6 226.9,465.1 229.4,467.1 231.8,471.0 234.3,472.0 236.7,472.9 239.2,470.8 241.6,468.5 244.1,468.6 246.5,464.7 249.0,474.6 251.4,478.0 253.9,483.6 256.3,482.7 258.7,483.2 261.2,483.1" stroke="#77AC30"/><polyline points="113.3,408.3 115.8,403.9 118.2,407.3 120.7,405.2 123.1,408.9 125.6,408.6 128.0,411.1 130.5,414.9 132.9,419.0 135.4,421.4 137.8,421.3 140.3,420.4 142.7,420.1 145.1,421.3 147.6,422.6 150.0,426.7 152.5,428.9 154.9,431.5 157.4,432.3 159.8,434.6 162.3,431.0 164.7,431.9 167.2,432.9 169.6,433.5 172.1,433.4 174.5,435.6 177.0,435.4 179.4,434.9 181.8,433.8 184.3,434.1 186.7,437.4 189.2,440.3 191.6,442.4 194.1,444.3 196.5,444.5 199.0,445.6 201.4,446.6 203.9,452.4 206.3,454.8 208.8,457.4 211.2,458.3 213.7,458.1 216.1,459.6 218.5,460.4 221.0,460.8 223.4,463.0 225.9,462.3 228.3,466.5 230.8,468.6 233.2,471.3 235.7,469.2 238.1,467.1 240.6,467.1 243.0,466.4 245.5,465.3 247.9,475.5 250.4,484.3 252.8,477.9 255.2,460.6 257.7,486.1 260.1,480.8" stroke="#7E2F8E"/><polyline points="112.3,422.6 114.7,418.2 117.2,415.5 119.6,411.2 122.1,408.7 124.5,413.2 127.0,417.7 129.4,423.4 131.9,423.9 134.3,425.1 136.8,424.8 139.2,423.9 141.6,424.1 144.1,425.1 146.5,428.1 149.0,432.0 151.4,435.6 153.9,433.9 156.3,435.2 158.8,432.4 161.2,431.4 163.7,432.2 166.1,433.2 168.6,433.0 171.0,434.5 173.5,437.0 175.9,437.2 178.3,435.6 180.8,435.8 183.2,438.9 185.7,439.2 188.1,442.9 190.6,444.1 193.0,445.2 195.5,446.3 197.9,448.7 200.4,452.0 202.8,454.1 205.3,457.4 207.7,458.6 210.2,459.2 212.6,461.2 215.0,460.9 217.5,463.4 219.9,464.3 222.4,463.6 224.8,465.0 227.3,470.2 229.7,476.7 232.2,476.4 234.6,474.8 237.1,471.7 239.5,469.8 242.0,468.2 244.4,467.1 246.9,481.7 249.3,479.2 251.7,478.2 254.2,459.1 256.6,456.7 259.1,487.5" stroke="#EDB120"/><polyline points="111.2,422.6 113.7,413.4 116.1,416.3 118.6,415.1 121.0,415.4 123.5,414.8 125.9,417.3 128.4,417.5 130.8,421.1 133.3,423.5 135.7,422.4 138.1,422.8 140.6,422.3 143.0,424.1 145.5,427.2 147.9,430.7 150.4,433.7 152.8,435.8 155.3,434.9 157.7,436.2 160.2,435.6 162.6,435.7 165.1,436.8 167.5,436.9 170.0,437.1 172.4,437.7 174.8,439.5 177.3,437.5 179.7,439.2 182.2,442.4 184.6,443.6 187.1,445.6 189.5,445.1 192.0,446.6 194.4,448.4 196.9,449.4 199.3,451.0 201.8,455.7 204.2,458.7 206.7,460.0 209.1,461.4 211.5,463.3 214.0,465.3 216.4,465.7 218.9,463.7 221.3,463.0 223.8,466.2 226.2,472.3 228.7,475.8 231.1,476.3 233.6,475.4 236.0,471.8 238.5,472.0 240.9,470.8 243.4,468.1 245.8,479.6 248.2,477.4 250.7,470.7 253.1,481.2 255.6,482.6 258.0,487.6" stroke="#D95319"/><polyline points="110.2,421.9 112.6,425.5 115.1,423.3 117.5,421.6 120.0,419.8 122.4,420.3 124.9,422.1 127.3,423.2 129.8,426.4 132.2,428.0 134.6,429.2 137.1,430.0 139.5,430.1 142.0,431.6 144.4,434.2 146.9,438.6 149.3,441.6 151.8,444.2 154.2,442.8 156.7,439.8 159.1,438.9 161.6,438.4 164.0,438.0 166.5,440.7 168.9,440.9 171.3,441.9 173.8,442.3 176.2,443.5 178.7,445.4 181.1,446.3 183.6,450.6 186.0,452.4 188.5,454.1 190.9,453.0 193.4,453.9 195.8,455.2 198.3,457.6 200.7,462.1 203.2,467.0 205.6,468.8 208.0,469.0 210.5,471.1 212.9,473.6 215.4,471.0 217.8,470.9 220.3,469.2 222.7,471.6 225.2,475.2 227.6,480.1 230.1,479.5 232.5,477.6 235.0,474.4 237.4,474.7 239.9,471.9 242.3,473.2 244.7,479.3 247.2,483.6 249.6,467.0 252.1,478.8 254.5,479.1 257.0,484.5" stroke="#0072BD"/><polyline points="109.1,428.3 111.6,423.2 114.0,423.2 116.5,423.9 118.9,424.6 121.4,421.4 123.8,424.7 126.3,425.7 128.7,429.8 131.1,431.0 133.6,431.6 136.0,430.6 138.5,429.0 140.9,429.0 143.4,432.1 145.8,436.2 148.3,439.1 150.7,439.1 153.2,437.6 155.6,437.1 158.1,438.4 160.5,436.9 163.0,437.5 165.4,437.3 167.8,438.1 170.3,439.6 172.7,440.6 175.2,443.3 177.6,445.5 180.1,448.8 182.5,449.9 185.0,454.4 187.4,453.9 189.9,453.3 192.3,453.9 194.8,455.4 197.2,458.7 199.7,459.2 202.1,461.9 204.5,464.4 207.0,466.5 209.4,469.5 211.9,471.4 214.3,472.4 216.8,471.0 219.2,470.5 221.7,471.2 224.1,475.5 226.6,477.6 229.0,478.4 231.5,477.9 233.9,476.1 236.4,475.5 238.8,474.8 241.2,472.8 243.7,469.1 246.1,478.8 248.6,481.9 251.0,477.5 253.5,483.4 255.9,485.0" stroke="#A2142F"/><polyline points="108.1,419.1 110.5,416.3 113.0,415.1 115.4,420.3 117.9,414.5 120.3,414.0 122.8,414.0 125.2,414.8 127.6,417.8 130.1,420.3 132.5,422.3 135.0,422.9 137.4,425.5 139.9,427.7 142.3,432.4 144.8,432.9 147.2,434.2 149.7,435.8 152.1,435.7 154.6,434.8 157.0,432.7 159.5,431.6 161.9,432.1 164.3,434.4 166.8,432.5 169.2,434.4 171.7,435.9 174.1,439.6 176.6,442.3 179.0,444.7 181.5,444.0 183.9,445.4 186.4,445.2 188.8,447.3 191.3,448.2 193.7,450.5 196.2,452.2 198.6,454.9 201.0,457.4 203.5,457.7 205.9,461.5 208.4,461.9 210.8,462.9 213.3,459.7 215.7,460.7 218.2,463.1 220.6,463.7 223.1,469.6 225.5,471.2 228.0,473.7 230.4,471.9 232.9,470.8 235.3,469.9 237.7,469.7 240.2,467.9 242.6,479.2 245.1,480.5 247.5,464.9 250.0,483.8 252.4,485.6 254.9,461.4" stroke="#4DBEEE"/><polyline points="107.0,367.1 109.5,419.9 111.9,422.5 114.4,426.2 116.8,422.9 119.2,420.7 121.7,423.8 124.1,424.8 126.6,426.8 129.0,426.1 131.5,426.1 133.9,427.7 136.4,430.6 138.8,434.2 141.3,437.4 143.7,439.1 146.2,441.4 148.6,442.2 151.1,439.7 153.5,441.2 155.9,438.6 158.4,438.6 160.8,438.9 163.3,441.4 165.7,444.0 168.2,446.6 170.6,447.2 173.1,448.7 175.5,450.0 178.0,450.9 180.4,452.8 182.9,455.1 185.3,454.2 187.8,454.3 190.2,455.7 192.6,457.7 195.1,460.0 197.5,461.6 200.0,462.4 202.4,464.9 204.9,466.2 207.3,465.6 209.8,466.0 212.2,465.5 214.7,464.1 217.1,465.1 219.6,468.2 222.0,472.8 224.5,475.8 226.9,477.9 229.3,475.9 231.8,474.4 234.2,475.1 236.7,474.3 239.1,473.0 241.6,463.6 244.0,478.2 246.5,480.2 248.9,481.3 251.4,462.7 253.8,487.2" stroke="#77AC30"/><polyline points="106.0,413.0 108.4,421.1 110.9,419.0 113.3,420.0 115.7,420.5 118.2,418.5 120.6,423.6 123.1,425.6 125.5,428.2 128.0,428.2 130.4,426.8 132.9,428.5 135.3,431.5 137.8,434.4 140.2,436.4 142.7,437.9 145.1,437.4 147.6,438.4 150.0,437.3 152.4,437.0 154.9,436.6 157.3,437.8 159.8,439.0 162.2,440.4 164.7,442.1 167.1,443.5 169.6,444.5 172.0,446.3 174.5,449.5 176.9,451.5 179.4,452.8 181.8,455.1 184.3,455.3 186.7,455.9 189.1,457.1 191.6,459.0 194.0,460.2 196.5,458.8 198.9,458.7 201.4,459.7 203.8,463.5 206.3,466.1 208.7,464.8 211.2,465.4 213.6,464.4 216.1,464.5 218.5,466.6 221.0,471.7 223.4,473.1 225.8,474.8 228.3,472.3 230.7,470.9 233.2,472.2 235.6,472.9 238.1,473.6 240.5,460.0 243.0,472.8 245.4,487.5 247.9,486.3 250.3,485.6 252.8,488.9" stroke="#7E2F8E"/><polyline points="104.9,414.5 107.4,417.6 109.8,416.7 112.2,420.7 114.7,417.6 117.1,421.3 119.6,423.2 122.0,426.5 124.5,428.6 126.9,429.5 129.4,431.1 131.8,431.0 134.3,433.8 136.7,434.6 139.2,436.9 141.6,438.6 144.1,439.9 146.5,439.0 148.9,440.3 151.4,439.1 153.8,438.7 156.3,440.4 158.7,440.9 161.2,443.2 163.6,445.2 166.1,447.1 168.5,448.2 171.0,452.0 173.4,454.6 175.9,456.9 178.3,458.7 180.8,458.3 183.2,458.2 185.6,456.3 188.1,460.4 190.5,460.2 193.0,460.0 195.4,461.2 197.9,460.9 200.3,460.5 202.8,463.0 205.2,465.5 207.7,464.5 210.1,463.7 212.6,464.8 215.0,466.0 217.5,467.1 219.9,470.6 222.3,475.0 224.8,476.5 227.2,474.6 229.7,474.1 232.1,474.4 234.6,473.5 237.0,473.1 239.5,459.3 241.9,484.8 244.4,471.8 246.8,488.4 249.3,483.9 251.7,474.2" stroke="#EDB120"/><polyline points="103.9,417.1 106.3,408.4 108.7,414.1 111.2,411.9 113.6,412.6 116.1,415.3 118.5,416.5 121.0,419.9 123.4,421.5 125.9,424.6 128.3,428.1 130.8,430.8 133.2,433.3 135.7,433.4 138.1,436.8 140.6,434.6 143.0,436.1 145.4,434.5 147.9,433.3 150.3,432.9 152.8,432.8 155.2,435.9 157.7,438.7 160.1,440.2 162.6,442.9 165.0,442.2 167.5,443.4 169.9,444.3 172.4,445.2 174.8,447.7 177.3,448.7 179.7,452.2 182.1,451.8 184.6,450.5 187.0,450.0 189.5,451.5 191.9,455.1 194.4,456.7 196.8,458.6 199.3,458.2 201.7,458.7 204.2,457.5 206.6,457.4 209.1,455.8 211.5,456.1 214.0,457.2 216.4,461.4 218.8,467.1 221.3,469.4 223.7,470.3 226.2,469.8 228.6,467.2 231.1,468.0 233.5,467.5 236.0,472.0 238.4,479.3 240.9,479.4 243.3,486.0 245.8,481.2 248.2,484.0 250.7,482.8" stroke="#D95319"/><polyline points="102.8,408.4 105.2,412.5 107.7,416.4 110.1,423.8 112.6,427.6 115.0,428.1 117.5,428.5 119.9,430.3 122.4,432.2 124.8,433.9 127.3,433.7 129.7,436.0 132.2,382.8 134.6,436.3 137.1,436.3 139.5,438.8 141.9,440.6 144.4,440.7 146.8,439.6 149.3,438.7 151.7,440.7 154.2,440.0 156.6,442.8 159.1,447.6 161.5,448.8 164.0,448.2 166.4,449.5 168.9,449.6 171.3,451.4 173.8,454.6 176.2,456.0 178.6,458.1 181.1,460.5 183.5,460.7 186.0,460.0 188.4,461.6 190.9,459.9 193.3,460.7 195.8,461.5 198.2,461.8 200.7,463.7 203.1,464.3 205.6,465.3 208.0,463.4 210.5,463.1 212.9,463.7 215.3,468.5 217.8,470.3 220.2,471.6 222.7,472.2 225.1,470.6 227.6,470.3 230.0,471.9 232.5,472.2 234.9,474.1 237.4,481.6 239.8,480.7 242.3,459.6 244.7,489.1 247.2,480.5 249.6,486.9" stroke="#0072BD"/><polyline points="101.7,417.0 104.2,418.6 106.6,412.5 109.1,416.4 111.5,420.2 114.0,425.4 116.4,432.5 118.9,436.4 121.3,437.3 123.8,436.8 126.2,436.9 128.7,436.8 131.1,439.4 133.6,438.5 136.0,442.1 138.4,443.5 140.9,442.9 143.3,442.8 145.8,444.7 148.2,445.6 150.7,445.9 153.1,447.9 155.6,452.3 158.0,455.6 160.5,457.2 162.9,456.8 165.4,456.2 167.8,455.0 170.3,458.4 172.7,457.8 175.1,460.4 177.6,461.9 180.0,460.9 182.5,459.4 184.9,458.9 187.4,462.7 189.8,464.3 192.3,467.7 194.7,468.1 197.2,469.1 199.6,469.3 202.1,468.4 204.5,467.2 207.0,468.4 209.4,469.6 211.8,471.1 214.3,474.5 216.7,476.3 219.2,477.8 221.6,477.9 224.1,477.4 226.5,476.9 229.0,476.8 231.4,477.1 233.9,478.5 236.3,482.0 238.8,483.9 241.2,466.6 243.7,485.2 246.1,485.7 248.5,487.6" stroke="#A2142F"/><polyline points="100.7,415.6 103.1,411.0 105.6,411.8 108.0,413.0 110.5,421.0 112.9,427.5 115.4,431.2 117.8,433.2 120.3,432.7 122.7,432.5 125.2,435.3 127.6,438.3 130.1,438.8 132.5,439.3 134.9,437.4 137.4,439.8 139.8,440.5 142.3,441.9 144.7,441.9 147.2,442.3 149.6,444.0 152.1,446.6 154.5,452.2 157.0,454.9 159.4,457.3 161.9,456.5 164.3,455.4 166.8,453.6 169.2,454.3 171.6,454.6 174.1,457.1 176.5,458.8 179.0,459.7 181.4,459.7 183.9,459.2 186.3,461.3 188.8,463.8 191.2,465.2 193.7,465.1 196.1,466.5 198.6,468.2 201.0,470.3 203.5,467.0 205.9,467.4 208.3,466.7 210.8,467.8 213.2,469.4 215.7,473.1 218.1,476.1 220.6,476.9 223.0,475.6 225.5,477.4 227.9,476.8 230.4,476.3 232.8,474.2 235.3,482.0 237.7,482.4 240.2,467.6 242.6,481.8 245.0,464.8 247.5,485.7" stroke="#4DBEEE"/><polyline points="99.6,414.8 102.1,405.1 104.5,409.2 107.0,413.0 109.4,417.3 111.9,424.3 114.3,430.9 116.8,433.5 119.2,435.4 121.7,437.3 124.1,437.3 126.6,437.9 129.0,434.6 131.4,432.6 133.9,433.3 136.3,435.7 138.8,436.8 141.2,436.3 143.7,437.0 146.1,437.8 148.6,440.9 151.0,443.6 153.5,448.3 155.9,451.0 158.4,451.9 160.8,453.1 163.3,451.8 165.7,450.0 168.1,449.1 170.6,451.0 173.0,453.7 175.5,455.0 177.9,457.0 180.4,457.1 182.8,457.0 185.3,459.4 187.7,458.9 190.2,459.3 192.6,458.7 195.1,461.2 197.5,464.2 200.0,465.1 202.4,465.1 204.8,463.6 207.3,463.9 209.7,465.0 212.2,468.1 214.6,469.8 217.1,473.3 219.5,471.8 222.0,469.5 224.4,469.2 226.9,472.0 229.3,472.9 231.8,476.3 234.2,481.0 236.7,458.8 239.1,482.3 241.5,487.9 244.0,481.3 246.4,486.2" stroke="#77AC30"/><polyline points="98.6,416.7 101.0,410.0 103.5,414.6 105.9,419.0 108.4,419.1 110.8,428.2 113.3,433.1 115.7,434.2 118.2,435.4 120.6,435.8 123.1,434.8 125.5,436.6 127.9,437.3 130.4,435.2 132.8,435.8 135.3,436.6 137.7,439.2 140.2,441.2 142.6,442.7 145.1,442.7 147.5,445.9 150.0,448.4 152.4,451.0 154.9,450.3 157.3,451.7 159.8,451.2 162.2,452.7 164.6,452.5 167.1,453.5 169.5,455.6 172.0,457.2 174.4,459.2 176.9,457.2 179.3,457.4 181.8,456.3 184.2,458.0 186.7,459.3 189.1,461.9 191.6,462.6 194.0,466.0 196.5,465.5 198.9,466.2 201.3,465.0 203.8,462.6 206.2,465.6 208.7,465.8 211.1,468.0 213.6,471.9 216.0,473.9 218.5,475.4 220.9,475.9 223.4,472.1 225.8,472.9 228.3,473.5 230.7,474.2 233.2,469.7 235.6,483.7 238.0,482.5 240.5,485.3 242.9,486.6 245.4,485.7" stroke="#7E2F8E"/><polyline points="97.5,404.4 100.0,405.0 102.4,407.9 104.9,409.5 107.3,418.9 109.8,428.2 112.2,434.6 114.7,435.8 117.1,436.8 119.6,435.2 122.0,436.6 124.4,435.7 126.9,436.3 129.3,436.9 131.8,436.4 134.2,437.0 136.7,437.6 139.1,437.7 141.6,438.7 144.0,440.9 146.5,441.7 148.9,447.9 151.4,449.8 153.8,451.5 156.3,451.6 158.7,450.4 161.1,449.3 163.6,449.7 166.0,449.4 168.5,450.9 170.9,456.8 173.4,458.7 175.8,462.2 178.3,460.9 180.7,459.8 183.2,458.9 185.6,460.6 188.1,461.4 190.5,462.4 193.0,462.6 195.4,464.3 197.8,465.4 200.3,464.9 202.7,466.1 205.2,466.9 207.6,468.3 210.1,471.4 212.5,473.5 215.0,476.6 217.4,477.1 219.9,474.9 222.3,472.6 224.8,472.2 227.2,474.0 229.7,474.4 232.1,484.4 234.5,480.6 237.0,481.7 239.4,489.9 241.9,467.3 244.3,475.5" stroke="#EDB120"/><polyline points="96.5,403.6 98.9,415.5 101.4,417.3 103.8,415.6 106.3,423.7 108.7,429.2 111.2,434.6 113.6,436.1 116.0,438.1 118.5,439.3 120.9,440.6 123.4,439.7 125.8,439.0 128.3,436.5 130.7,436.8 133.2,436.4 135.6,437.2 138.1,439.3 140.5,439.8 143.0,441.1 145.4,445.2 147.9,448.5 150.3,454.4 152.7,455.8 155.2,455.0 157.6,452.9 160.1,448.9 162.5,448.9 165.0,449.2 167.4,450.6 169.9,454.2 172.3,456.2 174.8,458.9 177.2,457.7 179.7,459.3 182.1,458.5 184.6,460.0 187.0,461.2 189.4,461.8 191.9,464.5 194.3,465.5 196.8,465.0 199.2,464.1 201.7,463.8 204.1,466.6 206.6,469.7 209.0,472.5 211.5,471.8 213.9,472.4 216.4,475.0 218.8,476.5 221.3,476.3 223.7,475.8 226.1,474.5 228.6,473.7 231.0,485.5 233.5,465.1 235.9,488.8 238.4,480.8 240.8,487.4 243.3,491.3" stroke="#D95319"/><polyline points="95.4,405.5 97.9,409.5 100.3,415.6 102.8,414.4 105.2,423.6 107.7,433.1 110.1,439.3 112.5,444.4 115.0,444.6 117.4,444.6 119.9,443.6 122.3,442.3 124.8,437.7 127.2,434.7 129.7,435.6 132.1,435.7 134.6,438.6 137.0,438.9 139.5,438.8 141.9,441.1 144.4,445.7 146.8,449.0 149.2,451.3 151.7,451.9 154.1,451.9 156.6,449.8 159.0,448.0 161.5,448.5 163.9,451.4 166.4,454.9 168.8,458.8 171.3,460.4 173.7,462.5 176.2,461.5 178.6,462.5 181.1,462.5 183.5,463.8 185.9,464.4 188.4,463.7 190.8,465.4 193.3,466.3 195.7,464.4 198.2,461.4 200.6,464.1 203.1,467.2 205.5,467.9 208.0,471.0 210.4,472.5 212.9,475.9 215.3,476.1 217.8,475.2 220.2,476.2 222.6,476.8 225.1,476.8 227.5,476.0 230.0,481.1 232.4,487.7 234.9,484.0 237.3,488.5 239.8,488.6 242.2,485.1" stroke="#0072BD"/><polyline points="94.4,399.5 96.8,411.3 99.3,413.7 101.7,420.8 104.2,425.3 106.6,429.8 109.0,435.7 111.5,440.7 113.9,440.8 116.4,441.0 118.8,438.8 121.3,438.1 123.7,435.5 126.2,434.5 128.6,433.8 131.1,433.7 133.5,436.2 136.0,436.8 138.4,437.4 140.9,439.7 143.3,441.8 145.7,445.8 148.2,449.1 150.6,450.7 153.1,449.8 155.5,446.7 158.0,446.1 160.4,443.9 162.9,446.2 165.3,449.0 167.8,454.2 170.2,456.8 172.7,461.1 175.1,460.2 177.6,460.1 180.0,459.8 182.4,460.8 184.9,461.7 187.3,460.9 189.8,461.3 192.2,462.9 194.7,462.2 197.1,463.5 199.6,463.7 202.0,463.1 204.5,466.6 206.9,469.0 209.4,469.7 211.8,472.4 214.3,472.1 216.7,473.1 219.1,474.7 221.6,475.1 224.0,474.8 226.5,473.5 228.9,462.3 231.4,468.6 233.8,489.4 236.3,466.7 238.7,490.8 241.2,478.7" stroke="#A2142F"/><polyline points="93.3,402.5 95.8,406.9 98.2,409.1 100.7,421.2 103.1,422.6 105.5,429.6 108.0,434.3 110.4,437.8 112.9,443.5 115.3,444.3 117.8,444.0 120.2,441.0 122.7,438.5 125.1,436.6 127.6,435.7 130.0,435.4 132.5,435.2 134.9,437.5 137.4,438.0 139.8,439.9 142.2,444.3 144.7,446.6 147.1,451.2 149.6,450.7 152.0,452.1 154.5,449.2 156.9,447.2 159.4,445.9 161.8,448.2 164.3,451.4 166.7,455.5 169.2,457.5 171.6,458.0 174.1,461.5 176.5,460.3 178.9,461.3 181.4,461.7 183.8,461.6 186.3,460.6 188.7,460.1 191.2,461.4 193.6,463.1 196.1,465.3 198.5,465.6 201.0,466.8 203.4,469.3 205.9,471.2 208.3,472.2 210.8,473.3 213.2,473.5 215.6,473.7 218.1,475.2 220.5,476.0 223.0,475.4 225.4,474.7 227.9,485.0 230.3,470.5 232.8,471.5 235.2,462.4 237.7,489.1 240.1,466.4" stroke="#4DBEEE"/><polyline points="92.3,393.4 94.7,412.0 97.2,415.3 99.6,420.5 102.0,420.1 104.5,426.6 106.9,434.3 109.4,438.7 111.8,439.3 114.3,438.6 116.7,437.3 119.2,435.9 121.6,435.0 124.1,433.4 126.5,431.6 129.0,432.2 131.4,431.7 133.9,432.0 136.3,434.5 138.7,437.1 141.2,439.3 143.6,443.6 146.1,447.4 148.5,448.8 151.0,446.7 153.4,442.9 155.9,442.2 158.3,443.7 160.8,445.3 163.2,449.3 165.7,452.9 168.1,456.2 170.6,458.8 173.0,459.6 175.4,459.3 177.9,457.6 180.3,458.6 182.8,457.2 185.2,459.3 187.7,458.8 190.1,460.6 192.6,461.3 195.0,461.0 197.5,460.9 199.9,462.6 202.4,463.8 204.8,466.8 207.3,467.9 209.7,469.9 212.1,472.7 214.6,472.5 217.0,473.1 219.5,474.6 221.9,475.9 224.4,474.9 226.8,488.1 229.3,466.8 231.7,489.3 234.2,460.0 236.6,483.7 239.1,492.3" stroke="#77AC30"/><polyline points="91.2,419.2 93.7,421.2 96.1,425.1 98.5,421.1 101.0,426.6 103.4,431.2 105.9,435.6 108.3,440.0 110.8,442.2 113.2,440.1 115.7,441.1 118.1,442.0 120.6,440.4 123.0,438.7 125.5,437.4 127.9,435.6 130.4,436.8 132.8,439.5 135.2,443.2 137.7,444.3 140.1,445.4 142.6,445.2 145.0,447.2 147.5,449.1 149.9,448.8 152.4,448.5 154.8,448.4 157.3,447.6 159.7,450.2 162.2,452.4 164.6,456.5 167.1,458.0 169.5,460.4 171.9,460.6 174.4,461.7 176.8,463.5 179.3,463.8 181.7,463.7 184.2,462.2 186.6,463.4 189.1,462.5 191.5,464.9 194.0,465.6 196.4,465.3 198.9,466.8 201.3,466.7 203.8,468.0 206.2,470.2 208.6,471.3 211.1,473.8 213.5,475.9 216.0,476.7 218.4,477.2 220.9,479.8 223.3,480.8 225.8,459.7 228.2,489.8 230.7,488.5 233.1,470.1 235.6,491.1 238.0,490.0" stroke="#7E2F8E"/><polyline points="90.2,417.2 92.6,415.8 95.0,424.3 97.5,420.2 99.9,422.2 102.4,428.0 104.8,435.3 107.3,442.0 109.7,445.7 112.2,443.2 114.6,443.4 117.1,443.2 119.5,443.9 122.0,441.4 124.4,438.0 126.9,437.0 129.3,436.3 131.7,438.5 134.2,438.2 136.6,439.9 139.1,445.8 141.5,447.7 144.0,451.6 146.4,451.5 148.9,449.4 151.3,448.4 153.8,446.3 156.2,446.1 158.7,449.0 161.1,452.8 163.6,457.5 166.0,460.4 168.4,462.1 170.9,464.4 173.3,465.7 175.8,463.7 178.2,464.7 180.7,465.6 183.1,464.7 185.6,465.7 188.0,465.4 190.5,468.2 192.9,467.0 195.4,469.4 197.8,472.0 200.3,471.5 202.7,471.0 205.1,469.2 207.6,471.9 210.0,475.2 212.5,476.5 214.9,480.0 217.4,478.9 219.8,478.1 222.3,478.5 224.7,479.7 227.2,459.4 229.6,472.4 232.1,488.7 234.5,468.9 237.0,486.0" stroke="#EDB120"/><polyline points="89.1,409.9 91.5,419.6 94.0,427.5 96.4,428.2 98.9,425.7 101.3,426.9 103.8,429.1 106.2,433.5 108.7,436.9 111.1,440.3 113.6,443.2 116.0,445.9 118.5,443.7 120.9,444.5 123.4,441.5 125.8,437.8 128.2,436.7 130.7,437.1 133.1,438.5 135.6,438.0 138.0,441.6 140.5,442.6 142.9,445.6 145.4,446.8 147.8,448.5 150.3,446.0 152.7,444.8 155.2,444.9 157.6,448.5 160.1,451.2 162.5,454.4 164.9,457.9 167.4,460.3 169.8,462.3 172.3,462.4 174.7,461.8 177.2,460.9 179.6,462.4 182.1,463.3 184.5,465.1 187.0,465.0 189.4,466.8 191.9,468.2 194.3,468.9 196.8,469.2 199.2,470.5 201.6,469.5 204.1,470.5 206.5,471.7 209.0,474.5 211.4,477.1 213.9,478.7 216.3,479.0 218.8,480.3 221.2,478.1 223.7,482.2 226.1,481.2 228.6,481.9 231.0,485.9 233.5,491.9 235.9,488.0" stroke="#D95319"/><polyline points="88.0,426.8 90.5,424.4 92.9,432.2 95.4,432.5 97.8,431.3 100.3,429.7 102.7,432.1 105.2,435.6 107.6,440.4 110.1,443.9 112.5,448.9 115.0,449.6 117.4,449.4 119.9,448.2 122.3,443.3 124.7,441.3 127.2,440.2 129.6,439.3 132.1,441.8 134.5,442.4 137.0,445.8 139.4,448.9 141.9,451.1 144.3,452.3 146.8,452.3 149.2,450.1 151.7,447.6 154.1,449.6 156.6,451.7 159.0,455.6 161.4,459.0 163.9,463.8 166.3,465.5 168.8,465.9 171.2,467.3 173.7,466.6 176.1,465.7 178.6,464.3 181.0,465.1 183.5,468.1 185.9,469.3 188.4,471.4 190.8,471.3 193.3,473.4 195.7,472.9 198.1,471.5 200.6,469.2 203.0,470.3 205.5,471.8 207.9,477.3 210.4,479.9 212.8,480.8 215.3,481.7 217.7,479.4 220.2,478.3 222.6,467.5 225.1,488.0 227.5,487.8 230.0,487.8 232.4,493.3 234.8,492.1" stroke="#0072BD"/><polyline points="87.0,426.6 89.4,421.3 91.9,422.6 94.3,427.2 96.8,426.8 99.2,430.0 101.7,432.1 104.1,433.9 106.6,437.0 109.0,438.9 111.5,441.7 113.9,443.8 116.4,442.3 118.8,441.2 121.2,440.5 123.7,439.0 126.1,436.7 128.6,437.1 131.0,437.6 133.5,439.2 135.9,442.4 138.4,445.8 140.8,445.8 143.3,445.2 145.7,446.5 148.2,445.3 150.6,446.0 153.1,448.6 155.5,449.4 157.9,451.2 160.4,454.8 162.8,457.0 165.3,461.4 167.7,463.5 170.2,464.9 172.6,466.1 175.1,467.3 177.5,465.9 180.0,466.0 182.4,465.3 184.9,468.1 187.3,468.6 189.8,469.7 192.2,471.8 194.6,472.2 197.1,472.9 199.5,472.5 202.0,471.9 204.4,475.9 206.9,476.6 209.3,475.6 211.8,475.6 214.2,477.3 216.7,477.9 219.1,480.5 221.6,485.1 224.0,484.5 226.5,483.0 228.9,461.2 231.3,468.8 233.8,475.3" stroke="#A2142F"/><polyline points="85.9,417.5 88.4,421.1 90.8,418.2 93.3,425.7 95.7,423.1 98.2,427.5 100.6,431.7 103.1,436.8 105.5,438.6 108.0,437.4 110.4,438.1 112.8,438.9 115.3,438.8 117.7,439.7 120.2,437.0 122.6,435.6 125.1,434.8 127.5,434.6 130.0,434.6 132.4,439.2 134.9,441.0 137.3,444.5 139.8,445.8 142.2,445.3 144.7,445.0 147.1,444.1 149.5,441.7 152.0,443.7 154.4,445.4 156.9,446.9 159.3,451.6 161.8,452.9 164.2,459.0 166.7,461.8 169.1,462.7 171.6,462.1 174.0,461.9 176.5,462.4 178.9,462.9 181.4,464.3 183.8,465.3 186.2,467.3 188.7,468.0 191.1,469.3 193.6,471.3 196.0,471.6 198.5,470.3 200.9,470.0 203.4,469.5 205.8,473.4 208.3,475.7 210.7,475.7 213.2,476.1 215.6,475.9 218.1,474.5 220.5,486.1 222.9,473.8 225.4,490.1 227.8,464.2 230.3,488.7 232.7,485.3" stroke="#4DBEEE"/><polyline points="84.9,421.9 87.3,425.2 89.8,430.1 92.2,424.4 94.7,426.0 97.1,427.7 99.6,432.0 102.0,435.8 104.5,435.5 106.9,437.0 109.3,436.4 111.8,438.9 114.2,441.6 116.7,439.9 119.1,440.3 121.6,440.5 124.0,439.1 126.5,438.3 128.9,438.6 131.4,438.8 133.8,441.5 136.3,443.3 138.7,444.7 141.2,445.9 143.6,447.0 146.0,448.4 148.5,449.1 150.9,449.5 153.4,449.1 155.8,452.4 158.3,454.7 160.7,457.8 163.2,462.5 165.6,464.9 168.1,466.5 170.5,465.8 173.0,465.1 175.4,465.7 177.9,466.0 180.3,466.2 182.7,466.4 185.2,468.5 187.6,470.7 190.1,473.1 192.5,474.1 195.0,474.3 197.4,472.4 199.9,472.7 202.3,474.2 204.8,476.1 207.2,475.0 209.7,474.2 212.1,476.3 214.6,478.5 217.0,478.3 219.4,470.9 221.9,485.1 224.3,488.9 226.8,490.1 229.2,476.4 231.7,479.6" stroke="#77AC30"/><polyline points="83.8,411.2 86.3,415.1 88.7,416.3 91.2,425.1 93.6,424.2 96.1,427.1 98.5,427.8 101.0,431.6 103.4,433.3 105.8,433.3 108.3,431.6 110.7,432.4 113.2,433.5 115.6,435.7 118.1,438.5 120.5,439.6 123.0,439.2 125.4,439.8 127.9,439.6 130.3,439.7 132.8,441.0 135.2,443.5 137.7,444.3 140.1,445.4 142.5,446.3 145.0,447.9 147.4,449.9 149.9,449.0 152.3,449.1 154.8,450.1 157.2,452.5 159.7,457.4 162.1,459.5 164.6,461.4 167.0,465.2 169.5,463.7 171.9,466.0 174.4,465.7 176.8,467.3 179.2,469.7 181.7,468.4 184.1,470.1 186.6,472.9 189.0,473.5 191.5,474.1 193.9,473.7 196.4,473.5 198.8,471.7 201.3,472.4 203.7,473.5 206.2,475.7 208.6,476.2 211.1,477.5 213.5,478.0 215.9,477.6 218.4,469.6 220.8,482.9 223.3,485.9 225.7,468.9 228.2,493.2 230.6,487.6" stroke="#7E2F8E"/><polyline points="82.8,414.3 85.2,423.9 87.7,423.2 90.1,425.3 92.6,429.3 95.0,428.8 97.5,431.0 99.9,434.7 102.3,436.9 104.8,437.9 107.2,438.8 109.7,440.1 112.1,437.1 114.6,437.7 117.0,437.3 119.5,436.1 121.9,436.5 124.4,437.9 126.8,440.5 129.3,442.1 131.7,443.5 134.2,445.4 136.6,445.8 139.0,446.7 141.5,449.0 143.9,450.0 146.4,448.3 148.8,447.8 151.3,447.2 153.7,447.6 156.2,451.2 158.6,457.2 161.1,462.8 163.5,465.9 166.0,466.3 168.4,463.9 170.9,462.1 173.3,464.0 175.7,466.5 178.2,469.0 180.6,470.4 183.1,470.6 185.5,472.5 188.0,474.9 190.4,475.4 192.9,474.8 195.3,471.4 197.8,473.1 200.2,472.6 202.7,473.1 205.1,476.0 207.6,476.9 210.0,477.6 212.4,477.4 214.9,476.8 217.3,484.7 219.8,488.4 222.2,476.3 224.7,486.9 227.1,485.4 229.6,480.1" stroke="#EDB120"/><polyline points="81.7,412.3 84.2,416.9 86.6,426.0 89.1,428.3 91.5,429.5 94.0,427.7 96.4,428.7 98.8,430.6 101.3,431.0 103.7,430.9 106.2,431.2 108.6,432.5 111.1,434.1 113.5,434.5 116.0,435.3 118.4,435.8 120.9,435.8 123.3,437.1 125.8,438.6 128.2,441.2 130.7,441.2 133.1,440.9 135.5,441.8 138.0,442.3 140.4,445.5 142.9,446.4 145.3,447.5 147.8,448.1 150.2,447.7 152.7,448.3 155.1,449.4 157.6,456.0 160.0,460.5 162.5,463.8 164.9,464.9 167.4,464.7 169.8,464.0 172.2,464.2 174.7,463.5 177.1,464.8 179.6,466.6 182.0,466.7 184.5,469.4 186.9,474.1 189.4,477.4 191.8,478.0 194.3,477.5 196.7,475.6 199.2,474.9 201.6,476.0 204.1,476.6 206.5,476.1 208.9,477.1 211.4,478.2 213.8,478.6 216.3,473.3 218.7,477.0 221.2,487.6 223.6,488.3 226.1,485.4 228.5,474.9" stroke="#D95319"/><polyline points="80.7,408.3 83.1,415.7 85.6,419.4 88.0,426.9 90.5,429.3 92.9,432.1 95.3,434.5 97.8,435.4 100.2,435.5 102.7,433.1 105.1,432.2 107.6,431.4 110.0,436.2 112.5,438.7 114.9,440.4 117.4,440.4 119.8,439.4 122.3,441.6 124.7,443.3 127.2,444.3 129.6,445.8 132.0,445.9 134.5,446.9 136.9,449.5 139.4,451.1 141.8,452.5 144.3,452.6 146.7,452.5 149.2,453.1 151.6,451.4 154.1,454.7 156.5,456.7 159.0,460.5 161.4,463.4 163.9,463.1 166.3,465.4 168.7,464.8 171.2,466.3 173.6,468.4 176.1,468.2 178.5,469.5 181.0,470.1 183.4,472.2 185.9,475.7 188.3,477.3 190.8,477.4 193.2,476.1 195.7,476.1 198.1,476.7 200.6,476.9 203.0,475.7 205.4,478.3 207.9,477.6 210.3,480.6 212.8,483.2 215.2,486.4 217.7,470.0 220.1,475.4 222.6,462.7 225.0,487.6 227.5,485.9" stroke="#0072BD"/><polyline points="79.6,413.8 82.1,423.1 84.5,428.8 87.0,429.5 89.4,433.8 91.8,432.0 94.3,436.5 96.7,436.2 99.2,439.0 101.6,435.3 104.1,432.0 106.5,429.8 109.0,431.4 111.4,433.7 113.9,435.1 116.3,435.2 118.8,437.3 121.2,437.2 123.7,442.0 126.1,442.3 128.5,443.4 131.0,444.5 133.4,446.2 135.9,449.8 138.3,450.9 140.8,451.9 143.2,452.6 145.7,450.8 148.1,450.1 150.6,450.8 153.0,452.3 155.5,456.9 157.9,459.3 160.4,462.2 162.8,461.9 165.2,464.0 167.7,466.1 170.1,467.6 172.6,466.9 175.0,469.2 177.5,469.6 179.9,472.1 182.4,473.5 184.8,473.7 187.3,475.5 189.7,476.5 192.2,475.6 194.6,475.1 197.1,474.7 199.5,475.6 201.9,475.3 204.4,478.5 206.8,478.6 209.3,480.2 211.7,481.8 214.2,485.8 216.6,482.1 219.1,467.3 221.5,462.5 224.0,484.9 226.4,489.2" stroke="#A2142F"/><polyline points="78.6,381.1 81.0,419.7 83.5,423.4 85.9,424.9 88.3,426.6 90.8,424.7 93.2,425.2 95.7,424.2 98.1,427.8 100.6,427.3 103.0,426.9 105.5,431.6 107.9,431.8 110.4,433.8 112.8,435.9 115.3,434.6 117.7,435.9 120.2,436.6 122.6,438.5 125.0,440.8 127.5,441.8 129.9,442.2 132.4,444.2 134.8,446.9 137.3,450.2 139.7,452.4 142.2,451.3 144.6,450.7 147.1,445.9 149.5,446.4 152.0,448.7 154.4,453.1 156.9,457.1 159.3,461.2 161.7,459.5 164.2,460.7 166.6,461.9 169.1,464.1 171.5,464.7 174.0,466.3 176.4,467.1 178.9,470.3 181.3,471.1 183.8,470.6 186.2,472.6 188.7,472.6 191.1,471.3 193.6,472.7 196.0,471.5 198.4,474.7 200.9,475.9 203.3,476.0 205.8,475.9 208.2,477.4 210.7,479.9 213.1,474.6 215.6,486.8 218.0,471.7 220.5,489.5 222.9,491.6 225.4,471.2" stroke="#4DBEEE"/><polyline points="77.5,412.1 80.0,416.1 82.4,425.3 84.8,428.8 87.3,428.2 89.7,428.4 92.2,429.2 94.6,430.9 97.1,431.2 99.5,428.6 102.0,427.5 104.4,426.6 106.9,428.7 109.3,433.9 111.8,437.5 114.2,439.2 116.7,438.5 119.1,440.4 121.5,441.5 124.0,442.3 126.4,445.5 128.9,443.8 131.3,444.7 133.8,447.4 136.2,452.8 138.7,454.8 141.1,456.9 143.6,454.3 146.0,452.8 148.5,451.1 150.9,453.8 153.4,457.3 155.8,460.0 158.2,464.0 160.7,464.9 163.1,466.1 165.6,466.9 168.0,466.8 170.5,469.8 172.9,470.0 175.4,472.3 177.8,472.3 180.3,474.1 182.7,476.1 185.2,476.6 187.6,477.0 190.1,477.3 192.5,478.7 194.9,477.7 197.4,476.6 199.8,476.7 202.3,478.3 204.7,479.2 207.2,482.7 209.6,485.3 212.1,486.7 214.5,487.6 217.0,492.7 219.4,475.2 221.9,490.8 224.3,476.0" stroke="#77AC30"/><polyline points="76.5,406.6 78.9,416.1 81.3,423.3 83.8,425.3 86.2,425.5 88.7,428.8 91.1,428.5 93.6,427.5 96.0,427.0 98.5,427.5 100.9,428.4 103.4,428.1 105.8,429.7 108.3,433.0 110.7,435.9 113.2,436.9 115.6,438.0 118.0,439.6 120.5,439.7 122.9,439.1 125.4,441.2 127.8,442.8 130.3,444.2 132.7,445.2 135.2,448.7 137.6,452.5 140.1,454.5 142.5,453.1 145.0,450.3 147.4,451.5 149.9,452.4 152.3,453.5 154.7,459.1 157.2,462.1 159.6,464.4 162.1,465.6 164.5,465.1 167.0,467.6 169.4,467.7 171.9,467.9 174.3,469.3 176.8,470.0 179.2,469.9 181.7,470.9 184.1,473.0 186.6,476.0 189.0,474.3 191.4,476.8 193.9,476.3 196.3,473.6 198.8,476.2 201.2,476.8 203.7,478.7 206.1,481.5 208.6,481.1 211.0,483.2 213.5,474.8 215.9,487.1 218.4,493.1 220.8,493.6 223.3,481.9" stroke="#7E2F8E"/><polyline points="75.4,420.9 77.8,418.2 80.3,421.0 82.7,426.6 85.2,424.3 87.6,425.9 90.1,428.2 92.5,428.0 95.0,428.4 97.4,425.8 99.9,426.0 102.3,426.6 104.8,428.1 107.2,431.3 109.6,432.5 112.1,435.0 114.5,436.9 117.0,437.7 119.4,441.6 121.9,441.0 124.3,441.5 126.8,441.0 129.2,442.8 131.7,446.0 134.1,450.6 136.6,454.3 139.0,454.8 141.5,453.9 143.9,450.9 146.3,449.2 148.8,449.7 151.2,452.3 153.7,457.4 156.1,461.6 158.6,464.2 161.0,463.4 163.5,463.8 165.9,466.0 168.4,468.8 170.8,466.1 173.3,467.8 175.7,468.6 178.2,469.7 180.6,471.4 183.0,474.7 185.5,476.3 187.9,475.4 190.4,475.8 192.8,475.7 195.3,474.5 197.7,474.1 200.2,473.6 202.6,477.1 205.1,479.2 207.5,482.2 210.0,462.9 212.4,493.2 214.9,492.4 217.3,489.6 219.7,480.7 222.2,492.8" stroke="#EDB120"/><polyline points="74.3,412.8 76.8,424.5 79.2,425.5 81.7,426.4 84.1,421.2 86.6,422.5 89.0,423.9 91.5,424.6 93.9,425.6 96.4,423.0 98.8,424.0 101.3,426.1 103.7,429.8 106.1,434.0 108.6,435.8 111.0,436.4 113.5,438.5 115.9,440.2 118.4,442.2 120.8,443.0 123.3,443.2 125.7,443.6 128.2,444.1 130.6,445.8 133.1,450.1 135.5,453.1 138.0,454.5 140.4,452.7 142.8,451.8 145.3,448.6 147.7,452.0 150.2,454.3 152.6,458.1 155.1,461.2 157.5,463.8 160.0,463.3 162.4,464.5 164.9,465.6 167.3,465.9 169.8,468.3 172.2,470.3 174.7,472.5 177.1,473.3 179.5,476.1 182.0,476.7 184.4,476.3 186.9,475.2 189.3,474.4 191.8,474.2 194.2,474.4 196.7,473.4 199.1,476.7 201.6,477.6 204.0,480.7 206.5,482.7 208.9,491.1 211.4,489.0 213.8,480.7 216.2,492.2 218.7,474.3 221.1,491.6" stroke="#D95319"/><polyline points="73.3,416.6 75.7,418.0 78.2,425.3 80.6,420.3 83.1,418.6 85.5,420.5 88.0,417.7 90.4,420.4 92.9,421.4 95.3,424.7 97.8,426.1 100.2,428.1 102.6,431.1 105.1,433.2 107.5,433.2 110.0,434.0 112.4,432.1 114.9,435.9 117.3,437.8 119.8,439.9 122.2,440.0 124.7,443.3 127.1,442.7 129.6,448.4 132.0,450.8 134.5,454.5 136.9,456.0 139.3,455.0 141.8,453.7 144.2,452.6 146.7,452.3 149.1,454.7 151.6,456.5 154.0,458.0 156.5,460.3 158.9,462.2 161.4,462.3 163.8,463.0 166.3,464.0 168.7,466.1 171.2,467.4 173.6,467.6 176.0,469.4 178.5,469.4 180.9,469.9 183.4,469.8 185.8,469.7 188.3,469.3 190.7,469.5 193.2,470.6 195.6,472.5 198.1,474.9 200.5,478.5 203.0,483.2 205.4,482.9 207.9,465.3 210.3,468.4 212.7,492.1 215.2,490.1 217.6,494.5 220.1,490.8" stroke="#0072BD"/><polyline points="72.2,412.1 74.7,417.3 77.1,419.3 79.6,425.5 82.0,424.0 84.5,424.6 86.9,422.1 89.4,421.0 91.8,422.3 94.3,421.7 96.7,423.1 99.1,424.9 101.6,427.8 104.0,432.0 106.5,432.3 108.9,434.2 111.4,433.3 113.8,436.3 116.3,436.6 118.7,438.4 121.2,438.9 123.6,441.3 126.1,443.9 128.5,446.8 131.0,450.3 133.4,453.7 135.8,457.3 138.3,456.1 140.7,455.7 143.2,454.6 145.6,452.7 148.1,455.4 150.5,457.4 153.0,457.9 155.4,460.6 157.9,461.9 160.3,460.5 162.8,462.7 165.2,463.8 167.7,464.5 170.1,467.3 172.5,468.3 175.0,469.4 177.4,470.2 179.9,469.1 182.3,470.0 184.8,470.2 187.2,471.6 189.7,470.9 192.1,471.9 194.6,474.2 197.0,477.6 199.5,479.0 201.9,479.2 204.4,480.6 206.8,463.9 209.2,487.1 211.7,494.6 214.1,495.0 216.6,488.0 219.0,496.5" stroke="#A2142F"/><polyline points="71.2,420.2 73.6,422.0 76.1,423.6 78.5,423.1 81.0,426.7 83.4,425.3 85.9,424.9 88.3,422.5 90.8,422.3 93.2,425.4 95.6,425.6 98.1,426.1 100.5,429.5 103.0,432.6 105.4,431.5 107.9,432.6 110.3,433.0 112.8,433.0 115.2,435.4 117.7,437.4 120.1,439.0 122.6,441.7 125.0,442.2 127.5,445.9 129.9,450.2 132.3,455.2 134.8,456.7 137.2,454.9 139.7,453.9 142.1,450.8 144.6,449.9 147.0,452.8 149.5,455.3 151.9,458.3 154.4,459.8 156.8,459.3 159.3,459.8 161.7,459.2 164.2,460.8 166.6,463.5 169.0,465.3 171.5,466.3 173.9,467.7 176.4,467.9 178.8,466.9 181.3,468.1 183.7,467.7 186.2,466.5 188.6,468.7 191.1,469.3 193.5,471.2 196.0,471.9 198.4,474.8 200.9,477.3 203.3,479.2 205.7,487.0 208.2,463.0 210.6,486.3 213.1,491.4 215.5,487.0 218.0,496.4" stroke="#4DBEEE"/><polyline points="70.1,419.7 72.6,418.9 75.0,418.6 77.5,415.3 79.9,419.4 82.4,423.1 84.8,424.1 87.3,423.2 89.7,419.2 92.1,420.0 94.6,420.6 97.0,424.4 99.5,428.8 101.9,433.2 104.4,435.5 106.8,434.6 109.3,433.7 111.7,436.0 114.2,436.4 116.6,437.9 119.1,438.0 121.5,439.8 124.0,442.9 126.4,447.1 128.8,451.1 131.3,451.7 133.7,455.3 136.2,454.2 138.6,451.7 141.1,452.3 143.5,452.7 146.0,454.3 148.4,457.7 150.9,457.5 153.3,459.9 155.8,462.5 158.2,461.6 160.7,462.9 163.1,464.1 165.5,467.0 168.0,468.6 170.4,468.5 172.9,469.0 175.3,468.8 177.8,469.1 180.2,468.3 182.7,469.5 185.1,468.7 187.6,469.8 190.0,468.9 192.5,471.4 194.9,471.5 197.4,475.0 199.8,475.7 202.2,479.4 204.7,492.7 207.1,486.2 209.6,464.4 212.0,468.7 214.5,473.3 216.9,488.9" stroke="#77AC30"/><polyline points="69.1,408.8 71.5,424.3 74.0,425.3 76.4,424.5 78.9,419.9 81.3,419.9 83.8,419.0 86.2,417.5 88.6,413.7 91.1,414.9 93.5,417.8 96.0,421.9 98.4,427.4 100.9,427.9 103.3,431.2 105.8,430.5 108.2,433.1 110.7,434.7 113.1,436.1 115.6,438.4 118.0,437.8 120.5,441.2 122.9,440.8 125.3,443.8 127.8,449.7 130.2,453.1 132.7,454.5 135.1,455.5 137.6,455.8 140.0,453.1 142.5,450.2 144.9,450.3 147.4,452.0 149.8,454.3 152.3,456.5 154.7,459.8 157.2,459.1 159.6,459.7 162.0,461.5 164.5,462.8 166.9,465.2 169.4,465.8 171.8,467.5 174.3,468.5 176.7,466.7 179.2,466.6 181.6,467.9 184.1,468.3 186.5,470.7 189.0,471.1 191.4,471.4 193.9,471.6 196.3,473.0 198.7,475.8 201.2,477.2 203.6,488.2 206.1,491.7 208.5,473.3 211.0,494.9 213.4,494.8 215.9,489.9" stroke="#7E2F8E"/><polyline points="68.0,372.7 70.5,424.9 72.9,419.1 75.4,414.7 77.8,415.8 80.3,415.6 82.7,417.7 85.1,416.6 87.6,413.3 90.0,414.2 92.5,418.3 94.9,421.4 97.4,427.7 99.8,433.7 102.3,437.2 104.7,436.3 107.2,436.6 109.6,438.7 112.1,439.8 114.5,441.3 117.0,443.4 119.4,445.5 121.8,444.8 124.3,445.9 126.7,449.9 129.2,453.5 131.6,455.5 134.1,455.6 136.5,452.0 139.0,450.1 141.4,447.4 143.9,450.5 146.3,454.9 148.8,459.0 151.2,461.1 153.7,462.1 156.1,462.0 158.5,461.7 161.0,461.8 163.4,463.9 165.9,465.7 168.3,468.1 170.8,469.9 173.2,468.6 175.7,469.4 178.1,469.5 180.6,467.4 183.0,469.2 185.5,472.1 187.9,472.1 190.4,473.5 192.8,477.3 195.2,476.4 197.7,476.7 200.1,476.9 202.6,486.5 205.0,493.0 207.5,478.3 209.9,497.2 212.4,480.4 214.8,492.9" stroke="#EDB120"/><polyline points="67.0,418.3 69.4,423.0 71.9,425.9 74.3,423.4 76.8,420.8 79.2,424.4 81.6,426.5 84.1,426.9 86.5,426.4 89.0,426.9 91.4,427.4 93.9,428.3 96.3,433.9 98.8,436.2 101.2,437.8 103.7,437.0 106.1,438.6 108.6,438.7 111.0,442.3 113.5,443.7 115.9,445.6 118.3,446.7 120.8,449.2 123.2,450.9 125.7,454.5 128.1,454.9 130.6,456.5 133.0,454.7 135.5,453.7 137.9,452.5 140.4,453.6 142.8,455.2 145.3,459.4 147.7,462.7 150.2,465.1 152.6,465.9 155.0,465.9 157.5,464.1 159.9,464.3 162.4,465.4 164.8,467.6 167.3,467.2 169.7,469.9 172.2,471.7 174.6,472.0 177.1,471.6 179.5,474.2 182.0,474.7 184.4,475.3 186.9,476.2 189.3,480.4 191.7,479.6 194.2,481.0 196.6,481.9 199.1,481.7 201.5,464.2 204.0,491.9 206.4,486.6 208.9,475.9 211.3,479.3 213.8,496.5" stroke="#D95319"/><polyline points="65.9,417.6 68.4,418.6 70.8,416.0 73.3,409.0 75.7,411.8 78.1,414.2 80.6,415.7 83.0,415.3 85.5,416.6 87.9,418.7 90.4,422.3 92.8,428.1 95.3,431.8 97.7,434.7 100.2,435.8 102.6,436.2 105.1,434.4 107.5,433.9 110.0,435.6 112.4,440.2 114.8,440.3 117.3,445.0 119.7,445.9 122.2,448.1 124.6,450.8 127.1,453.0 129.5,453.1 132.0,453.3 134.4,452.0 136.9,451.1 139.3,449.7 141.8,452.9 144.2,453.8 146.7,455.6 149.1,457.9 151.5,460.4 154.0,459.1 156.4,459.4 158.9,460.6 161.3,461.4 163.8,464.7 166.2,466.8 168.7,470.2 171.1,470.9 173.6,469.4 176.0,469.4 178.5,469.7 180.9,473.0 183.4,474.7 185.8,474.9 188.2,475.7 190.7,477.0 193.1,477.9 195.6,479.3 198.0,478.9 200.5,490.6 202.9,491.9 205.4,469.4 207.8,493.4 210.3,492.6 212.7,495.0" stroke="#0072BD"/><polyline points="64.9,415.1 67.3,419.2 69.7,415.9 72.2,416.5 74.6,420.0 77.1,425.1 79.5,426.5 82.0,426.3 84.4,425.3 86.9,425.1 89.3,426.8 91.8,428.8 94.2,432.9 96.7,439.7 99.1,441.1 101.6,442.5 104.0,441.6 106.4,443.5 108.9,444.4 111.3,444.1 113.8,444.9 116.2,446.1 118.7,448.3 121.1,451.3 123.6,453.6 126.0,455.0 128.5,456.2 130.9,457.3 133.4,456.5 135.8,454.2 138.3,453.7 140.7,455.9 143.1,459.1 145.6,460.1 148.0,460.1 150.5,462.5 152.9,463.2 155.4,464.8 157.8,465.6 160.3,468.5 162.7,471.4 165.2,470.6 167.6,473.6 170.1,473.9 172.5,472.6 175.0,475.1 177.4,477.2 179.8,480.9 182.3,482.0 184.7,482.7 187.2,481.7 189.6,482.9 192.1,483.4 194.5,482.6 197.0,482.7 199.4,490.7 201.9,486.8 204.3,488.2 206.8,492.0 209.2,491.9 211.7,496.8" stroke="#A2142F"/><polyline points="63.8,412.4 66.2,419.8 68.7,411.0 71.1,411.6 73.6,416.2 76.0,419.0 78.5,420.8 80.9,421.2 83.4,423.5 85.8,424.1 88.3,422.7 90.7,426.1 93.2,429.2 95.6,429.9 98.1,433.5 100.5,434.4 102.9,436.7 105.4,440.8 107.8,440.4 110.3,440.9 112.7,440.7 115.2,442.0 117.6,442.5 120.1,443.8 122.5,446.8 125.0,451.8 127.4,453.0 129.9,453.1 132.3,450.4 134.8,447.7 137.2,448.2 139.6,450.1 142.1,453.1 144.5,455.1 147.0,454.3 149.4,457.1 151.9,458.2 154.3,458.7 156.8,461.5 159.2,461.1 161.7,465.0 164.1,465.2 166.6,466.7 169.0,469.5 171.5,468.2 173.9,470.2 176.3,472.1 178.8,475.2 181.2,475.0 183.7,479.5 186.1,478.5 188.6,479.8 191.0,479.2 193.5,481.3 195.9,479.8 198.4,471.2 200.8,485.7 203.3,493.1 205.7,489.5 208.2,493.2 210.6,498.5" stroke="#4DBEEE"/><polyline points="62.7,411.2 65.2,408.7 67.6,408.7 70.1,408.1 72.5,411.3 75.0,415.5 77.4,420.7 79.9,422.0 82.3,421.3 84.8,422.1 87.2,425.2 89.7,431.1 92.1,433.8 94.6,436.1 97.0,436.5 99.4,438.4 101.9,438.2 104.3,440.2 106.8,441.1 109.2,442.7 111.7,444.3 114.1,444.1 116.6,444.7 119.0,446.8 121.5,447.6 123.9,447.9 126.4,450.0 128.8,451.8 131.3,451.6 133.7,447.9 136.1,449.5 138.6,450.7 141.0,454.1 143.5,453.5 145.9,457.1 148.4,459.2 150.8,459.0 153.3,459.6 155.7,459.8 158.2,461.3 160.6,462.3 163.1,464.2 165.5,467.0 168.0,470.0 170.4,469.6 172.8,470.1 175.3,473.6 177.7,474.2 180.2,477.0 182.6,480.4 185.1,481.4 187.5,481.8 190.0,481.5 192.4,480.6 194.9,480.5 197.3,495.0 199.8,486.1 202.2,489.0 204.7,495.6 207.1,492.0 209.5,497.0" stroke="#77AC30"/><polyline points="61.7,428.0 64.1,424.1 66.6,418.7 69.0,414.3 71.5,416.4 73.9,423.5 76.4,428.3 78.8,433.0 81.3,434.5 83.7,432.8 86.2,432.1 88.6,434.7 91.1,437.4 93.5,439.3 95.9,440.4 98.4,440.0 100.8,441.0 103.3,442.9 105.7,444.9 108.2,447.4 110.6,448.9 113.1,450.5 115.5,450.9 118.0,449.7 120.4,450.9 122.9,454.9 125.3,454.2 127.8,455.3 130.2,451.6 132.6,451.7 135.1,451.2 137.5,454.8 140.0,459.4 142.4,460.3 144.9,461.3 147.3,461.9 149.8,464.5 152.2,465.0 154.7,466.5 157.1,466.5 159.6,467.1 162.0,469.1 164.5,470.6 166.9,474.4 169.3,476.0 171.8,477.6 174.2,478.9 176.7,480.2 179.1,483.2 181.6,483.2 184.0,485.4 186.5,486.4 188.9,485.8 191.4,487.6 193.8,489.0 196.3,473.6 198.7,491.8 201.2,493.1 203.6,471.2 206.0,476.8 208.5,470.7" stroke="#7E2F8E"/><polyline points="60.6,421.0 63.1,414.8 65.5,419.4 68.0,410.9 70.4,413.3 72.9,416.7 75.3,422.6 77.8,427.2 80.2,430.8 82.7,431.1 85.1,431.5 87.6,431.6 90.0,434.7 92.4,435.5 94.9,436.8 97.3,437.0 99.8,438.0 102.2,439.9 104.7,441.4 107.1,443.4 109.6,447.3 112.0,448.0 114.5,448.3 116.9,450.0 119.4,450.2 121.8,453.1 124.3,450.9 126.7,451.0 129.1,447.6 131.6,446.3 134.0,447.2 136.5,449.5 138.9,452.1 141.4,452.3 143.8,455.5 146.3,458.6 148.7,461.0 151.2,463.1 153.6,463.2 156.1,465.7 158.5,465.4 161.0,467.4 163.4,468.9 165.8,469.6 168.3,472.7 170.7,474.3 173.2,477.8 175.6,480.6 178.1,484.8 180.5,485.4 183.0,485.4 185.4,482.6 187.9,482.4 190.3,481.4 192.8,481.0 195.2,493.8 197.7,491.5 200.1,480.6 202.5,476.4 205.0,499.3 207.4,497.8" stroke="#EDB120"/><polyline points="59.6,416.9 62.0,420.9 64.5,417.2 66.9,417.2 69.4,418.9 71.8,424.6 74.3,431.0 76.7,437.5 79.2,438.8 81.6,437.4 84.1,434.3 86.5,434.6 88.9,434.6 91.4,437.1 93.8,438.6 96.3,439.4 98.7,438.7 101.2,442.1 103.6,443.9 106.1,443.8 108.5,446.2 111.0,448.3 113.4,450.8 115.9,451.6 118.3,454.8 120.8,456.6 123.2,456.9 125.6,455.2 128.1,450.9 130.5,448.9 133.0,447.3 135.4,450.9 137.9,457.3 140.3,460.4 142.8,461.9 145.2,461.7 147.7,464.0 150.1,464.1 152.6,464.4 155.0,464.4 157.5,463.6 159.9,466.6 162.3,469.3 164.8,471.1 167.2,472.2 169.7,477.2 172.1,480.5 174.6,483.9 177.0,484.6 179.5,486.6 181.9,487.7 184.4,486.6 186.8,484.8 189.3,485.3 191.7,482.8 194.2,474.5 196.6,465.6 199.0,488.5 201.5,492.0 203.9,484.8 206.4,494.3" stroke="#D95319"/><polyline points="58.5,416.7 61.0,425.8 63.4,415.9 65.9,420.1 68.3,419.2 70.8,422.9 73.2,426.6 75.7,430.8 78.1,433.7 80.6,435.9 83.0,433.4 85.4,433.5 87.9,433.0 90.3,437.5 92.8,439.0 95.2,441.5 97.7,442.0 100.1,444.4 102.6,445.2 105.0,447.7 107.5,450.6 109.9,452.8 112.4,456.0 114.8,455.2 117.3,455.9 119.7,457.1 122.1,456.2 124.6,454.6 127.0,452.1 129.5,452.8 131.9,452.8 134.4,455.8 136.8,458.6 139.3,460.8 141.7,462.2 144.2,464.2 146.6,466.9 149.1,464.0 151.5,465.9 154.0,465.0 156.4,465.0 158.8,468.0 161.3,471.0 163.7,471.8 166.2,473.3 168.6,474.0 171.1,476.2 173.5,480.1 176.0,483.4 178.4,488.4 180.9,488.2 183.3,486.7 185.8,487.6 188.2,484.6 190.7,485.4 193.1,488.1 195.5,492.2 198.0,493.4 200.4,489.3 202.9,489.7 205.3,496.2" stroke="#0072BD"/><polyline points="57.5,378.1 59.9,420.0 62.4,423.4 64.8,422.7 67.3,426.2 69.7,426.0 72.2,429.1 74.6,437.5 77.1,443.4 79.5,444.4 81.9,443.6 84.4,442.9 86.8,441.6 89.3,445.2 91.7,445.3 94.2,446.0 96.6,449.9 99.1,451.7 101.5,451.8 104.0,451.2 106.4,453.2 108.9,456.8 111.3,457.9 113.8,458.1 116.2,461.1 118.6,461.3 121.1,462.6 123.5,461.2 126.0,458.6 128.4,458.2 130.9,457.9 133.3,461.9 135.8,465.3 138.2,468.3 140.7,467.6 143.1,470.1 145.6,472.2 148.0,473.2 150.5,473.2 152.9,472.1 155.3,474.0 157.8,475.2 160.2,476.9 162.7,478.0 165.1,480.2 167.6,483.8 170.0,484.2 172.5,490.0 174.9,491.8 177.4,492.7 179.8,493.7 182.3,494.6 184.7,494.6 187.2,495.0 189.6,493.8 192.0,495.7 194.5,482.6 196.9,489.6 199.4,497.7 201.8,476.6 204.3,494.0" stroke="#A2142F"/><polyline points="56.4,424.2 58.9,421.0 61.3,414.9 63.8,422.4 66.2,420.2 68.7,423.6 71.1,428.0 73.6,431.8 76.0,434.9 78.4,434.7 80.9,432.1 83.3,430.7 85.8,430.7 88.2,433.2 90.7,433.7 93.1,437.6 95.6,437.9 98.0,441.3 100.5,443.3 102.9,444.0 105.4,446.2 107.8,448.7 110.3,450.2 112.7,451.7 115.1,454.0 117.6,455.4 120.0,454.1 122.5,452.0 124.9,451.1 127.4,449.3 129.8,450.5 132.3,454.5 134.7,457.8 137.2,460.4 139.6,459.9 142.1,462.5 144.5,464.2 147.0,465.8 149.4,464.5 151.8,464.9 154.3,464.5 156.7,466.2 159.2,467.9 161.6,471.3 164.1,472.6 166.5,477.1 169.0,479.8 171.4,482.7 173.9,485.8 176.3,486.5 178.8,485.4 181.2,483.5 183.7,483.6 186.1,482.4 188.5,483.5 191.0,495.3 193.4,492.3 195.9,491.1 198.3,492.1 200.8,496.1 203.2,499.0" stroke="#4DBEEE"/><polyline points="55.4,433.3 57.8,424.6 60.3,421.9 62.7,425.4 65.2,424.1 67.6,426.1 70.1,429.4 72.5,432.5 74.9,435.4 77.4,437.4 79.8,437.3 82.3,435.9 84.7,437.0 87.2,437.2 89.6,438.4 92.1,441.9 94.5,443.8 97.0,449.4 99.4,452.3 101.9,453.3 104.3,453.1 106.8,453.3 109.2,454.7 111.6,455.8 114.1,458.5 116.5,460.2 119.0,459.5 121.4,457.6 123.9,454.0 126.3,455.4 128.8,457.1 131.2,460.2 133.7,461.6 136.1,463.1 138.6,465.4 141.0,466.5 143.5,466.8 145.9,470.8 148.3,468.8 150.8,468.6 153.2,469.8 155.7,469.9 158.1,470.6 160.6,472.6 163.0,474.7 165.5,477.5 167.9,479.4 170.4,485.4 172.8,486.6 175.3,487.8 177.7,487.2 180.2,485.8 182.6,485.4 185.0,485.3 187.5,487.2 189.9,486.6 192.4,488.7 194.8,492.8 197.3,469.4 199.7,499.8 202.2,476.6" stroke="#77AC30"/><polyline points="54.3,433.5 56.8,431.3 59.2,426.0 61.7,426.6 64.1,429.4 66.5,431.5 69.0,432.8 71.4,435.5 73.9,438.2 76.3,439.6 78.8,439.1 81.2,436.1 83.7,436.3 86.1,439.3 88.6,444.1 91.0,445.4 93.5,450.3 95.9,453.2 98.4,454.2 100.8,454.7 103.2,456.0 105.7,459.4 108.1,461.0 110.6,462.6 113.0,464.3 115.5,464.9 117.9,463.8 120.4,462.0 122.8,461.9 125.3,462.8 127.7,465.0 130.2,466.0 132.6,467.0 135.1,466.9 137.5,467.6 139.9,468.0 142.4,469.2 144.8,472.7 147.3,475.6 149.7,476.7 152.2,478.2 154.6,478.0 157.1,478.6 159.5,480.4 162.0,483.1 164.4,485.1 166.9,490.6 169.3,491.6 171.8,492.5 174.2,493.4 176.6,494.4 179.1,493.6 181.5,488.4 184.0,488.7 186.4,488.9 188.9,487.9 191.3,493.7 193.8,489.2 196.2,491.9 198.7,479.2 201.1,470.9" stroke="#7E2F8E"/><polyline points="53.3,429.5 55.7,425.0 58.2,425.0 60.6,431.5 63.0,428.2 65.5,427.2 67.9,427.9 70.4,430.1 72.8,435.1 75.3,434.9 77.7,437.2 80.2,438.1 82.6,438.2 85.1,440.0 87.5,441.5 90.0,442.9 92.4,444.0 94.9,447.4 97.3,450.9 99.7,452.6 102.2,455.2 104.6,457.1 107.1,456.8 109.5,456.1 112.0,457.9 114.4,459.9 116.9,459.3 119.3,460.0 121.8,456.4 124.2,460.0 126.7,459.3 129.1,462.6 131.6,465.6 134.0,464.7 136.4,466.6 138.9,465.5 141.3,468.3 143.8,469.5 146.2,473.7 148.7,474.8 151.1,476.5 153.6,476.1 156.0,476.9 158.5,479.0 160.9,480.4 163.4,482.7 165.8,488.3 168.3,489.6 170.7,492.7 173.1,493.2 175.6,490.6 178.0,491.1 180.5,490.0 182.9,490.5 185.4,491.5 187.8,496.4 190.3,492.5 192.7,498.3 195.2,500.5 197.6,493.6 200.1,495.5" stroke="#EDB120"/><polyline points="52.2,421.5 54.7,416.0 57.1,420.2 59.5,422.4 62.0,426.4 64.4,430.3 66.9,431.4 69.3,436.3 71.8,439.2 74.2,441.1 76.7,440.2 79.1,435.9 81.6,434.8 84.0,439.7 86.5,444.8 88.9,449.6 91.4,452.1 93.8,454.0 96.2,454.9 98.7,456.5 101.1,456.2 103.6,455.6 106.0,457.1 108.5,459.2 110.9,460.0 113.4,462.0 115.8,462.3 118.3,463.4 120.7,462.2 123.2,461.7 125.6,463.9 128.1,464.3 130.5,467.8 132.9,468.5 135.4,467.1 137.8,467.5 140.3,468.8 142.7,470.2 145.2,472.5 147.6,476.8 150.1,477.0 152.5,479.8 155.0,477.9 157.4,478.0 159.9,480.7 162.3,483.1 164.8,489.8 167.2,492.0 169.6,493.0 172.1,493.9 174.5,494.8 177.0,495.4 179.4,493.4 181.9,492.6 184.3,492.2 186.8,498.7 189.2,497.3 191.7,498.1 194.1,499.4 196.6,493.7 199.0,503.6" stroke="#D95319"/><polyline points="51.2,433.1 53.6,433.4 56.0,437.9 58.5,438.2 60.9,439.4 63.4,438.8 65.8,439.4 68.3,440.9 70.7,442.2 73.2,444.5 75.6,443.8 78.1,441.9 80.5,443.2 83.0,443.9 85.4,447.1 87.9,451.3 90.3,454.0 92.7,457.7 95.2,459.3 97.6,461.4 100.1,462.1 102.5,464.4 105.0,463.0 107.4,463.4 109.9,465.1 112.3,465.2 114.8,465.8 117.2,466.6 119.7,465.4 122.1,462.7 124.6,464.9 127.0,469.2 129.4,471.9 131.9,473.7 134.3,475.6 136.8,474.1 139.2,475.0 141.7,475.9 144.1,478.0 146.6,477.2 149.0,480.9 151.5,482.2 153.9,483.5 156.4,486.3 158.8,488.4 161.3,490.4 163.7,491.3 166.1,492.3 168.6,493.2 171.0,494.1 173.5,495.1 175.9,496.0 178.4,492.8 180.8,492.9 183.3,495.5 185.7,493.0 188.2,499.9 190.6,500.0 193.1,501.4 195.5,500.4 198.0,501.3" stroke="#0072BD"/></g><polyline points="180.6,374.5 181.8,394.0 182.6,403.5 184.0,402.9 186.4,406.7 188.8,403.9 191.2,409.0 193.6,406.5 196.0,411.6 198.4,409.0 200.8,413.8 203.2,411.0 205.6,415.7 208.0,412.7 210.4,417.3 212.8,414.3 215.2,418.9 217.6,415.9 220.0,420.6 222.4,417.6 224.8,422.2 227.2,419.2 229.6,424.1 232.0,421.5 234.4,426.4 236.8,423.8 239.2,428.8 241.6,426.9 244.0,430.4 246.4,429.3 248.8,432.8 251.2,431.7 253.6,434.9 256.0,433.5 258.4,436.7 260.8,435.3 263.2,438.5 265.6,437.1 268.0,440.2 270.4,438.7 272.8,441.7 275.2,440.2 277.6,443.2 280.0,442.0 282.4,445.4 284.8,444.2 287.2,447.9 289.6,447.8 292.0,452.4 294.4,452.7 296.8,457.4 299.2,457.5 302.5,461.8 306.0,452.0 309.3,448.2 318.3,448.2 320.6,461.8 322.8,475.3" fill="none" stroke="#ff0000" stroke-width="2.2" stroke-dasharray="11 1.8 1.3 1.8" stroke-linejoin="round"/><g><line x1="47.0" y1="211.6" x2="47.0" y2="52.0" stroke="#a0a0a0" stroke-width="0.8"/><line x1="47.0" y1="211.6" x2="41.0" y2="211.6" stroke="#a0a0a0" stroke-width="0.8"/><line x1="47.0" y1="185.0" x2="41.0" y2="185.0" stroke="#a0a0a0" stroke-width="0.8"/><line x1="47.0" y1="158.4" x2="41.0" y2="158.4" stroke="#a0a0a0" stroke-width="0.8"/><line x1="47.0" y1="131.8" x2="41.0" y2="131.8" stroke="#a0a0a0" stroke-width="0.8"/><line x1="47.0" y1="105.2" x2="41.0" y2="105.2" stroke="#a0a0a0" stroke-width="0.8"/><line x1="47.0" y1="78.6" x2="41.0" y2="78.6" stroke="#a0a0a0" stroke-width="0.8"/><line x1="47.0" y1="52.0" x2="41.0" y2="52.0" stroke="#a0a0a0" stroke-width="0.8"/><line x1="50.1" y1="448.8" x2="50.1" y2="326.1" stroke="#a0a0a0" stroke-width="0.8"/><line x1="50.1" y1="448.8" x2="44.1" y2="448.8" stroke="#a0a0a0" stroke-width="0.8"/><line x1="50.1" y1="418.1" x2="44.1" y2="418.1" stroke="#a0a0a0" stroke-width="0.8"/><line x1="50.1" y1="387.4" x2="44.1" y2="387.4" stroke="#a0a0a0" stroke-width="0.8"/><line x1="50.1" y1="356.8" x2="44.1" y2="356.8" stroke="#a0a0a0" stroke-width="0.8"/><line x1="50.1" y1="326.1" x2="44.1" y2="326.1" stroke="#a0a0a0" stroke-width="0.8"/><line x1="47.0" y1="211.6" x2="289.4" y2="224.9" stroke="#b4b4b4" stroke-width="0.6"/><line x1="289.4" y1="224.9" x2="366.4" y2="183.1" stroke="#b4b4b4" stroke-width="0.6"/><line x1="289.4" y1="224.9" x2="287.2" y2="226.1" stroke="#b4b4b4" stroke-width="0.6"/><line x1="249.0" y1="222.7" x2="246.8" y2="223.9" stroke="#b4b4b4" stroke-width="0.6"/><line x1="208.6" y1="220.5" x2="206.4" y2="221.7" stroke="#b4b4b4" stroke-width="0.6"/><line x1="168.2" y1="218.2" x2="166.0" y2="219.4" stroke="#b4b4b4" stroke-width="0.6"/><line x1="127.8" y1="216.0" x2="125.6" y2="217.2" stroke="#b4b4b4" stroke-width="0.6"/><line x1="87.4" y1="213.8" x2="85.2" y2="215.0" stroke="#b4b4b4" stroke-width="0.6"/><line x1="47.0" y1="211.6" x2="44.8" y2="212.8" stroke="#b4b4b4" stroke-width="0.6"/><line x1="289.4" y1="224.9" x2="285.4" y2="224.7" stroke="#b4b4b4" stroke-width="0.6"/><line x1="310.8" y1="213.3" x2="306.8" y2="213.1" stroke="#b4b4b4" stroke-width="0.6"/><line x1="332.2" y1="201.7" x2="328.2" y2="201.5" stroke="#b4b4b4" stroke-width="0.6"/><line x1="353.6" y1="190.1" x2="349.6" y2="189.9" stroke="#b4b4b4" stroke-width="0.6"/><line x1="50.1" y1="448.8" x2="196.9" y2="504.6" stroke="#b4b4b4" stroke-width="0.6"/><line x1="196.9" y1="504.6" x2="386.6" y2="462.5" stroke="#b4b4b4" stroke-width="0.6"/><line x1="196.9" y1="504.6" x2="192.4" y2="505.6" stroke="#b4b4b4" stroke-width="0.6"/><line x1="167.5" y1="493.4" x2="163.0" y2="494.4" stroke="#b4b4b4" stroke-width="0.6"/><line x1="138.2" y1="482.3" x2="133.7" y2="483.3" stroke="#b4b4b4" stroke-width="0.6"/><line x1="108.8" y1="471.1" x2="104.3" y2="472.1" stroke="#b4b4b4" stroke-width="0.6"/><line x1="79.5" y1="460.0" x2="75.0" y2="461.0" stroke="#b4b4b4" stroke-width="0.6"/><line x1="50.1" y1="448.8" x2="45.6" y2="449.8" stroke="#b4b4b4" stroke-width="0.6"/><line x1="196.9" y1="504.6" x2="192.5" y2="502.9" stroke="#b4b4b4" stroke-width="0.6"/><line x1="249.6" y1="492.9" x2="245.2" y2="491.2" stroke="#b4b4b4" stroke-width="0.6"/><line x1="302.3" y1="481.2" x2="297.9" y2="479.5" stroke="#b4b4b4" stroke-width="0.6"/><line x1="355.0" y1="469.5" x2="350.6" y2="467.8" stroke="#b4b4b4" stroke-width="0.6"/></g><g font-family="'Liberation Serif', serif" fill="#111" stroke="#111" stroke-width="0.2"><text x="37.5" y="215.1" text-anchor="end" font-size="10" font-weight="bold">0</text><text x="37.5" y="188.5" text-anchor="end" font-size="10" font-weight="bold">1000</text><text x="37.5" y="161.9" text-anchor="end" font-size="10" font-weight="bold">2000</text><text x="37.5" y="135.3" text-anchor="end" font-size="10" font-weight="bold">3000</text><text x="37.5" y="108.7" text-anchor="end" font-size="10" font-weight="bold">4000</text><text x="37.5" y="82.1" text-anchor="end" font-size="10" font-weight="bold">5000</text><text x="37.5" y="55.5" text-anchor="end" font-size="10" font-weight="bold">6000</text><text x="0.0" y="0.0" text-anchor="middle" font-size="11" font-weight="bold" transform="translate(14.0,132.3) rotate(-90)">Output Power (W)</text><text x="34.3" y="226.1" text-anchor="middle" font-size="10" font-weight="bold">24</text><text x="74.5" y="228.2" text-anchor="middle" font-size="10" font-weight="bold">20</text><text x="115.7" y="230.4" text-anchor="middle" font-size="10" font-weight="bold">16</text><text x="155.5" y="232.5" text-anchor="middle" font-size="10" font-weight="bold">12</text><text x="197.2" y="234.6" text-anchor="middle" font-size="10" font-weight="bold">8</text><text x="237.9" y="236.8" text-anchor="middle" font-size="10" font-weight="bold">4</text><text x="278.6" y="238.9" text-anchor="middle" font-size="10" font-weight="bold">0</text><text x="115.8" y="241.6" text-anchor="middle" font-size="11" font-weight="bold">Time Series</text><text x="298.0" y="235.7" text-anchor="start" font-size="10" font-weight="bold">0</text><text x="318.7" y="224.7" text-anchor="start" font-size="10" font-weight="bold">50</text><text x="340.7" y="213.0" text-anchor="start" font-size="10" font-weight="bold">100</text><text x="362.0" y="201.5" text-anchor="start" font-size="10" font-weight="bold">150</text><text x="334.8" y="221.8" text-anchor="start" font-size="11" font-weight="bold">Number</text><text x="334.8" y="235.8" text-anchor="start" font-size="11" font-weight="bold">of PV String</text><text x="247.1" y="263.6" text-anchor="middle" font-size="12" font-weight="normal" stroke-width="0.5">(a)</text><text x="43.4" y="451.2" text-anchor="end" font-size="10.5" font-weight="bold">0</text><text x="43.4" y="420.5" text-anchor="end" font-size="10.5" font-weight="bold">0.2</text><text x="43.4" y="389.8" text-anchor="end" font-size="10.5" font-weight="bold">0.4</text><text x="43.4" y="359.2" text-anchor="end" font-size="10.5" font-weight="bold">0.6</text><text x="43.4" y="328.5" text-anchor="end" font-size="10.5" font-weight="bold">0.8</text><text x="0.0" y="0.0" text-anchor="middle" font-size="11.7" font-weight="bold" transform="translate(13.9,390.7) rotate(-90)">Relative deviation</text><text x="0.0" y="0.0" text-anchor="middle" font-size="11.7" font-weight="bold" transform="translate(24.6,389.0) rotate(-90)">from theoretical output power</text><text x="37.3" y="462.0" text-anchor="middle" font-size="10.5" font-weight="bold">19</text><text x="67.1" y="473.9" text-anchor="middle" font-size="10.5" font-weight="bold">17</text><text x="96.6" y="485.7" text-anchor="middle" font-size="10.5" font-weight="bold">15</text><text x="125.5" y="496.6" text-anchor="middle" font-size="10.5" font-weight="bold">13</text><text x="154.0" y="507.1" text-anchor="middle" font-size="10.5" font-weight="bold">11</text><text x="186.2" y="518.3" text-anchor="middle" font-size="10.5" font-weight="bold">9</text><text x="79.7" y="500.0" text-anchor="middle" font-size="11.5" font-weight="bold">Time Series</text><text x="206.5" y="519.8" text-anchor="middle" font-size="10.5" font-weight="bold">0</text><text x="260.7" y="508.5" text-anchor="middle" font-size="10.5" font-weight="bold">50</text><text x="315.0" y="497.0" text-anchor="middle" font-size="10.5" font-weight="bold">100</text><text x="366.0" y="485.9" text-anchor="middle" font-size="10.5" font-weight="bold">150</text><text x="329.5" y="517.2" text-anchor="middle" font-size="11.6" font-weight="bold">Number of PV String</text><text x="247.1" y="542.8" text-anchor="middle" font-size="12" font-weight="normal" stroke-width="0.5">(b)</text></g></svg></body></html>
